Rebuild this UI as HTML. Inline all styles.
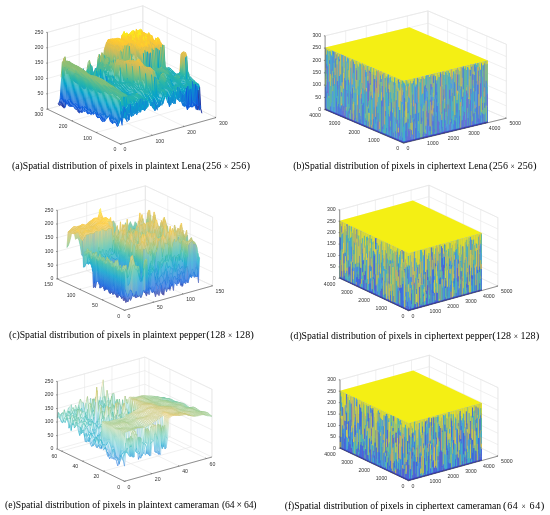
<!DOCTYPE html>
<html><head><meta charset="utf-8"><style>html,body{margin:0;padding:0;background:#fff;}svg{display:block}.ge path{fill:url(#gef);stroke:url(#ges);stroke-width:0.35;vector-effect:non-scaling-stroke;stroke-linejoin:round}.ge .ge0{fill:none;stroke:#4958b1}.ge .ge1{fill:none;stroke:#3374e2}.ge .ge2{fill:none;stroke:#3689de}.ge .ge3{fill:none;stroke:#339ed9}.ge .ge4{fill:none;stroke:#2bb2d2}.ge .ge5{fill:none;stroke:#42bcbc}.ge .ge6{fill:none;stroke:#67c4a5}.ge .ge7{fill:none;stroke:#99c98b}.ge .ge8{fill:none;stroke:#c3c67a}.ge .ge9{fill:none;stroke:#e5c967}.ge .ge10{fill:none;stroke:#fed051}.ge .ge11{fill:none;stroke:#fbed3c}.ga path{fill:url(#gaf);stroke:none;vector-effect:non-scaling-stroke;stroke-linejoin:round}.ga .ga0{fill:none;stroke:#283ba4}.ga .ga1{fill:none;stroke:#0f5cdd}.ga .ga2{fill:none;stroke:#1275d8}.ga .ga3{fill:none;stroke:#0f8dd2}.ga .ga4{fill:none;stroke:#06a4ca}.ga .ga5{fill:none;stroke:#21b1b1}.ga .ga6{fill:none;stroke:#4cba95}.ga .ga7{fill:none;stroke:#87bf77}.ga .ga8{fill:none;stroke:#b8bc63}.ga .ga9{fill:none;stroke:#e0bf4c}.ga .ga10{fill:none;stroke:#fec832}.ga .ga11{fill:none;stroke:#fbea1a}.gc path{fill:url(#gcf);stroke:url(#gcs);stroke-width:0.4;vector-effect:non-scaling-stroke;stroke-linejoin:round}.gc .gc0{fill:none;stroke:#6976bf}.gc .gc1{fill:none;stroke:#578de7}.gc .gc2{fill:none;stroke:#599ee4}.gc .gc3{fill:none;stroke:#57afe0}.gc .gc4{fill:none;stroke:#51bfda}.gc .gc5{fill:none;stroke:#63c8c8}.gc .gc6{fill:none;stroke:#81ceb5}.gc .gc7{fill:none;stroke:#abd2a0}.gc .gc8{fill:none;stroke:#ced092}.gc .gc9{fill:none;stroke:#e9d282}.gc .gc10{fill:none;stroke:#fed870}.gc .gc11{fill:none;stroke:#fcf05f}</style></head>
<body><svg width="550" height="515" viewBox="0 0 550 515"><defs><filter id="sblur" x="-5%" y="-5%" width="110%" height="110%"><feGaussianBlur stdDeviation="0.45"/></filter><linearGradient id="gef" gradientUnits="userSpaceOnUse" x1="0" y1="5" x2="0" y2="250"><stop offset="0%" stop-color="#e7e5f1"/><stop offset="12.5%" stop-color="#e2ebfb"/><stop offset="25%" stop-color="#e3f0fa"/><stop offset="37.5%" stop-color="#e1f4f9"/><stop offset="50%" stop-color="#e6f6f4"/><stop offset="62.5%" stop-color="#f1f7ef"/><stop offset="75%" stop-color="#f9f7eb"/><stop offset="87.5%" stop-color="#fff8e6"/><stop offset="100%" stop-color="#feffe2"/></linearGradient><linearGradient id="ges" gradientUnits="userSpaceOnUse" x1="0" y1="5" x2="0" y2="250"><stop offset="0%" stop-color="#534a99"/><stop offset="12.5%" stop-color="#3374e2"/><stop offset="25%" stop-color="#3794dc"/><stop offset="37.5%" stop-color="#2bb2d2"/><stop offset="50%" stop-color="#4dc2b2"/><stop offset="62.5%" stop-color="#99c98b"/><stop offset="75%" stop-color="#d8c572"/><stop offset="87.5%" stop-color="#fed051"/><stop offset="100%" stop-color="#fafc32"/></linearGradient><linearGradient id="gaf" gradientUnits="userSpaceOnUse" x1="0" y1="25" x2="0" y2="245"><stop offset="0%" stop-color="#352a87"/><stop offset="12.5%" stop-color="#0f5cdd"/><stop offset="25%" stop-color="#1481d6"/><stop offset="37.5%" stop-color="#06a4ca"/><stop offset="50%" stop-color="#2eb7a4"/><stop offset="62.5%" stop-color="#87bf77"/><stop offset="75%" stop-color="#d1bb59"/><stop offset="87.5%" stop-color="#fec832"/><stop offset="100%" stop-color="#f9fb0e"/></linearGradient><linearGradient id="gas" gradientUnits="userSpaceOnUse" x1="0" y1="25" x2="0" y2="245"><stop offset="0%" stop-color="#352a87"/><stop offset="12.5%" stop-color="#0f5cdd"/><stop offset="25%" stop-color="#1481d6"/><stop offset="37.5%" stop-color="#06a4ca"/><stop offset="50%" stop-color="#2eb7a4"/><stop offset="62.5%" stop-color="#87bf77"/><stop offset="75%" stop-color="#d1bb59"/><stop offset="87.5%" stop-color="#fec832"/><stop offset="100%" stop-color="#f9fb0e"/></linearGradient><linearGradient id="gcf" gradientUnits="userSpaceOnUse" x1="0" y1="15" x2="0" y2="245"><stop offset="0%" stop-color="#726aab"/><stop offset="12.5%" stop-color="#578de7"/><stop offset="25%" stop-color="#5aa7e2"/><stop offset="37.5%" stop-color="#51bfda"/><stop offset="50%" stop-color="#6dcdbf"/><stop offset="62.5%" stop-color="#abd2a0"/><stop offset="75%" stop-color="#dfcf8b"/><stop offset="87.5%" stop-color="#fed870"/><stop offset="100%" stop-color="#fbfc56"/></linearGradient><linearGradient id="gcs" gradientUnits="userSpaceOnUse" x1="0" y1="15" x2="0" y2="245"><stop offset="0%" stop-color="#352a87"/><stop offset="12.5%" stop-color="#0f5cdd"/><stop offset="25%" stop-color="#1481d6"/><stop offset="37.5%" stop-color="#06a4ca"/><stop offset="50%" stop-color="#2eb7a4"/><stop offset="62.5%" stop-color="#87bf77"/><stop offset="75%" stop-color="#d1bb59"/><stop offset="87.5%" stop-color="#fec832"/><stop offset="100%" stop-color="#f9fb0e"/></linearGradient></defs>
<rect width="550" height="515" fill="#fff"/>
<path d="M57.3 449.1L57.3 381.4M84.6 441.5L84.6 373.8M112 433.9L112 366.2M139.3 426.3L139.3 358.6M57.3 449.1L144.8 424.8M212 457L144.8 424.8M57.3 435.6L144.8 411.3M212 443.5L144.8 411.3M57.3 422L144.8 397.7M212 429.9L144.8 397.7M57.3 408.5L144.8 384.2M212 416.4L144.8 384.2M57.3 394.9L144.8 370.6M212 402.8L144.8 370.6M57.3 381.4L144.8 357.1M212 389.3L144.8 357.1M212 457L212 389.3M191 446.9L191 379.2M170 436.9L170 369.2M149 426.8L149 359.1M124.5 481.3L57.3 449.1M151.8 473.7L84.6 441.5M179.2 466.1L112 433.9M206.5 458.5L139.3 426.3M124.5 481.3L212 457M103.5 471.2L191 446.9M82.5 461.2L170 436.9M61.5 451.1L149 426.8M144.8 424.8L144.8 357.1M57.3 381.4L144.8 357.1M212 389.3L144.8 357.1M212 457L212 389.3" stroke="#e6e6e6" stroke-width="0.6" fill="none"/>
<g class="ge">
<g transform="matrix(0.3500 -0.0972 0 -0.2708 58.37 449.61)"><path d="M-3 119l4 1 4-3 4 13 4 3 4-11 4-7 4 18 4 11 4 2 4 7 4-51 4 21 4 24 4-15 3 4 4 21 4-45 4-35 4 2 4 48 4-6 4-18 4 16 4 38 4-40 4-14 4 19 4 26 4-42 4 34 4 11 4 37 4 24 4-73 4-43 4-2 4 7 4-64 4-6 4 16 4 26 4 10 4 4 4-6 4-18 3 8 4 17 4 11 4 10 4-27 4-6 4 11 4 3 4 6 4-9 4-17 4-29 4-3 4 11 4 12 4-3 4-1 4 4 3-34-4 16-4 29-4 16-4-32-4-13-4 7-4 19-4 7-4 2-4-13-4 6-4 9-4 10-4 3-4-8-3-5-4-21-4-18-4 8-4 22-4 9-4-11-4-16-4-1-4 0-4 62-4-12-4 18-4 6-4 22-4-1-4-42-4 17-4 1-4 27-4 6-4-16-4 10-4-61-4 15-4-3-4 8-4 12-4 1-4 26-4 1-4 15-3-21-4-42-4 28-4 3-4-13-4 4-4-4-4-1-4 14-4-8-4-7-4 9-4 3-4-21-4 20-4 9Z"/><path class="ge1" d="M176 63l3-22M227 38l3 5M243 57l3-14M247 61l3-34"/><path class="ge2" d="M148 37l3 15M152 31l3 21M156 47l3 6M172 81l3-32M179 71l4-12M207 90l3-25M223 41l3 9M231 49l3 7"/><path class="ge3" d="M160 73l3-4M164 83l3-3M168 87l3-16M183 88l4-8M187 99l3-14M199 76l3 4M203 87l3-16M211 96l3-18M215 87l3-11M219 70l3-1M239 58l3 14"/><path class="ge4" d="M53 132l3-31M84 103l3-2M88 119l3-15M92 157l3-68M120 151l3-46M140 94l3 8M191 109l3-16M195 82l3 8M235 61l3 27"/><path class="ge5" d="M5 117l3-9M13 133l3-7M17 122l3-5M21 115l3 9M29 144l3-26M33 146l3-27M37 153l3-30M41 102l3 17M72 79l3 43M76 127l3-6M80 121l3-12M112 106l3 17M116 140l3-18M132 139l3-13M136 96l3 24M144 101l3 13"/><path class="ge6" d="M-3 119l3 18M1 120l3 8M9 130l3-1M25 133l3-1M45 123l3 9M49 147l3-18M56 136l4 7M100 103l3 37M124 188l3-41M128 212l3-64"/><path class="ge7" d="M60 157l3 7M64 112l3 37M68 77l3 71M96 117l3 33M104 122l3 34M108 148l3 2"/></g>
<g transform="matrix(0.3500 -0.0972 0 -0.2708 59.43 450.12)"><path d="M-3 140l4-9 4-20 4 21 4-3 4-9 4 7 4 8 4-14 4 1 4 4 4-4 4 13 4-3 4-28 3 42 4 21 4-15 4-1 4-26 4-1 4-12 4-8 4 3 4-15 4 61 4-10 4 16 4-6 4-27 4-1 4-18 4 43 4 1 4-22 4-6 4-18 4 12 4-62 4 0 4 1 4 16 4 11 4-9 4-22 4-8 3 18 4 21 4 5 4 8 4-3 4-10 4-9 4-6 4 13 4-2 4-7 4-19 4-7 4 13 4 32 4-16 4-29 4-16 3 1-4 11-4 29-4 26-4-28-4-20-4-1-4 14-4 7-4 7-4-14-4-11-4 21-4 24-4-14-4-17-3-5-4-13-4-16-4 2-4 27-4 18-4-4-4 3-4 5-4-7-4 12-4 15-4 26-4-24-4 14-4-1-4-26-4 19-4 32-4-26-4 5-4 17-4 16-4-42-4 7-4 19-4-2-4 2-4-34-4-17-4 21-4 24-3-12-4-6-4 18-4-7-4 7-4-5-4-8-4-9-4 23-4-25-4 4-4 19-4 0-4-6-4 4-4-12Z"/><path class="ge1" d="M172 52l3-19M176 44l3-13M243 46l3-4M247 30l3 1"/><path class="ge2" d="M168 74l3-14M179 62l4-15M183 83l4-23M187 88l3-23M203 74l3-23M207 68l3-6M219 72l3-10M223 53l3-5M227 46l3 3"/><path class="ge3" d="M68 151l3-64M148 55l3 20M152 55l3 27M156 56l3 21M160 72l3 2M164 83l3-5M191 96l3-14M199 83l3-11M211 81l3-5M215 79l3-10M231 59l3 10M239 75l3-4"/><path class="ge4" d="M72 125l3-21M120 107l3-16M132 129l3-25M140 105l3-3M144 117l3-30M195 93l3 3M235 91l3 6"/><path class="ge5" d="M-3 140l3-23M5 111l3 14M17 120l3-8M21 127l3-19M29 121l3-11M33 122l3-3M37 126l3 1M45 135l3-10M53 104l3 10M56 146l4-26M64 152l3-44M88 107l3 12M92 92l3 20M104 159l3-38M108 153l3-37M116 125l3-15M124 150l3-33M128 151l3-33"/><path class="ge6" d="M1 131l3-2M9 132l3-1M13 129l3 2M25 135l3-2M41 122l3 10M49 132l3 0M60 167l3-35M76 124l3 14M80 112l3 24M84 104l3 34M100 143l3-5M112 126l3 16M136 123l3 5"/><path class="ge7" d="M96 153l3 1"/></g>
<g transform="matrix(0.3500 -0.0972 0 -0.2708 60.50 450.63)"><path d="M-3 120l4 12 4-4 4 6 4 0 4-19 4-4 4 25 4-23 4 9 4 8 4 5 4-7 4 7 4-18 3 6 4 12 4-24 4-21 4 17 4 34 4-2 4 2 4-19 4-7 4 42 4-16 4-17 4-5 4 26 4-32 4-19 4 26 4 1 4-14 4 24 4-26 4-15 4-13 4 8 4-5 4-3 4 4 4-19 4-26 4-2 3 16 4 13 4 5 4 17 4 14 4-24 4-21 4 11 4 14 4-7 4-7 4-14 4 1 4 20 4 28 4-26 4-29 4-11 3 18-4 2-4 4-4 18-4-1-4-14-4-3-4 4-4 3-4 14-4-8-4-31-4 21-4 17-4-9-4-16-3-11-4 8-4 5-4 2-4 2-4 13-4 8-4 10-4-8-4-17-4 29-4-1-4 31-4-21-4 15-4 37-4-33-4 3-4-24-4-38-4 47-4-1-4-11-4 28-4 10-4-34-4-3-4 26-4-1-4-28-4-3-4 3-3-5-4 31-4 19-4-14-4 5-4-14-4 28-4-7-4-15-4-15-4 8-4 8-4 3-4 5-4 4-4-22Z"/><path class="ge1" d="M183 63l4-21M203 54l3-14"/><path class="ge2" d="M108 119l3-56M148 77l3-12M168 62l3-3M172 36l3 21M176 34l3 21M179 50l4 0M187 68l3-15M199 75l3-14M215 72l3-7M219 65l3-3M223 51l3 7M227 52l3 9M239 74l3-16M243 45l3 9M247 34l3 18"/><path class="ge3" d="M152 85l3-3M160 77l3 3M164 81l3-9M191 85l3-16M195 99l3-21M207 65l3 6M211 79l3 0M231 72l3 3M235 100l3-24"/><path class="ge4" d="M56 123l4-32M60 135l3-39M64 111l3-18M68 90l3 6M80 139l3-40M84 141l3-39M96 157l3-59M112 145l3-44M132 107l3-4M140 105l3-12M144 90l3 4M156 80l3 10"/><path class="ge5" d="M-3 120l3-5M13 134l3-9M17 115l3 2M21 111l3-2M25 136l3-12M37 130l3-12M45 128l3-1M53 117l3 5M72 107l3 17M76 141l3-16M92 115l3 11M100 141l3-32M104 124l3-14M116 113l3 12M120 94l3 28M128 121l3-3M136 131l3-7"/><path class="ge6" d="M1 132l3 5M5 128l3 5M9 134l3-6M29 113l3 26M33 122l3 24M41 135l3-3M49 135l3 6M88 122l3 14"/><path class="ge7" d="M124 120l3 35"/></g>
<g transform="matrix(0.3500 -0.0972 0 -0.2708 61.57 451.14)"><path d="M-3 118l4 22 4-4 4-5 4-3 4-8 4-8 4 15 4 15 4 7 4-28 4 14 4-5 4 14 4-19 3-31 4 5 4-3 4 3 4 28 4 1 4-26 4 3 4 34 4-10 4-28 4 11 4 1 4-47 4 38 4 24 4-3 4 33 4-37 4-15 4 21 4-31 4 1 4-29 4 17 4 8 4-10 4-8 4-13 4-2 4-2 3-5 4-8 4 11 4 16 4 9 4-17 4-21 4 31 4 8 4-14 4-3 4-4 4 3 4 14 4 1 4-18 4-4 4-2 3-7-4 17-4-12-4 0-4 25-4-3-4-5-4-12-4-7-4 6-4 0-4-21-4 10-4 3-4 11-4 3-3 3-4 5-4-2-4 7-4-6-4-2-4 8-4 6-4-17-4-10-4 57-4 38-4-22-4-20-4 1-4-1-4 6-4 8-4 24-4-48-4 13-4 27-4-33-4-27-4 34-4 13-4 12-4-23-4 28-4 9-4-36-4-2-3-19-4-2-4 44-4-1-4 1-4-24-4 24-4 0-4-11-4 1-4 13-4-19-4 8-4 22-4-27-4-16Z"/><path class="ge1" d="M199 64l3-18M203 43l3-7"/><path class="ge2" d="M148 68l3-13M152 85l3-20M183 45l4 21M187 56l3 7M191 72l3-12M195 81l3-32M207 74l3-17M211 82l3-25M215 68l3-17M219 65l3-7M235 79l3-26M239 61l3-8M243 57l3 8M247 55l3-7"/><path class="ge3" d="M92 129l3-51M156 93l3-11M160 83l3-7M164 75l3-7M168 62l3 8M172 60l3 16M176 58l3 11M179 53l4 18M223 61l3 9M227 64l3 11M231 78l3 0"/><path class="ge4" d="M-3 118l3-11M53 125l3-33M56 94l4 0M96 101l3 4M108 66l3 32"/><path class="ge5" d="M1 140l3-17M13 128l3-8M21 112l3 14M25 127l3-2M37 121l3-9M60 99l3 14M64 96l3 19M76 128l3-14M84 105l3 20M88 139l3-27M104 113l3-2M116 128l3-6M120 125l3-11M124 158l3-50M128 121l3-12M132 106l3 2M144 97l3 15"/><path class="ge6" d="M9 131l3-3M17 120l3 19M29 142l3-6M33 149l3-13M41 135l3 1M45 130l3 5M49 144l3-8M72 127l3 15M80 102l3 35M100 112l3 26M112 104l3 42M136 127l3 1"/><path class="ge7" d="M5 136l3 14M68 99l3 52M140 96l3 54"/></g>
<g transform="matrix(0.3500 -0.0972 0 -0.2708 62.63 451.66)"><path d="M-3 110l4 16 4 27 4-22 4-8 4 18 4-12 4-1 4 11 4 0 4-24 4 24 4-1 4 1 4-44 3 2 4 19 4 1 4 37 4-9 4-28 4 23 4-12 4-13 4-34 4 27 4 33 4-27 4-13 4 48 4-24 4-8 4-6 4 1 4-1 4 20 4 22 4-38 4-57 4 10 4 17 4-6 4-8 4 2 4 6 4-7 3 2 4-5 4-3 4-3 4-11 4-3 4-10 4 21 4 0 4-6 4 7 4 12 4 5 4 3 4-25 4 0 4 12 4-17 3 12-4 1-4-4-4 15-4 19-4-9-4-4-4-14-4-6-4-2-4 1-4-6-4 6-4 0-4 2-4-6-3 14-4 8-4-10-4 14-4 5-4-10-4-9-4 8-4-2-4-5-4 55-4 17-4-22-4-15-4 48-4 29-4-53-4-26-4 1-4-29-4-8-4 22-4 13-4-9-4 25-4 9-4 0-4-36-4 11-4 77-4-22-4-30-3-31-4-3-4 22-4 3-4 5-4 6-4-2-4-1-4 9-4-8-4-14-4 6-4 4-4-2-4-5-4-8Z"/><path class="ge2" d="M104 114l3-48M187 66l3-10M191 63l3-1M195 52l3 8M199 49l3 11M203 39l3 15M207 60l3 0M211 60l3-1M215 54l3 7M239 56l3 4M243 68l3-4M247 51l3 12"/><path class="ge3" d="M108 101l3-27M148 58l3 11M152 68l3 6M156 85l3-9M160 79l3-11M164 71l3 6M172 79l3 3M176 72l3-4M179 74l4 4M183 69l4 1M219 61l3 6M223 73l3 8M227 78l3 7M235 56l3 19"/><path class="ge4" d="M-3 110l3-3M53 95l3-3M56 97l4-2M72 145l3-44M76 117l3-27M92 81l3 11M96 108l3-7M100 141l3-53M112 149l3-46M116 125l3-23M132 111l3-7M168 73l3 14M231 81l3 13"/><path class="ge5" d="M1 126l3-11M5 153l3-33M9 131l3-9M13 123l3-5M17 141l3-29M21 129l3-3M29 139l3-14M33 139l3-13M41 139l3-17M45 138l3-21M49 139l3-25M60 116l3 10M80 140l3-14M84 128l3-2M88 115l3 2M136 131l3-12M144 115l3 9"/><path class="ge6" d="M25 128l3 6M37 115l3 13M120 117l3 11M140 153l3-12"/><path class="ge7" d="M64 117l3 39M128 112l3 40"/><path class="ge8" d="M68 154l3 24M124 111l3 70"/></g>
<g transform="matrix(0.3500 -0.0972 0 -0.2708 63.70 452.17)"><path d="M-3 110l4 8 4 5 4 2 4-4 4-6 4 14 4 8 4-9 4 1 4 2 4-6 4-5 4-3 4-22 3 3 4 31 4 30 4 22 4-77 4-11 4 36 4 0 4-9 4-25 4 9 4-13 4-22 4 8 4 29 4-1 4 26 4 53 4-29 4-48 4 15 4 22 4-17 4-55 4 5 4 2 4-8 4 9 4 10 4-5 4-14 3 10 4-8 4-14 4 6 4-2 4 0 4-6 4 6 4-1 4 2 4 6 4 14 4 4 4 9 4-19 4-15 4 4 4-1 3 19-4-16-4 11-4 15-4-5-4-10-4-11-4 2-4 1-4 10-4 2-4-10-4 3-4 9-4-17-4-26-3 16-4 20-4 1-4 8-4-9-4-14-4-14-4 9-4 11-4-2-4 62-4 35-4 0-4-47-4 8-4 18-4-23-4-11-4 17-4-34-4-8-4 35-4-30-4 93-4-42-4-26-4 50-4-68-4 8-4 30-4-11-4-3-3-27-4-6-4 15-4 18-4 6-4-5-4-3-4-6-4 13-4-4-4-20-4 9-4 21-4-12-4-13-4 12Z"/><path class="ge1" d="M187 59l3-16"/><path class="ge2" d="M156 79l3-19M160 71l3-20M164 80l3-15M183 73l4-14"/><path class="ge3" d="M104 69l3 17M148 72l3-3M152 77l3-6M168 90l3-11M176 71l3 9M179 81l4-2M191 65l3 4M195 63l3 23M199 63l3 14M203 57l3 17M207 63l3 21M211 62l3 20M215 64l3 8M219 70l3 1M223 84l3-15M227 88l3-8M239 63l3 17M243 67l3 2M247 66l3 19"/><path class="ge4" d="M17 115l3-12M49 117l3-13M53 95l3-6M56 98l4-3M72 104l3 2M76 93l3 5M96 104l3-13M108 77l3 17M172 85l3 3M231 97l3-7M235 78l3 17"/><path class="ge5" d="M-3 110l3 10M1 118l3-10M5 123l3-2M13 121l3-9M21 129l3-6M25 137l3-10M29 128l3-14M33 129l3-9M37 131l3-8M45 120l3 2M60 129l3-7M64 159l3-34M84 129l3-13M100 91l3 30M116 105l3 6M120 131l3-9M128 155l3-28M132 107l3 12"/><path class="ge6" d="M9 125l3 8M41 125l3 3M68 181l3-45M88 120l3 22M112 106l3 22M124 184l3-39M144 127l3 4"/><path class="ge7" d="M80 129l3 37M136 122l3 44M140 144l3 22"/><path class="ge8" d="M92 95l3 89"/></g>
<g transform="matrix(0.3500 -0.0972 0 -0.2708 64.77 452.68)"><path d="M-3 123l4-12 4 13 4 12 4-21 4-9 4 20 4 4 4-13 4 6 4 3 4 5 4-6 4-18 4-15 3 6 4 27 4 3 4 11 4-30 4-8 4 68 4-50 4 26 4 42 4-93 4 30 4-35 4 8 4 34 4-17 4 11 4 23 4-18 4-8 4 47 4 0 4-35 4-62 4 2 4-11 4-9 4 14 4 14 4 9 4-8 3-1 4-20 4-16 4 25 4 18 4-9 4-3 4 10 4-2 4-10 4-1 4-2 4 11 4 10 4 5 4-15 4-11 4 16 3-3-4-13-4 14-4 13-4-22-4-12-4-15-4 2-4 9-4 19-4 11-4 4-4-10-4 0-4-19-4-19-3 18-4 22-4 6-4 0-4-28-4-21-4-10-4 9-4 17-4 12-4 65-4-21-4 4-4-30-4 2-4-13-4 16-4-7-4 25-4-40-4 25-4 21-4 2-4 9-4 19-4-47-4 26-4-10-4 36-4-14-4-42-4 11-3-31-4 6-4 39-4 7-4 6-4-16-4 12-4-14-4-6-4 11-4 4-4 5-4-1-4 5-4-16-4 9Z"/><path class="ge1" d="M156 63l3-20M160 54l3-20M164 68l3-24"/><path class="ge2" d="M152 74l3-14M168 82l3-17M183 62l4 3M187 46l3 1M191 71l3-5M215 75l3-14M219 74l3-22M223 72l3-22M227 83l3-18"/><path class="ge3" d="M53 92l3-8M56 98l4-20M108 97l3-24M124 148l3-69M148 72l3 0M195 89l3-4M199 80l3 5M211 85l3-5M231 93l3-16M239 83l3 3M243 72l3 0M247 88l3-3"/><path class="ge4" d="M64 128l3-30M84 119l3-17M104 89l3 9M116 114l3-26M120 125l3-30M128 130l3-38M132 122l3-32M172 91l3 2M176 83l3 10M179 82l4 5M203 77l3 18M207 87l3 4M235 98l3 1"/><path class="ge5" d="M1 111l3 9M17 106l3 21M21 126l3-3M25 130l3-18M29 117l3 1M37 126l3-6M49 107l3 16M60 125l3-16M76 101l3 17M96 94l3 27M100 124l3-5M112 131l3-18M136 169l3-49M140 169l3-53"/><path class="ge6" d="M-3 123l3 6M5 124l3 12M9 136l3-5M13 115l3 17M33 123l3 9M41 131l3 5M45 125l3 5M68 139l3 1M80 169l3-41M92 187l3-57M144 134l3 3"/><path class="ge7" d="M72 109l3 45M88 145l3 4"/></g>
<g transform="matrix(0.3500 -0.0972 0 -0.2708 65.83 453.19)"><path d="M-3 132l4-9 4 16 4-5 4 1 4-5 4-4 4-11 4 6 4 14 4-12 4 16 4-6 4-7 4-39 3-6 4 31 4-11 4 42 4 14 4-36 4 10 4-26 4 47 4-19 4-9 4-2 4-21 4-25 4 40 4-25 4 7 4-16 4 13 4-2 4 30 4-4 4 21 4-65 4-12 4-17 4-9 4 10 4 21 4 28 4 0 3-6 4-22 4-18 4 19 4 19 4 0 4 10 4-4 4-11 4-19 4-9 4-2 4 15 4 12 4 22 4-13 4-14 4 13 3-36-4 9-4 16-4 13-4-21-4-10-4-5-4 2-4 5-4 15-4 8-4 2-4-17-4-5-4-3-4-7-3 8-4 14-4 3-4 2-4-30-4-25-4-2-4 15-4 19-4 13-4 74-4-14-4-8-4-18-4 58-4-39-4-1-4-7-4 18-4-12-4 2-4-45-4 48-4-25-4-32-4-2-4 37-4 19-4 16-4 9-4-40-4 29-3-33-4-21-4 47-4-3-4-3-4 16-4 7-4-18-4 2-4-9-4-1-4-16-4 24-4 8-4-4-4 3Z"/><path class="ge0" d="M160 37l3-13"/><path class="ge1" d="M156 46l3-7M164 47l3-21"/><path class="ge2" d="M152 63l3-5M168 68l3-17M183 68l4-6M187 50l3 4M191 69l3-8M195 88l3-24M215 64l3-3M219 55l3 1M223 53l3 1M227 68l3-9M243 75l3-14M247 88l3-36"/><path class="ge3" d="M53 87l3-3M84 105l3-37M88 152l3-82M100 122l3-43M148 75l3-4M172 96l3-15M176 96l3-17M179 90l4-14M199 88l3-19M203 98l3-12M207 94l3-10M211 83l3-7M231 80l3-11M239 89l3-12"/><path class="ge4" d="M13 135l3-29M56 81l4 24M80 131l3-26M92 133l3-31M132 93l3 12M235 102l3-12"/><path class="ge5" d="M17 130l3-8M21 126l3-3M41 139l3-14M64 101l3 8M76 121l3 3M96 124l3 3M104 101l3 23M108 76l3 46M116 91l3 25M120 98l3 25M124 82l3 42M136 123l3 0"/><path class="ge6" d="M-3 132l3 5M1 123l3 11M5 139l3-1M9 134l3-4M25 115l3 17M29 121l3 9M33 135l3 13M37 123l3 18M45 133l3-5M49 126l3 5M60 112l3 26M72 157l3-17M112 116l3 18M140 119l3 12M144 140l3 5"/><path class="ge7" d="M68 143l3 6M128 95l3 68"/></g>
<g transform="matrix(0.3500 -0.0972 0 -0.2708 66.90 453.70)"><path d="M-3 140l4-3 4 4 4-8 4-24 4 15 4 2 4 9 4-2 4 18 4-7 4-16 4 3 4 3 4-47 3 21 4 33 4-29 4 40 4-9 4-16 4-19 4-37 4 2 4 32 4 25 4-48 4 45 4-2 4 12 4-18 4 7 4 1 4 39 4-58 4 18 4 8 4 14 4-74 4-13 4-19 4-15 4 2 4 25 4 30 4-2 3-3 4-14 4-8 4 7 4 3 4 5 4 17 4-2 4-8 4-15 4-5 4-2 4 5 4 10 4 21 4-13 4-16 4-9 3-28-4 4-4 14-4 13-4-11-4 3-4 11-4-4-4 3-4 8-4 4-4-10-4-6-4-3-4 3-4 6-3-4-4 2-4 4-4 1-4-16-4-8-4 0-4 5-4 8-4 10-4 57-4 15-4-44-4 14-4 28-4-42-4-3-4 60-4 5-4-40-4 33-4-51-4 1-4 10-4-6-4-43-4 34-4 9-4 13-4 10-4-6-4 29-3-38-4 6-4 16-4 3-4-6-4 19-4-8-4-27-4 21-4-5-4-11-4-9-4 14-4 5-4-12-4 19Z"/><path class="ge1" d="M156 42l3 4M160 27l3 14M164 29l3 12M239 80l3-35M243 64l3-33M247 55l3-28"/><path class="ge2" d="M84 71l3-13M148 74l3-10M152 61l3-7M168 54l3-5M172 84l3-19M176 82l3-18M179 79l4-19M183 65l4-7M187 57l3 5M191 64l3-8M195 67l3-14M199 72l3-16M203 89l3-27M215 64l3-4M219 59l3-2M223 57l3 4M227 62l3-12M231 72l3-25M235 93l3-35"/><path class="ge3" d="M207 87l3-15M211 79l3-11"/><path class="ge4" d="M76 127l3-26M80 108l3-16M88 73l3 28M92 105l3 2M96 130l3-33M100 82l3 14M120 126l3-37M124 127l3-35M132 108l3-2M136 126l3-34"/><path class="ge5" d="M1 137l3-22M5 141l3-14M9 133l3-11M13 109l3-1M17 124l3-7M29 133l3-21M53 87l3 28M56 108l4 1M64 112l3 6M68 152l3-28M72 143l3-29M108 125l3-11M144 148l3-27"/><path class="ge6" d="M-3 140l3-6M21 126l3 2M25 135l3-2M33 151l3-12M37 144l3 3M41 128l3 0M45 131l3 3M49 134l3-3M60 141l3 6M104 127l3 20M128 166l3-32M140 134l3 2"/><path class="ge7" d="M112 137l3 17M116 119l3 30"/></g>
<g transform="matrix(0.3500 -0.0972 0 -0.2708 67.97 454.21)"><path d="M-3 137l4-19 4 12 4-5 4-14 4 9 4 11 4 5 4-21 4 27 4 8 4-19 4 6 4-3 4-16 3-6 4 38 4-29 4 6 4-10 4-13 4-9 4-34 4 43 4 6 4-10 4-1 4 51 4-33 4 40 4-5 4-60 4 2 4 43 4-28 4-14 4 44 4-15 4-57 4-11 4-7 4-5 4 0 4 8 4 16 4-1 3-4 4-2 4 4 4-6 4-3 4 2 4 7 4 10 4-4 4-8 4-3 4 4 4-11 4-3 4 11 4-14 4-13 4-4 3-4-4 5-4 6-4 6-4 6-4 11-4 7-4-3-4 3-4-2-4-8-4-7-4 5-4 11-4 0-4 13-3-19-4-14-4 8-4 15-4 3-4-5-4-12-4-7-4 7-4 11-4 85-4-32-4-26-4 15-4-4-4-8-4-11-4 31-4 27-4-39-4-5-4 9-4 5-4 33-4-20-4-17-4-4-4 57-4-31-4 1-4-12-4 47-3-5-4-75-4 18-4 35-4 3-4-7-4-8-4-29-4 17-4 16-4-23-4 19-4-22-4 17-4 9-4-4Z"/><path class="ge1" d="M235 61l3-18M239 47l3-10M243 34l3-3M247 30l3-4"/><path class="ge2" d="M148 67l3-1M152 56l3-1M156 49l3-1M160 44l3 11M176 67l3-13M179 63l4-17M183 61l4-1M191 59l3 7M195 56l3 10M199 58l3-3M203 65l3-15M207 75l3-18M211 71l3-6M219 60l3 4M227 53l3 7M231 50l3-1"/><path class="ge3" d="M120 92l3-7M164 44l3 23M168 52l3 20M172 68l3 1M187 65l3 14M215 63l3 4M223 64l3 3"/><path class="ge4" d="M9 125l3-19M29 115l3-16M49 134l3-29M53 118l3-31M80 95l3 10M104 150l3-51M108 117l3-13M124 94l3 2M128 137l3-33M136 95l3-2"/><path class="ge5" d="M5 130l3-7M17 120l3-11M25 136l3-20M64 121l3-1M84 61l3 48M88 104l3 22M96 100l3 13M100 99l3 9M116 152l3-36M132 109l3-1M140 139l3-20"/><path class="ge6" d="M-3 137l3-9M1 118l3 14M13 111l3 17M21 131l3 1M33 142l3-14M37 150l3-14M41 131l3 12M45 137l3 3M68 127l3 5M72 117l3 14M92 110l3 36M112 157l3-14"/><path class="ge7" d="M56 112l4 50M60 150l3 17M76 104l3 58M144 124l3 27"/></g>
<g transform="matrix(0.3500 -0.0972 0 -0.2708 69.03 454.72)"><path d="M-3 131l4 4 4-9 4-17 4 22 4-19 4 23 4-16 4-17 4 29 4 8 4 7 4-3 4-35 4-18 3 75 4 5 4-47 4 11 4 0 4 31 4-57 4 4 4 17 4 20 4-33 4-5 4-9 4 5 4 39 4-27 4-31 4 11 4 8 4 4 4-15 4 26 4 32 4-85 4-11 4-8 4 8 4 12 4 5 4-3 4-15 3-8 4 14 4 19 4-13 4 0 4-11 4-5 4 7 4 8 4 2 4-3 4 3 4-7 4-11 4-6 4-6 4-6 4-5 3 30-4 4-4-2-4-5-4 5-4 4-4-1-4 4-4 2-4-4-4-9-4 2-4 3-4 1-4 6-4 12-3-32-4-16-4 21-4 19-4 9-4-10-4-21-4-5-4 13-4 8-4 63-4-9-4-24-4 13-4-4-4-5-4-27-4 36-4 29-4-12-4-41-4 15-4 32-4 11-4-14-4-8-4 11-4 88-4-115-4 1-4-11-4 61-3-26-4-67-4 37-4 11-4 13-4-6-4-1-4-18-4 29-4 14-4-26-4-6-4-6-4 14-4 11-4-32Z"/><path class="ge1" d="M179 49l4-16"/><path class="ge2" d="M53 90l3-26M152 58l3 1M156 50l3-4M160 58l3-7M176 57l3-3M183 63l4-14M195 69l3-6M199 58l3 4M203 53l3 6M207 60l3-3M211 68l3-2M223 70l3-6M227 63l3 2M231 52l3 9M235 46l3 10M239 40l3 21M243 34l3 29M247 29l3 30"/><path class="ge3" d="M104 102l3-16M120 88l3-14M148 69l3-2M164 70l3 2M168 75l3 7M172 72l3 1M187 82l3-1M191 69l3 0M215 70l3 0M219 67l3 1"/><path class="ge4" d="M-3 131l3-33M9 109l3-4M29 102l3-2M49 108l3-7M64 123l3-27M72 134l3-28M100 111l3-10M124 99l3 2M128 107l3-1M136 96l3 1"/><path class="ge5" d="M5 126l3-7M13 131l3-20M17 112l3 5M33 131l3-13M37 139l3-20M41 146l3-21M45 143l3-31M68 134l3-27M84 112l3 10M108 107l3 20M116 119l3-9M132 111l3-1M140 122l3-1"/><path class="ge6" d="M1 135l3-5M21 135l3 8M25 119l3 10M56 165l4-34M80 108l3 25M88 129l3 1M92 149l3-5M96 116l3 17M112 146l3-7M144 154l3-24"/><path class="ge7" d="M60 170l3-13"/><path class="ge10" d="M76 165l3 56"/></g>
<g transform="matrix(0.3500 -0.0972 0 -0.2708 70.10 455.23)"><path d="M-3 101l4 32 4-11 4-14 4 6 4 6 4 26 4-14 4-29 4 18 4 1 4 6 4-13 4-11 4-37 3 67 4 26 4-61 4 11 4-1 4 115 4-88 4-11 4 8 4 14 4-11 4-32 4-15 4 41 4 12 4-29 4-36 4 27 4 5 4 4 4-13 4 24 4 8 4-62 4-8 4-13 4 5 4 21 4 10 4-9 4-19 3-21 4 16 4 32 4-12 4-6 4-1 4-3 4-2 4 9 4 4 4-2 4-4 4 1 4-4 4-5 4 5 4 2 4-4 3 27-4-2-4-13-4-16-4-3-4 5-4 8-4 6-4-11-4-9-4 0-4 3-4-5-4-6-4 14-4 9-3-20-4-12-4 24-4 15-4 14-4-16-4-24-4-7-4 6-4 16-4 51-4-43-4 19-4 59-4-10-4-31-4-1-4 5-4 48-4-24-4-33-4-7-4 22-4-13-4-28-4 11-4 46-4-32-4 3-4 29-4-16-4 22-3-28-4-36-4 22-4-2-4 30-4-17-4 6-4 1-4 23-4 21-4-30-4-13-4-2-4 26-4 1-4-30Z"/><path class="ge1" d="M156 49l3-6M179 36l4 1"/><path class="ge2" d="M148 70l3-5M152 62l3-13M160 54l3-4M176 57l3 4M183 52l4-3M191 72l3-12M195 66l3-20M199 65l3-13M203 62l3-5M207 60l3-6M211 69l3-15M215 73l3-10M227 68l3-8M231 64l3-9M235 59l3-1"/><path class="ge3" d="M53 67l3 11M88 133l3-54M140 124l3-51M164 75l3-1M172 76l3 0M187 84l3-15M219 71l3 3M223 67l3 1M239 64l3 10"/><path class="ge4" d="M45 115l3-17M49 104l3-4M72 109l3-2M76 224l3-120M84 125l3-35M92 147l3-40M100 104l3-6M104 89l3 16M136 100l3-8M168 85l3 5M243 66l3 21M247 62l3 27"/><path class="ge5" d="M-3 101l3 13M9 108l3 9M13 114l3 5M29 103l3 15M33 121l3-4M37 122l3-11M56 134l4-20M64 99l3 21M96 136l3-16M116 113l3 1M120 77l3 32M124 104l3 6M144 132l3-16"/><path class="ge6" d="M1 133l3 11M5 122l3 21M17 120l3 12M25 132l3 9M41 128l3 0M60 160l3-18M68 110l3 26M80 136l3 0M108 130l3 8M128 109l3 32"/><path class="ge7" d="M21 146l3 16M112 142l3 20M132 113l3 38"/></g>
<g transform="matrix(0.3500 -0.0972 0 -0.2708 71.17 455.74)"><path d="M-3 117l4 30 4-1 4-26 4 2 4 13 4 30 4-21 4-23 4-1 4-6 4 17 4-30 4 2 4-22 3 36 4 28 4-22 4 16 4-29 4-3 4 32 4-46 4-11 4 28 4 13 4-22 4 7 4 33 4 24 4-48 4-6 4 2 4 31 4 9 4-58 4-19 4 43 4-51 4-16 4-6 4 7 4 24 4 16 4-14 4-15 3-24 4 12 4 20 4-9 4-14 4 6 4 5 4-3 4 0 4 9 4 11 4-6 4-8 4-5 4 3 4 16 4 13 4 2 3-23-4 4-4-9-4-13-4-5-4 0-4 19-4 17-4-16-4-16-4 3-4-3-4-4-4-13-4 6-4 17-3-2-4-10-4 18-4 5-4 8-4-16-4-20-4 1-4 1-4 13-4 100-4-63-4-24-4 42-4 52-4-46-4 22-4-20-4 4-4-13-4-6-4-28-4 2-4 2-4-13-4 40-4 22-4-29-4 19-4 33-4-18-4-21-3-20-4-29-4 37-4 20-4-12-4-3-4 20-4 3-4 5-4-9-4-1-4-7-4 6-4 17-4-2-4-43Z"/><path class="ge1" d="M152 52l3-11M156 46l3-6M160 53l3-14M179 40l4 4M191 63l3-24M195 49l3-16M199 55l3-9"/><path class="ge2" d="M53 81l3-19M88 82l3-17M148 68l3-14M164 77l3-18M176 64l3-2M183 52l4 2M187 72l3-16M203 60l3-10M207 57l3-4M211 57l3-7M215 66l3 0M223 71l3-6M227 63l3-17M231 58l3-12M235 61l3-10M239 77l3-13"/><path class="ge3" d="M92 110l3-32M96 123l3-47M100 101l3-27M136 95l3-28M168 93l3-18M172 79l3-12M219 77l3 5M243 90l3-17M247 92l3-23"/><path class="ge4" d="M-3 117l3-24M37 114l3-10M49 103l3-4M56 117l4-26M76 107l3-9M84 93l3 12M104 108l3-6M140 76l3 15"/><path class="ge5" d="M9 120l3 1M13 122l3-7M17 135l3-13M21 165l3-42M29 121l3 6M33 120l3 4M41 131l3-24M45 101l3 18M60 145l3-34M72 110l3 7M80 139l3-12M108 141l3-33M112 165l3-44M116 117l3 0M124 113l3 2M132 153l3-44"/><path class="ge6" d="M1 147l3-11M5 146l3-8M25 144l3-12M64 123l3 9M120 111l3 26"/><path class="ge7" d="M68 139l3 11M128 144l3 17M144 119l3 35"/></g>
<g transform="matrix(0.3500 -0.0972 0 -0.2708 72.23 456.26)"><path d="M-3 96l4 43 4 2 4-17 4-6 4 7 4 1 4 9 4-5 4-3 4-20 4 3 4 12 4-20 4-37 3 29 4 20 4 21 4 18 4-33 4-19 4 29 4-22 4-40 4 13 4-2 4-2 4 28 4 6 4 13 4-4 4 20 4-22 4 46 4-52 4-42 4 24 4 63 4-100 4-13 4-1 4-1 4 20 4 16 4-8 4-5 3-18 4 9 4 3 4-17 4-6 4 13 4 4 4 3 4-3 4 16 4 16 4-17 4-19 4 0 4 5 4 13 4 9 4-4 3-26-4 14-4-9-4-3-4 4-4-15-4 10-4 34-4-6-4-20-4 5-4 2-4-5-4-23-4-10-4 20-3 13-4-7-4 8-4 10-4 4-4-8-4-16-4-2-4-6-4 5-4 64-4-19-4-26-4 50-4 4-4-50-4 53-4-26-4-38-4 45-4-12-4 9-4 13-4-28-4-18-4 46-4 10-4-4-4 24-4 75-4-41-4-54-3-26-4-12-4 22-4 13-4-17-4-3-4 4-4 13-4-2-4-8-4 12-4-6-4 2-4 21-4-16-4 5Z"/><path class="ge0" d="M191 42l3-18"/><path class="ge1" d="M148 57l3-12M152 44l3-4M156 43l3 3M187 59l3-15M195 36l3-2M227 49l3-12M247 72l3-26"/><path class="ge2" d="M88 68l3-2M112 124l3-67M136 70l3-6M160 42l3 6M164 62l3 2M176 65l3-7M179 47l4 3M183 56l4 1M199 49l3 8M203 53l3 9M207 56l3 4M211 53l3 2M223 68l3-21M231 49l3 3M235 54l3-6M239 67l3-16M243 76l3-16"/><path class="ge3" d="M53 65l3 19M92 81l3 3M124 118l3-50M168 78l3-6M172 70l3-2M215 69l3 6M219 85l3-4"/><path class="ge4" d="M21 126l3-20M33 127l3-24M37 107l3-8M41 110l3-8M49 102l3 4M56 94l4 2M100 77l3 22M104 105l3-15M108 111l3-9M116 120l3-25M140 94l3-4"/><path class="ge5" d="M-3 96l3 28M1 139l3-20M9 124l3-10M13 118l3-6M17 125l3-7M25 135l3-21M29 130l3-14M45 122l3-3M60 114l3 8M76 101l3 17M80 130l3-8M84 108l3 4M96 79l3 33M120 140l3-19M128 164l3-46M132 112l3 2M144 157l3-48"/><path class="ge6" d="M5 141l3-6M72 120l3 22"/><path class="ge8" d="M64 135l3 41"/><path class="ge10" d="M68 153l3 64"/></g>
<g transform="matrix(0.3500 -0.0972 0 -0.2708 73.30 456.77)"><path d="M-3 127l4-5 4 16 4-21 4-2 4 6 4-12 4 8 4 2 4-13 4-4 4 3 4 17 4-13 4-22 3 12 4 26 4 54 4 41 4-75 4-24 4 4 4-10 4-46 4 18 4 28 4-13 4-9 4 12 4-45 4 37 4 27 4-53 4 50 4-4 4-50 4 26 4 19 4-64 4-5 4 6 4 2 4 16 4 8 4-4 4-10 3-8 4 7 4-13 4-20 4 10 4 23 4 5 4-2 4-5 4 20 4 6 4-34 4-11 4 16 4-4 4 3 4 9 4-14 3 18-4 5-4-15-4-3-4 9-4-24-4-12-4 28-4 2-4-12-4 10-4 13-4-4-4-24-4-17-4 28-3 15-4-13-4 3-4 19-4 4-4-13-4-8-4 4-4-10-4 4-4 66-4-16-4 0-4 21-4-28-4-11-4 44-4-20-4-9-4 53-4-56-4 32-4-19-4-40-4 25-4-7-4 20-4 51-4 1-4-25-4-62-4 3-3 5-4 8-4 27-4-5-4-3-4 6-4-11-4 7-4-13-4 15-4-2-4-2-4 1-4 19-4-1-4 5Z"/><path class="ge0" d="M191 27l3-4"/><path class="ge1" d="M195 37l3 3M211 58l3-13M223 50l3-23M227 39l3 0"/><path class="ge2" d="M148 48l3 8M152 43l3 9M156 49l3 13M160 51l3 7M164 67l3-1M176 61l3-5M179 53l4 0M187 47l3 4M199 60l3 4M207 63l3-8M215 78l3-21M219 84l3-29M231 55l3 8M235 51l3 3M239 54l3 3"/><path class="ge3" d="M56 99l4-15M60 125l3-46M64 179l3-103M92 87l3-14M168 75l3 4M172 71l3 4M183 60l4 6M203 65l3 3M243 63l3 9M247 49l3 18"/><path class="ge4" d="M25 117l3-17M33 106l3 0M53 87l3 5M84 115l3-24M88 69l3 29M104 93l3 7M112 60l3 43M124 71l3 17M128 121l3-22M136 67l3 39M140 93l3 13"/><path class="ge5" d="M9 117l3-5M13 115l3-4M17 121l3-8M21 109l3 6M29 119l3-6M37 102l3 15M41 105l3 6M45 122l3-8M49 109l3 10M80 125l3-14M96 115l3-2M116 97l3 15M132 117l3 10M144 112l3 10"/><path class="ge6" d="M-3 127l3 8M1 122l3 8M5 138l3-7M68 220l3-82M100 102l3 30M120 124l3 8"/><path class="ge7" d="M72 145l3 18M76 121l3 41M108 105l3 51"/></g>
<g transform="matrix(0.3500 -0.0972 0 -0.2708 74.37 457.28)"><path d="M-3 138l4-5 4 1 4-19 4-1 4 2 4 2 4-15 4 13 4-7 4 11 4-6 4 3 4 5 4-27 3-8 4-5 4-3 4 62 4 25 4-1 4-51 4-20 4 7 4-25 4 40 4 19 4-32 4 56 4-53 4 9 4 20 4-44 4 11 4 28 4-21 4 0 4 16 4-66 4-4 4 10 4-4 4 8 4 13 4-4 4-19 3-3 4 13 4-15 4-28 4 17 4 24 4 4 4-13 4-10 4 12 4-2 4-28 4 12 4 24 4-9 4 3 4 15 4-5 3 6-4-4-4-6-4-7-4 3-4-23-4-20-4 13-4 9-4-5-4 13-4 19-4-3-4-14-4-8-4 21-3-3-4-10-4 10-4 11-4-3-4-19-4-1-4 18-4 14-4 0-4 50-4-16-4-2-4 0-4-7-4 12-4 19-4 11-4-27-4 32-4-50-4 0-4 35-4-56-4 29-4 7-4-23-4 30-4-24-4-13-4 19-4 0-3-22-4 15-4 14-4-6-4 7-4-2-4 15-4-6-4-6-4-7-4 21-4-21-4 3-4 21-4-5-4-20Z"/><path class="ge0" d="M223 30l3-11"/><path class="ge1" d="M191 26l3 17M211 48l3-12M215 60l3-19M219 58l3-26M227 42l3-3"/><path class="ge2" d="M160 61l3-12M164 69l3-19M176 59l3 2M179 56l4-5M183 69l4-8M187 54l3 10M195 43l3 8M199 67l3-2M207 58l3-9M231 66l3-4M235 57l3 2M239 60l3 6"/><path class="ge3" d="M56 87l4-2M92 76l3 6M148 59l3 22M152 55l3 26M156 65l3 2M168 82l3-13M172 78l3-6M203 71l3-3M243 75l3-3M247 70l3 6"/><path class="ge4" d="M53 95l3 5M60 82l3 25M64 79l3 28M68 141l3-53M72 166l3-65M80 114l3-19M100 135l3-32M104 103l3 0M128 102l3 4"/><path class="ge5" d="M-3 138l3-30M9 115l3-3M13 114l3-5M21 118l3-9M25 103l3 13M29 116l3 6M37 120l3-7M41 114l3 1M45 117l3-9M49 122l3-8M76 165l3-40M84 94l3 24M88 101l3 10M112 106l3 15M124 91l3 27M132 130l3-17M136 109l3 4M140 109l3 6"/><path class="ge6" d="M1 133l3-5M5 134l3-1M17 116l3 14M33 109l3 19M96 116l3 22M116 115l3 33M120 135l3 2M144 125l3 6"/><path class="ge7" d="M108 159l3-6"/></g>
<g transform="matrix(0.3500 -0.0972 0 -0.2708 75.43 457.79)"><path d="M-3 111l4 19 4 6 4-21 4-3 4 21 4-21 4 7 4 6 4 6 4-15 4 2 4-7 4 6 4-14 3-15 4 22 4 0 4-19 4 13 4 24 4-30 4 23 4-7 4-29 4 56 4-35 4 0 4 50 4-32 4 27 4-11 4-19 4-12 4 7 4 0 4 2 4 16 4-50 4 0 4-14 4-18 4 1 4 19 4 3 4-11 3-10 4 10 4 3 4-21 4 8 4 14 4 3 4-19 4-13 4 5 4-9 4-13 4 20 4 23 4-3 4 7 4 6 4 4 3-7-4-12-4 7-4 2-4-10-4-24-4 0-4 5-4 0-4-4-4 14-4 7-4 4-4 2-4-4-4 13-3 7-4-10-4-6-4 1-4 4-4-27-4-9-4 19-4 30-4 5-4 77-4-18-4-3-4 8-4-28-4 17-4 3-4 4-4 12-4-24-4-34-4 9-4 19-4-7-4-9-4 13-4 0-4-18-4 13-4-21-4 21-4-6-3-41-4-2-4 29-4 4-4 16-4-14-4 11-4-5-4 0-4 1-4 8-4-2-4 2-4 26-4-26-4-6Z"/><path class="ge1" d="M160 52l3-20M164 53l3-12M211 39l3-3M215 44l3-4M219 35l3 5M223 22l3 13M227 42l3-7"/><path class="ge2" d="M156 70l3-19M172 75l3-11M176 64l3-1M191 46l3 13M195 54l3 9M199 68l3-7M203 71l3-14M207 52l3-2M231 65l3-6M243 75l3-15"/><path class="ge3" d="M53 103l3-32M56 88l4-15M148 84l3 2M152 84l3-3M168 72l3-4M179 54l4 15M183 64l4 15M187 67l3 5M235 62l3 7M239 69l3-2M247 79l3-7"/><path class="ge4" d="M37 116l3-10M45 111l3-7M49 117l3-17M68 91l3 8M76 128l3-21M104 106l3-6"/><path class="ge5" d="M-3 111l3 4M1 130l3-9M9 115l3 6M13 112l3 7M17 133l3-12M21 112l3 1M25 119l3-7M29 125l3-13M33 131l3-14M41 118l3 2M60 110l3 4M64 110l3 10M72 104l3 16M80 98l3 27M84 121l3 4M88 114l3-2M92 85l3 36M100 106l3 3M128 109l3 13"/><path class="ge6" d="M5 136l3 11M96 141l3-13M108 156l3-22M116 151l3-5M120 140l3 2M124 121l3 18M136 116l3 26M140 118l3 27"/><path class="ge7" d="M112 124l3 34M132 116l3 34M144 134l3 29"/></g>
<g transform="matrix(0.3500 -0.0972 0 -0.2708 76.50 458.30)"><path d="M-3 118l4 6 4 26 4-26 4-2 4 2 4-8 4-1 4 0 4 5 4-11 4 14 4-16 4-4 4-29 3 2 4 41 4 6 4-21 4 21 4-13 4 18 4 0 4-13 4 9 4 7 4-19 4-9 4 34 4 24 4-12 4-4 4-3 4-17 4 28 4-8 4 3 4 18 4-77 4-5 4-30 4-19 4 9 4 27 4-4 4-1 3 6 4 10 4-7 4-13 4 4 4-2 4-4 4-7 4-14 4 4 4 0 4-5 4 0 4 24 4 10 4-2 4-7 4 12 3 60-4 1-4 1-4 2-4 2-4 2-4 3-4 3-4 2-4 2-4 2-4 1-4 2-4 2-4 2-4 1-3 1-4 0-4 0-4 0-4 0-4 1-4 2-4 1-4 2-4 1-4-22-4 5-4 26-4-39-4-34-4 2-4 16-4 23-4 0-4-13-4-44-4 43-4-25-4-15-4-31-4 42-4 13-4 20-4 10-4-21-4-11-4-23-3-33-4 37-4-6-4 5-4 24-4-12-4-4-4-8-4 14-4 18-4-1-4-1-4 3-4-2-4-2-4 9Z"/><path class="ge2" d="M56 76l4-16M88 115l3-52"/><path class="ge4" d="M29 115l3-19M33 120l3-16M45 107l3-11M49 103l3-12M53 74l3 23M60 117l3-24M84 128l3-23M92 124l3-30M104 103l3-12M128 125l3-18"/><path class="ge5" d="M1 124l3 1M5 150l3-23M13 122l3 4M17 124l3 3M25 115l3-5M37 109l3-1M41 123l3-3M64 123l3-7M68 102l3 25M80 128l3-10M96 131l3-22M120 145l3-20M124 142l3-33"/><path class="ge6" d="M-3 118l3 16M9 124l3 5M21 116l3 12M76 110l3 28M100 112l3 22M108 137l3-2M132 153l3-12M223 38l3 108M227 38l3 105M231 62l3 79M235 72l3 67M239 70l3 67M243 63l3 73M247 75l3 60"/><path class="ge7" d="M72 123l3 25M112 161l3-13M116 149l3-1M140 148l3 6M144 166l3-17M160 35l3 132M164 44l3 121M168 71l3 93M172 67l3 97M176 66l3 98M179 72l4 92M183 82l4 82M187 75l3 88M191 62l3 100M195 66l3 94M199 64l3 94M203 60l3 96M207 53l3 102M211 39l3 114M215 43l3 108M219 43l3 106"/><path class="ge8" d="M136 145l3 35M148 89l3 82M152 84l3 86M156 54l3 114"/></g>
<g transform="matrix(0.3500 -0.0972 0 -0.2708 77.57 458.81)"><path d="M-3 137l4-9 4 2 4 2 4-3 4 1 4 1 4-18 4-14 4 8 4 4 4 12 4-24 4-5 4 6 3-37 4 33 4 23 4 11 4 21 4-10 4-20 4-13 4-42 4 31 4 15 4 25 4-43 4 44 4 13 4 0 4-23 4-16 4-2 4 34 4 39 4-26 4-5 4 22 4-1 4-2 4-1 4-2 4-1 4 0 4 0 3 0 4 0 4-1 4-1 4-2 4-2 4-2 4-1 4-2 4-2 4-2 4-3 4-3 4-2 4-2 4-2 4-1 4-1 3-3-4 1-4 2-4 2-4 2-4 3-4 2-4 3-4 1-4 1-4 1-4 2-4 2-4 2-4 2-4 2-3 1-4 1-4 0-4 0-4 1-4 0-4 1-4 1-4 1-4 1-4-46-4-13-4 20-4-15-4-2-4 22-4 8-4-8-4 32-4-41-4-10-4-5-4 15-4-11-4 2-4 33-4-15-4 11-4-19-4-12-4 49-4-56-3-7-4 4-4-22-4-3-4 25-4 9-4-13-4 5-4 6-4 15-4 3-4-5-4-11-4-4-4 6-4 4Z"/><path class="ge3" d="M45 99l3-18M49 94l3-10"/><path class="ge4" d="M29 99l3 8M33 107l3-5M41 123l3-17M53 100l3 6M56 63l4 39"/><path class="ge5" d="M-3 137l3-16M1 128l3-11M5 130l3-19M9 132l3-17M13 129l3-3M25 113l3 0M37 111l3 4M60 96l3 13M68 130l3-14M88 66l3 52M92 97l3 19M96 112l3 15M100 137l3-25M104 94l3 23M108 138l3-11M128 110l3 4M132 144l3-28M140 157l3-46M144 152l3-28"/><path class="ge6" d="M17 130l3 1M21 131l3-3M72 151l3-23M76 141l3 6M80 121l3 15M116 151l3-15M120 128l3 16M124 112l3 24M136 183l3-52M223 149l3-2M227 146l3-1M231 144l3-2M235 142l3-2M239 140l3-2M243 139l3-3M247 138l3-3"/><path class="ge7" d="M64 119l3 46M84 108l3 43M112 151l3 17M156 171l3-3M160 170l3-3M164 168l3-2M168 167l3-1M172 167l3-2M176 167l3-2M179 167l4-2M183 167l4-3M187 166l3-3M191 165l3-4M195 163l3-4M199 161l3-4M203 159l3-4M207 158l3-5M211 156l3-4M215 154l3-3M219 152l3-2"/><path class="ge8" d="M148 174l3-4M152 173l3-4"/></g>
<g transform="matrix(0.3500 -0.0972 0 -0.2708 78.63 459.32)"><path d="M-3 124l4-4 4-6 4 4 4 11 4 5 4-3 4-15 4-6 4-5 4 13 4-9 4-25 4 3 4 22 3-4 4 7 4 56 4-49 4 12 4 19 4-11 4 15 4-33 4-2 4 11 4-15 4 5 4 10 4 41 4-32 4 8 4-8 4-22 4 2 4 15 4-20 4 13 4 46 4-1 4-1 4-1 4-1 4-1 4 0 4 0 3 0 4-1 4-1 4-2 4-2 4-2 4-2 4-2 4-1 4-1 4-2 4-2 4-3 4-2 4-2 4-2 4-2 4-1 3-3-4 2-4 2-4 2-4 3-4 2-4 3-4 2-4 1-4 0-4 1-4 1-4 2-4 2-4 2-4 2-3 2-4 1-4 1-4 1-4 0-4 0-4 0-4 1-4 1-4 1-4-67-4 19-4-23-4 14-4 13-4-8-4 3-4 18-4 14-4 0-4 0-4-52-4 28-4 9-4 23-4-21-4-13-4 15-4-29-4-17-4 58-4-17-3-11-4-4-4-25-4 1-4 15-4 6-4-6-4 0-4 4-4 10-4-13-4 11-4-18-4-15-4 7-4 3Z"/><path class="ge4" d="M-3 124l3-22M1 120l3-21M5 114l3-22M45 84l3 14M49 87l3 10M68 119l3-23M100 115l3-14M136 134l3-35M144 127l3-24"/><path class="ge5" d="M9 118l3-11M13 129l3-4M17 134l3-20M21 131l3-4M25 116l3 1M29 110l3 3M33 105l3 8M37 118l3 1M41 109l3 4M53 109l3 13M56 105l4 21M72 131l3-18M80 139l3-12M120 147l3-26M124 139l3-21M128 117l3 9M132 119l3-6M140 114l3 8"/><path class="ge6" d="M60 112l3 25M76 150l3-8M84 154l3-14M92 119l3 19M96 130l3-1M116 139l3 0M227 147l3-1M231 145l3-1M235 143l3-2M239 141l3-2M243 139l3-2M247 138l3-3"/><path class="ge7" d="M64 168l3-14M88 121l3 40M104 120l3 33M108 130l3 23M112 171l3-18M156 171l3-3M160 170l3-3M164 169l3-2M168 168l3-1M172 168l3-1M176 168l3-2M179 168l4-3M183 167l4-3M187 166l3-4M191 164l3-4M195 162l3-4M199 160l3-4M203 158l3-4M207 156l3-3M211 155l3-3M215 154l3-2M219 152l3-1M223 150l3-1"/><path class="ge8" d="M148 173l3-3M152 172l3-3"/></g>
<g transform="matrix(0.3500 -0.0972 0 -0.2708 79.70 459.83)"><path d="M-3 105l4-3 4-7 4 15 4 18 4-11 4 13 4-10 4-4 4 0 4 6 4-6 4-15 4-1 4 25 3 4 4 11 4 17 4-58 4 17 4 29 4-15 4 13 4 21 4-23 4-9 4-28 4 52 4 0 4 0 4-14 4-18 4-3 4 8 4-13 4-14 4 23 4-19 4 67 4-1 4-1 4-1 4 0 4 0 4 0 4-1 3-1 4-1 4-2 4-2 4-2 4-2 4-2 4-1 4-1 4 0 4-1 4-2 4-3 4-2 4-3 4-2 4-2 4-2 3-2-4 2-4 2-4 3-4 2-4 3-4 2-4 2-4 0-4 1-4 0-4 1-4 1-4 2-4 2-4 2-3 2-4 2-4 2-4 0-4 1-4 0-4 0-4 1-4 0-4 1-4 1-4-71-4-6-4 39-4 8-4-27-4-3-4 1-4-3-4 27-4 9-4-39-4 11-4 9-4-6-4-34-4 8-4 47-4-28-4-12-4 21-4 29-3 2-4-37-4-8-4-4-4 16-4-5-4-6-4-5-4 3-4 3-4-5-4 14-4 12-4-10-4-15-4-16Z"/><path class="ge3" d="M84 143l3-57"/><path class="ge4" d="M-3 105l3-15M1 102l3 4M17 117l3-12M29 116l3-12M45 101l3 3M68 99l3 2M80 130l3-36M100 104l3 2M136 102l3-8M140 125l3-25"/><path class="ge5" d="M5 95l3 26M13 128l3-9M21 130l3-20M25 120l3-13M33 116l3-7M37 122l3-7M41 116l3 4M49 100l3 8M53 125l3-9M64 157l3-35M72 116l3-3M88 164l3-44M92 141l3-15M96 132l3-15M112 156l3-47M116 142l3-30M120 124l3-13M124 121l3-7"/><path class="ge6" d="M9 110l3 21M76 145l3-4M104 156l3-11M108 156l3-20M128 129l3 12M132 116l3 17M231 147l3-2M235 144l3-1M239 142l3-2M243 140l3-2M247 138l3-2"/><path class="ge7" d="M56 129l4 24M60 140l3 11M164 170l3-2M168 170l3-2M172 170l3-3M176 169l3-2M179 168l4-3M183 167l4-4M187 165l3-4M191 163l3-4M195 161l3-4M199 159l3-4M203 157l3-3M207 156l3-3M211 155l3-2M215 155l3-3M219 154l3-2M223 152l3-2M227 149l3-1"/><path class="ge8" d="M144 106l3 65M148 173l3-3M152 172l3-3M156 171l3-2M160 170l3-2"/></g>
<g transform="matrix(0.3500 -0.0972 0 -0.2708 80.77 460.34)"><path d="M-3 93l4 16 4 15 4 10 4-12 4-14 4 5 4-3 4-3 4 5 4 6 4 5 4-16 4 4 4 8 3 37 4-2 4-29 4-21 4 12 4 28 4-47 4-8 4 34 4 6 4-9 4-11 4 39 4-9 4-27 4 3 4-1 4 3 4 27 4-8 4-39 4 6 4 71 4-1 4-1 4 0 4-1 4 0 4 0 4-1 4 0 3-2 4-2 4-2 4-2 4-2 4-2 4-1 4-1 4 0 4-1 4 0 4-2 4-2 4-3 4-2 4-3 4-2 4-2 3-1-4 2-4 2-4 2-4 2-4 3-4 2-4 1-4 1-4 0-4 1-4 1-4 1-4 1-4 1-4 2-3 2-4 3-4 2-4 1-4 1-4 0-4 0-4 0-4 1-4 1-4 1-4-63-4-2-4 23-4-25-4 13-4-22-4 13-4 17-4 5-4-25-4-2-4 28-4-2-4-24-4 12-4-48-4 21-4 35-4 4-4-1-4 2-3 0-4-47-4-2-4 1-4 4-4 1-4 0-4 27-4 4-4 3-4-4-4 0-4 2-4-17-4 3-4 15Z"/><path class="ge3" d="M45 107l3-24M49 111l3-29M53 119l3-35M80 97l3-27"/><path class="ge4" d="M1 109l3-3M5 124l3-21M33 112l3-24M37 118l3-30M41 123l3-36M76 144l3-53M88 123l3-17M100 109l3-5M104 148l3-42M120 114l3-18M128 144l3-39M136 97l3 10"/><path class="ge5" d="M-3 93l3 28M9 134l3-14M13 122l3-4M17 108l3 10M21 113l3 9M25 110l3 9M29 107l3 8M72 116l3 10M84 89l3 29M112 112l3 14M116 115l3-6M124 117l3 1M140 103l3 6"/><path class="ge6" d="M56 156l4-25M60 154l3-23M64 125l3 4M68 104l3 26M92 129l3 1M96 120l3 12M108 139l3-8M132 136l3-6M231 148l3-2M235 146l3-2M239 143l3-1M243 141l3-1M247 139l3-1"/><path class="ge7" d="M172 170l3-2M176 170l3-3M179 168l4-3M183 166l4-4M187 164l3-4M191 162l3-4M195 160l3-3M199 158l3-2M203 157l3-2M207 156l3-2M211 156l3-3M215 155l3-2M219 155l3-3M223 153l3-2M227 151l3-2"/><path class="ge8" d="M144 174l3-2M148 173l3-2M152 172l3-2M156 172l3-3M160 171l3-2M164 171l3-2M168 171l3-2"/></g>
<g transform="matrix(0.3500 -0.0972 0 -0.2708 81.83 460.86)"><path d="M-3 124l4-15 4-3 4 17 4-2 4 0 4 4 4-3 4-4 4-27 4 0 4-1 4-4 4-2 4 3 3 47 4 0 4-2 4 1 4-4 4-35 4-21 4 48 4-12 4 24 4 2 4-28 4 2 4 25 4-5 4-17 4-13 4 21 4-12 4 25 4-23 4 2 4 63 4-1 4-1 4-1 4 0 4 0 4 0 4-1 4-1 3-2 4-3 4-2 4-2 4-1 4-1 4-1 4-1 4-1 4 0 4-1 4-1 4-2 4-3 4-2 4-2 4-2 4-2 3-1-4 1-4 2-4 2-4 1-4 2-4 2-4 2-4 1-4 1-4 1-4 1-4 0-4 1-4 1-4 1-3 3-4 2-4 2-4 2-4 1-4 0-4 0-4 1-4 1-4 1-4 2-4-45-4-25-4-5-4-20-4 29-4-13-4-5-4 1-4 33-4-47-4 37-4 53-4-58-4 3-4 32-4-29-4 35-4 13-4-52-4 0-4 30-3-32-4-83-4 53-4 19-4 6-4-4-4-1-4 32-4-5-4-19-4-28-4 20-4 11-4-7-4 2-4-2Z"/><path class="ge1" d="M53 87l3-61"/><path class="ge3" d="M17 121l3-42M49 84l3-5M104 109l3-32M128 108l3-29"/><path class="ge4" d="M-3 124l3-21M1 109l3-4M5 106l3-3M13 121l3-22M21 125l3-18M33 91l3 8M37 91l3 9M41 90l3 14M45 86l3 12M112 129l3-38M116 112l3-22M120 99l3-4M132 133l3-34M136 110l3-6"/><path class="ge5" d="M9 123l3-13M25 122l3 4M56 134l4-25M64 132l3-21M68 133l3-22M80 73l3 42M88 109l3 3M92 133l3-24M100 107l3 7M108 134l3-10M124 120l3-12"/><path class="ge6" d="M29 118l3 13M60 134l3 7M84 121l3 23M140 112l3 17M231 149l3-3M235 147l3-2M239 145l3-2M243 143l3-2M247 141l3-1"/><path class="ge7" d="M72 129l3 34M76 94l3 56M96 135l3 32M172 171l3-3M176 170l3-4M179 168l4-4M183 165l4-3M187 163l3-4M191 161l3-3M195 160l3-3M199 159l3-3M203 158l3-2M207 157l3-2M211 156l3-2M215 156l3-3M219 155l3-3M223 154l3-4M227 152l3-4"/><path class="ge8" d="M144 175l3-1M148 174l3-2M152 173l3-2M156 172l3-2M160 172l3-3M164 172l3-3M168 172l3-3"/></g>
<g transform="matrix(0.3500 -0.0972 0 -0.2708 82.90 461.37)"><path d="M-3 106l4 2 4-2 4 7 4-11 4-20 4 28 4 19 4 5 4-32 4 1 4 4 4-6 4-20 4-52 3 83 4 32 4-30 4 0 4 52 4-13 4-35 4 29 4-32 4-3 4 58 4-53 4-37 4 47 4-33 4-1 4 5 4 13 4-29 4 20 4 5 4 25 4 45 4-2 4-1 4-1 4-1 4 0 4 0 4-1 4-2 3-2 4-2 4-3 4-1 4-1 4-1 4 0 4-1 4-1 4-1 4-1 4-2 4-2 4-2 4-1 4-2 4-2 4-1 3-2-4 1-4 2-4 1-4 1-4 1-4 1-4 2-4 2-4 2-4 1-4 1-4 1-4 0-4 1-4 1-3 2-4 3-4 2-4 2-4 1-4 0-4 0-4 1-4 1-4 2-4 2-4 3-4-48-4-38-4-23-4 33-4 21-4 8-4-7-4-8-4 50-4 12-4-63-4 26-4-41-4 12-4-2-4 40-4 23-4-64-4 23-4 26-3-24-4-48-4 6-4 11-4-2-4-4-4-19-4 15-4 17-4-22-4-22-4 38-4 15-4 0-4-9-4 6Z"/><path class="ge3" d="M17 82l3-16M33 102l3-24M53 29l3 57M128 82l3-13"/><path class="ge4" d="M13 102l3 2M21 110l3-22M29 134l3-41M37 103l3-6M41 107l3-6M45 101l3 2M49 81l3 11M88 115l3-15M124 111l3-9M132 102l3-10"/><path class="ge5" d="M-3 106l3 10M1 108l3 2M5 106l3 13M9 113l3 6M25 129l3-19M68 114l3-5M80 118l3-8M84 147l3-35M96 170l3-55M108 127l3-11M112 94l3 30M120 98l3 25"/><path class="ge6" d="M56 112l4 22M64 114l3 18M92 112l3 29M116 93l3 38M136 107l3 23M227 151l3-4M231 149l3-3M235 148l3-3M239 146l3-2M243 144l3-2M247 143l3-2"/><path class="ge7" d="M60 144l3 14M76 153l3-3M104 80l3 86M172 171l3-3M176 169l3-3M179 167l4-3M183 165l4-4M187 162l3-3M191 161l3-3M195 160l3-3M199 159l3-2M203 159l3-3M207 158l3-3M211 157l3-3M215 156l3-4M219 155l3-5M223 153l3-5"/><path class="ge8" d="M72 166l3 7M100 117l3 61M140 132l3 46M144 177l3-2M148 175l3-2M152 174l3-3M156 173l3-3M160 172l3-3M164 172l3-3M168 172l3-3"/></g>
<g transform="matrix(0.3500 -0.0972 0 -0.2708 83.97 461.88)"><path d="M-3 119l4-6 4 9 4 0 4-15 4-38 4 22 4 22 4-17 4-15 4 19 4 4 4 2 4-11 4-6 3 48 4 24 4-26 4-23 4 64 4-23 4-40 4 2 4-12 4 41 4-26 4 63 4-12 4-50 4 8 4 7 4-8 4-21 4-33 4 23 4 38 4 48 4-3 4-2 4-2 4-1 4-1 4 0 4 0 4-1 4-2 3-2 4-3 4-2 4-1 4-1 4 0 4-1 4-1 4-1 4-2 4-2 4-2 4-1 4-1 4-1 4-1 4-2 4-2 3-2-4 1-4 2-4 1-4 0-4 1-4 1-4 2-4 2-4 3-4 2-4 1-4 0-4 0-4 1-4 1-3 2-4 3-4 2-4 2-4 0-4 0-4 0-4 1-4 2-4 3-4 2-4 3-4-10-4-66-4-34-4 28-4 18-4-8-4 4-4 17-4-54-4 8-4 35-4 1-4-19-4 22-4 12-4 7-4 24-4-28-4 45-4-1-3-36-4-33-4 9-4 0-4-9-4-2-4-18-4 1-4 2-4 2-4-3-4 11-4-7-4-10-4-13-4 30Z"/><path class="ge3" d="M1 113l3-39M100 181l3-99M104 169l3-95M128 72l3-3"/><path class="ge4" d="M-3 119l3-15M5 122l3-35M9 122l3-25M13 107l3-3M17 69l3 24M21 91l3 5M25 113l3-19M29 96l3-4M33 81l3 10M88 103l3-4M124 105l3-8M132 95l3 8"/><path class="ge5" d="M37 100l3 9M41 104l3 7M45 106l3 14M49 95l3 25M53 89l3 22M84 115l3 6M92 144l3-26M96 118l3-1M112 127l3-16M116 134l3-27M120 126l3-11"/><path class="ge6" d="M56 137l4 7M68 112l3 24M76 153l3-13M80 113l3 20M108 119l3 9M223 151l3-4M227 150l3-4M231 149l3-4M235 148l3-3M239 147l3-3M243 145l3-3M247 143l3-2"/><path class="ge7" d="M72 176l3-12M164 172l3-4M168 172l3-4M172 171l3-3M176 169l3-3M179 167l4-3M183 164l4-3M187 162l3-3M191 161l3-3M195 160l3-3M199 160l3-3M203 159l3-2M207 158l3-2M211 157l3-3M215 155l3-4M219 153l3-4"/><path class="ge8" d="M60 161l3 19M64 135l3 46M136 133l3 36M140 181l3-2M144 178l3-2M148 176l3-2M152 174l3-3M156 173l3-4M160 172l3-4"/></g>
<g transform="matrix(0.3500 -0.0972 0 -0.2708 85.03 462.39)"><path d="M-3 107l4-30 4 13 4 10 4 7 4-11 4 3 4-2 4-2 4-1 4 18 4 2 4 9 4 0 4-9 3 33 4 36 4 1 4-45 4 28 4-24 4-7 4-12 4-22 4 19 4-1 4-35 4-8 4 54 4-17 4-4 4 8 4-18 4-28 4 34 4 66 4 10 4-3 4-2 4-3 4-2 4-1 4 0 4 0 4 0 4-2 3-2 4-3 4-2 4-1 4-1 4 0 4 0 4-1 4-2 4-3 4-2 4-2 4-1 4-1 4 0 4-1 4-2 4-1 3-3-4 1-4 2-4 0-4 1-4 0-4 2-4 2-4 2-4 3-4 2-4 1-4 0-4 0-4 1-4 1-3 2-4 3-4 2-4 1-4 1-4 0-4 0-4 1-4 2-4 3-4 3-4 3-4-31-4-64-4-31-4 60-4-30-4 2-4 19-4 39-4-41-4-1-4 24-4-27-4-28-4 29-4 23-4 7-4 5-4-28-4 44-4-6-3-21-4-15-4 1-4 3-4 5-4-11-4 13-4-12-4-19-4-1-4 5-4 9-4-24-4 4-4-8-4 20Z"/><path class="ge2" d="M128 72l3-18"/><path class="ge3" d="M1 77l3-3M5 90l3-8M9 100l3-22M88 102l3-31M116 110l3-24M120 118l3-34M132 106l3-21"/><path class="ge4" d="M-3 107l3-13M13 107l3-5M17 96l3-3M21 99l3-11M25 97l3-8M37 112l3-5M84 124l3-24M92 121l3-22M100 85l3 17M104 77l3 26M112 114l3-9"/><path class="ge5" d="M29 95l3 13M33 94l3 26M41 114l3 4M45 123l3-10M49 123l3-13M53 114l3-5M56 147l4-23M68 139l3-32M80 136l3-13M96 120l3 6M124 100l3 14"/><path class="ge6" d="M60 183l3-38M72 167l3-32M76 143l3-13M108 131l3 13M223 150l3-3M227 149l3-4M231 148l3-3M235 148l3-4M239 147l3-3M243 145l3-3M247 144l3-3"/><path class="ge7" d="M64 184l3-33M136 172l3-23M160 171l3-3M164 171l3-3M168 171l3-3M172 171l3-4M176 169l3-3M179 167l4-3M183 164l4-3M187 162l3-3M191 161l3-3M195 160l3-3M199 160l3-3M203 160l3-3M207 159l3-3M211 157l3-3M215 154l3-3M219 152l3-3"/><path class="ge8" d="M140 182l3-2M144 179l3-2M148 177l3-3M152 174l3-3M156 172l3-3"/></g>
<g transform="matrix(0.3500 -0.0972 0 -0.2708 86.10 462.90)"><path d="M-3 97l4-20 4 8 4-4 4 24 4-9 4-5 4 1 4 19 4 12 4-13 4 11 4-5 4-3 4-1 3 15 4 21 4 6 4-44 4 28 4-5 4-7 4-23 4-29 4 28 4 27 4-25 4 2 4 41 4-39 4-20 4-1 4 30 4-60 4 31 4 64 4 31 4-3 4-3 4-3 4-2 4-1 4 0 4 0 4-1 4-1 3-2 4-3 4-2 4-1 4-1 4 0 4 0 4-1 4-2 4-3 4-2 4-2 4-2 4 0 4-1 4 0 4-2 4-1 3-4-4 2-4 1-4 1-4 1-4 1-4 2-4 2-4 2-4 2-4 2-4 1-4 0-4 0-4 0-4 2-3 2-4 2-4 2-4 1-4 1-4 0-4 1-4 1-4 2-4 3-4 3-4 2-4 2-4-104-4 38-4 18-4-21-4-26-4 36-4 32-4-40-4 18-4 3-4-30-4-35-4-2-4 27-4-9-4 8-4 17-4 11-4 4-3-32-4 32-4-31-4-1-4-3-4-9-4 13-4-7-4-11-4 8-4 7-4-2-4-9-4 22-4-6-4 12Z"/><path class="ge3" d="M9 81l3 0M21 91l3-6M25 92l3-15M37 110l3-28M76 133l3-47M84 103l3-35M88 74l3-4M116 88l3-2M132 88l3-11"/><path class="ge4" d="M1 77l3 20M5 85l3 18M13 105l3-15M17 96l3-4M29 111l3-23M33 123l3-28M41 121l3-30M45 116l3-22M49 113l3-18M56 127l4-33M72 138l3-44M80 126l3-31M92 102l3 3"/><path class="ge5" d="M-3 97l3 12M53 112l3 14M60 148l3-22M64 154l3-32M68 110l3 1M104 106l3 8M112 108l3 14M120 87l3 25M128 57l3 58"/><path class="ge6" d="M96 129l3 6M100 104l3 28M124 117l3 16M223 150l3-2M227 148l3-2M231 148l3-3M235 147l3-3M239 147l3-4M243 145l3-3M247 144l3-4"/><path class="ge7" d="M108 147l3 7M160 171l3-3M164 171l3-4M168 171l3-4M172 170l3-4M176 169l3-4M179 167l4-4M183 164l4-3M187 162l3-3M191 161l3-4M195 160l3-3M199 160l3-3M203 160l3-3M207 159l3-3M211 157l3-3M215 154l3-2M219 152l3-2"/><path class="ge8" d="M136 152l3 29M140 183l3-4M144 180l3-3M148 177l3-3M152 174l3-3M156 172l3-3"/></g>
<g transform="matrix(0.3500 -0.0972 0 -0.2708 87.17 463.41)"><path d="M-3 112l4-13 4 7 4-22 4 9 4 2 4-7 4-8 4 11 4 7 4-13 4 9 4 3 4 1 4 31 3-32 4 32 4-4 4-11 4-17 4-8 4 9 4-27 4 2 4 35 4 30 4-3 4-18 4 40 4-32 4-36 4 25 4 22 4-18 4-38 4 104 4-2 4-2 4-3 4-3 4-2 4-1 4-1 4 0 4-1 4-1 3-2 4-2 4-2 4-2 4 0 4 0 4 0 4-1 4-2 4-2 4-2 4-2 4-2 4-1 4-1 4-1 4-1 4-2 3-3-4 2-4 1-4 1-4 2-4 1-4 2-4 2-4 3-4 1-4 2-4 0-4 0-4 0-4 0-4 2-3 1-4 3-4 1-4 2-4 0-4 1-4 1-4 1-4 2-4 3-4 2-4 3-4 1-4-104-4 45-4 5-4-32-4 12-4 43-4-17-4 12-4 32-4-31-4-50-4 15-4 9-4 5-4-6-4-15-4-6-4 27-4-6-3-46-4 26-4 11-4-19-4-7-4-7-4 7-4-1-4 2-4-2-4 25-4-8-4-14-4 14-4-6-4-7Z"/><path class="ge3" d="M-3 112l3-26M9 84l3 1M21 88l3-6M25 80l3 4M29 91l3-9M33 98l3-15M37 85l3-9M41 94l3-11M56 97l4-25M132 80l3-4"/><path class="ge4" d="M1 99l3-6M5 106l3-7M13 93l3 6M17 95l3 12M45 97l3-7M53 129l3-31M68 114l3-17M72 97l3 6M92 108l3-13M116 89l3 17M120 114l3-20"/><path class="ge5" d="M49 98l3 11M60 129l3-11M64 125l3-1M76 89l3 29M80 98l3 26M84 71l3 48M88 73l3 37M124 136l3-10M128 118l3 3"/><path class="ge6" d="M96 138l3 7M104 117l3 27M108 157l3-25M227 149l3-2M231 148l3-2M235 147l3-3M239 146l3-3M243 145l3-3M247 143l3-3"/><path class="ge7" d="M112 125l3 24M160 171l3-3M164 170l3-3M168 170l3-4M172 169l3-3M176 168l3-4M179 166l4-3M183 164l4-4M187 162l3-3M191 160l3-3M195 160l3-3M199 160l3-3M203 160l3-3M207 159l3-2M211 157l3-2M215 155l3-1M219 153l3-2M223 151l3-2"/><path class="ge8" d="M100 135l3 41M136 184l3-4M140 182l3-3M144 180l3-4M148 177l3-3M152 174l3-3M156 172l3-3"/></g>
<g transform="matrix(0.3500 -0.0972 0 -0.2708 88.23 463.92)"><path d="M-3 89l4 7 4 6 4-14 4 14 4 8 4-25 4 2 4-2 4 1 4-7 4 7 4 7 4 19 4-11 3-26 4 46 4 6 4-27 4 6 4 15 4 6 4-5 4-9 4-15 4 50 4 31 4-32 4-12 4 17 4-43 4-13 4 33 4-5 4-45 4 104 4-1 4-3 4-2 4-3 4-2 4-1 4-1 4-1 4 0 4-2 3-1 4-3 4-1 4-2 4 0 4 0 4 0 4 0 4-2 4-2 4-2 4-2 4-2 4-1 4-2 4-1 4-1 4-2 3-3-4 2-4 1-4 2-4 1-4 3-4 2-4 2-4 2-4 1-4 1-4 1-4 0-4 0-4 0-4 1-3 2-4 1-4 2-4 1-4 1-4 1-4 1-4 2-4 2-4 2-4 2-4 2-4 1-4-108-4 17-4 32-4-10-4-3-4 15-4 1-4 29-4 36-4-35-4-50-4 49-4-19-4 12-4 50-4-29-4-42-4 9-4-42-3-24-4 43-4-19-4-19-4 18-4-3-4 3-4 1-4 4-4-9-4 4-4-15-4 12-4 22-4-12-4-15Z"/><path class="ge3" d="M-3 89l3-7M13 102l3-27M21 85l3 1M45 93l3-21M56 75l4-8M132 79l3-8"/><path class="ge4" d="M1 96l3 1M9 88l3-1M17 110l3-20M25 87l3 8M29 85l3 6M33 86l3 4M37 79l3 8M41 86l3 4M49 112l3-21M60 121l3-30M92 98l3 5M116 109l3-2M128 124l3-36"/><path class="ge5" d="M5 102l3 7M53 101l3 9M68 100l3 24M108 135l3-12M112 152l3-30M120 96l3 14M124 129l3-9"/><path class="ge6" d="M64 127l3 6M80 127l3 18M84 122l3 11M231 149l3-3M235 147l3-2M239 146l3-3M243 145l3-3M247 143l3-3"/><path class="ge7" d="M72 106l3 60M88 113l3 39M96 148l3 5M104 147l3 5M164 170l3-3M168 169l3-3M172 169l3-4M176 167l3-3M179 166l4-4M183 163l4-2M187 162l3-3M191 160l3-2M195 160l3-2M199 160l3-2M203 160l3-2M207 160l3-3M211 158l3-2M215 156l3-1M219 154l3-1M223 152l3-1M227 150l3-1"/><path class="ge8" d="M100 179l3 9M136 183l3-4M140 182l3-4M144 179l3-3M148 177l3-3M152 174l3-2M156 172l3-2M160 171l3-3"/><path class="ge9" d="M76 121l3 74"/></g>
<g transform="matrix(0.3500 -0.0972 0 -0.2708 89.30 464.43)"><path d="M-3 85l4 15 4 12 4-22 4-12 4 15 4-4 4 9 4-4 4-1 4-3 4 3 4-18 4 19 4 19 3-43 4 24 4 42 4-10 4 43 4 29 4-50 4-12 4 19 4-49 4 50 4 35 4-36 4-29 4-1 4-15 4 3 4 10 4-32 4-17 4 108 4-1 4-2 4-2 4-2 4-2 4-2 4-1 4-1 4-1 4-1 3-2 4-1 4-2 4-1 4 0 4 0 4 0 4-1 4-1 4-1 4-2 4-2 4-3 4-2 4-1 4-2 4-1 4-2 3-2-4 2-4 1-4 1-4 2-4 2-4 2-4 3-4 1-4 2-4 1-4 1-4 0-4 0-4 0-4 1-3 1-4 2-4 1-4 1-4 2-4 1-4 1-4 2-4 1-4 2-4 1-4 2-4 1-4 0-4-63-4-21-4-1-4 40-4 5-4-2-4 31-4-7-4-13-4-42-4 40-4-19-4 23-4 13-4-11-4-1-4-39-4-7-3-12-4-1-4-13-4-4-4-3-4 1-4 5-4-3-4 6-4 18-4-16-4 5-4 11-4 6-4-13-4 7Z"/><path class="ge3" d="M17 93l3-11M25 98l3-18M29 94l3-20M33 93l3-16M37 90l3-18M41 93l3-22M45 75l3-1M49 94l3-16"/><path class="ge4" d="M-3 85l3 13M1 100l3-9M5 112l3-8M9 90l3 8M13 78l3 9M21 89l3 9M53 113l3-22M56 70l4 22M60 94l3 10M92 106l3-1M120 113l3-20M124 123l3-29"/><path class="ge5" d="M64 136l3-25M84 136l3-10M128 91l3 24"/><path class="ge6" d="M88 155l3-10M96 156l3-9M108 126l3 10M112 125l3 13M116 110l3 23M231 149l3-2M235 148l3-3M239 146l3-2M243 145l3-2M247 143l3-2"/><path class="ge7" d="M68 126l3 24M72 169l3-18M76 198l3-36M80 148l3 1M100 191l3-31M104 155l3 12M164 170l3-2M168 169l3-2M172 168l3-3M176 167l3-3M179 165l4-2M183 164l4-3M187 162l3-2M191 161l3-2M195 161l3-2M199 161l3-2M203 161l3-2M207 160l3-2M211 159l3-2M215 158l3-3M219 156l3-2M223 154l3-3M227 151l3-2"/><path class="ge8" d="M132 74l3 104M136 182l3-4M140 181l3-4M144 179l3-4M148 177l3-3M152 175l3-3M156 173l3-2M160 171l3-2"/></g>
<g transform="matrix(0.3500 -0.0972 0 -0.2708 90.37 464.94)"><path d="M-3 101l4-7 4 13 4-6 4-11 4-5 4 16 4-18 4-6 4 3 4-5 4-1 4 3 4 4 4 13 3 1 4 12 4 7 4 39 4 1 4 11 4-13 4-23 4 19 4-40 4 42 4 13 4 7 4-31 4 2 4-5 4-40 4 1 4 21 4 63 4 0 4-1 4-2 4-1 4-2 4-1 4-2 4-1 4-1 4-2 4-1 3-1 4-2 4-1 4-1 4 0 4 0 4 0 4-1 4-1 4-2 4-1 4-3 4-2 4-2 4-2 4-1 4-2 4-1 3-2-4 2-4 1-4 1-4 1-4 2-4 2-4 3-4 2-4 2-4 1-4 1-4 0-4 0-4 0-4 0-3 2-4 1-4 2-4 1-4 1-4 1-4 2-4 1-4 2-4 1-4 1-4 2-4 1-4 0-4-93-4 3-4 26-4-9-4-9-4 18-4 17-4 12-4-11-4-48-4 20-4 29-4 22-4-8-4-39-4 38-4-24-4-2-3-26-4 1-4-11-4-1-4 0-4 2-4-7-4-15-4 29-4 7-4-28-4 8-4 13-4-3-4-10-4 0Z"/><path class="ge2" d="M29 77l3-14"/><path class="ge3" d="M-3 101l3-22M1 94l3-15M13 90l3-11M17 85l3-14M33 80l3-2M37 75l3 10M41 74l3 9M45 77l3 6M49 81l3 3M92 108l3-24M128 118l3-33"/><path class="ge4" d="M5 107l3-18M9 101l3-9M21 101l3-2M25 83l3 9M53 94l3 1M56 95l4-1M88 148l3-44M112 141l3-45M116 136l3-31M124 97l3-9"/><path class="ge5" d="M60 107l3 13M64 114l3 8M72 154l3-46M108 139l3-25M120 96l3 18"/><path class="ge6" d="M68 153l3-7M76 165l3-18M84 129l3 4M96 150l3-18M100 163l3-20M104 170l3-39M231 150l3-3M235 148l3-2M239 147l3-2M243 145l3-1M247 144l3-2"/><path class="ge7" d="M80 152l3 3M168 170l3-3M172 168l3-2M176 167l3-2M179 166l4-3M183 164l4-2M187 163l3-3M191 162l3-2M195 162l3-2M199 162l3-2M203 162l3-2M207 161l3-2M211 160l3-2M215 158l3-2M219 157l3-3M223 154l3-3M227 152l3-3"/><path class="ge8" d="M132 181l3-3M136 181l3-3M140 180l3-3M144 178l3-3M148 177l3-3M152 175l3-2M156 174l3-3M160 172l3-2M164 171l3-3"/></g>
<g transform="matrix(0.3500 -0.0972 0 -0.2708 91.43 465.46)"><path d="M-3 82l4 0 4 10 4 3 4-13 4-8 4 28 4-7 4-29 4 15 4 7 4-2 4 0 4 1 4 11 3-1 4 26 4 2 4 24 4-38 4 39 4 8 4-22 4-29 4-20 4 48 4 11 4-12 4-17 4-18 4 9 4 9 4-26 4-3 4 93 4 0 4-1 4-2 4-1 4-1 4-2 4-1 4-2 4-1 4-1 4-1 3-2 4-1 4-2 4 0 4 0 4 0 4 0 4-1 4-1 4-2 4-2 4-3 4-2 4-2 4-1 4-1 4-1 4-2 3-2-4 2-4 1-4 1-4 1-4 2-4 2-4 2-4 2-4 2-4 2-4 1-4 0-4 0-4-1-4 1-3 1-4 2-4 1-4 2-4 1-4 1-4 1-4 2-4 1-4 1-4 2-4 1-4 1-4 0-4-72-4-2-4 50-4-13-4-57-4 14-4 25-4-6-4-9-4-35-4 5-4 50-4-2-4 14-4-21-4 43-4-46-4-23-3-8-4 7-4-17-4 23-4-6-4-3-4 0-4-3-4 13-4 5-4-40-4-5-4 10-4 14-4-10-4-2Z"/><path class="ge2" d="M13 82l3-23M17 74l3-10"/><path class="ge3" d="M-3 82l3-11M1 82l3-9M5 92l3-9M9 95l3-26M29 66l3 20M49 87l3-12M56 97l4-12M88 107l3-29M92 87l3-14M112 99l3-15"/><path class="ge4" d="M21 102l3 2M25 95l3 4M33 81l3 8M37 88l3 1M41 86l3 6M45 86l3 12M53 98l3-6M60 123l3-30M108 117l3-19M124 91l3 13M128 88l3 18"/><path class="ge5" d="M64 125l3-9M72 111l3 8M80 158l3-32M96 135l3-27M100 146l3-29M104 134l3-11"/><path class="ge6" d="M76 150l3-10M84 136l3-8M116 108l3 33M231 150l3-2M235 149l3-2M239 148l3-2M243 147l3-2M247 145l3-2"/><path class="ge7" d="M68 149l3 13M120 117l3 37M168 170l3-2M172 169l3-2M176 168l3-3M179 166l4-2M183 165l4-3M187 163l3-2M191 163l3-3M195 163l3-2M199 163l3-2M203 163l3-2M207 162l3-2M211 161l3-3M215 159l3-3M219 157l3-3M223 154l3-2M227 152l3-2"/><path class="ge8" d="M132 181l3-3M136 181l3-3M140 180l3-3M144 178l3-2M148 177l3-3M152 176l3-3M156 174l3-2M160 173l3-3M164 171l3-2"/></g>
<g transform="matrix(0.3500 -0.0972 0 -0.2708 92.50 465.97)"><path d="M-3 74l4 2 4 10 4-14 4-10 4 5 4 40 4-5 4-13 4 3 4 0 4 3 4 6 4-23 4 17 3-7 4 8 4 23 4 46 4-43 4 21 4-14 4 2 4-50 4-5 4 35 4 9 4 6 4-25 4-14 4 57 4 13 4-50 4 2 4 72 4 0 4-1 4-1 4-2 4-1 4-1 4-2 4-1 4-1 4-1 4-2 3-1 4-2 4-1 4-1 4 1 4 0 4 0 4-1 4-2 4-2 4-2 4-2 4-3 4-1 4-1 4-1 4-1 4-2 3-2-4 2-4 1-4 1-4 1-4 1-4 2-4 2-4 3-4 2-4 1-4 1-4 1-4-1-4 0-4 0-3 1-4 2-4 1-4 2-4 1-4 2-4 1-4 2-4 1-4 1-4 1-4 1-4 1-4 0-4 0-4-64-4 43-4 7-4-15-4-23-4 6-4-15-4 26-4-27-4-16-4 10-4 25-4 4-4-56-4 2-4-2-4 31-3-10-4-12-4-8-4 16-4-12-4-8-4 6-4-5-4 34-4 2-4-41-4 2-4 12-4 11-4-6-4-21Z"/><path class="ge3" d="M-3 74l3 0M13 62l3 16M17 67l3 9M29 89l3-8M33 92l3-6M37 92l3-12M49 78l3 6M64 119l3-36M68 165l3-80M72 122l3-39"/><path class="ge4" d="M1 76l3 19M5 86l3 15M9 72l3 18M41 95l3-7M45 101l3-1M53 95l3-3M56 88l4 16M88 81l3 19"/><path class="ge5" d="M21 107l3 10M25 102l3 13M60 96l3 18M84 131l3-21M92 76l3 40M100 120l3-3M108 101l3 25M124 107l3 7"/><path class="ge6" d="M76 143l3-4M80 129l3 6M96 111l3 32M104 126l3 6M235 150l3-2M239 149l3-2M243 148l3-2M247 146l3-2"/><path class="ge7" d="M112 87l3 62M116 144l3 20M120 157l3 0M168 171l3-3M172 170l3-3M176 168l3-3M179 167l4-3M183 165l4-3M187 164l3-3M191 163l3-2M195 164l3-3M199 164l3-2M203 164l3-3M207 163l3-3M211 161l3-2M215 159l3-2M219 157l3-3M223 155l3-3M227 152l3-2M231 151l3-2"/><path class="ge8" d="M128 109l3 69M132 181l3-3M136 181l3-3M140 180l3-3M144 179l3-3M148 177l3-2M152 176l3-2M156 175l3-2M160 173l3-2M164 172l3-2"/></g>
<g transform="matrix(0.3500 -0.0972 0 -0.2708 93.57 466.48)"><path d="M-3 77l4 21 4 6 4-11 4-12 4-2 4 41 4-2 4-34 4 5 4-6 4 8 4 12 4-16 4 8 3 12 4 10 4-31 4 2 4-2 4 56 4-4 4-25 4-10 4 16 4 27 4-26 4 15 4-6 4 23 4 15 4-7 4-43 4 64 4 0 4 0 4-1 4-1 4-1 4-1 4-2 4-1 4-1 4-2 4-1 4-2 3-1 4-2 4-1 4 0 4 0 4 1 4-1 4-1 4-1 4-2 4-3 4-2 4-2 4-1 4-1 4-1 4-1 4-2 3-2-4 2-4 1-4 1-4 0-4 2-4 2-4 2-4 2-4 2-4 2-4 1-4 0-4 0-4-1-4 1-3 0-4 2-4 1-4 2-4 1-4 2-4 2-4 2-4 1-4 1-4 1-4 1-4 1-4 0-4 0-4-30-4 7-4-6-4 17-4-47-4-11-4-16-4-3-4-7-4 1-4 11-4 46-4 10-4-67-4 17-4-13-4 50-3-19-4 5-4-11-4 4-4-31-4 13-4 3-4-12-4 25-4-21-4-16-4 2-4 6-4 8-4-6-4-10Z"/><path class="ge3" d="M-3 77l3 1M9 93l3-7M13 81l3-1M17 79l3-1M41 91l3-5M72 86l3-2M88 103l3-19M92 119l3-36"/><path class="ge4" d="M1 98l3-10M5 104l3-10M21 120l3-26M29 84l3 6M33 89l3 13M37 83l3 16M64 86l3 2M68 88l3 13M84 113l3-18M96 146l3-56M100 120l3-27"/><path class="ge5" d="M25 118l3-3M45 103l3 14M49 87l3 26M53 95l3 29M56 107l4 12M104 135l3-26M108 129l3-9"/><path class="ge6" d="M60 117l3 21M80 138l3 3M239 150l3-2M243 149l3-2M247 147l3-2"/><path class="ge7" d="M76 142l3 9M112 152l3 15M116 167l3-17M120 160l3-4M124 117l3 32M172 170l3-3M176 168l3-3M179 167l4-3M183 165l4-3M187 164l3-2M191 164l3-3M195 164l3-2M199 165l3-3M203 164l3-2M207 163l3-2M211 162l3-3M215 160l3-3M219 157l3-2M223 155l3-2M227 153l3-2M231 152l3-3M235 151l3-2"/><path class="ge8" d="M128 181l3-2M132 181l3-2M136 181l3-2M140 180l3-2M144 179l3-2M148 178l3-2M152 177l3-2M156 175l3-1M160 174l3-2M164 173l3-3M168 171l3-3"/></g>
<g transform="matrix(0.3500 -0.0972 0 -0.2708 94.63 466.99)"><path d="M-3 81l4 10 4 6 4-8 4-6 4-2 4 16 4 21 4-25 4 12 4-3 4-13 4 31 4-4 4 11 3-5 4 19 4-50 4 13 4-17 4 67 4-10 4-47 4-10 4-1 4 7 4 3 4 16 4 11 4 47 4-17 4 6 4-7 4 30 4 0 4 0 4-1 4-1 4-1 4-1 4-1 4-2 4-2 4-2 4-1 4-2 3-1 4-2 4 0 4-1 4 1 4 0 4 0 4-1 4-2 4-2 4-2 4-3 4-1 4-2 4 0 4-1 4-1 4-2 3-2-4 1-4 2-4 0-4 1-4 1-4 2-4 2-4 2-4 2-4 2-4 1-4 0-4 0-4 0-4 0-3 1-4 0-4 2-4 2-4 2-4 2-4 2-4 2-4 2-4 1-4 1-4 0-4 1-4 1-4-1-4-33-4 8-4-49-4 8-4-17-4-10-4-15-4-5-4 33-4 6-4 18-4-17-4-13-4 12-4 28-4-51-4 7-3 25-4 18-4-32-4-22-4 5-4 22-4 0-4-9-4 7-4-9-4-1-4-21-4 4-4 14-4-3-4 15Z"/><path class="ge3" d="M9 89l3-12M13 83l3-10M41 89l3-5M45 120l3-41M64 91l3-8M96 93l3-26M100 96l3-24"/><path class="ge4" d="M-3 81l3 22M1 91l3-3M5 97l3-6M17 81l3 13M21 97l3-2M25 118l3-14M29 93l3 4M33 105l3 1M37 102l3 4M49 116l3-15M60 141l3-51M72 87l3 19M76 154l3-60M80 144l3-37M88 87l3 19M92 86l3 14M104 112l3-25M108 123l3-26M116 153l3-47"/><path class="ge5" d="M56 122l4-7M84 97l3 27M112 170l3-56"/><path class="ge6" d="M53 127l3 6M68 104l3 30M124 152l3-5M243 150l3-3M247 148l3-2"/><path class="ge7" d="M120 159l3-4M172 170l3-3M176 168l3-3M179 167l4-4M183 165l4-2M187 165l3-3M191 164l3-2M195 165l3-3M199 165l3-3M203 165l3-3M207 164l3-3M211 162l3-3M215 160l3-3M219 158l3-3M223 155l3-2M227 154l3-3M231 152l3-2M235 152l3-3M239 151l3-2"/><path class="ge8" d="M128 182l3-2M132 182l3-1M136 182l3-2M140 181l3-2M144 180l3-1M148 179l3-1M152 178l3-1M156 177l3-2M160 175l3-2M164 173l3-2M168 171l3-2"/></g>
<g transform="matrix(0.3500 -0.0972 0 -0.2708 95.70 467.50)"><path d="M-3 106l4-15 4 3 4-14 4-4 4 21 4 1 4 9 4-7 4 9 4 0 4-22 4-5 4 22 4 32 3-18 4-25 4-7 4 51 4-28 4-12 4 13 4 17 4-18 4-6 4-33 4 5 4 15 4 10 4 17 4-8 4 49 4-8 4 33 4 1 4-1 4-1 4 0 4-1 4-1 4-2 4-2 4-2 4-3 4-2 4-1 3-2 4 0 4-1 4 0 4 0 4 0 4 0 4-1 4-2 4-2 4-2 4-2 4-2 4-1 4-1 4 0 4-2 4-1 3-2-4 1-4 1-4 1-4 0-4 1-4 2-4 2-4 1-4 2-4 2-4 1-4 1-4 0-4 0-4 0-3 1-4 1-4 1-4 2-4 2-4 2-4 3-4 2-4 2-4 1-4 1-4 1-4 1-4 0-4-1-4-1-4-35-4-18-4-13-4-5-4-1-4-18-4 11-4 21-4 27-4 18-4-50-4-23-4 18-4 41-4-24-4-15-3 14-4 2-4-49-4-26-4 17-4 20-4-1-4 0-4 9-4 5-4-9-4-21-4-8-4 14-4-6-4 18Z"/><path class="ge2" d="M45 82l3-27"/><path class="ge3" d="M1 91l3-16M5 94l3-13M9 80l3-13M13 76l3-1M41 87l3-15M49 104l3-23"/><path class="ge4" d="M-3 106l3-13M17 97l3-1M21 98l3 7M25 107l3-7M29 100l3-9M33 109l3-18M37 109l3-17M76 97l3-3M96 70l3 31M100 75l3 15"/><path class="ge5" d="M60 93l3 21M72 109l3 3M80 110l3 7M92 103l3 19M104 90l3 18M108 100l3 9M112 117l3-3M116 109l3 18"/><path class="ge6" d="M53 136l3-6M56 118l4 10M64 86l3 43M120 158l3-13M247 149l3-2"/><path class="ge7" d="M68 137l3 16M84 127l3 40M88 109l3 40M172 169l3-2M176 168l3-3M179 166l4-2M183 166l4-3M187 165l3-3M191 165l3-3M195 165l3-3M199 165l3-3M203 165l3-4M207 164l3-4M211 162l3-4M215 160l3-4M219 158l3-3M223 156l3-3M227 154l3-3M231 153l3-3M235 152l3-2M239 152l3-3M243 150l3-2"/><path class="ge8" d="M124 150l3 30M128 183l3-2M132 184l3-2M136 183l3-1M140 182l3-1M144 182l3-2M148 181l3-2M152 180l3-2M156 178l3-2M160 176l3-2M164 174l3-3M168 171l3-2"/></g>
<g transform="matrix(0.3500 -0.0972 0 -0.2708 96.77 468.01)"><path d="M-3 96l4-18 4 6 4-14 4 8 4 21 4 8 4-4 4-9 4 0 4 1 4-20 4-17 4 26 4 49 3-2 4-14 4 15 4 24 4-41 4-18 4 23 4 50 4-18 4-27 4-21 4-11 4 18 4 1 4 5 4 13 4 18 4 35 4 1 4 1 4 0 4-1 4-1 4-1 4-1 4-2 4-2 4-3 4-2 4-2 4-2 3-2 4 0 4-1 4 0 4 0 4 0 4-1 4-1 4-2 4-2 4-1 4-2 4-2 4-1 4 0 4-1 4-1 4-1 3-3-4 2-4 1-4 0-4 1-4 1-4 2-4 1-4 1-4 2-4 1-4 1-4 1-4 1-4 0-4 1-3 0-4 1-4 1-4 2-4 2-4 3-4 2-4 3-4 2-4 1-4 1-4 1-4 0-4 0-4-1-4-1-4-2-4-2-4-2-4-1-4-2-4-1-4-2-4-1-4-2-4-2-4-2-4-2-4-1-4 0-4 0-4 0-3 0-4 1-4 0-4 0-4 0-4 0-4 0-4 0-4 1-4 2-4 2-4 1-4-97-4 10-4 17-4 18Z"/><path class="ge3" d="M5 84l3-6M9 70l3-2"/><path class="ge4" d="M1 78l3 17"/><path class="ge5" d="M-3 96l3 17"/><path class="ge6" d="M247 150l3-3"/><path class="ge7" d="M13 78l3 87M17 99l3 65M21 107l3 55M25 103l3 57M29 94l3 65M33 94l3 65M37 95l3 64M41 75l3 84M45 58l3 101M49 84l3 75M53 133l3 26M56 131l4 27M60 117l3 41M64 132l3 26M68 156l3 2M72 115l3 43M76 97l3 62M80 120l3 41M84 170l3-7M88 152l3 13M92 125l3 42M172 170l3-3M176 168l3-3M179 166l4-2M183 166l4-3M187 165l3-2M191 165l3-3M195 165l3-3M199 165l3-4M203 164l3-4M207 163l3-4M211 161l3-3M215 159l3-3M219 158l3-3M223 156l3-2M227 154l3-2M231 153l3-2M235 153l3-3M239 152l3-2M243 151l3-2"/><path class="ge8" d="M96 104l3 64M100 93l3 77M104 111l3 60M108 112l3 61M112 117l3 57M116 130l3 46M120 148l3 30M124 183l3-3M128 184l3-3M132 185l3-3M136 185l3-3M140 184l3-2M144 183l3-2M148 182l3-2M152 181l3-2M156 179l3-2M160 177l3-3M164 174l3-2M168 172l3-3"/></g>
<g transform="matrix(0.3500 -0.0972 0 -0.2708 97.83 468.52)"><path d="M-3 116l4-18 4-17 4-10 4 97 4-1 4-2 4-2 4-1 4 0 4 0 4 0 4 0 4 0 4 0 3-1 4 0 4 0 4 0 4 0 4 1 4 2 4 2 4 2 4 2 4 1 4 2 4 1 4 2 4 1 4 2 4 2 4 2 4 1 4 1 4 0 4 0 4-1 4-1 4-1 4-2 4-3 4-3 4-2 4-2 4-2 3-1 4-1 4 0 4-1 4 0 4-1 4-1 4-1 4-1 4-2 4-1 4-1 4-2 4-1 4-1 4 0 4-1 4-2 3-3-4 1-4 2-4 1-4 1-4 2-4 1-4 1-4 1-4 1-4 1-4 1-4 1-4 1-4 0-4 1-3 1-4 0-4 2-4 1-4 2-4 3-4 2-4 3-4 2-4 2-4 1-4 0-4 1-4-1-4-1-4-1-4-2-4-2-4-2-4-2-4-1-4-1-4-1-4-1-4-2-4-2-4-2-4-3-4-2-4 0-4 0-4 0-3 0-4 1-4 0-4 1-4 0-4 0-4 0-4 1-4 1-4 1-4 2-4 0-4-72-4-9-4 11-4 15Z"/><path class="ge3" d="M5 81l3 2"/><path class="ge4" d="M1 98l3-4M9 71l3 21"/><path class="ge5" d="M-3 116l3-7"/><path class="ge6" d="M247 150l3-3"/><path class="ge7" d="M13 168l3-4M17 167l3-3M21 165l3-3M25 163l3-2M29 162l3-2M33 162l3-3M37 162l3-3M41 162l3-3M45 162l3-3M49 162l3-4M53 162l3-4M56 161l4-4M60 161l3-4M64 161l3-4M68 161l3-4M72 161l3-4M76 162l3-3M80 164l3-2M84 166l3-2M88 168l3-2M92 170l3-2M172 170l3-3M176 168l3-2M179 167l4-3M183 166l4-2M187 166l3-3M191 165l3-3M195 165l3-3M199 164l3-3M203 163l3-3M207 162l3-3M211 161l3-3M215 159l3-2M219 158l3-2M223 157l3-2M227 155l3-1M231 154l3-2M235 153l3-2M239 153l3-3M243 152l3-4"/><path class="ge8" d="M96 171l3-2M100 173l3-3M104 174l3-3M108 176l3-4M112 177l3-3M116 179l3-3M120 181l3-3M124 183l3-3M128 184l3-3M132 185l3-3M136 185l3-2M140 185l3-3M144 184l3-2M148 183l3-2M152 182l3-3M156 180l3-3M160 177l3-3M164 174l3-2M168 172l3-3"/></g>
<g transform="matrix(0.3500 -0.0972 0 -0.2708 98.90 469.03)"><path d="M-3 112l4-15 4-11 4 9 4 72 4 0 4-2 4-1 4-1 4-1 4 0 4 0 4 0 4-1 4 0 3-1 4 0 4 0 4 0 4 0 4 2 4 3 4 2 4 2 4 2 4 1 4 1 4 1 4 1 4 2 4 2 4 2 4 2 4 1 4 1 4 1 4-1 4 0 4-1 4-2 4-2 4-3 4-2 4-3 4-2 4-1 3-2 4 0 4-1 4-1 4 0 4-1 4-1 4-1 4-1 4-1 4-1 4-1 4-1 4-2 4-1 4-1 4-2 4-1 3-4-4 1-4 2-4 2-4 2-4 2-4 2-4 0-4 1-4 0-4 1-4 1-4 1-4 1-4 1-4 1-3 0-4 1-4 1-4 2-4 2-4 2-4 3-4 2-4 2-4 1-4 1-4 1-4 0-4 0-4-1-4-1-4-2-4-3-4-2-4-1-4-1-4 0-4-1-4-1-4-2-4-2-4-2-4-3-4-2-4 0-4-1-4 0-3 1-4 0-4 0-4 1-4 0-4 0-4 0-4 1-4 1-4 1-4 1-4 1-4-78-4-4-4 7-4 5Z"/><path class="ge3" d="M5 86l3-4M9 95l3-9"/><path class="ge4" d="M-3 112l3-18M1 97l3-8"/><path class="ge6" d="M243 151l3-4M247 150l3-4"/><path class="ge7" d="M13 167l3-3M17 167l3-4M21 165l3-3M25 164l3-3M29 163l3-3M33 162l3-3M37 162l3-3M41 162l3-3M45 162l3-3M49 161l3-3M53 161l3-3M56 160l4-2M60 160l3-3M64 160l3-3M68 160l3-2M72 160l3-2M76 162l3-2M80 165l3-2M84 167l3-2M88 169l3-2M172 170l3-2M176 169l3-3M179 167l4-2M183 167l4-3M187 166l3-2M191 165l3-2M195 165l3-3M199 164l3-3M203 163l3-3M207 162l3-3M211 161l3-3M215 160l3-2M219 159l3-2M223 158l3-1M227 157l3-2M231 155l3-2M235 154l3-3M239 153l3-4"/><path class="ge8" d="M92 171l3-2M96 172l3-2M100 173l3-2M104 174l3-3M108 175l3-3M112 177l3-4M116 179l3-4M120 181l3-3M124 183l3-3M128 184l3-3M132 185l3-3M136 186l3-4M140 185l3-3M144 185l3-4M148 184l3-4M152 182l3-3M156 180l3-3M160 177l3-2M164 175l3-3M168 172l3-2"/></g>
<g transform="matrix(0.3500 -0.0972 0 -0.2708 99.97 469.54)"><path d="M-3 97l4-5 4-7 4 4 4 78 4-1 4-1 4-1 4-1 4-1 4 0 4 0 4 0 4-1 4 0 3 0 4-1 4 0 4 1 4 0 4 2 4 3 4 2 4 2 4 2 4 1 4 1 4 0 4 1 4 1 4 2 4 3 4 2 4 1 4 1 4 0 4 0 4-1 4-1 4-1 4-2 4-2 4-3 4-2 4-2 4-2 3-1 4-1 4 0 4-1 4-1 4-1 4-1 4-1 4-1 4 0 4-1 4 0 4-2 4-2 4-2 4-2 4-2 4-1 3-5-4 2-4 2-4 3-4 2-4 3-4 2-4 1-4 0-4 0-4 0-4 1-4 1-4 2-4 1-4 1-3 0-4 1-4 1-4 2-4 2-4 2-4 2-4 2-4 1-4 2-4 0-4 1-4 1-4-1-4 0-4-1-4-2-4-2-4-2-4-2-4 0-4-1-4-1-4-1-4-1-4-2-4-2-4-2-4-2-4-1-4 0-4 0-3 0-4 0-4 0-4 0-4 0-4 0-4 1-4 0-4 1-4 1-4 1-4 1-4-86-4 12-4 15-4 6Z"/><path class="ge3" d="M9 89l3-11"/><path class="ge4" d="M1 92l3 13M5 85l3 5"/><path class="ge5" d="M-3 97l3 14"/><path class="ge6" d="M243 150l3-4M247 149l3-5"/><path class="ge7" d="M13 167l3-3M17 166l3-3M21 165l3-3M25 164l3-3M29 163l3-3M33 162l3-2M37 162l3-3M41 162l3-3M45 162l3-3M49 161l3-2M53 161l3-2M56 161l4-2M60 160l3-1M64 160l3-1M68 161l3-2M72 161l3-1M76 163l3-1M80 166l3-2M84 168l3-2M88 170l3-2M176 169l3-2M179 168l4-2M183 167l4-2M187 167l3-2M191 166l3-2M195 165l3-2M199 164l3-3M203 163l3-3M207 162l3-3M211 161l3-2M215 161l3-2M219 160l3-1M223 160l3-2M227 158l3-2M231 156l3-3M235 154l3-3M239 152l3-4"/><path class="ge8" d="M92 172l3-3M96 173l3-3M100 174l3-3M104 174l3-2M108 175l3-3M112 176l3-2M116 178l3-2M120 181l3-3M124 183l3-3M128 184l3-3M132 185l3-4M136 185l3-3M140 185l3-4M144 184l3-4M148 183l3-3M152 182l3-4M156 180l3-3M160 178l3-3M164 175l3-2M168 173l3-2M172 171l3-2"/></g>
<g transform="matrix(0.3500 -0.0972 0 -0.2708 101.03 470.06)"><path d="M-3 114l4-6 4-15 4-12 4 86 4-1 4-1 4-1 4-1 4 0 4-1 4 0 4 0 4 0 4 0 3 0 4 0 4 0 4 0 4 1 4 2 4 2 4 2 4 2 4 1 4 1 4 1 4 1 4 0 4 2 4 2 4 2 4 2 4 1 4 0 4 1 4-1 4-1 4 0 4-2 4-1 4-2 4-2 4-2 4-2 4-2 3-1 4-1 4 0 4-1 4-1 4-2 4-1 4-1 4 0 4 0 4 0 4-1 4-2 4-3 4-2 4-3 4-2 4-2 3-4-4 2-4 2-4 3-4 3-4 3-4 2-4 2-4 0-4 0-4 0-4 1-4 1-4 2-4 1-4 1-3 1-4 1-4 1-4 2-4 2-4 1-4 2-4 1-4 1-4 1-4 1-4 1-4 1-4 0-4-1-4-1-4-1-4-2-4-2-4-1-4-1-4-1-4-1-4-2-4-1-4-2-4-2-4-1-4-2-4 0-4 0-4-1-3 0-4 0-4 0-4 0-4 0-4 0-4 0-4 1-4 1-4 1-4 0-4 1-4-89-4 7-4 13-4 16Z"/><path class="ge3" d="M5 93l3-11M9 81l3-6"/><path class="ge4" d="M1 108l3-13"/><path class="ge5" d="M-3 114l3-3"/><path class="ge6" d="M239 151l3-4M243 149l3-4M247 147l3-4"/><path class="ge7" d="M13 167l3-3M17 166l3-3M21 165l3-2M25 164l3-2M29 163l3-2M33 163l3-3M37 162l3-2M41 162l3-2M45 162l3-2M49 162l3-2M53 162l3-2M56 162l4-2M60 162l3-2M64 162l3-1M68 162l3-1M72 163l3-2M76 165l3-2M80 167l3-3M84 169l3-3M88 171l3-3M179 169l4-1M183 168l4-1M187 168l3-2M191 167l3-2M195 166l3-2M199 164l3-2M203 163l3-2M207 162l3-2M211 162l3-2M215 162l3-2M219 162l3-2M223 161l3-3M227 159l3-3M231 156l3-3M235 154l3-4"/><path class="ge8" d="M92 172l3-3M96 173l3-2M100 174l3-2M104 175l3-2M108 175l3-1M112 177l3-2M116 179l3-2M120 181l3-2M124 183l3-3M128 184l3-3M132 184l3-2M136 185l3-3M140 184l3-3M144 183l3-3M148 183l3-4M152 181l3-3M156 180l3-3M160 178l3-2M164 176l3-2M168 174l3-1M172 172l3-1M176 170l3-1"/></g>
<g transform="matrix(0.3500 -0.0972 0 -0.2708 102.10 470.57)"><path d="M-3 114l4-16 4-13 4-8 4 90 4-1 4-1 4 0 4-1 4-1 4 0 4 0 4 0 4 0 4 0 3 0 4 0 4 1 4 0 4 0 4 2 4 1 4 2 4 2 4 1 4 2 4 1 4 1 4 1 4 1 4 2 4 2 4 1 4 1 4 1 4 0 4-1 4-1 4-1 4-1 4-1 4-1 4-2 4-1 4-2 4-2 3-1 4-1 4-1 4-1 4-1 4-2 4-1 4-1 4 0 4 0 4-1 4-1 4-2 4-3 4-3 4-3 4-2 4-2 3-3-4 2-4 2-4 2-4 3-4 3-4 3-4 2-4 1-4 0-4 0-4 1-4 2-4 1-4 1-4 1-3 1-4 1-4 2-4 2-4 1-4 2-4 1-4 1-4 1-4 1-4 1-4 0-4 1-4 1-4-1-4 0-4-1-4-2-4-2-4-1-4-2-4-1-4-2-4-2-4-2-4-1-4-1-4-2-4-1-4 0-4-1-4 0-3 0-4 1-4 0-4-1-4 0-4 0-4 0-4 1-4 1-4 0-4 0-4 1-4-80-4-6-4-2-4 17Z"/><path class="ge3" d="M1 98l3-22M5 85l3-7M9 77l3 7"/><path class="ge4" d="M-3 114l3-21"/><path class="ge6" d="M239 150l3-3M243 148l3-3M247 146l3-3"/><path class="ge7" d="M13 167l3-3M17 166l3-3M21 165l3-2M25 165l3-2M29 164l3-2M33 163l3-2M37 163l3-2M41 163l3-2M45 163l3-2M49 163l3-1M53 163l3-1M56 163l4-2M60 163l3-2M64 164l3-3M68 164l3-2M72 164l3-2M76 166l3-3M80 167l3-2M84 169l3-3M88 171l3-4M183 170l4-2M187 169l3-2M191 168l3-2M195 167l3-2M199 165l3-1M203 164l3-2M207 163l3-2M211 163l3-2M215 163l3-2M219 162l3-2M223 161l3-3M227 159l3-4M231 156l3-4M235 153l3-4"/><path class="ge8" d="M92 172l3-3M96 174l3-3M100 175l3-2M104 176l3-2M108 177l3-1M112 178l3-1M116 180l3-1M120 182l3-1M124 183l3-1M128 184l3-2M132 185l3-2M136 185l3-3M140 184l3-3M144 183l3-2M148 182l3-2M152 181l3-2M156 180l3-2M160 179l3-2M164 177l3-1M168 176l3-2M172 174l3-1M176 172l3-1M179 171l4-2"/></g>
<g transform="matrix(0.3500 -0.0972 0 -0.2708 103.17 471.08)"><path d="M-3 96l4-17 4 2 4 6 4 80 4-1 4 0 4 0 4-1 4-1 4 0 4 0 4 0 4 1 4 0 3-1 4 0 4 0 4 1 4 0 4 1 4 2 4 1 4 1 4 2 4 2 4 2 4 1 4 2 4 1 4 2 4 2 4 1 4 0 4 1 4-1 4-1 4 0 4-1 4-1 4-1 4-1 4-1 4-2 4-1 4-2 3-2 4-1 4-1 4-1 4-1 4-1 4-2 4-1 4 0 4 0 4-1 4-2 4-3 4-3 4-3 4-2 4-2 4-2 3-1-4 1-4 1-4 2-4 3-4 3-4 3-4 2-4 1-4 1-4 0-4 1-4 2-4 1-4 1-4 1-3 2-4 1-4 1-4 2-4 2-4 1-4 1-4 1-4 1-4 0-4 1-4 2-4 1-4 0-4 0-4 0-4-1-4-2-4-2-4-1-4-2-4-2-4-3-4-2-4-2-4-1-4-2-4-1-4-1-4 0-4-1-4 0-3 1-4 0-4 1-4 0-4-1-4 0-4 1-4 0-4 0-4 0-4 1-4 0-4-66-4-8-4-9-4 15Z"/><path class="ge3" d="M1 79l3 2"/><path class="ge4" d="M-3 96l3 0M5 81l3 9M9 87l3 11"/><path class="ge6" d="M239 150l3-3M243 148l3-2M247 146l3-1"/><path class="ge7" d="M13 167l3-3M17 166l3-2M21 166l3-3M25 166l3-3M29 165l3-2M33 164l3-1M37 164l3-2M41 164l3-2M45 164l3-1M49 165l3-2M53 165l3-3M56 164l4-2M60 164l3-3M64 164l3-3M68 165l3-3M72 165l3-3M76 166l3-3M80 168l3-4M84 169l3-3M88 170l3-3M191 169l3-2M195 168l3-2M199 167l3-2M203 165l3-2M207 164l3-2M211 164l3-2M215 164l3-3M219 163l3-3M223 161l3-3M227 158l3-3M231 155l3-3M235 152l3-3"/><path class="ge8" d="M92 172l3-3M96 174l3-3M100 176l3-2M104 177l3-1M108 179l3-1M112 180l3-1M116 182l3-1M120 184l3-1M124 185l3-1M128 185l3-1M132 186l3-2M136 185l3-1M140 184l3-1M144 184l3-3M148 183l3-3M152 182l3-2M156 181l3-2M160 180l3-2M164 179l3-2M168 177l3-1M172 176l3-2M176 174l3-2M179 172l4-1M183 171l4-1M187 170l3-2"/></g>
<g transform="matrix(0.3500 -0.0972 0 -0.2708 104.23 471.59)"><path d="M-3 99l4-15 4 8 4 9 4 66 4 0 4-1 4 0 4 0 4 0 4-1 4 0 4 1 4 0 4-1 3 0 4-1 4 0 4 1 4 0 4 1 4 1 4 2 4 1 4 2 4 2 4 3 4 2 4 2 4 1 4 2 4 2 4 1 4 0 4 0 4 0 4-1 4-2 4-1 4 0 4-1 4-1 4-1 4-1 4-2 4-2 3-1 4-1 4-2 4-1 4-1 4-1 4-2 4-1 4 0 4-1 4-1 4-2 4-3 4-3 4-3 4-2 4-1 4-1 3-1-4 1-4 1-4 1-4 2-4 2-4 3-4 2-4 1-4 1-4 1-4 2-4 1-4 2-4 1-4 2-3 1-4 1-4 2-4 1-4 2-4 1-4 1-4 1-4 1-4 0-4 1-4 2-4 1-4 0-4 0-4 0-4-1-4-2-4-1-4-2-4-2-4-3-4-3-4-2-4-2-4-1-4-2-4-1-4-1-4-1-4 0-4 0-3 1-4 1-4 1-4 0-4 0-4 0-4 0-4 0-4 0-4 0-4 0-4 1-4-59-4-9-4-2-4 5Z"/><path class="ge4" d="M-3 99l3 1M1 84l3 11M5 92l3 5M9 101l3 5"/><path class="ge6" d="M243 149l3-1M247 148l3-1"/><path class="ge7" d="M13 167l3-2M17 167l3-3M21 166l3-2M25 166l3-2M29 166l3-2M33 166l3-2M37 165l3-1M41 165l3-1M45 166l3-2M49 166l3-2M53 165l3-2M56 165l4-3M60 164l3-3M64 164l3-3M68 165l3-4M72 165l3-3M76 166l3-3M80 167l3-3M84 169l3-3M88 170l3-3M195 169l3-2M199 168l3-3M203 166l3-2M207 165l3-3M211 165l3-4M215 164l3-4M219 163l3-4M223 161l3-4M227 158l3-4M231 155l3-3M235 152l3-2M239 150l3-1"/><path class="ge8" d="M92 172l3-3M96 174l3-3M100 177l3-3M104 179l3-2M108 181l3-2M112 182l3-1M116 184l3-2M120 186l3-2M124 187l3-2M128 187l3-2M132 187l3-2M136 187l3-2M140 186l3-2M144 184l3-2M148 183l3-2M152 183l3-2M156 182l3-2M160 181l3-2M164 180l3-2M168 179l3-2M172 177l3-2M176 175l3-1M179 174l4-2M183 173l4-2M187 171l3-1M191 170l3-2"/></g>
<g transform="matrix(0.3500 -0.0972 0 -0.2708 105.30 472.10)"><path d="M-3 103l4-5 4 2 4 9 4 59 4-1 4 0 4 0 4 0 4 0 4 0 4 0 4 0 4 0 4-1 3-1 4-1 4 0 4 0 4 1 4 1 4 1 4 2 4 1 4 2 4 2 4 3 4 3 4 2 4 2 4 1 4 2 4 1 4 0 4 0 4 0 4-1 4-2 4-1 4 0 4-1 4-1 4-1 4-1 4-2 4-1 3-2 4-1 4-1 4-2 4-1 4-2 4-1 4-2 4-1 4-1 4-1 4-2 4-3 4-2 4-2 4-1 4-1 4-1 3 0-4 0-4 1-4 0-4 2-4 2-4 2-4 1-4 2-4 1-4 1-4 1-4 2-4 2-4 2-4 1-3 2-4 1-4 1-4 2-4 1-4 2-4 1-4 1-4 1-4 0-4 1-4 1-4 1-4 1-4-1-4-1-4-1-4-1-4-1-4-2-4-3-4-2-4-3-4-2-4-1-4-2-4-1-4-1-4-2-4 0-4-1-4 0-3 1-4 2-4 1-4 1-4 0-4-1-4 0-4 0-4 0-4 0-4-1-4 1-4-59-4-23-4-6-4 15Z"/><path class="ge3" d="M1 98l3-21M5 100l3-17"/><path class="ge4" d="M-3 103l3-11M9 109l3-3"/><path class="ge7" d="M13 168l3-3M17 167l3-3M21 167l3-2M25 167l3-2M29 167l3-2M33 167l3-2M37 167l3-2M41 167l3-1M45 167l3-1M49 167l3-2M53 166l3-2M56 165l4-3M60 164l3-3M64 164l3-3M68 164l3-2M72 165l3-3M76 166l3-2M80 167l3-2M84 169l3-3M88 170l3-2M195 170l3-3M199 168l3-3M203 167l3-4M207 165l3-3M211 164l3-3M215 163l3-3M219 162l3-4M223 160l3-3M227 157l3-2M231 155l3-2M235 153l3-2M239 152l3-1M243 151l3-1M247 150l3 0"/><path class="ge8" d="M92 172l3-3M96 174l3-3M100 177l3-3M104 180l3-4M108 182l3-3M112 184l3-3M116 185l3-3M120 187l3-4M124 188l3-4M128 188l3-3M132 188l3-2M136 188l3-3M140 187l3-3M144 185l3-2M148 184l3-2M152 184l3-2M156 183l3-2M160 182l3-2M164 181l3-2M168 180l3-3M172 178l3-2M176 177l3-3M179 175l4-2M183 174l4-2M187 173l3-3M191 171l3-2"/></g>
<g transform="matrix(0.3500 -0.0972 0 -0.2708 106.37 472.61)"><path d="M-3 95l4-15 4 6 4 23 4 59 4-1 4 1 4 0 4 0 4 0 4 0 4 1 4 0 4-1 4-1 3-2 4-1 4 0 4 1 4 0 4 2 4 1 4 1 4 1 4 2 4 2 4 3 4 2 4 3 4 2 4 1 4 1 4 1 4 1 4 1 4-1 4-1 4-1 4-1 4 0 4-1 4-1 4-1 4-2 4-1 4-2 3-1 4-1 4-2 4-1 4-2 4-2 4-2 4-1 4-1 4-1 4-2 4-1 4-2 4-2 4-2 4-1 4 0 4 0 3-1-4 0-4 0-4 0-4 2-4 1-4 2-4 1-4 1-4 1-4 1-4 1-4 3-4 2-4 2-4 2-3 1-4 2-4 1-4 1-4 2-4 1-4 1-4 1-4 1-4 1-4 1-4 1-4 1-4-1-4-1-4-1-4-1-4-1-4-1-4-2-4-2-4-3-4-2-4-2-4-1-4 0-4-1-4-2-4-1-4-1-4-1-4 0-3 1-4 1-4 2-4 1-4 0-4-1-4 0-4 0-4-1-4-1-4 0-4 1-4-68-4-33-4-5-4 20Z"/><path class="ge2" d="M1 80l3-21M5 86l3-22"/><path class="ge3" d="M-3 95l3-16"/><path class="ge4" d="M9 109l3-12"/><path class="ge7" d="M13 168l3-3M17 167l3-3M21 168l3-4M25 168l3-3M29 168l3-2M33 168l3-2M37 168l3-2M41 169l3-2M45 169l3-2M49 168l3-2M53 167l3-3M56 165l4-2M60 164l3-2M64 164l3-2M68 165l3-2M72 165l3-1M76 167l3-2M80 168l3-1M84 169l3-1M195 170l3-3M199 168l3-3M203 166l3-4M207 165l3-4M211 164l3-4M215 163l3-4M219 161l3-3M223 160l3-3M227 158l3-3M231 156l3-2M235 154l3-2M239 153l3-1M243 153l3-1M247 153l3-1"/><path class="ge8" d="M88 170l3-2M92 172l3-3M96 174l3-3M100 177l3-4M104 179l3-3M108 182l3-4M112 184l3-4M116 185l3-4M120 186l3-4M124 187l3-4M128 188l3-4M132 189l3-4M136 188l3-2M140 187l3-2M144 186l3-2M148 185l3-2M152 185l3-3M156 184l3-3M160 183l3-3M164 182l3-3M168 180l3-2M172 179l3-3M176 177l3-2M179 176l4-2M183 175l4-3M187 173l3-2M191 172l3-3"/></g>
<g transform="matrix(0.3500 -0.0972 0 -0.2708 107.43 473.12)"><path d="M-3 82l4-20 4 5 4 33 4 68 4-1 4 0 4 1 4 1 4 0 4 0 4 1 4 0 4-1 4-2 3-1 4-1 4 0 4 1 4 1 4 1 4 2 4 1 4 0 4 1 4 2 4 2 4 3 4 2 4 2 4 1 4 1 4 1 4 1 4 1 4 1 4-1 4-1 4-1 4-1 4-1 4-1 4-1 4-1 4-2 4-1 3-1 4-2 4-1 4-2 4-2 4-2 4-3 4-1 4-1 4-1 4-1 4-1 4-2 4-1 4-2 4 0 4 0 4 0 3-3-4 1-4 0-4 1-4 1-4 1-4 2-4 1-4 0-4 1-4 0-4 2-4 2-4 3-4 2-4 2-3 1-4 2-4 1-4 2-4 1-4 2-4 1-4 1-4 1-4 1-4 1-4 1-4 0-4-1-4-1-4-1-4-1-4-1-4-2-4-1-4-3-4-2-4-2-4-1-4 0-4-1-4 0-4-2-4-2-4-1-4-1-4 0-3 0-4 2-4 1-4 1-4 0-4 0-4-1-4 0-4-1-4-1-4-1-4 1-4-75-4-25-4-2-4 16Z"/><path class="ge2" d="M1 62l3 0M5 67l3-3"/><path class="ge3" d="M-3 82l3-4"/><path class="ge4" d="M9 100l3-11"/><path class="ge7" d="M13 168l3-4M17 167l3-4M21 167l3-3M25 168l3-3M29 169l3-3M33 169l3-3M37 169l3-2M41 170l3-3M45 170l3-3M49 169l3-3M53 167l3-2M56 166l4-3M60 165l3-2M64 165l3-2M68 166l3-2M72 167l3-2M76 168l3-1M195 170l3-3M199 168l3-4M203 165l3-3M207 164l3-4M211 163l3-3M215 162l3-3M219 161l3-2M223 160l3-2M227 158l3-2M231 157l3-2M235 155l3-1M239 155l3-2M243 155l3-2M247 155l3-3"/><path class="ge8" d="M80 170l3-1M84 171l3-2M88 171l3-1M92 172l3-2M96 174l3-3M100 176l3-3M104 179l3-4M108 181l3-3M112 183l3-4M116 184l3-3M120 185l3-3M124 186l3-3M128 187l3-3M132 188l3-3M136 189l3-3M140 188l3-2M144 187l3-2M148 186l3-2M152 185l3-2M156 184l3-2M160 183l3-2M164 182l3-2M168 181l3-3M172 179l3-2M176 178l3-3M179 177l4-3M183 175l4-3M187 174l3-3M191 172l3-3"/></g>
<g transform="matrix(0.3500 -0.0972 0 -0.2708 108.50 473.63)"><path d="M-3 81l4-16 4 2 4 25 4 75 4-1 4 1 4 1 4 1 4 0 4 1 4 0 4 0 4-1 4-1 3-2 4 0 4 0 4 1 4 1 4 2 4 2 4 0 4 1 4 0 4 1 4 2 4 2 4 3 4 1 4 2 4 1 4 1 4 1 4 1 4 1 4 0 4-1 4-1 4-1 4-1 4-1 4-1 4-2 4-1 4-2 3-1 4-2 4-1 4-2 4-2 4-3 4-2 4-2 4 0 4-1 4 0 4-1 4-2 4-1 4-1 4-1 4 0 4-1 3-3-4 1-4 0-4 1-4 2-4 2-4 1-4 1-4 0-4 0-4 1-4 1-4 2-4 3-4 2-4 2-3 1-4 2-4 2-4 2-4 1-4 1-4 1-4 2-4 1-4 1-4 1-4 1-4 0-4-1-4-2-4-1-4-1-4-2-4-1-4-2-4-2-4-2-4-1-4 0-4 0-4-1-4-1-4-2-4-2-4-1-4-1-4-1-3 0-4 2-4 1-4 1-4 0-4-1-4 0-4-1-4-1-4-2-4 0-4 1-4-65-4-24-4-8-4 0Z"/><path class="ge2" d="M-3 81l3-15M1 65l3 1"/><path class="ge3" d="M5 67l3 7"/><path class="ge4" d="M9 92l3 6"/><path class="ge7" d="M13 167l3-4M17 166l3-4M21 167l3-5M25 168l3-4M29 169l3-4M33 169l3-3M37 170l3-4M41 170l3-3M45 170l3-3M49 169l3-3M53 168l3-3M56 166l4-3M60 166l3-3M64 166l3-2M68 167l3-2M72 168l3-2M76 170l3-2M195 170l3-3M199 167l3-3M203 165l3-3M207 163l3-2M211 163l3-3M215 162l3-2M219 162l3-2M223 161l3-2M227 159l3-1M231 158l3-2M235 157l3-3M239 156l3-3M243 156l3-3M247 155l3-3"/><path class="ge8" d="M80 172l3-2M84 172l3-1M88 173l3-1M92 173l3-1M96 174l3-2M100 176l3-3M104 178l3-3M108 181l3-4M112 182l3-3M116 184l3-4M120 185l3-3M124 186l3-3M128 187l3-3M132 188l3-2M136 189l3-2M140 189l3-2M144 188l3-2M148 187l3-2M152 186l3-2M156 185l3-2M160 184l3-3M164 183l3-3M168 181l3-2M172 180l3-2M176 178l3-2M179 177l4-3M183 175l4-3M187 174l3-3M191 172l3-3"/></g>
<g transform="matrix(0.3500 -0.0972 0 -0.2708 109.57 474.14)"><path d="M-3 69l4 0 4 8 4 24 4 65 4-1 4 0 4 2 4 1 4 1 4 0 4 1 4 0 4-1 4-1 3-2 4 0 4 1 4 1 4 1 4 2 4 2 4 1 4 1 4 0 4 0 4 1 4 2 4 2 4 2 4 1 4 1 4 2 4 1 4 2 4 1 4 0 4-1 4-1 4-1 4-1 4-2 4-1 4-1 4-1 4-2 3-2 4-2 4-1 4-2 4-2 4-3 4-2 4-1 4-1 4 0 4 0 4-1 4-1 4-2 4-2 4-1 4 0 4-1 3-4-4 1-4 1-4 2-4 2-4 2-4 2-4 0-4 0-4 0-4 0-4 2-4 2-4 2-4 2-4 1-3 2-4 2-4 3-4 2-4 1-4 1-4 1-4 1-4 1-4 2-4 1-4 0-4 1-4-1-4-2-4-2-4-1-4-1-4-1-4-2-4-2-4-1-4-1-4 0-4-1-4-1-4-2-4-2-4-2-4-1-4-1-4-1-3 0-4 1-4 2-4 0-4 0-4 0-4-1-4-1-4-1-4-1-4 0-4 1-4-65-4-27-4-3-4-11Z"/><path class="ge2" d="M-3 69l3-12"/><path class="ge3" d="M1 69l3-1M5 77l3-6"/><path class="ge4" d="M9 101l3-3"/><path class="ge7" d="M13 166l3-3M17 165l3-3M21 165l3-3M25 167l3-4M29 168l3-4M33 169l3-4M37 169l3-3M41 170l3-4M45 170l3-4M49 169l3-3M53 168l3-4M56 166l4-3M60 166l3-3M64 167l3-3M68 168l3-3M72 169l3-3M76 171l3-3M195 170l3-3M199 167l3-2M203 165l3-2M207 164l3-3M211 163l3-2M215 163l3-2M219 163l3-2M223 162l3-1M227 161l3-2M231 159l3-2M235 157l3-2M239 156l3-3M243 156l3-4M247 155l3-4"/><path class="ge8" d="M80 173l3-3M84 174l3-2M88 175l3-2M92 175l3-1M96 175l3-1M100 176l3-1M104 178l3-2M108 180l3-2M112 182l3-2M116 183l3-2M120 184l3-2M124 186l3-3M128 187l3-2M132 189l3-2M136 190l3-2M140 190l3-3M144 189l3-2M148 188l3-2M152 187l3-3M156 186l3-3M160 184l3-2M164 183l3-2M168 182l3-2M172 181l3-2M176 179l3-2M179 177l4-3M183 175l4-3M187 174l3-4M191 172l3-3"/></g>
<g transform="matrix(0.3500 -0.0972 0 -0.2708 110.63 474.66)"><path d="M-3 60l4 11 4 3 4 27 4 65 4-1 4 0 4 1 4 1 4 1 4 1 4 0 4 0 4 0 4-2 3-1 4 0 4 1 4 1 4 1 4 2 4 2 4 2 4 1 4 1 4 0 4 1 4 1 4 2 4 2 4 1 4 1 4 1 4 2 4 2 4 1 4-1 4 0 4-1 4-2 4-1 4-1 4-1 4-1 4-1 4-2 3-3 4-2 4-2 4-1 4-2 4-2 4-2 4-2 4 0 4 0 4 0 4 0 4-2 4-2 4-2 4-2 4-1 4-1 3-4-4 1-4 2-4 3-4 2-4 2-4 2-4 0-4 0-4 0-4 0-4 1-4 2-4 2-4 1-4 2-3 1-4 3-4 3-4 2-4 2-4 1-4 0-4 1-4 1-4 2-4 1-4 1-4 0-4-1-4-1-4-2-4-1-4-1-4-1-4-2-4-1-4-1-4-1-4-1-4-1-4-2-4-2-4-3-4-2-4-1-4-1-4-1-3 1-4 1-4 1-4 0-4 0-4 0-4-1-4-1-4-1-4 0-4 0-4 1-4-77-4-31-4 4-4 4Z"/><path class="ge2" d="M-3 60l3 3M1 71l3-12M5 74l3-19"/><path class="ge3" d="M9 101l3-15"/><path class="ge7" d="M13 166l3-3M17 165l3-3M21 165l3-3M25 166l3-4M29 167l3-4M33 168l3-4M37 169l3-4M41 169l3-4M45 169l3-4M49 169l3-4M53 167l3-3M56 166l4-3M60 166l3-4M64 167l3-4M68 168l3-4M72 169l3-4M76 171l3-4M195 170l3-3M199 168l3-3M203 166l3-3M207 164l3-2M211 164l3-2M215 164l3-2M219 164l3-2M223 164l3-2M227 162l3-2M231 160l3-2M235 158l3-2M239 156l3-3M243 155l3-4M247 154l3-4"/><path class="ge8" d="M80 173l3-3M84 175l3-3M88 176l3-2M92 177l3-2M96 177l3-1M100 178l3-1M104 179l3-1M108 181l3-2M112 183l3-2M116 184l3-2M120 185l3-2M124 186l3-2M128 188l3-2M132 190l3-3M136 191l3-3M140 190l3-2M144 190l3-3M148 189l3-3M152 187l3-3M156 186l3-3M160 185l3-3M164 184l3-2M168 183l3-2M172 182l3-3M176 180l3-3M179 177l4-3M183 175l4-4M187 173l3-3M191 172l3-4"/></g>
<g transform="matrix(0.3500 -0.0972 0 -0.2708 111.70 475.17)"><path d="M-3 66l4-4 4-4 4 31 4 77 4-1 4 0 4 0 4 1 4 1 4 1 4 0 4 0 4 0 4-1 3-1 4-1 4 1 4 1 4 1 4 2 4 3 4 2 4 2 4 1 4 1 4 0 4 2 4 1 4 2 4 1 4 1 4 1 4 2 4 1 4 1 4 0 4-1 4-1 4-2 4-1 4-1 4 0 4-1 4-2 4-2 3-3 4-3 4-1 4-2 4-1 4-2 4-2 4-1 4 0 4 0 4 0 4 0 4-2 4-2 4-3 4-2 4-2 4-1 3-4-4 1-4 3-4 2-4 3-4 3-4 1-4 0-4 0-4 0-4 1-4 1-4 2-4 1-4 1-4 1-3 2-4 2-4 4-4 2-4 2-4 1-4 0-4 1-4 1-4 1-4 1-4 1-4 1-4 0-4-2-4-1-4-1-4-2-4-1-4-1-4-1-4-1-4-1-4-1-4-2-4-2-4-3-4-3-4-2-4-1-4-1-4 0-3 0-4 1-4 0-4 1-4 0-4 0-4 0-4 0-4-1-4 0-4 1-4 1-4-95-4-14-4 10-4 1Z"/><path class="ge2" d="M1 62l3 4M5 58l3-2"/><path class="ge3" d="M-3 66l3 1M9 89l3-19"/><path class="ge7" d="M13 166l3-1M17 165l3-1M21 165l3-2M25 165l3-2M29 166l3-2M33 167l3-3M37 168l3-4M41 168l3-4M45 168l3-4M49 168l3-5M53 167l3-4M56 166l4-4M60 165l3-3M64 166l3-4M68 167l3-4M72 168l3-4M76 170l3-4M191 171l3-3M195 170l3-3M199 168l3-2M203 166l3-2M207 165l3-2M211 165l3-3M215 165l3-3M219 165l3-3M223 165l3-3M227 163l3-2M231 161l3-3M235 158l3-3M239 156l3-3M243 154l3-4M247 153l3-4"/><path class="ge8" d="M80 173l3-4M84 175l3-3M88 177l3-3M92 178l3-2M96 179l3-2M100 179l3-1M104 181l3-2M108 182l3-2M112 184l3-3M116 185l3-3M120 186l3-2M124 187l3-2M128 189l3-3M132 190l3-2M136 191l3-3M140 191l3-4M144 190l3-4M148 189l3-4M152 187l3-3M156 186l3-3M160 185l3-3M164 185l3-3M168 184l3-3M172 182l3-3M176 180l3-3M179 177l4-4M183 174l4-3M187 173l3-4"/></g>
<g transform="matrix(0.3500 -0.0972 0 -0.2708 112.77 475.68)"><path d="M-3 70l4-1 4-10 4 14 4 95 4-1 4-1 4 0 4 1 4 0 4 0 4 0 4 0 4-1 4 0 3-1 4 0 4 0 4 1 4 1 4 2 4 3 4 3 4 2 4 2 4 1 4 1 4 1 4 1 4 1 4 1 4 2 4 1 4 1 4 1 4 1 4-1 4-1 4-1 4-1 4-1 4-1 4 0 4-1 4-2 4-2 3-4 4-2 4-2 4-1 4-1 4-1 4-2 4-1 4-1 4 0 4 0 4 0 4-1 4-3 4-3 4-2 4-3 4-1 3-4-4 2-4 2-4 3-4 3-4 3-4 1-4 0-4 0-4 0-4 1-4 2-4 1-4 1-4 1-4 1-3 1-4 3-4 3-4 2-4 2-4 1-4 0-4 1-4 1-4 1-4 1-4 2-4 1-4 0-4-1-4-2-4-1-4-2-4-1-4-1-4-1-4-1-4-1-4-1-4-1-4-3-4-3-4-3-4-3-4-1-4-1-4-1-3 1-4 0-4 1-4 0-4 1-4 0-4 1-4 0-4 0-4 1-4 0-4 1-4-110-4 3-4 24-4 13Z"/><path class="ge2" d="M5 59l3 0M9 73l3-17"/><path class="ge3" d="M1 69l3 14"/><path class="ge4" d="M-3 70l3 26"/><path class="ge7" d="M13 168l3-2M17 167l3-2M21 166l3-1M25 166l3-2M29 167l3-3M33 167l3-3M37 167l3-4M41 167l3-4M45 167l3-5M49 166l3-4M53 166l3-5M56 165l4-4M60 165l3-5M64 165l3-4M68 166l3-4M72 167l3-4M76 169l3-3M191 171l3-3M195 170l3-3M199 169l3-3M203 167l3-2M207 166l3-3M211 165l3-3M215 165l3-3M219 165l3-3M223 165l3-3M227 164l3-3M231 161l3-3M235 158l3-3M239 156l3-4M243 153l3-3M247 152l3-4"/><path class="ge8" d="M80 172l3-3M84 175l3-3M88 177l3-2M92 179l3-3M96 180l3-3M100 181l3-3M104 182l3-3M108 183l3-3M112 184l3-3M116 185l3-3M120 187l3-3M124 188l3-3M128 189l3-2M132 190l3-2M136 191l3-3M140 190l3-3M144 189l3-4M148 188l3-4M152 187l3-4M156 186l3-4M160 185l3-4M164 185l3-4M168 184l3-4M172 182l3-4M176 180l3-4M179 176l4-3M183 174l4-4M187 172l3-3"/></g>
<g transform="matrix(0.3500 -0.0972 0 -0.2708 113.83 476.19)"><path d="M-3 99l4-13 4-24 4-3 4 110 4-1 4 0 4-1 4 0 4 0 4-1 4 0 4-1 4 0 4-1 3 0 4-1 4 1 4 1 4 1 4 3 4 3 4 3 4 3 4 1 4 1 4 1 4 1 4 1 4 1 4 1 4 2 4 1 4 1 4 2 4 0 4-2 4-1 4-1 4-1 4-1 4-1 4 0 4-1 4-2 4-2 3-3 4-3 4-1 4-1 4-1 4-1 4-1 4-2 4-1 4 0 4 0 4 0 4-1 4-3 4-3 4-3 4-2 4-2 3-3-4 2-4 2-4 3-4 3-4 3-4 1-4 0-4 0-4 0-4 2-4 1-4 2-4 1-4 0-4 1-3 1-4 2-4 2-4 3-4 2-4 1-4 1-4 1-4 0-4 1-4 2-4 1-4 2-4 0-4-1-4-2-4-2-4-1-4-2-4 0-4-1-4-1-4-1-4-1-4-1-4-3-4-3-4-3-4-4-4-1-4-1-4 0-3 0-4 0-4 1-4 0-4 1-4 1-4 1-4 1-4 0-4 1-4 0-4 1-4-117-4 5-4 25-4 19Z"/><path class="ge2" d="M5 62l3-7M9 59l3-9"/><path class="ge3" d="M1 86l3-6"/><path class="ge4" d="M-3 99l3 0"/><path class="ge6" d="M247 151l3-3"/><path class="ge7" d="M13 169l3-2M17 168l3-2M21 168l3-2M25 167l3-2M29 167l3-2M33 167l3-3M37 166l3-3M41 166l3-4M45 165l3-4M49 165l3-4M53 164l3-4M56 164l4-4M60 163l3-3M64 164l3-4M68 165l3-4M72 166l3-4M76 169l3-3M191 171l3-3M195 170l3-2M199 169l3-2M203 168l3-3M207 166l3-2M211 165l3-3M215 165l3-3M219 165l3-3M223 165l3-3M227 164l3-3M231 161l3-3M235 158l3-3M239 155l3-3M243 153l3-3"/><path class="ge8" d="M80 172l3-3M84 175l3-3M88 178l3-3M92 179l3-3M96 180l3-3M100 181l3-3M104 182l3-3M108 183l3-3M112 184l3-4M116 185l3-3M120 187l3-4M124 188l3-3M128 189l3-2M132 191l3-3M136 191l3-3M140 189l3-3M144 188l3-3M148 187l3-4M152 186l3-4M156 185l3-3M160 184l3-3M164 184l3-4M168 183l3-4M172 181l3-4M176 179l3-5M179 176l4-4M183 173l4-3M187 172l3-3"/></g>
<g transform="matrix(0.3500 -0.0972 0 -0.2708 114.90 476.70)"><path d="M-3 102l4-19 4-25 4-5 4 117 4-1 4 0 4-1 4 0 4-1 4-1 4-1 4-1 4 0 4-1 3 0 4 0 4 0 4 1 4 1 4 4 4 3 4 3 4 3 4 1 4 1 4 1 4 1 4 0 4 1 4 2 4 1 4 2 4 2 4 1 4 0 4-2 4-1 4-2 4-1 4-1 4 0 4-1 4-1 4-2 4-3 3-2 4-2 4-1 4-1 4 0 4-1 4-2 4-1 4-2 4 0 4 0 4 0 4-1 4-3 4-3 4-3 4-2 4-2 3-3-4 2-4 3-4 2-4 3-4 2-4 2-4 0-4 1-4 0-4 2-4 2-4 1-4 1-4 0-4 0-3 1-4 1-4 2-4 2-4 2-4 2-4 1-4 1-4 1-4 1-4 2-4 2-4 1-4 0-4-1-4-1-4-2-4-3-4-1-4-1-4-1-4 0-4-1-4-1-4-2-4-2-4-3-4-3-4-4-4-1-4-1-4 0-3 0-4 0-4 0-4 1-4 0-4 1-4 2-4 1-4 0-4 1-4 0-4 1-4-125-4-4-4 20-4 12Z"/><path class="ge1" d="M5 58l3-20M9 53l3-11"/><path class="ge2" d="M1 83l3-25"/><path class="ge3" d="M-3 102l3-32"/><path class="ge7" d="M13 170l3-3M17 169l3-3M21 169l3-3M25 168l3-3M29 168l3-3M33 167l3-3M37 166l3-4M41 165l3-4M45 164l3-3M49 164l3-4M53 163l3-3M56 163l4-3M60 163l3-3M64 163l3-3M68 164l3-3M72 165l3-3M76 169l3-3M199 170l3-2M203 168l3-1M207 167l3-2M211 165l3-2M215 165l3-2M219 165l3-3M223 165l3-3M227 164l3-4M231 161l3-3M235 158l3-3M239 155l3-2M243 153l3-3M247 151l3-3"/><path class="ge8" d="M80 172l3-3M84 175l3-3M88 178l3-4M92 179l3-3M96 180l3-3M100 181l3-3M104 182l3-4M108 182l3-3M112 183l3-3M116 185l3-4M120 186l3-2M124 188l3-2M128 190l3-3M132 191l3-3M136 191l3-3M140 189l3-2M144 188l3-3M148 186l3-3M152 185l3-3M156 184l3-3M160 184l3-4M164 183l3-4M168 182l3-5M172 180l3-5M176 177l3-4M179 175l4-4M183 173l4-3M187 172l3-3M191 171l3-2M195 171l3-2"/></g>
<g transform="matrix(0.3500 -0.0972 0 -0.2708 115.97 477.21)"><path d="M-3 73l4-12 4-20 4 4 4 125 4-1 4 0 4-1 4 0 4-1 4-2 4-1 4 0 4-1 4 0 3 0 4 0 4 0 4 1 4 1 4 4 4 3 4 3 4 2 4 2 4 1 4 1 4 0 4 1 4 1 4 1 4 3 4 2 4 1 4 1 4 0 4-1 4-2 4-2 4-1 4-1 4-1 4-1 4-2 4-2 4-2 3-2 4-1 4-1 4 0 4 0 4-1 4-1 4-2 4-2 4 0 4-1 4 0 4-2 4-2 4-3 4-2 4-3 4-2 3-1-4 2-4 2-4 2-4 3-4 1-4 1-4 1-4 1-4 1-4 2-4 2-4 1-4 0-4 1-4 0-3 0-4 2-4 1-4 2-4 2-4 1-4 2-4 1-4 1-4 1-4 2-4 2-4 2-4 0-4-1-4-1-4-3-4-2-4-2-4-1-4-1-4-1-4-1-4-1-4-2-4-2-4-3-4-3-4-3-4-1-4 0-4 0-3 0-4 1-4 0-4 0-4 0-4 1-4 1-4 1-4 0-4 1-4 0-4 1-4-97-4-11-4 4-4 11Z"/><path class="ge2" d="M1 61l3 2M5 41l3 18"/><path class="ge3" d="M-3 73l3 1M9 45l3 25"/><path class="ge7" d="M13 170l3-3M17 169l3-3M21 169l3-3M25 168l3-3M29 168l3-3M33 167l3-3M37 165l3-2M41 164l3-2M45 164l3-2M49 163l3-1M53 163l3-1M56 163l4-2M60 163l3-2M64 163l3-2M68 164l3-3M72 165l3-3M76 169l3-4M203 170l3-2M207 168l3-2M211 166l3-2M215 166l3-3M219 165l3-3M223 165l3-4M227 163l3-3M231 161l3-2M235 158l3-2M239 156l3-2M243 153l3-1M247 151l3-1"/><path class="ge8" d="M80 172l3-4M84 175l3-4M88 177l3-4M92 179l3-4M96 180l3-4M100 181l3-4M104 181l3-3M108 182l3-3M112 183l3-3M116 184l3-2M120 187l3-3M124 189l3-2M128 190l3-2M140 190l3-3M144 188l3-3M148 186l3-3M152 185l3-3M156 184l3-3M160 183l3-3M164 182l3-4M168 180l3-3M172 178l3-3M176 176l3-3M179 174l4-2M183 173l4-3M187 172l3-2M191 172l3-2M195 172l3-3M199 171l3-2"/><path class="ge9" d="M132 191l3-2M136 191l3-2"/></g>
<g transform="matrix(0.3500 -0.0972 0 -0.2708 117.03 477.72)"><path d="M-3 77l4-11 4-4 4 11 4 97 4-1 4 0 4-1 4 0 4-1 4-1 4-1 4 0 4 0 4 0 3-1 4 0 4 0 4 0 4 1 4 3 4 3 4 3 4 2 4 1 4 2 4 1 4 1 4 1 4 1 4 2 4 2 4 3 4 1 4 1 4 0 4-2 4-2 4-2 4-1 4-1 4-1 4-2 4-1 4-2 4-2 3-1 4-2 4 0 4 0 4-1 4 0 4-1 4-2 4-2 4-1 4-1 4-1 4-1 4-1 4-3 4-2 4-2 4-2 3-1-4 2-4 2-4 2-4 1-4 1-4 1-4 1-4 2-4 1-4 2-4 2-4 0-4 1-4 0-4 0-3 1-4 1-4 2-4 2-4 1-4 1-4 2-4 1-4 1-4 2-4 2-4 2-4 2-4 0-4-1-4-1-4-3-4-2-4-2-4-2-4-1-4-2-4-1-4-2-4-2-4-1-4-2-4-3-4-2-4-1-4 0-4 1-3 0-4 1-4 0-4 0-4 0-4 0-4 0-4 1-4 0-4 0-4 0-4 1-4-72-4-18-4-10-4 10Z"/><path class="ge3" d="M-3 77l3-1M1 66l3 0M5 62l3 14"/><path class="ge4" d="M9 73l3 21"/><path class="ge7" d="M13 170l3-4M17 169l3-4M21 169l3-4M25 168l3-3M29 168l3-3M33 167l3-3M37 166l3-2M41 165l3-1M45 165l3-1M49 165l3-1M53 165l3-1M56 164l4-1M60 164l3-1M64 164l3-2M68 164l3-2M72 165l3-2M76 168l3-3M80 171l3-3M207 169l3-2M211 167l3-2M215 166l3-2M219 165l3-3M223 164l3-3M227 163l3-3M231 162l3-3M235 159l3-1M239 157l3-1M243 155l3-1M247 153l3-1"/><path class="ge8" d="M84 174l3-4M88 176l3-5M92 177l3-4M96 179l3-4M100 180l3-4M104 181l3-3M108 182l3-3M112 183l3-2M116 185l3-2M120 187l3-2M124 190l3-2M140 190l3-2M144 188l3-2M148 186l3-2M152 185l3-3M156 184l3-3M160 183l3-3M164 181l3-3M168 180l3-3M172 178l3-2M176 176l3-2M179 175l4-3M183 173l4-2M187 173l3-3M191 173l3-3M195 172l3-2M199 172l3-3M203 171l3-2"/><path class="ge9" d="M128 191l3-2M132 192l3-2M136 192l3-2"/></g>
<g transform="matrix(0.3500 -0.0972 0 -0.2708 118.10 478.23)"><path d="M-3 79l4-10 4 10 4 18 4 72 4-1 4 0 4 0 4 0 4-1 4 0 4 0 4 0 4 0 4 0 3-1 4 0 4-1 4 0 4 1 4 2 4 3 4 2 4 1 4 2 4 1 4 2 4 2 4 1 4 2 4 2 4 2 4 3 4 1 4 1 4 0 4-2 4-2 4-2 4-2 4-1 4-1 4-2 4-1 4-1 4-2 3-2 4-1 4-1 4 0 4 0 4-1 4 0 4-2 4-2 4-1 4-2 4-1 4-1 4-1 4-1 4-2 4-2 4-2 3-1-4 2-4 1-4 2-4 1-4 1-4 1-4 1-4 1-4 2-4 1-4 1-4 1-4 1-4 0-4 1-3 1-4 2-4 2-4 1-4 1-4 1-4 1-4 1-4 2-4 1-4 2-4 2-4 2-4 0-4-1-4-1-4-2-4-3-4-2-4-2-4-2-4-2-4-2-4-2-4-1-4-2-4-1-4-2-4-2-4 0-4 0-4 1-3 1-4 1-4 0-4 0-4-1-4 0-4 0-4 0-4 0-4 0-4 0-4 0-4-66-4-18-4-14-4-1Z"/><path class="ge3" d="M-3 79l3-13M1 69l3-2M5 79l3 2"/><path class="ge4" d="M9 97l3 2"/><path class="ge7" d="M13 169l3-4M17 168l3-3M21 168l3-3M25 168l3-3M29 168l3-3M33 167l3-2M37 167l3-2M41 167l3-2M45 167l3-1M49 167l3-1M53 167l3-1M56 166l4-1M60 166l3-2M64 165l3-2M68 165l3-2M72 166l3-3M76 168l3-3M80 171l3-4M207 170l3-3M211 168l3-2M215 167l3-3M219 165l3-2M223 164l3-2M227 163l3-2M231 162l3-2M235 161l3-2M239 159l3-2M243 157l3-1M247 155l3-1"/><path class="ge8" d="M84 173l3-5M88 174l3-4M92 176l3-5M96 177l3-4M100 179l3-4M104 181l3-4M108 182l3-3M112 184l3-3M116 186l3-3M120 188l3-2M124 191l3-3M140 191l3-3M144 189l3-3M148 187l3-3M152 185l3-2M156 184l3-3M160 183l3-3M164 181l3-2M168 180l3-2M172 179l3-2M176 177l3-1M179 175l4-1M183 174l4-2M187 173l3-2M191 173l3-3M195 173l3-3M199 172l3-3M203 172l3-4"/><path class="ge9" d="M128 192l3-3M132 193l3-3M136 193l3-3"/></g>
<g transform="matrix(0.3500 -0.0972 0 -0.2708 119.17 478.74)"><path d="M-3 69l4 1 4 14 4 18 4 66 4 0 4 0 4 0 4 0 4 0 4 0 4 0 4 1 4 0 4 0 3-1 4-1 4-1 4 0 4 0 4 2 4 2 4 1 4 2 4 1 4 2 4 2 4 2 4 2 4 2 4 2 4 3 4 2 4 1 4 1 4 0 4-2 4-2 4-2 4-1 4-2 4-1 4-1 4-1 4-1 4-1 3-2 4-2 4-1 4-1 4 0 4-1 4-1 4-1 4-1 4-2 4-1 4-1 4-1 4-1 4-1 4-2 4-1 4-2 3-2-4 2-4 2-4 1-4 1-4 1-4 0-4 1-4 1-4 1-4 2-4 1-4 1-4 0-4 1-4 1-3 2-4 2-4 2-4 2-4 1-4 0-4 1-4 1-4 1-4 2-4 1-4 2-4 1-4 1-4-1-4-1-4-2-4-2-4-3-4-2-4-2-4-2-4-3-4-2-4-1-4-1-4-2-4-1-4-2-4 0-4 1-4 1-3 1-4 1-4 1-4-1-4 0-4-1-4 0-4 0-4 0-4 0-4-1-4 0-4-72-4-6-4-18-4-13Z"/><path class="ge2" d="M-3 69l3-13"/><path class="ge3" d="M1 70l3-1"/><path class="ge4" d="M5 84l3 3M9 102l3-9"/><path class="ge7" d="M13 168l3-3M17 168l3-3M21 168l3-2M25 168l3-2M29 168l3-2M33 168l3-2M37 168l3-2M41 168l3-1M45 169l3-2M49 169l3-1M53 169l3-2M56 168l4-2M60 167l3-2M64 166l3-2M68 166l3-3M72 166l3-3M76 168l3-3M80 170l3-4M84 171l3-3M203 171l3-3M207 170l3-3M211 169l3-4M215 167l3-3M219 166l3-3M223 165l3-3M227 164l3-2M231 163l3-2M235 162l3-2M239 160l3-1M243 159l3-2M247 157l3-2"/><path class="ge8" d="M88 173l3-4M92 174l3-4M96 176l3-4M100 178l3-3M104 180l3-3M108 182l3-3M112 184l3-3M116 186l3-2M120 189l3-3M124 191l3-3M140 191l3-3M144 189l3-3M148 187l3-2M152 186l3-3M156 184l3-2M160 183l3-2M164 182l3-2M168 181l3-1M172 180l3-1M176 179l3-2M179 177l4-2M183 175l4-2M187 174l3-3M191 173l3-3M195 173l3-4M199 172l3-3"/><path class="ge9" d="M128 192l3-3M132 193l3-3M136 193l3-4"/></g>
<g transform="matrix(0.3500 -0.0972 0 -0.2708 120.23 479.26)"><path d="M-3 59l4 13 4 18 4 6 4 72 4 0 4 1 4 0 4 0 4 0 4 0 4 1 4 0 4 1 4-1 3-1 4-1 4-1 4-1 4 0 4 2 4 1 4 2 4 1 4 1 4 2 4 3 4 2 4 2 4 2 4 3 4 2 4 2 4 1 4 1 4-1 4-1 4-2 4-1 4-2 4-1 4-1 4-1 4-1 4 0 4-2 3-2 4-2 4-2 4-1 4-1 4-1 4 0 4-1 4-2 4-1 4-1 4-1 4 0 4-1 4-1 4-1 4-2 4-2 3-2-4 1-4 2-4 1-4 1-4 1-4 1-4 0-4 1-4 1-4 1-4 1-4 1-4 1-4 1-4 1-3 3-4 2-4 3-4 1-4 1-4 0-4 1-4 1-4 1-4 1-4 1-4 2-4 1-4 0-4 0-4-1-4-74-4-35-4 81-4-81-4 85-4-102-4 4-4 60-4 39-4-7-4-45-4-4-4-41-4 93-4-53-4 5-3-26-4-12-4-20-4 79-4-44-4 7-4 62-4-2-4-84-4 71-4-46-4 30-4-31-4-1-4-7-4-8Z"/><path class="ge2" d="M49 171l3-116M96 175l3-109M100 178l3-116"/><path class="ge3" d="M-3 59l3 22M25 169l3-96M53 170l3-95M56 169l4-82M72 166l3-98M108 182l3-103M116 187l3-108"/><path class="ge4" d="M1 72l3 17M5 90l3 6M9 96l3 1M17 168l3-70M37 169l3-72M41 170l3-80"/><path class="ge5" d="M60 168l3-55M64 167l3-59M76 168l3-59M80 169l3-56M92 173l3-47M120 189l3-75"/><path class="ge6" d="M13 168l3-40M21 169l3-25M45 170l3-36"/><path class="ge7" d="M29 169l3-12M33 169l3-10M68 166l3-5M84 171l3-13M88 172l3-7M104 180l3-16M112 184l3-24M199 171l3-3M203 171l3-4M207 170l3-4M211 168l3-3M215 167l3-3M219 166l3-3M223 165l3-2M227 165l3-3M231 164l3-3M235 163l3-3M239 162l3-3M243 160l3-3M247 158l3-2"/><path class="ge8" d="M124 191l3-3M140 191l3-3M144 189l3-3M148 188l3-3M152 186l3-2M156 185l3-2M160 184l3-2M164 183l3-2M168 182l3-1M172 182l3-2M176 180l3-1M179 178l4-2M183 176l4-2M187 174l3-3M191 173l3-3M195 172l3-3"/><path class="ge9" d="M128 192l3-3M132 193l3-4M136 192l3-3"/></g>
<g transform="matrix(0.3500 -0.0972 0 -0.2708 121.30 479.77)"><path d="M-3 84l4 8 4 7 4 1 4 31 4-30 4 46 4-71 4 84 4 2 4-62 4-7 4 44 4-79 4 20 3 11 4 27 4-5 4 53 4-93 4 41 4 4 4 45 4 7 4-39 4-60 4-4 4 102 4-85 4 81 4-81 4 35 4 74 4 1 4 0 4 0 4-1 4-2 4-1 4-1 4-1 4-1 4-1 4 0 4-1 4-1 3-3 4-2 4-3 4-1 4-1 4-1 4-1 4-1 4-1 4-1 4-1 4 0 4-1 4-1 4-1 4-1 4-2 4-1 3-4-4 1-4 2-4 1-4 2-4 1-4 1-4 1-4 0-4 1-4 0-4 1-4 1-4 1-4 2-4 2-3 2-4 3-4 2-4 2-4 0-4 1-4 1-4 0-4 2-4 1-4 1-4 1-4 2-4 0-4-1-4-1-4-69-4-38-4 70-4-76-4 92-4-103-4 3-4 65-4 41-4-6-4-46-4-18-4-34-4 92-4-56-4 4-3-20-4-18-4-6-4 74-4-54-4 6-4 78-4-1-4-90-4 68-4-38-4 39-4-45-4-6-4-1-4-2Z"/><path class="ge2" d="M49 58l3 7M100 65l3-1"/><path class="ge3" d="M25 76l3 2M41 93l3-8M53 78l3-7M72 71l3-2M96 69l3-2M108 82l3-7M116 82l3-1"/><path class="ge4" d="M-3 84l3 9M1 92l3 3M5 99l3-3M9 100l3 2M37 100l3-9M56 89l4 0M64 111l3-6M76 112l3-9"/><path class="ge5" d="M17 101l3 7M60 116l3-7M80 116l3 5M120 117l3 2"/><path class="ge6" d="M13 131l3 16M21 147l3-1M45 137l3 2M92 129l3 3"/><path class="ge7" d="M29 160l3 8M68 164l3-3M84 161l3 6M104 167l3 0M112 163l3-12M195 172l3-4M199 171l3-4M203 170l3-4M207 169l3-4M211 168l3-3M215 167l3-3M219 166l3-2M223 166l3-3M227 165l3-3M231 164l3-3M235 163l3-4M239 162l3-4M243 160l3-4M247 159l3-4"/><path class="ge8" d="M33 162l3 7M88 168l3 5M124 191l3-3M128 192l3-3M140 191l3-3M144 189l3-2M148 188l3-2M152 187l3-2M156 186l3-3M160 185l3-2M164 184l3-2M168 184l3-3M172 183l3-2M176 182l3-3M179 179l4-2M183 177l4-3M187 174l3-2M191 173l3-3"/><path class="ge9" d="M132 192l3-2M136 192l3-2"/></g>
<g transform="matrix(0.3500 -0.0972 0 -0.2708 122.37 480.28)"><path d="M-3 96l4 2 4 1 4 6 4 45 4-39 4 38 4-68 4 90 4 1 4-78 4-6 4 54 4-74 4 6 3 18 4 20 4-4 4 56 4-92 4 34 4 18 4 46 4 6 4-41 4-65 4-3 4 103 4-92 4 76 4-70 4 38 4 69 4 1 4 0 4 1 4-2 4-1 4-1 4-1 4-2 4 0 4-1 4-1 4 0 4-2 3-2 4-3 4-2 4-2 4-2 4-1 4-1 4-1 4 0 4-1 4 0 4-1 4-1 4-1 4-2 4-1 4-2 4-1 3-5-4 2-4 1-4 2-4 2-4 2-4 2-4 0-4 1-4 0-4 0-4 1-4 1-4 1-4 2-4 2-3 3-4 3-4 2-4 2-4 0-4 1-4 0-4 1-4 2-4 1-4 1-4 1-4 2-4-1-4-1-4-1-4-70-4-37-4 79-4-74-4 79-4-106-4 14-4 66-4 32-4-5-4-43-4-17-4-38-4 99-4-50-4-6-3-15-4-24-4-9-4 79-4-48-4 10-4 65-4-4-4-88-4 77-4-41-4 33-4-47-4-1-4-9-4-11Z"/><path class="ge2" d="M49 68l3-5M100 67l3-8"/><path class="ge3" d="M-3 96l3-18M25 81l3-4M53 74l3-2M72 72l3-4M96 70l3 3M108 78l3 8M116 84l3-3"/><path class="ge4" d="M1 98l3-9M5 99l3-1M9 105l3-6M37 94l3 10M41 88l3 6M56 92l4 4M76 106l3 0"/><path class="ge5" d="M17 111l3 2M60 112l3-1M64 108l3 9M80 124l3-1M120 122l3-4"/><path class="ge6" d="M13 150l3-4M45 142l3 0M92 135l3 4"/><path class="ge7" d="M21 149l3 5M29 171l3-6M68 164l3 3M84 170l3-4M104 170l3-5M112 154l3 6M195 171l3-3M199 170l3-3M203 169l3-3M207 168l3-3M211 168l3-3M215 167l3-2M219 167l3-3M223 166l3-2M227 165l3-3M231 164l3-4M235 162l3-4M239 161l3-5M243 159l3-4M247 158l3-5"/><path class="ge8" d="M33 172l3-3M88 176l3-5M124 191l3-3M144 190l3-2M148 189l3-2M152 188l3-2M156 186l3-2M160 186l3-3M164 185l3-2M168 184l3-2M172 184l3-2M176 182l3-2M179 180l4-2M183 177l4-2M187 175l3-3M191 173l3-3"/><path class="ge9" d="M128 192l3-3M132 192l3-2M136 193l3-2M140 191l3-2"/></g>
<g transform="matrix(0.3500 -0.0972 0 -0.2708 123.43 480.79)"><path d="M-3 81l4 11 4 9 4 1 4 47 4-33 4 41 4-77 4 88 4 4 4-65 4-10 4 48 4-79 4 9 3 24 4 15 4 6 4 50 4-99 4 38 4 17 4 43 4 5 4-32 4-66 4-14 4 106 4-79 4 74 4-79 4 37 4 70 4 1 4 1 4 1 4-2 4-1 4-1 4-1 4-2 4-1 4 0 4-1 4 0 4-2 3-2 4-3 4-3 4-2 4-2 4-1 4-1 4-1 4 0 4 0 4-1 4 0 4-2 4-2 4-2 4-2 4-1 4-2 3-5-4 2-4 2-4 2-4 2-4 3-4 2-4 1-4 1-4-1-4 1-4 0-4 1-4 2-4 2-4 2-3 3-4 3-4 2-4 2-4 0-4 1-4 0-4 1-4 2-4 1-4 2-4 1-4 1-4-1-4-2-4-1-4-72-4-41-4 81-4-77-4 76-4-94-4 14-4 56-4 42-4-3-4-50-4-9-4-46-4 99-4-49-4-4-3-18-4-12-4-8-4 69-4-59-4 6-4 67-4 3-4-82-4 72-4-31-4 32-4-53-4 12-4-9-4-27Z"/><path class="ge2" d="M72 71l3-6M100 62l3-1"/><path class="ge3" d="M-3 81l3-8M25 80l3-3M41 97l3-14M49 66l3 7M53 75l3 6M96 76l3-1M108 89l3-10M116 84l3-9"/><path class="ge4" d="M1 92l3 8M9 102l3-5M37 107l3-18M56 99l4-6"/><path class="ge5" d="M5 101l3 8M17 116l3 2M60 114l3-3M64 120l3-5M76 109l3 2M80 126l3-6M120 121l3-5"/><path class="ge6" d="M45 145l3-3M92 142l3-11"/><path class="ge7" d="M13 149l3 1M21 157l3-8M29 168l3-9M33 172l3-16M68 170l3-6M104 168l3-13M112 163l3-7M199 170l3-3M203 169l3-3M207 168l3-2M211 168l3-3M215 168l3-2M219 167l3-2M223 167l3-3M227 165l3-3M231 163l3-4M235 161l3-4M239 159l3-4M243 158l3-5M247 156l3-5"/><path class="ge8" d="M84 169l3 1M88 174l3-1M124 191l3-3M148 190l3-2M152 189l3-2M156 187l3-2M160 186l3-2M164 186l3-2M168 185l3-2M172 185l3-2M176 183l3-2M179 181l4-2M183 178l4-2M187 175l3-2M191 173l3-2M195 171l3-2"/><path class="ge9" d="M128 192l3-3M132 193l3-2M136 194l3-2M140 192l3-1M144 191l3-1"/></g>
<g transform="matrix(0.3500 -0.0972 0 -0.2708 124.50 481.30)"><path d="M-3 76l4 27 4 9 4-12 4 53 4-32 4 31 4-72 4 82 4-3 4-67 4-6 4 59 4-69 4 8 3 12 4 18 4 4 4 49 4-99 4 46 4 9 4 50 4 3 4-42 4-56 4-14 4 94 4-76 4 77 4-81 4 41 4 72 4 1 4 2 4 1 4-1 4-1 4-2 4-1 4-2 4-1 4 0 4-1 4 0 4-2 3-2 4-3 4-3 4-2 4-2 4-2 4-1 4 0 4-1 4 1 4-1 4-1 4-2 4-3 4-2 4-2 4-2 4-2 3-4-4 2-4 2-4 2-4 3-4 4-4 2-4 1-4 0-4 0-4 0-4 1-4 1-4 1-4 2-4 3-3 3-4 3-4 2-4 1-4 1-4 0-4 1-4 1-4 2-4 1-4 2-4 1-4 1-4-1-4-2-4-2-4-74-4-34-4 86-4-77-4 59-4-86-4 11-4 47-4 53-4 1-4-53-4-4-4-49-4 92-4-43-4-15-3-27-4 11-4-2-4 57-4-50-4 3-4 67-4-11-4-70-4 70-4-29-4 27-4-57-4 29-4-13-4-51Z"/><path class="ge2" d="M-3 76l3-20M100 64l3-2"/><path class="ge3" d="M25 80l3 0M49 76l3 8M53 84l3 2M56 96l4-21M72 68l3 0M96 78l3-5M116 78l3 2"/><path class="ge4" d="M1 103l3 4M9 100l3-9M37 92l3 2M41 86l3 5M60 114l3-12M108 82l3 7"/><path class="ge5" d="M5 112l3 8M17 121l3 0M64 118l3-1M76 114l3 3M80 123l3-2M92 134l3-14M120 119l3-5"/><path class="ge6" d="M13 153l3-5M45 145l3-4"/><path class="ge7" d="M21 152l3-2M29 162l3-12M33 159l3 2M68 167l3-7M104 158l3-10M112 159l3 7M199 170l3-2M203 169l3-2M207 169l3-3M211 168l3-2M215 169l3-3M219 168l3-2M223 167l3-2M227 165l3-2M231 162l3-3M235 160l3-4M239 158l3-4M243 156l3-4M247 154l3-4"/><path class="ge8" d="M84 173l3 1M88 176l3-3M124 191l3-3M152 190l3-2M156 188l3-2M160 187l3-2M164 187l3-3M168 186l3-2M172 186l3-3M176 184l3-2M179 182l4-2M183 179l4-2M187 176l3-2M191 174l3-3M195 172l3-3"/><path class="ge9" d="M128 192l3-2M132 194l3-2M136 195l3-2M140 194l3-2M144 193l3-2M148 191l3-2"/></g>
</g>
<path d="M57.3 449.1L57.3 381.4M57.3 449.1L124.5 481.3L212 457M57.3 449.1h-1.2M57.3 435.6h-1.2M57.3 422h-1.2M57.3 408.5h-1.2M57.3 394.9h-1.2M57.3 381.4h-1.2M124.5 481.3l-1.1 -0.5M151.8 473.7l-1.1 -0.5M179.2 466.1l-1.1 -0.5M206.5 458.5l-1.1 -0.5M124.5 481.3l1.2 -0.3M103.5 471.2l1.2 -0.3M82.5 461.2l1.2 -0.3M61.5 451.1l1.2 -0.3" stroke="#4d4d4d" stroke-width="0.6" fill="none"/>
<g font-family="Liberation Sans, Arial, sans-serif" font-size="5.2" fill="#333333"><text x="53.3" y="450.4" text-anchor="end">0</text><text x="53.3" y="436.9" text-anchor="end">50</text><text x="53.3" y="423.3" text-anchor="end">100</text><text x="53.3" y="409.8" text-anchor="end">150</text><text x="53.3" y="396.2" text-anchor="end">200</text><text x="53.3" y="382.7" text-anchor="end">250</text><text x="127.5" y="488.5">0</text><text x="154.8" y="480.9">20</text><text x="182.2" y="473.3">40</text><text x="209.5" y="465.7">60</text><text x="120.2" y="488.5" text-anchor="end">0</text><text x="99.2" y="478.4" text-anchor="end">20</text><text x="78.2" y="468.4" text-anchor="end">40</text><text x="57.2" y="458.3" text-anchor="end">60</text></g>
<path d="M47.4 109.2L47.4 32.4M79.2 100.3L79.2 23.5M111 91.5L111 14.7M142.8 82.6L142.8 5.8M47.4 109.2L142.8 82.6M216 117.6L142.8 82.6M47.4 93.8L142.8 67.2M216 102.2L142.8 67.2M47.4 78.5L142.8 51.9M216 86.9L142.8 51.9M47.4 63.1L142.8 36.5M216 71.5L142.8 36.5M47.4 47.8L142.8 21.2M216 56.2L142.8 21.2M47.4 32.4L142.8 5.8M216 40.8L142.8 5.8M216 117.6L216 40.8M191.6 105.9L191.6 29.1M167.2 94.3L167.2 17.5M142.8 82.6L142.8 5.8M120.6 144.2L47.4 109.2M152.4 135.3L79.2 100.3M184.2 126.5L111 91.5M216 117.6L142.8 82.6M120.6 144.2L216 117.6M96.2 132.5L191.6 105.9M71.8 120.9L167.2 94.3M47.4 109.2L142.8 82.6M142.8 82.6L142.8 5.8M47.4 32.4L142.8 5.8M216 40.8L142.8 5.8M216 117.6L216 40.8" stroke="#e6e6e6" stroke-width="0.6" fill="none"/>
<g class="ga">
<g transform="matrix(0.3816 -0.1064 0 -0.3072 59.27 114.88)"><path d="M-3 38l4 11 4 72 4-6 4 6 3 20 4-15 4 0 4 0 4-8 4-2 4 6 4 15 3 4 4-7 4-10 4 1 4 4 4-12 4-4 4 9 3-36 4-14 4 28 4 9 4 10 4-1 4-20 4-6 4 12 3 6 4 1 4 11 4-4 4-9 4 2 4-2 4 16 3 15 4-26 4-19 4 10 4 27 4-9 4-7 4-20 3 3 4 16 4 7 4-6 4 6 4 6 4 5 4 9 3-22 4-22 3-2-4 20-3 19-4-7-4-1-4 21-4-3-4 6-4-7-4-17-3-3-4 19-4 7-4 13-4-26-4-12-4 20-4 28-3-19-4-16-4-3-4-26-4 4-4 6-4-9-4-1-4-6-3-12-4 7-4 17-4-1-4-7-4-17-4-15-4 6-3 24-4-8-4 12-4-5-4-2-4 0-4 5-4 7-3 22-4-33-4-7-4 4-4 21-4 38-4 4-4 5-3-3-4 15-4-11-4-118-4-20Z"/><path class="ga0" d="M-3 38l3-7"/><path class="ga1" d="M1 49l3 2"/><path class="ga2" d="M82 72l3 3"/><path class="ga3" d="M36 116l3-20M71 113l3-16M78 86l3-5M86 100l3-10M106 92l3-1M210 98l3-2"/><path class="ga4" d="M32 118l3-18M40 122l3-19M47 141l3-27M51 134l3-27M55 124l3-22M59 125l3-23M63 129l3-25M67 117l3-8M75 122l3-17M90 109l3-2M94 119l3-5M98 118l3-3M102 98l3 0M110 104l2-1M113 110l3-1M117 111l3-1M125 118l3-5M129 109l3 0M206 120l3-4"/><path class="ga5" d="M28 126l3-5M121 122l3-3M152 95l3 30M172 96l3 28M175 99l3 28M195 128l3-1M199 133l3-5"/><path class="ga6" d="M44 137l3-1M133 111l3 24M137 109l3 29M148 114l3 31M156 105l3 32M164 123l3 27M168 116l3 27M179 115l3 29M183 122l3 29M187 116l3 29M191 122l3 26M203 142l3-7"/><path class="ga7" d="M5 121l3 48M13 121l3 44M16 141l3 27M20 126l3 37M24 126l3 33M141 125l3 29M160 132l3 31"/><path class="ga8" d="M9 115l3 65M144 140l3 33"/></g>
<g transform="matrix(0.3816 -0.1064 0 -0.3072 60.41 115.42)"><path d="M-3 34l4 20 4 117 4 12 4-16 3 3 4-4 4-4 4-38 4-21 4-4 4 7 4 32 3-21 4-7 4-5 4 0 4 2 4 4 4-11 4 8 3-24 4-6 4 15 4 17 4 7 4 1 4-17 4-7 4 12 3 6 4 1 4 9 4-6 4-4 4 26 4 3 4 16 3 18 4-27 4-20 4 11 4 26 4-12 4-8 4-18 3 3 4 16 4 8 4-6 4 3 4-21 4 1 4 7 3-19 4-20 3-2-4 18-3 18-4-6-4 0-4 25-4-3-4 5-4-6-4-12-3-2-4 9-4 7-4 16-4-18-4-11-4 17-4 23-3-19-4-14-4-5-4-29-4 1-4 8-4-5-4 0-4-7-3-13-4 9-4 11-4-3-4-1-4-17-4-2-4-7-3 14-4-5-4 3-4 4-4-1-4 0-4 6-4 2-3 10-4-20-4-3-4 7-4 8-4 53-4 6-4 2-3 0-4 17-4-14-4-119-4-20Z"/><path class="ga0" d="M-3 34l3 0"/><path class="ga1" d="M1 54l3 0"/><path class="ga3" d="M36 99l3-5M40 106l3-9M67 111l3-15M71 100l3-7M78 84l3 0M82 78l3 13M86 93l3 0M106 94l3 0M210 99l3-2"/><path class="ga4" d="M28 124l3-15M32 103l3-2M44 138l3-21M47 117l3-10M51 110l3-5M55 105l3-6M59 105l3-6M63 107l3-7M75 108l3-10M90 110l3 0M94 117l3-6M98 118l3-4M102 101l3 2M110 106l2 1M113 112l3 2M117 113l3 1M125 116l3-5M129 112l3-2M206 119l3-4"/><path class="ga5" d="M121 122l3-3M172 127l3 7M195 130l3-3M199 131l3-4M203 138l3-5"/><path class="ga6" d="M133 138l3 1M137 141l3 3M152 128l3 9M156 139l3 9M164 153l3-3M168 145l3-2M175 130l3 6M179 146l3 2M187 148l3 1M191 151l3 1"/><path class="ga7" d="M13 167l3 3M16 170l3 0M20 166l3 2M24 162l3 0M141 157l3 1M148 148l3 6M160 165l3 1M183 154l3 0"/><path class="ga8" d="M5 171l3 2M9 183l3 4M144 175l3 2"/></g>
<g transform="matrix(0.3816 -0.1064 0 -0.3072 61.54 115.96)"><path d="M-3 37l4 20 4 119 4 14 4-17 3 0 4-2 4-7 4-53 4-7 4-7 4 3 4 19 3-10 4-2 4-5 4 0 4 1 4-5 4-2 4 5 3-15 4 8 4 2 4 17 4 1 4 2 4-10 4-9 4 13 3 7 4 0 4 4 4-8 4 0 4 29 4 5 4 14 3 19 4-24 4-16 4 11 4 18 4-16 4-7 4-9 3 2 4 11 4 7 4-5 4 3 4-25 4 0 4 6 3-19 4-17 3-2-4 15-3 17-4-5-4 1-4 26-4-2-4 4-4-6-4-4-3-2-4-2-4 5-4 20-4-9-4-9-4 10-4 19-3-19-4-10-4-6-4-22-4-1-4 9-4 1-4 0-4-8-3-13-4 6-4 4-4-5-4 7-4-17-4 8-4-21-3 10-4-7-4-1-4 19-4-8-4-2-4 10-4-6-3-5-4-6-4 1-4 13-4-1-4 55-4 6-4 2-3-1-4 1-4-13-4-105-4-15Z"/><path class="ga0" d="M-3 37l3-1"/><path class="ga1" d="M1 57l3-6"/><path class="ga3" d="M36 97l3-3M40 100l3-7M67 98l3-7M71 96l3-4M78 86l3 3M210 100l3-2"/><path class="ga4" d="M28 111l3-5M32 104l3 3M44 119l3-20M47 109l3-5M51 107l3 3M55 102l3-2M59 102l3 0M63 103l3 7M75 101l3-2M82 94l3 16M86 96l3 6M94 114l3-2M98 116l3 1M102 106l3 7M106 97l3 10M206 117l3-4"/><path class="ga5" d="M90 113l3 6M110 110l2 10M113 117l3 11M117 117l3 11M121 121l3 6M125 113l3 5M129 113l3 6M195 130l3-4M199 130l3-5M203 136l3-6"/><path class="ga6" d="M133 142l3-1M137 147l3 0M152 140l3 7M164 153l3-8M168 146l3-6M172 137l3 5M175 139l3 5M179 150l3-2M187 152l3-2M191 155l3-3"/><path class="ga7" d="M5 176l3-20M9 190l3-21M13 173l3-5M16 173l3-4M20 171l3-4M24 164l3-3M141 161l3-4M148 156l3 1M156 151l3 5M160 169l3-4M183 157l3-3"/><path class="ga8" d="M144 180l3-4"/></g>
<g transform="matrix(0.3816 -0.1064 0 -0.3072 62.68 116.51)"><path d="M-3 38l4 16 4 104 4 14 4-2 3 2 4-2 4-6 4-55 4 1 4-13 4-2 4 7 3 4 4 7 4-10 4 2 4 7 4-18 4 1 4 7 3-11 4 21 4-7 4 16 4-6 4 4 4-3 4-6 4 13 3 8 4-1 4 0 4-9 4 1 4 22 4 6 4 10 3 19 4-20 4-10 4 10 4 9 4-20 4-5 4 2 3 2 4 4 4 6 4-4 4 2 4-26 4-1 4 5 3-17 4-15 3-1-4 12-3 15-4-4-4 2-4 27-4-1-4 4-4-6-4 5-3-2-4-15-4 4-4 23-4-1-4-9-4 2-4 18-3-17-4-8-4 1-4 34-4 4-4 8-4 3-4 1-4-7-3-14-4-29-4 0-4-6-4 17-4-35-4-20-4-15-3 17-4-14-4-2-4 41-4-18-4-11-4 12-4-13-3-9-4-4-4 3-4 12-4 0-4 56-4 5-4 2-3-1-4 0-4-14-4-102-4-20Z"/><path class="ga0" d="M-3 38l3-7"/><path class="ga1" d="M1 54l3-3"/><path class="ga3" d="M36 97l3-4M40 95l3-5M44 102l3-8M67 94l3-2M71 95l3-1M78 91l3 0"/><path class="ga4" d="M28 109l3-4M32 110l3-5M47 106l3-3M51 113l3 3M55 103l3 1M59 105l3 10M75 102l3 6M82 112l3-6M206 116l3-4M210 101l3-1"/><path class="ga5" d="M63 112l3 21M86 105l3 21M195 129l3-4M199 128l3-5M203 133l3-6"/><path class="ga6" d="M5 158l3-5M94 115l3 29M98 119l3 31M102 116l3 34M133 144l3 6M137 150l3-1M164 148l3-7M168 143l3-6M172 145l3 7M179 151l3-2M187 153l3-2M191 155l3-3"/><path class="ga7" d="M9 172l3-5M13 170l3-3M16 172l3-4M20 170l3-4M24 164l3-3M90 121l3 40M141 160l3-3M148 159l3-3M152 149l3 5M156 159l3 4M160 168l3-4M175 147l3 7M183 157l3-2"/><path class="ga8" d="M106 110l3 69M125 121l3 67M129 122l3 62M144 179l3-5"/><path class="ga9" d="M110 123l2 70M113 131l3 69M117 130l3 69M121 130l3 66"/></g>
<g transform="matrix(0.3816 -0.1064 0 -0.3072 63.81 117.05)"><path d="M-3 34l4 20 4 102 4 13 4 1 3 0 4-1 4-5 4-56 4 0 4-12 4-3 4 3 3 10 4 13 4-12 4 11 4 17 4-41 4 2 4 14 3-16 4 15 4 20 4 34 4-16 4 6 4-1 4 30 4 14 3 7 4-1 4-3 4-8 4-4 4-34 4-1 4 7 3 18 4-18 4-3 4 10 4 0 4-22 4-4 4 15 3 2 4-5 4 6 4-4 4 1 4-27 4-2 4 3 3-15 4-12 3-1-4 10-3 13-4-3-4 2-4 29-4 1-4 3-4-6-4 14-3-2-4-25-4 3-4 23-4 3-4-8-4-6-4 18-3-15-4-5-4 2-4 43-4 4-4 7-4 5-4 1-4-7-3-13-4-37-4-8-4 17-4 9-4-44-4-29-4-5-3 22-4-20-4-7-4 45-4-8-4-13-4-2-4-10-3-9-4-5-4 7-4 19-4-9-4 56-4 4-4 2-3 0-4 0-4-13-4-99-4-25Z"/><path class="ga0" d="M-3 34l3-4"/><path class="ga1" d="M1 54l3 1"/><path class="ga3" d="M36 96l3-1M40 93l3-5M44 96l3-3M67 94l3-4M71 96l3 1M78 94l3 1"/><path class="ga4" d="M28 108l3-3M32 108l3 6M47 106l3-4M51 119l3-7M55 107l3 7M82 109l3-9M206 114l3-3M210 102l3-1"/><path class="ga5" d="M59 118l3 9M63 135l3 0M75 110l3 7M86 129l3 0M195 128l3-5M199 126l3-5M203 129l3-5"/><path class="ga6" d="M98 153l3-6M133 153l3-1M137 152l3-2M148 159l3-7M164 144l3-4M168 140l3-3M179 152l3-2M187 154l3-1M191 155l3-3"/><path class="ga7" d="M5 156l3-2M9 169l3-2M13 170l3-3M16 170l3-3M20 169l3-4M24 164l3-3M94 147l3 17M102 152l3 3M141 159l3-4M144 177l3-7M152 156l3 2M156 166l3 0M160 166l3-3M172 155l3 7M175 157l3 7M183 158l3-2"/><path class="ga8" d="M90 163l3 10"/><path class="ga9" d="M106 182l3 10M110 196l2 9M121 199l3 7M125 191l3 8M129 187l3 8"/><path class="ga10" d="M113 203l3 9M117 202l3 9"/></g>
<g transform="matrix(0.3816 -0.1064 0 -0.3072 64.95 117.59)"><path d="M-3 33l4 25 4 99 4 13 4-1 3 0 4-1 4-5 4-55 4 9 4-19 4-7 4 5 3 9 4 9 4 3 4 13 4 8 4-45 4 7 4 20 3-23 4 6 4 29 4 43 4-8 4-17 4 8 4 36 4 14 3 7 4-1 4-5 4-8 4-3 4-43 4-3 4 6 3 15 4-18 4 5 4 9 4-3 4-23 4-3 4 25 3 2 4-14 4 6 4-4 4 0 4-29 4-2 4 3 3-13 4-10 3-1-4 9-3 11-4-3-4 3-4 30-4 1-4 4-4-6-4 21-3-3-4-31-4 3-4 22-4 4-4-9-4-12-4 18-3-13-4-3-4 5-4 44-4 3-4 7-4 6-4 0-4-7-3-12-4-34-4-5-4 22-4-29-4-33-4-14-4-3-3 13-4-2-4-22-4 20-4 10-4 19-4-27-4-5-3-1-4-12-4 13-4 23-4-21-4 54-4 4-4 1-3 1-4 0-4-14-4-108-4-13Z"/><path class="ga0" d="M-3 33l3-1"/><path class="ga1" d="M1 58l3-13"/><path class="ga3" d="M40 91l3 1M67 93l3-5"/><path class="ga4" d="M28 108l3-1M36 98l3 7M44 96l3 8M47 105l3 0M51 114l3-4M63 138l3-30M71 100l3 10M75 120l3-8M78 97l3 2M82 103l3-1M86 132l3-16M206 114l3-2M210 104l3-1"/><path class="ga5" d="M32 117l3 11M59 130l3-12M195 126l3-3M199 124l3-4M203 127l3-4"/><path class="ga6" d="M5 157l3-4M55 117l3 20M90 175l3-26M137 152l3-3M141 158l3-6M148 155l3-8M164 143l3-1M168 140l3-1M179 153l3-1M191 155l3-2"/><path class="ga7" d="M9 170l3-3M13 169l3-2M16 169l3-3M20 168l3-3M24 163l3-2M98 150l3 6M102 158l3 3M133 155l3-1M144 173l3-8M152 160l3-1M156 169l3-1M160 166l3-2M172 165l3 5M183 159l3-1M187 155l3-1"/><path class="ga8" d="M94 167l3 11M175 167l3 6"/><path class="ga9" d="M106 194l3 1M110 208l2-1M125 201l3 0M129 198l3 0"/><path class="ga10" d="M113 215l3-1M117 214l3 0M121 209l3-1"/></g>
<g transform="matrix(0.3816 -0.1064 0 -0.3072 66.09 118.13)"><path d="M-3 35l4 13 4 108 4 14 4-1 3 0 4-2 4-4 4-53 4 21 4-23 4-13 4 12 3 1 4 5 4 27 4-19 4-11 4-19 4 22 4 2 3-13 4 3 4 14 4 33 4 29 4-22 4 5 4 34 4 12 3 7 4 0 4-6 4-7 4-3 4-44 4-5 4 3 3 12 4-17 4 11 4 10 4-5 4-22 4-3 4 32 3 3 4-21 4 5 4-3 4-1 4-31 4-2 4 3 3-12 4-9 3 0-4 8-3 12-4-4-4 2-4 31-4 2-4 3-4-5-4 24-3-2-4-34-4 2-4 20-4 4-4-10-4-14-4 14-3-9-4 0-4 8-4 44-4 3-4 8-4 4-4-1-4-6-3-9-4-31-4 0-4 2-4 6-4-45-4-24-4 7-3-4-4 13-4-34-4 3-4 30-4 38-4-47-4 6-3-1-4-12-4 8-4 0-4-11-4 57-4 4-4 0-3 2-4 1-4-13-4-97-4-13Z"/><path class="ga1" d="M-3 35l3 10M1 48l3 10"/><path class="ga3" d="M63 110l3-17M67 91l3-1"/><path class="ga4" d="M28 110l3-6M32 131l3-16M36 108l3 7M40 95l3 12M51 113l3 1M75 115l3-4M78 102l3 13M82 105l3 3M206 114l3-1M210 105l3 0"/><path class="ga5" d="M44 107l3 12M47 108l3 12M59 121l3 2M71 113l3 11M86 119l3 13M195 125l3-2M199 123l3-2M203 126l3-1"/><path class="ga6" d="M137 152l3-3M141 155l3-6M148 150l3-6M164 144l3 0M168 141l3 1"/><path class="ga7" d="M5 156l3-1M9 170l3-2M13 169l3-2M16 169l3-4M20 167l3-2M24 163l3-2M55 140l3 21M94 181l3-10M98 159l3 10M102 164l3 5M133 157l3 0M144 167l3-9M152 161l3-3M156 171l3-3M160 166l3-2M179 155l3-1M183 160l3-1M187 157l3-1M191 156l3-2"/><path class="ga8" d="M90 152l3 25M172 173l3 3M175 176l3 2"/><path class="ga9" d="M106 198l3 2M125 204l3 0M129 201l3 0"/><path class="ga10" d="M110 210l2-1M113 217l3-2M117 217l3-1M121 211l3 1"/></g>
<g transform="matrix(0.3816 -0.1064 0 -0.3072 67.22 118.68)"><path d="M-3 47l4 13 4 98 4 13 4-2 3-1 4-1 4-4 4-56 4 10 4 1 4-8 4 12 3 1 4-6 4 46 4-37 4-30 4-3 4 34 4-13 3 4 4-7 4 24 4 45 4-7 4-1 4 0 4 30 4 9 3 7 4 1 4-5 4-7 4-3 4-44 4-8 4 0 3 9 4-14 4 14 4 9 4-3 4-20 4-2 4 34 3 2 4-24 4 4 4-2 4-2 4-32 4-2 4 4 3-11 4-9 3 1-4 9-3 10-4-5-4 2-4 35-4 6-4 2-4-3-4 23-3-3-4-31-4 1-4 16-4 2-4-9-4-10-4 8-3-5-4 3-4 7-4 39-4 3-4 7-4 4-4-3-4-6-3-7-4-39-4-33-4 13-4 34-4-31-4-28-4 23-3-19-4-9-4-13-4-4-4 52-4 21-4-50-4 13-3-19-4 4-4-5-4-14-4 3-4 58-4 5-4 0-3 2-4 1-4-12-4-94-4-10Z"/><path class="ga1" d="M-3 47l3 5"/><path class="ga2" d="M1 60l3 2"/><path class="ga3" d="M63 96l3 1"/><path class="ga4" d="M28 107l3-5M32 117l3-18M36 118l3-5M44 122l3-8M67 93l3 8M71 127l3-13M206 116l3 1M210 107l3 1"/><path class="ga5" d="M40 110l3 8M47 123l3 10M51 117l3 3M75 114l3 9M82 111l3 8M98 172l3-41M195 125l3-1M199 123l3-1M203 127l3 0"/><path class="ga6" d="M59 126l3 23M78 118l3 24M86 135l3 12M94 173l3-29M168 145l3 8"/><path class="ga7" d="M5 158l3-2M9 171l3-3M13 169l3-2M16 168l3-3M20 167l3-2M24 163l3-3M55 163l3 7M102 172l3-8M133 160l3 6M137 152l3 7M141 152l3 4M144 161l3 0M148 147l3 6M152 161l3 2M160 167l3 3M164 147l3 7M179 157l3 7M183 161l3 6M187 159l3 6M191 157l3 2"/><path class="ga8" d="M90 180l3-2M156 170l3 2M172 179l3 5M175 181l3 6"/><path class="ga9" d="M106 202l3 1M129 204l3 1"/><path class="ga10" d="M110 211l2-1M113 218l3-2M117 219l3 0M121 214l3 1M125 207l3 1"/></g>
<g transform="matrix(0.3816 -0.1064 0 -0.3072 68.36 119.22)"><path d="M-3 55l4 10 4 94 4 12 4-1 3-2 4 0 4-5 4-59 4-2 4 13 4 6 4-5 3 20 4-14 4 51 4-22 4-51 4 4 4 12 4 10 3 19 4-23 4 28 4 31 4-34 4-14 4 33 4 40 4 7 3 5 4 3 4-3 4-7 4-3 4-39 4-8 4-2 3 5 4-8 4 10 4 9 4-3 4-15 4-2 4 32 3 3 4-23 4 3 4-2 4-6 4-35 4-2 4 5 3-11 4-8 3 2-4 7-3 9-4-5-4 5-4 65-4 26-4 7-4-3-4 8-3-12-4-18-4 13-4-4-4 7-4-7-4 10-4-2-3 10-4-4-4-19-4 6-4 1-4 6-4 1-4-5-4-4-3-9-4-63-4-3-4 3-4 28-4-14-4-3-4-2-3-7-4-34-4 8-4-10-4 46-4 8-4-30-4-6-3-12-4-5-4 9-4-21-4 7-4 59-4 5-4-1-3 3-4 1-4-11-4-94-4-19Z"/><path class="ga1" d="M-3 55l3-11"/><path class="ga2" d="M1 65l3-2"/><path class="ga3" d="M32 102l3-8"/><path class="ga4" d="M28 104l3-3M36 115l3 0M40 121l3-15M44 116l3-5M63 100l3 5M67 104l3 11M71 116l3-9M210 111l3 2"/><path class="ga5" d="M47 136l3-13M51 122l3 7M195 127l3 2M199 125l3-1M203 130l3-1M206 119l3 1"/><path class="ga6" d="M59 151l3 0M75 126l3 15M78 145l3 3M82 122l3 28M86 150l3 3M94 147l3-8M98 133l3 3M102 166l3-27"/><path class="ga7" d="M5 159l3-2M9 171l3-3M13 170l3-3M16 168l3-4M20 168l3-3M24 163l3-3M55 173l3-14M90 181l3-14"/><path class="ga9" d="M106 206l3-4M133 169l3 37M168 155l3 47M191 162l3 32"/><path class="ga10" d="M110 213l2-2M113 218l3-3M117 221l3-1M121 218l3 1M125 211l3 2M129 208l3 4M137 161l3 64M144 164l3 55M148 156l3 65M152 166l3 45M156 175l3 43M160 172l3 39M164 157l3 58M172 187l3 33M179 167l3 57M187 168l3 52"/><path class="ga11" d="M141 159l3 70M175 190l3 42M183 170l3 57"/></g>
<g transform="matrix(0.3816 -0.1064 0 -0.3072 69.49 119.76)"><path d="M-3 47l4 19 4 93 4 12 4-1 3-3 4 1 4-5 4-60 4-6 4 21 4-9 4 4 3 12 4 7 4 30 4-8 4-46 4 10 4-8 4 34 3 7 4 2 4 3 4 14 4-28 4-3 4 3 4 63 4 9 3 4 4 5 4-1 4-6 4-1 4-6 4 19 4 4 3-10 4 2 4-10 4 6 4-6 4 4 4-13 4 18 3 12 4-8 4 3 4-7 4-26 4-65 4-5 4 5 3-9 4-7 3 3-4 5-3 7-4-7-4 9-4 80-4 1-4 16-4-4-4-1-3-10-4-2-4 14-4 5-4-5-4-3-4 5-4-3-3 9-4-6-4-16-4 3-4 1-4 5-4-1-4-6-4-4-3-7-4-64-4 19-4 5-4-1-4-20-4 6-4 0-3-6-4-28-4-10-4 0-4 20-4 3-4 12-4-26-3 3-4-21-4 17-4-21-4 8-4 60-4 5-4-1-3 3-4 1-4-12-4-99-4-13Z"/><path class="ga1" d="M-3 47l3-3M1 66l3-9"/><path class="ga3" d="M32 97l3-5M40 109l3-13"/><path class="ga4" d="M28 103l3-3M36 118l3-5M47 125l3-11M63 108l3-3M67 118l3-13M71 110l3 5"/><path class="ga5" d="M44 113l3 4M55 162l3-34M59 154l3-29M195 132l3 1M199 127l3-3M203 132l3-1M206 123l3 1M210 116l3 3"/><path class="ga6" d="M51 132l3 8M75 144l3-1M78 151l3-2M82 153l3-4M86 156l3-13M102 142l3-2"/><path class="ga7" d="M5 159l3-3M9 171l3-3M13 170l3-3M16 167l3-3M20 168l3-3M24 163l3-3M90 170l3-7M94 142l3 22M98 139l3 20"/><path class="ga9" d="M106 205l3-1"/><path class="ga10" d="M110 214l2-3M113 218l3-3M117 223l3-2M121 222l3 0M125 216l3 1M129 215l3 1M133 209l3 4M144 222l3 4M152 214l3 10M168 205l3 8M172 223l3-8M175 235l3-10M179 227l3-1M187 223l3-9M191 197l3 16"/><path class="ga11" d="M137 228l3 1M141 232l3 3M148 224l3 5M156 220l3 7M160 214l3 18M164 218l3 9M183 230l3 0"/></g>
<g transform="matrix(0.3816 -0.1064 0 -0.3072 70.63 120.31)"><path d="M-3 47l4 13 4 98 4 13 4-1 3-3 4 1 4-6 4-59 4-8 4 21 4-17 4 20 3-3 4 27 4-12 4-3 4-20 4-1 4 11 4 27 3 7 4 0 4-6 4 20 4 1 4-5 4-19 4 64 4 7 3 3 4 7 4 1 4-5 4-2 4-2 4 16 4 5 3-8 4 3 4-5 4 3 4 5 4-5 4-15 4 3 3 10 4 1 4 4 4-17 4 0 4-81 4-8 4 7 3-7 4-5 3 3-4 1-3 5-4-7-4 9-4 82-4 5-4 11-4-6-4 7-3-6-4-3-4 9-4 3-4-3-4-7-4 2-4-13-3 17-4 10-4-24-4 1-4 2-4 4-4-3-4-8-4-3-3-4-4-58-4 3-4 16-4 1-4-15-4-8-4 4-3-10-4-5-4-39-4 5-4 22-4-12-4 16-4-18-3-1-4-14-4 18-4-21-4 11-4 58-4 6-4-1-3 3-4 1-4-13-4-99-4-11Z"/><path class="ga1" d="M-3 47l3-2M1 60l3-4"/><path class="ga3" d="M32 95l3-5M40 99l3-6M67 107l3-12"/><path class="ga4" d="M28 103l3-2M36 116l3-5M44 119l3-12M47 116l3-8M55 131l3-21M63 108l3-8"/><path class="ga5" d="M51 143l3-17M59 128l3-6M71 118l3 16M195 135l3-2M199 127l3-3M203 134l3-3M206 127l3-1M210 122l3 3"/><path class="ga6" d="M75 145l3-6M78 152l3-3M82 152l3-7M86 146l3 7M98 162l3-11M102 143l3 5"/><path class="ga7" d="M5 158l3-3M9 171l3-3M13 170l3-3M16 167l3-3M20 168l3-3M24 162l3-3M90 166l3 2M94 167l3 0"/><path class="ga9" d="M106 207l3-1"/><path class="ga10" d="M110 214l2-4M113 217l3-4M117 224l3-3M121 225l3-1M125 220l3 0M129 218l3 0M133 216l3 1M144 229l3-15M152 227l3-2M168 215l3 8M172 218l3 8M179 229l3-4M187 216l3 4M191 216l3-1"/><path class="ga11" d="M137 232l3 9M141 237l3-6M148 232l3-5M156 230l3 2M160 235l3 0M164 230l3 2M175 228l3 4M183 233l3-2"/></g>
<g transform="matrix(0.3816 -0.1064 0 -0.3072 71.76 120.85)"><path d="M-3 48l4 11 4 99 4 13 4-1 3-3 4 0 4-5 4-58 4-11 4 21 4-18 4 14 3 1 4 18 4-16 4 12 4-22 4-5 4 39 4 5 3 10 4-4 4 8 4 15 4-1 4-16 4-3 4 57 4 5 3 3 4 7 4 4 4-4 4-2 4-1 4 24 4-10 3-17 4 13 4-3 4 7 4 4 4-4 4-8 4 2 3 6 4-6 4 5 4-10 4-5 4-83 4-8 4 7 3-5 4-1 3 1-4-2-3 4-4-8-4 8-4 83-4 7-4-1-4-1-4 12-3 3-4-14-4 7-4 10-4-5-4-7-4 0-4-4-3 16-4-4-4-16-4 2-4 3-4 3-4-6-4-8-4-2-3-3-4-50-4-5-4 22-4-9-4 1-4-23-4 1-3-34-4 22-4-37-4 6-4 46-4-38-4 0-4-2-3 4-4-16-4 15-4-16-4 9-4 57-4 5-4 0-3 3-4 0-4-13-4-100-4-7Z"/><path class="ga1" d="M-3 48l3-1M1 59l3-5"/><path class="ga3" d="M32 93l3 0M40 96l3-2M67 98l3-4"/><path class="ga4" d="M28 104l3-2M36 114l3-5M44 110l3 0M47 111l3-5M51 129l3-21M55 113l3-5M63 103l3-3M75 142l3-33"/><path class="ga5" d="M71 137l3-6M195 135l3-4M199 127l3-4M203 134l3-3M206 129l3-2M210 128l3 1"/><path class="ga6" d="M59 125l3 21M78 152l3-9M82 148l3-6M98 154l3-3"/><path class="ga7" d="M5 158l3-4M9 171l3-4M13 170l3-3M16 167l3-3M20 167l3-3M24 162l3-3M86 156l3 9M90 171l3-7M102 151l3 5"/><path class="ga8" d="M94 170l3 3"/><path class="ga9" d="M106 208l3-2"/><path class="ga10" d="M110 213l2-4M113 216l3-5M117 223l3-4M121 227l3-2M125 223l3-1M129 221l3-2M133 220l3-3M144 217l3 4M148 230l3-5M152 227l3-2M168 226l3-6M179 228l3-9M183 233l3-13M187 223l3-2M191 218l3-4"/><path class="ga11" d="M137 244l3-11M141 234l3 3M156 234l3-2M160 238l3-1M164 234l3-7M172 228l3 6M175 234l3-3"/></g>
<g transform="matrix(0.3816 -0.1064 0 -0.3072 72.90 121.39)"><path d="M-3 50l4 6 4 100 4 14 4-1 3-2 4 0 4-5 4-57 4-10 4 17 4-15 4 16 3-5 4 3 4 0 4 37 4-45 4-6 4 37 4-22 3 34 4-2 4 24 4-1 4 9 4-22 4 5 4 50 4 3 3 2 4 8 4 6 4-3 4-3 4-2 4 16 4 4 3-16 4 4 4-1 4 7 4 6 4-10 4-7 4 14 3-4 4-12 4 2 4 1 4-8 4-82 4-8 4 7 3-3 4 2 3-2-4-4-3 4-4-8-4 6-4 81-4 10-4 4-4 6-4 0-3-1-4 0-4-1-4-4-4 4-4-3-4 6-4-1-3 1-4 3-4-16-4 2-4 4-4 1-4-7-4-8-4-1-3-5-4-54-4-4-4 2-4 14-4-5-4-21-4 3-3-38-4 8-4-16-4 8-4 43-4-38-4-5-4 6-3 19-4-29-4 5-4 5-4 0-4 53-4 4-4 1-3 2-4 1-4-14-4-99-4-5Z"/><path class="ga1" d="M-3 50l3-1M1 56l3-2"/><path class="ga3" d="M40 97l3-1M67 97l3-5"/><path class="ga4" d="M28 105l3 1M32 95l3 11M36 112l3-11M47 108l3-2M51 111l3-11M55 111l3-6M63 103l3-3M71 134l3-26M75 112l3-12"/><path class="ga5" d="M44 113l3 12M195 134l3-6M199 126l3-4M203 133l3-3M206 130l3-4M210 132l3-2"/><path class="ga6" d="M5 156l3-3M59 148l3-5M78 146l3-8M82 144l3-9M94 176l3-29M98 154l3-9M102 159l3-10"/><path class="ga7" d="M9 170l3-3M13 169l3-3M16 167l3-3M20 167l3-4M24 162l3-3M86 168l3-12M90 167l3-6"/><path class="ga9" d="M106 209l3-6M110 212l2-4"/><path class="ga10" d="M113 214l3-5M117 222l3-5M121 228l3-4M125 225l3-2M129 222l3-3M133 220l3-3M152 227l3-3M160 240l3-17M183 223l3 0M187 224l3-5M191 216l3-7"/><path class="ga11" d="M137 236l3-3M141 240l3-10M144 224l3 5M148 228l3 2M156 234l3-7M164 230l3-3M168 223l3 5M172 237l3-9M175 233l3-4M179 221l3 8"/></g>
<g transform="matrix(0.3816 -0.1064 0 -0.3072 74.04 121.94)"><path d="M-3 52l4 5 4 98 4 14 4 0 3-3 4 0 4-5 4-53 4 0 4-4 4-6 4 30 3-19 4-6 4 5 4 38 4-44 4-7 4 15 4-7 3 38 4-3 4 21 4 4 4-13 4-2 4 3 4 55 4 4 3 2 4 7 4 8 4-2 4-3 4-2 4 16 4-3 3-1 4 0 4-6 4 4 4-4 4 4 4 0 4 1 3 1 4 0 4-6 4-5 4-9 4-82 4-6 4 9 3-4 4 4 3-5-4-3-3 5-4-9-4 5-4 90-4 0-4 10-4-4-4 2-3-8-4 7-4 4-4-8-4-2-4 13-4-7-4 6-3-3-4 6-4-16-4 2-4 4-4 1-4-9-4-8-4 1-3-3-4-41-4-7-4-14-4 0-4-6-4-8-4 4-3-37-4-2-4-1-4 4-4 18-4-15-4-1-4 7-3 9-4-20-4 5-4 24-4-14-4 49-4 4-4 1-3 2-4 1-4-14-4-94-4-11Z"/><path class="ga1" d="M-3 52l3-5M1 57l3 1"/><path class="ga3" d="M40 98l3-4M51 103l3-5M63 102l3-6M67 95l3-3M71 110l3-17M75 103l3-8"/><path class="ga4" d="M28 108l3 1M36 104l3-5M44 128l3-14M47 109l3-4M55 108l3-9M59 146l3-32"/><path class="ga5" d="M32 108l3 15M78 141l3-9M82 138l3-10M195 130l3-4M199 124l3-3M203 133l3-3M206 129l3-4M210 133l3-5"/><path class="ga6" d="M5 155l3-3M86 159l3-23M90 163l3-21M94 150l3-8"/><path class="ga7" d="M9 169l3-3M13 169l3-4M16 166l3-3M20 166l3-4M24 161l3-3M98 148l3 8M102 151l3 12"/><path class="ga9" d="M106 206l3-2M110 210l2-3M113 212l3-6"/><path class="ga10" d="M117 219l3-5M121 227l3-4M125 225l3-3M129 222l3-4M133 220l3-4M141 233l3-7M148 232l3-9M156 230l3-13M160 226l3-7M164 230l3-3M168 230l3-7M172 231l3-15M175 232l3-8M179 232l3-10M183 226l3 0M187 221l3-5M191 212l3 4"/><path class="ga11" d="M137 236l3-4M144 232l3-3M152 226l3 4"/></g>
<g transform="matrix(0.3816 -0.1064 0 -0.3072 75.17 122.48)"><path d="M-3 49l4 12 4 94 4 14 4-1 3-2 4-1 4-4 4-50 4 15 4-24 4-5 4 20 3-9 4-7 4 1 4 15 4-18 4-4 4 1 4 2 3 37 4-5 4 8 4 7 4-1 4 15 4 7 4 41 4 3 3-1 4 8 4 9 4-1 4-4 4-3 4 17 4-6 3 3 4-7 4 8 4-13 4 2 4 7 4-3 4-7 3 8 4-2 4 3 4-9 4 0 4-90 4-6 4 10 3-6 4 3 3-7-4-1-3 7-4-9-4 4-4 93-4 3-4 2-4 0-4-8-3-4-4 18-4 6-4-7-4-8-4 5-4-4-4 1-3 4-4-3-4-9-4 5-4 3-4 1-4-10-4-8-4 2-3-2-4-37-4 3-4-12-4 6-4-11-4-28-4-2-3-31-4-2-4 2-4 3-4 1-4-1-4 2-4 7-3 3-4-13-4 7-4 24-4-16-4 48-4 4-4 1-3 2-4 1-4-14-4-94-4-12Z"/><path class="ga1" d="M-3 49l3-4M1 61l3-4"/><path class="ga3" d="M40 97l3-3M51 101l3-4M55 102l3-7M59 117l3-21M63 99l3-4M67 95l3-3M71 96l3-6M75 98l3-6"/><path class="ga4" d="M28 111l3-2M36 102l3-1M44 117l3-10M47 108l3-4"/><path class="ga5" d="M32 126l3-1M78 135l3-12M82 130l3-5M195 129l3-5M199 123l3-3M203 133l3-4M206 127l3-5M210 130l3-7"/><path class="ga6" d="M5 155l3-4M86 138l3 15"/><path class="ga7" d="M9 169l3-4M13 168l3-4M16 166l3-4M20 165l3-4M24 161l3-4M90 145l3 19M94 144l3 14M98 159l3 11M102 166l3 1"/><path class="ga9" d="M106 207l3-3M110 210l2-4M113 209l3-5"/><path class="ga10" d="M117 217l3-5M121 226l3-4M125 225l3-4M129 221l3-3M133 218l3-5M137 235l3-13M141 229l3-4M144 232l3-11M148 225l3-5M152 233l3-9M156 220l3-1M172 219l3-9M175 227l3-13M179 225l3-3M183 228l3-6M187 219l3 1M191 219l3-2"/><path class="ga11" d="M160 222l3 5M164 229l3 5M168 226l3 2"/></g>
<g transform="matrix(0.3816 -0.1064 0 -0.3072 76.31 123.02)"><path d="M-3 47l4 13 4 94 4 14 4-1 3-2 4-1 4-4 4-49 4 17 4-24 4-7 4 12 3-2 4-7 4-2 4 1 4-2 4-2 4-2 4 2 3 31 4 2 4 28 4 11 4-7 4 13 4-3 4 37 4 2 3-2 4 8 4 9 4 0 4-3 4-5 4 9 4 3 3-4 4-1 4 4 4-5 4 8 4 7 4-6 4-18 3 4 4 8 4 0 4-2 4-3 4-93 4-4 4 9 3-7 4 1 3-9-4 1-3 10-4-9-4 5-4 96-4 9-4-7-4-4-4-7-3-1-4 15-4 13-4-5-4-15-4-1-4 14-4-11-3 0-4 2-4-9-4 5-4 2-4 0-4-10-4-8-4 4-3-6-4-66-4 8-4 28-4-16-4-10-4-25-4-22-3-9-4 1-4 2-4 3-4-2-4 2-4 4-4 9-3 13-4-23-4 3-4 35-4-27-4 48-4 4-4 2-3 1-4 1-4-13-4-94-4-13Z"/><path class="ga1" d="M-3 47l3-3M1 60l3-3"/><path class="ga3" d="M40 97l3 0M51 100l3-2M55 98l3-4M59 99l3-7M63 97l3-3M67 95l3-4M71 93l3-4M75 95l3-7M78 126l3-29"/><path class="ga4" d="M28 111l3-3M36 104l3-4M47 107l3 0"/><path class="ga5" d="M44 109l3 11M82 128l3-9M102 170l3-36M195 127l3-3M199 123l3-4M203 132l3-4M206 125l3-7M210 126l3-9"/><path class="ga6" d="M5 154l3-3M32 128l3 7M86 156l3-12M98 173l3-31"/><path class="ga7" d="M9 168l3-4M13 167l3-4M16 165l3-3M20 164l3-4M24 160l3-4M90 167l3-13M94 160l3 10"/><path class="ga9" d="M106 207l3-7M110 209l2-3M113 207l3-5"/><path class="ga10" d="M117 215l3-5M121 224l3-4M125 224l3-4M129 221l3-3M133 216l3-3M137 225l3-3M141 228l3-8M144 224l3-4M152 227l3-10M156 222l3-4M168 231l3-6M172 213l3-3M175 217l3-6M179 225l3-7M183 225l3-3M191 220l3 0"/><path class="ga11" d="M148 223l3 8M160 230l3 3M164 237l3 1M187 223l3 6"/></g>
<g transform="matrix(0.3816 -0.1064 0 -0.3072 77.44 123.56)"><path d="M-3 47l4 13 4 94 4 13 4-2 3-1 4-1 4-5 4-47 4 27 4-35 4-3 4 23 3-13 4-9 4-4 4-2 4 2 4-3 4-2 4-1 3 9 4 22 4 24 4 11 4 16 4-28 4-8 4 65 4 6 3-3 4 8 4 9 4 1 4-3 4-4 4 9 4-2 3 0 4 11 4-14 4 1 4 15 4 5 4-14 4-14 3 1 4 7 4 4 4 6 4-8 4-96 4-5 4 9 3-10 4-1 3-9-4 3-3 12-4-8-4 6-4 89-4-1-4 7-4 11-4-6-3-5-4 3-4 9-4-1-4-3-4 1-4 11-4-10-3-12-4-4-4-8-4 6-4 0-4 0-4-9-4-8-4 5-3-1-4-49-4-11-4-11-4 16-4 5-4-28-4-26-3-5-4 0-4 4-4 1-4-1-4 2-4 6-4 9-3 28-4-28-4-10-4 29-4-24-4 49-4 5-4 2-3 1-4 2-4-14-4-101-4-6Z"/><path class="ga0" d="M-3 47l3-4"/><path class="ga1" d="M1 60l3-11"/><path class="ga3" d="M55 97l3-2M59 95l3-2M63 97l3-3M67 94l3-1M71 92l3-3M75 91l3-2M78 100l3-6"/><path class="ga4" d="M28 111l3-6M36 103l3-3M40 100l3 10M47 110l3 0M51 101l3 0M206 121l3-7M210 120l3-9"/><path class="ga5" d="M32 138l3-9M82 122l3-2M94 173l3-46M195 127l3-3M199 122l3-4M203 131l3-5"/><path class="ga6" d="M5 154l3-4M44 123l3 15M86 146l3 2M90 157l3-14M98 145l3-7M102 137l3 12"/><path class="ga7" d="M9 167l3-3M13 165l3-3M16 164l3-3M20 163l3-4M24 158l3-4"/><path class="ga9" d="M106 202l3-4M110 208l2-9M113 205l3-11M117 213l3-11M133 216l3-11"/><path class="ga10" d="M121 222l3-11M125 223l3-12M129 220l3-9M137 225l3-12M141 223l3-6M168 227l3-5M172 213l3 6M175 214l3 10M183 225l3-6M187 231l3-19M191 223l3-10"/><path class="ga11" d="M144 223l3 6M148 234l3 5M152 220l3 8M156 221l3 6M160 236l3-6M164 241l3-10M179 221l3 9"/></g>
<g transform="matrix(0.3816 -0.1064 0 -0.3072 78.58 124.11)"><path d="M-3 45l4 7 4 100 4 14 4-2 3-1 4-1 4-5 4-49 4 24 4-29 4 10 4 28 3-28 4-9 4-7 4-1 4 1 4-1 4-5 4 1 3 5 4 26 4 28 4-6 4-15 4 11 4 11 4 49 4 1 3-5 4 8 4 9 4-1 4 1 4-6 4 8 4 4 3 12 4 10 4-11 4-1 4 3 4 0 4-8 4-3 3 5 4 6 4-11 4-8 4 1 4-88 4-6 4 8 3-12 4-3 3-8-4 4-3 12-4-6-4 8-4 78-4 1-4 6-4 10-4 2-3-1-4-1-4 4-4 2-4 5-4-11-4 4-4 3-3-6-4-16-4-55-4 15-4-8-4 10-4-10-4-4-4 10-3 10-4 1-4-26-4-24-4 23-4 8-4-30-4-24-3 0-4-9-4 14-4-8-4 9-4-7-4 16-4-3-3 24-4-12-4-11-4-1-4-12-4 52-4 6-4 2-3 1-4 2-4-13-4-99-4-13Z"/><path class="ga0" d="M-3 45l3-7"/><path class="ga1" d="M1 52l3-1"/><path class="ga3" d="M63 97l3 0M71 91l3 0"/><path class="ga4" d="M28 108l3-8M32 132l3-20M36 103l3 10M47 113l3-1M51 104l3 11M55 97l3 2M59 96l3 10M67 96l3 9M75 92l3 8M78 97l3 3M199 121l3-5M206 117l3-7M210 114l3-8"/><path class="ga5" d="M40 113l3 11M82 123l3 1M94 130l3-7M195 127l3-3M203 129l3-7"/><path class="ga6" d="M5 152l3-2M24 157l3-5M44 141l3-5M90 145l3 1M98 141l3 6M113 197l3-45M133 208l3-59"/><path class="ga7" d="M9 166l3-3M13 164l3-3M16 163l3-3M20 162l3-4M86 151l3 3M110 202l2-40M117 205l3-49M121 214l3-48M125 213l3-57M129 214l3-50"/><path class="ga8" d="M102 152l3 21M106 201l3-29"/><path class="ga9" d="M137 216l3-12M187 214l3-11M191 215l3-13"/><path class="ga10" d="M141 220l3 0M144 232l3-6M148 242l3-19M152 231l3-12M160 233l3-8M164 233l3-10M168 225l3-6M172 222l3-2M175 227l3-6M179 233l3-14M183 222l3-13"/><path class="ga11" d="M156 230l3 0"/></g>
<g transform="matrix(0.3816 -0.1064 0 -0.3072 79.71 124.65)"><path d="M-3 41l4 13 4 99 4 13 4-2 3-1 4-2 4-6 4-52 4 12 4 1 4 10 4 13 3-25 4 4 4-16 4 7 4-10 4 8 4-13 4 9 3 0 4 24 4 30 4-9 4-22 4 24 4 25 4 0 4-10 3-11 4 5 4 10 4-10 4 8 4-15 4 55 4 15 3 7 4-3 4-4 4 11 4-6 4-1 4-4 4 1 3 0 4-2 4-9 4-6 4-2 4-77 4-8 4 6 3-12 4-4 3-7-4 5-3 11-4-4-4 11-4 77-4 6-4 12-4-5-4 8-3 3-4 0-4 1-4-4-4-1-4-9-4 5-4 5-3-4-4-9-4-68-4 13-4-18-4 20-4-15-4 14-4-1-3-5-4-6-4-12-4-4-4 23-4 16-4-37-4-21-3 14-4-25-4 20-4-19-4 22-4-18-4 26-4-17-3 19-4-18-4 14-4-11-4-17-4 52-4 6-4 2-3 1-4 3-4-13-4-95-4-17Z"/><path class="ga0" d="M-3 41l3-3"/><path class="ga1" d="M1 54l3 1"/><path class="ga3" d="M71 94l3 4"/><path class="ga4" d="M28 103l3-4M32 115l3 1M40 126l3-13M47 114l3-2M55 102l3 1M63 99l3 0M78 103l3 6M199 119l3-5M206 113l3-6M210 109l3-7"/><path class="ga5" d="M36 116l3 11M44 139l3-8M51 118l3 11M59 109l3 12M67 107l3 11M75 103l3 20M82 127l3 3M94 126l3 2M98 150l3-18M195 127l3-2M203 125l3-7"/><path class="ga6" d="M5 153l3-3M24 155l3-4M90 148l3 3M102 175l3-31M106 175l3-25M117 159l3-17M125 159l3-22M133 152l3-10"/><path class="ga7" d="M9 166l3-3M13 164l3-4M16 163l3-4M20 161l3-4M86 157l3 10M110 165l2-10M113 154l3 2M121 169l3-12M129 167l3-12"/><path class="ga9" d="M187 206l3 2M191 204l3-2"/><path class="ga10" d="M137 207l3 3M141 222l3-3M144 229l3-6M148 226l3-8M152 222l3-9M156 233l3-11M160 227l3-4M164 226l3 1M168 222l3 4M172 223l3 3M175 223l3 0M179 221l3-6M183 212l3 8"/></g>
<g transform="matrix(0.3816 -0.1064 0 -0.3072 80.85 125.19)"><path d="M-3 41l4 17 4 95 4 13 4-3 3-1 4-2 4-6 4-52 4 17 4 11 4-14 4 17 3-18 4 17 4-26 4 17 4-21 4 18 4-19 4 25 3-14 4 21 4 37 4-17 4-22 4 4 4 12 4 6 4 5 3 1 4-14 4 15 4-20 4 18 4-13 4 68 4 9 3 3 4-4 4-6 4 9 4 1 4 4 4 0 4 0 3-4 4-7 4 5 4-12 4-6 4-77 4-12 4 5 3-11 4-5 3-3-4 4-3 8-4-3-4 15-4 82-4 4-4 17-4-6-4-6-3-6-4 8-4 7-4-1-4-4-4-7-4 5-4 4-3-8-4-14-4-64-4 15-4-16-4 25-4-24-4-13-4-19-3 47-4 9-4-2-4-17-4 24-4 15-4-51-4-23-3 27-4-27-4-4-4-8-4 14-4-8-4 18-4-12-3 8-4-16-4 16-4 14-4-28-4 49-4 7-4 1-3 2-4 3-4-13-4-90-4-14Z"/><path class="ga1" d="M-3 41l3 5M1 58l3 2"/><path class="ga3" d="M63 102l3-7"/><path class="ga4" d="M28 102l3-1M36 130l3-15M40 116l3-17M44 133l3-18M47 115l3-8M55 106l3-5M59 123l3-14M67 120l3-17M71 101l3 6M78 112l3-5M110 158l2-53M199 116l3-5M203 121l3-7M206 110l3-4M210 105l3-3"/><path class="ga5" d="M32 119l3 10M51 132l3-13M75 126l3 8M82 133l3-3M113 159l3-35M195 128l3-2"/><path class="ga6" d="M5 153l3-3M24 154l3-4M94 131l3 11M106 153l3-1M117 145l3-8M125 140l3-4M129 158l3-6M133 145l3-8"/><path class="ga7" d="M9 166l3-3M13 163l3-3M16 162l3-4M20 160l3-3M90 153l3 13M98 135l3 24M102 147l3 14M121 160l3 1"/><path class="ga8" d="M86 170l3 11"/><path class="ga9" d="M137 213l3-12"/><path class="ga10" d="M141 222l3-7M144 225l3-2M148 221l3-2M152 215l3-1M156 224l3-3M160 225l3 0M164 229l3-3M168 229l3-10M172 229l3-18M175 225l3-8M179 218l3 5M187 211l3 1M191 205l3 3"/><path class="ga11" d="M183 223l3 6"/></g>
<g transform="matrix(0.3816 -0.1064 0 -0.3072 81.99 125.74)"><path d="M-3 48l4 15 4 90 4 13 4-3 3-2 4-2 4-6 4-49 4 28 4-14 4-16 4 16 3-9 4 13 4-18 4 8 4-15 4 8 4 5 4 27 3-27 4 23 4 51 4-15 4-24 4 17 4 1 4-9 4-46 3 18 4 14 4 24 4-25 4 15 4-14 4 64 4 14 3 8 4-4 4-5 4 6 4 5 4 0 4-7 4-7 3 6 4 6 4 5 4-17 4-3 4-82 4-15 4 3 3-8 4-4 3-1-4 3-3 6-4-3-4 13-4 65-4 15-4 17-4 9-4-9-3-8-4 6-4 14-4 4-4-11-4-13-4 10-4 0-3-3-4-14-4-71-4 27-4-10-4-2-4-22-4-14-4 18-3 38-4 13-4-11-4-8-4 10-4-4-4-54-4-5-3 8-4-3-4-24-4 0-4 9-4 0-4 19-4-17-3 1-4-8-4 8-4 26-4-20-4 42-4 5-4 2-3 2-4 2-4-13-4-93-4-14Z"/><path class="ga0" d="M-3 48l3-6"/><path class="ga1" d="M1 63l3-7"/><path class="ga3" d="M40 102l3-7M63 97l3-6M67 105l3-14"/><path class="ga4" d="M28 104l3 5M36 118l3-15M44 118l3-15M47 109l3-7M55 104l3-4M59 112l3-12M71 110l3 5M78 110l3 0M82 133l3-18M113 126l3-13M199 114l3-4M203 117l3-4M206 109l3-2M210 105l3-1"/><path class="ga5" d="M32 132l3-3M51 122l3-3M75 137l3-19M110 108l2 23M117 140l3-13M133 140l3-6M195 129l3-6"/><path class="ga6" d="M5 153l3-4M24 153l3-2M121 164l3-15M125 139l3 12"/><path class="ga7" d="M9 166l3-4M13 163l3-3M16 161l3-3M20 159l3-3M86 184l3-15M94 145l3 18M98 162l3 9M106 154l3 15M129 154l3 7"/><path class="ga8" d="M90 169l3 4M102 163l3 19M191 211l3-23"/><path class="ga9" d="M137 204l3 1M187 214l3-11"/><path class="ga10" d="M141 218l3 1M144 226l3-4M148 222l3 0M152 217l3-5M156 223l3 2M168 221l3-3M172 214l3-2M175 220l3 0M183 231l3-11"/><path class="ga11" d="M160 228l3 8M164 228l3 4M179 226l3 3"/></g>
<g transform="matrix(0.3816 -0.1064 0 -0.3072 83.12 126.28)"><path d="M-3 45l4 14 4 93 4 13 4-2 3-2 4-2 4-5 4-42 4 19 4-26 4-7 4 8 3-1 4 17 4-19 4 0 4-9 4 0 4 24 4 3 3-8 4 5 4 54 4 4 4-10 4 8 4 10 4-12 4-38 3-18 4 14 4 22 4 2 4 10 4-27 4 71 4 14 3 3 4 0 4-10 4 12 4 12 4-4 4-14 4-6 3 8 4 9 4-9 4-17 4-15 4-65 4-13 4 3 3-6 4-4 3 2-4 2-3 3-4-2-4 15-4 80-4 15-4-11-4 10-4 1-3-3-4 2-4 9-4-5-4-10-4 7-4-5-4-6-3 3-4-10-4-73-4 42-4-7-4 15-4-24-4-15-4-15-3 42-4-3-4 17-4-3-4 7-4 2-4-13-4-46-3-21-4-2-4-10-4-3-4 17-4-6-4 25-4-29-3-2-4-3-4 7-4 40-4-22-4 32-4 5-4 1-3 2-4 2-4-13-4-86-4-12Z"/><path class="ga1" d="M-3 45l3 6"/><path class="ga2" d="M1 59l3 4"/><path class="ga3" d="M40 98l3-3M44 106l3-8M63 94l3-1M67 94l3 2"/><path class="ga4" d="M36 105l3-3M47 105l3-5M55 103l3 1M59 103l3 7M71 118l3-12M75 121l3-13M199 113l3-2M203 116l3-3M206 110l3 0M210 106l3 2"/><path class="ga5" d="M28 112l3 8M51 122l3 7M78 113l3 16M110 134l2-8M133 137l3-7M195 126l3 0"/><path class="ga6" d="M5 152l3-3M24 154l3-2M32 131l3 11M113 116l3 25"/><path class="ga7" d="M9 165l3-3M13 163l3-3M16 161l3-3M20 159l3-2M102 184l3-19M106 172l3-4M117 130l3 26M125 154l3 11"/><path class="ga8" d="M82 118l3 57M86 172l3 16M90 176l3 10M94 166l3 13M98 174l3 8M121 152l3 28M129 164l3 8"/><path class="ga9" d="M137 208l3-5M191 191l3 15"/><path class="ga10" d="M141 222l3-9M144 225l3-15M148 225l3-9M152 215l3 6M156 227l3-13M160 239l3-15M168 221l3-1M172 215l3 3M175 223l3-2M179 232l3-12M183 223l3-13M187 206l3 15"/><path class="ga11" d="M164 235l3-6"/></g>
<g transform="matrix(0.3816 -0.1064 0 -0.3072 84.26 126.82)"><path d="M-3 54l4 12 4 86 4 13 4-2 3-2 4-1 4-5 4-33 4 23 4-40 4-7 4 3 3 1 4 29 4-25 4 7 4-17 4 2 4 10 4 3 3 21 4 46 4 12 4-1 4-7 4 3 4-18 4 4 4-43 3 16 4 14 4 25 4-15 4 7 4-42 4 73 4 10 3-3 4 6 4 5 4-7 4 10 4 5 4-9 4-2 3 3 4-1 4-10 4 11 4-15 4-80 4-15 4 2 3-3 4-3 3 3-4 0-3 1-4-2-4 15-4 82-4 12-4-4-4-7-4 3-3-10-4 7-4 11-4 1-4-2-4 1-4-4-4-3-3 2-4-15-4-80-4 15-4 0-4 16-4 23-4-20-4-5-3 22-4-47-4 33-4 5-4 22-4 3-4-9-4-61-3-2-4-15-4 11-4-14-4 27-4-20-4 12-4-21-3 0-4 0-4 5-4 41-4-29-4 38-4 7-4 0-3 2-4 2-4-14-4-88-4-11Z"/><path class="ga1" d="M-3 54l3-5M1 66l3-6"/><path class="ga3" d="M40 98l3-2M44 101l3-5M47 102l3-6M63 96l3 2"/><path class="ga4" d="M28 122l3-9M36 105l3-4M55 106l3-1M67 98l3 14M71 108l3-7M75 111l3 5M199 114l3-2M203 116l3-2M206 113l3 0M210 110l3 3"/><path class="ga5" d="M51 131l3-14M59 113l3 12M78 132l3-14M102 167l3-42M133 133l3-12M195 129l3-2"/><path class="ga6" d="M5 152l3-4M24 155l3-4M32 145l3-3M110 128l2 22M121 183l3-31M125 168l3-32M129 175l3-39"/><path class="ga7" d="M9 165l3-3M13 163l3-3M16 161l3-3M20 160l3-2M94 182l3-19M98 185l3-27M113 144l3 11"/><path class="ga8" d="M82 178l3 1M86 190l3-2M90 189l3-4M106 171l3 1M117 158l3 17"/><path class="ga9" d="M137 206l3-5M172 221l3-18"/><path class="ga10" d="M141 216l3 0M144 213l3 1M148 219l3-2M152 224l3-3M156 217l3 3M160 227l3-5M164 232l3-11M168 223l3-13M175 224l3-11M179 223l3-13M183 213l3 4M187 224l3-3M191 209l3 0"/></g>
<g transform="matrix(0.3816 -0.1064 0 -0.3072 85.39 127.37)"><path d="M-3 52l4 10 4 89 4 13 4-1 3-2 4 0 4-7 4-38 4 29 4-41 4-6 4 1 3 0 4 21 4-12 4 20 4-27 4 14 4-11 4 15 3 2 4 61 4 9 4-3 4-22 4-5 4-33 4 47 4-22 3 5 4 20 4-23 4-16 4 0 4-15 4 80 4 15 3-2 4 2 4 5 4-2 4 3 4-1 4-11 4-7 3 9 4-3 4 7 4 5 4-13 4-81 4-15 4 2 3-1 4 0 3 2-4-2-3 0-4-1-4 14-4 83-4 15-4-3-4-9-4-9-3-2-4 5-4 13-4-1-4-5-4-3-4-2-4 13-3-7-4-11-4-84-4 36-4-15-4 24-4 30-4-22-4-44-3 9-4-35-4 53-4 28-4 1-4-1-4-11-4-65-3 20-4-25-4 15-4-18-4 23-4-17-4 8-4-15-3-2-4-1-4 0-4 20-4-13-4 46-4 8-4 0-3 1-4 1-4-14-4-88-4-6Z"/><path class="ga1" d="M-3 52l3 1M1 62l3-3"/><path class="ga3" d="M36 104l3-6M40 98l3 0"/><path class="ga4" d="M28 116l3-11M44 99l3 0M47 99l3 2M51 120l3-4M55 108l3 0M63 101l3 1M71 104l3 1M78 121l3-11M102 128l3-23M199 115l3 0M203 117l3-1M206 116l3 0"/><path class="ga5" d="M32 145l3-27M59 128l3-3M67 115l3 5M75 119l3 11M110 153l2-22M133 124l3-2M195 130l3-1M210 116l3 2"/><path class="ga6" d="M5 151l3-4M24 154l3-3M106 175l3-35M125 139l3 4"/><path class="ga7" d="M9 164l3-3M13 163l3-3M16 161l3-2M20 161l3-2M98 161l3-3M121 155l3 12M129 139l3 19"/><path class="ga8" d="M82 182l3-7M86 191l3-5M90 188l3-1M94 166l3 20M113 158l3 17"/><path class="ga9" d="M117 178l3 19M137 204l3 2M172 206l3-2M175 215l3-9"/><path class="ga10" d="M141 219l3-2M144 217l3 7M148 219l3-8M152 224l3-11M156 222l3-6M160 225l3-4M164 224l3-2M168 213l3-4M179 212l3 3M183 219l3 5M187 224l3 3M191 211l3 1"/></g>
<g transform="matrix(0.3816 -0.1064 0 -0.3072 86.53 127.91)"><path d="M-3 56l4 6 4 88 4 14 4-1 3-1 4 0 4-8 4-46 4 13 4-20 4 0 4 1 3 2 4 15 4-8 4 17 4-23 4 18 4-15 4 25 3-20 4 65 4 11 4 1 4-1 4-28 4-54 4 36 4-9 3 44 4 22 4-30 4-24 4 15 4-36 4 84 4 11 3 7 4-14 4 2 4 3 4 5 4 2 4-13 4-5 3 2 4 8 4 9 4 3 4-14 4-83 4-15 4 2 3 0 4 2 3 1-4-4-3 0-4-1-4 15-4 79-4 13-4 5-4-3-4-8-3-6-4-14-4 12-4 5-4-6-4 3-4 2-4 10-3-12-4-10-4-85-4-2-4 1-4 11-4 25-4-14-4-27-3 12-4-4-4 6-4 61-4 1-4-1-4-11-4-55-3 7-4-10-4-4-4 2-4 9-4 3-4-4-4-23-3 9-4 7-4-7-4 10-4-2-4 36-4 7-4 0-3 1-4 0-4-16-4-89-4-4Z"/><path class="ga1" d="M-3 56l3-4M1 62l3-6"/><path class="ga4" d="M36 101l3 8M40 101l3 15M44 102l3 7M47 104l3-4M63 105l3 10M67 123l3-10M71 108l3 9M110 134l2-23M125 146l3-30M129 161l3-46"/><path class="ga5" d="M28 108l3 9M32 121l3-2M51 119l3 4M55 111l3 16M59 128l3-4M75 133l3-6M78 113l3 7M98 161l3-36M102 107l3 12M106 143l3-20M121 170l3-43M133 125l3-8M195 132l3 0M199 117l3 0M203 119l3-1M206 119l3-1M210 121l3 1"/><path class="ga6" d="M5 150l3-5M24 154l3-1M113 178l3-40M117 200l3-48"/><path class="ga7" d="M9 164l3-3M13 163l3-2M16 162l3-2M20 162l3-2"/><path class="ga8" d="M82 178l3-3M86 189l3-3M90 190l3-3M94 189l3-3"/><path class="ga9" d="M137 209l3-7M168 212l3-14"/><path class="ga10" d="M141 220l3-8M144 227l3-3M148 213l3 1M152 215l3-3M156 218l3-9M160 223l3-8M164 225l3-15M172 207l3 5M175 209l3 9M179 217l3 9M187 229l3-5M191 215l3-4"/><path class="ga11" d="M183 226l3 3"/></g>
<g transform="matrix(0.3816 -0.1064 0 -0.3072 87.66 128.45)"><path d="M-3 55l4 3 4 90 4 16 4-1 3 0 4 0 4-7 4-36 4 2 4-10 4 6 4-6 3-9 4 23 4 4 4-3 4-9 4-2 4 3 4 11 3-8 4 56 4 10 4 2 4-2 4-60 4-7 4 5 4-12 3 27 4 13 4-24 4-11 4-1 4 2 4 85 4 10 3 12 4-10 4-2 4-3 4 6 4-5 4-13 4 15 3 5 4 8 4 4 4-5 4-13 4-79 4-15 4 0 3 1 4 4 3-1-4-4-3-2-4 0-4 16-4 72-4 12-4 12-4-3-4-12-3-9-4 1-4 8-4-13-4 8-4 18-4-9-4 0-3-18-4 0-4-83-4-6-4 3-4 8-4 22-4-11-4-25-3 13-4-6-4 0-4 69-4 2-4-1-4-17-4-46-3 3-4-7-4-4-4 5-4 6-4 4-4-8-4-24-3 12-4 8-4-8-4 8-4 3-4 33-4 7-4-1-3 1-4 0-4-15-4-84-4-15Z"/><path class="ga1" d="M-3 55l3-8"/><path class="ga2" d="M1 58l3 4"/><path class="ga3" d="M47 103l3-5"/><path class="ga4" d="M36 112l3-2M44 112l3-2M67 116l3-1M98 128l3-12M102 121l3-5M110 114l2-5M125 119l3-4M129 118l3-6"/><path class="ga5" d="M28 120l3 1M32 122l3-4M40 118l3 0M51 126l3-4M55 130l3 0M59 127l3-1M63 118l3 2M71 119l3 0M75 130l3-4M78 122l3 1M106 126l3-4M113 141l3-7M121 130l3-7M133 120l3-2M195 135l3-1M199 120l3-2M203 120l3-2M206 121l3-1M210 125l3-1"/><path class="ga6" d="M5 148l3-2M117 154l3-9"/><path class="ga7" d="M9 164l3-3M13 163l3-2M16 163l3-3M20 163l3-2M24 156l3-2M82 178l3-9"/><path class="ga8" d="M86 188l3-2M90 190l3-3M94 188l3-3"/><path class="ga9" d="M137 205l3-4M141 215l3-14M160 218l3-16M168 200l3 7M172 215l3-9M191 214l3-8"/><path class="ga10" d="M144 227l3-8M148 217l3 2M156 212l3-2M164 213l3 2M175 220l3-5M187 227l3-9"/><path class="ga11" d="M152 215l3 13M179 228l3-1M183 232l3-2"/></g>
<g transform="matrix(0.3816 -0.1064 0 -0.3072 88.80 129.00)"><path d="M-3 50l4 15 4 83 4 15 4 0 3 0 4 1 4-7 4-33 4-3 4-8 4 8 4-8 3-12 4 23 4 9 4-4 4-7 4-4 4 3 4 8 3-3 4 46 4 17 4 1 4-2 4-69 4 0 4 6 4-13 3 25 4 11 4-22 4-8 4-4 4 7 4 83 4-1 3 19 4 0 4 9 4-18 4-8 4 13 4-8 4-1 3 9 4 12 4 2 4-12 4-11 4-73 4-15 4 0 3 2 4 4 3-3-4-3-3-4-4 2-4 15-4 67-4 12-4-3-4 2-4-2-3-1-4 6-4-11-4 1-4-8-4 17-4 2-4 2-3-9-4-2-4-85-4-6-4 4-4 5-4 22-4-10-4-25-3 10-4-12-4 2-4 73-4 3-4-5-4-62-4-1-3 6-4-7-4-1-4 4-4 4-4 3-4-10-4-21-3 12-4 9-4-9-4 7-4 7-4 30-4 7-4 0-3-1-4 0-4-15-4-82-4-13Z"/><path class="ga1" d="M-3 50l3 0"/><path class="ga2" d="M1 65l3-2"/><path class="ga3" d="M47 101l3-3"/><path class="ga4" d="M36 113l3-3M44 113l3-3M98 119l3-7M102 119l3-9M110 112l2 0M129 114l3 2"/><path class="ga5" d="M28 124l3 0M32 121l3-4M40 121l3-2M51 124l3-5M55 133l3-4M59 129l3-3M63 122l3 0M67 118l3 0M71 121l3-2M75 129l3-3M78 126l3-6M82 172l3-51M106 125l3-3M121 126l3-1M125 118l3 2M133 121l3 1M195 136l3-2M199 121l3-2M203 121l3-4M206 123l3-2M210 127l3-3"/><path class="ga6" d="M5 148l3-3M113 137l3 0M117 148l3-1"/><path class="ga7" d="M9 163l3-3M13 163l3-3M16 163l3-2M20 164l3-3M24 157l3-3"/><path class="ga8" d="M86 189l3-6M90 190l3-2M94 188l3-3"/><path class="ga9" d="M137 204l3 3M156 213l3-16M160 205l3 0M164 218l3-14M191 209l3-8"/><path class="ga10" d="M141 203l3 6M144 222l3-4M148 222l3-6M152 231l3-17M168 210l3 5M172 209l3 0M175 218l3-8M179 230l3-18M183 232l3-22M187 220l3-7"/></g>
<g transform="matrix(0.3816 -0.1064 0 -0.3072 89.94 129.54)"><path d="M-3 53l4 13 4 82 4 15 4 0 3 0 4 1 4-7 4-30 4-7 4-7 4 9 4-9 3-12 4 21 4 10 4-3 4-4 4-4 4 1 4 7 3-6 4 1 4 62 4 5 4-3 4-73 4-2 4 11 4-9 3 25 4 10 4-22 4-6 4-4 4 7 4 84 4 3 3 9 4-2 4-3 4-16 4 8 4-1 4 11 4-6 3 1 4 2 4-2 4 2 4-11 4-67 4-15 4-2 3 4 4 3 3-4-4-2-3-6-4 3-4 17-4 73-4 2-4-6-4-9-4 5-3 5-4 2-4-5-4 6-4-13-4 0-4 6-4 1-3 6-4-7-4-78-4-4-4 5-4 3-4 23-4-7-4-25-3 3-4-15-4 9-4 71-4 4-4-4-4-66-4 3-3 2-4-6-4 1-4 3-4 0-4 2-4-8-4-18-3 13-4 9-4-9-4 4-4 11-4 28-4 6-4 0-3-1-4 0-4-16-4-87-4-4Z"/><path class="ga1" d="M-3 53l3 0M1 66l3-9"/><path class="ga4" d="M32 120l3-4M36 113l3-1M44 113l3-1M47 101l3-2M98 115l3 0M102 113l3-7M203 120l3-5"/><path class="ga5" d="M28 127l3 0M40 122l3-1M51 122l3-5M55 132l3-7M59 129l3-6M63 125l3-2M67 121l3-1M71 122l3-3M75 129l3-4M78 123l3 0M82 124l3-4M106 124l3-3M110 115l2 3M121 128l3-1M125 122l3 2M129 118l3 1M133 125l3-2M195 137l3-2M199 122l3-4M206 124l3-3M210 127l3-4"/><path class="ga6" d="M5 148l3-4M113 140l3 3M117 150l3 0"/><path class="ga7" d="M9 163l3-3M13 163l3-3M16 163l3-2M20 164l3-3M24 157l3-2"/><path class="ga8" d="M86 186l3 0M94 188l3-2"/><path class="ga9" d="M90 191l3-1M137 209l3-8M141 212l3-4M144 221l3-19M148 219l3-18M152 216l3-21M156 200l3-5M160 208l3 0M164 207l3-5M168 218l3-11M172 212l3-7M175 213l3-13M179 215l3-20M183 213l3-9"/><path class="ga10" d="M187 215l3-5M191 204l3 4"/></g>
<g transform="matrix(0.3816 -0.1064 0 -0.3072 91.07 130.08)"><path d="M-3 56l4 3 4 88 4 16 4 0 3 0 4 1 4-6 4-28 4-12 4-3 4 9 4-9 3-13 4 17 4 9 4-2 4 0 4-3 4-1 4 6 3-2 4-4 4 67 4 4 4-4 4-71 4-10 4 16 4-4 3 26 4 7 4-23 4-3 4-5 4 4 4 77 4 8 3-6 4-1 4-7 4 1 4 12 4-6 4 6 4-2 3-5 4-5 4 9 4 6 4-2 4-73 4-17 4-3 3 5 4 2 3-4-4-1-3-8-4 4-4 8-4 13-4 12-4-13-4-14-4-13-3 16-4 13-4 2-4 8-4-44-4-14-4 13-4 28-3 4-4 0-4-18-4 5-4 6-4 0-4 24-4-4-4-23-3-3-4-12-4 52-4 31-4 0-4-2-4-66-4 1-3-2-4-5-4 3-4 2-4-5-4 0-4-4-4-14-3 13-4 10-4-9-4 0-4 15-4 26-4 5-4 0-3-2-4 0-4-16-4-88-4-5Z"/><path class="ga1" d="M-3 56l3-6M1 59l3-4"/><path class="ga3" d="M152 197l3-107"/><path class="ga4" d="M32 118l3-3M36 115l3 0M44 115l3-1M47 102l3-1M51 119l3-4M102 108l3 2M148 204l3-101M156 198l3-94M175 203l3-94M199 121l3-5M203 118l3-6"/><path class="ga5" d="M28 130l3 0M40 124l3 0M55 128l3-9M59 126l3-7M63 126l3-2M67 123l3-1M71 122l3-3M75 128l3-4M78 126l3 0M82 122l3 3M106 124l3-2M110 120l2 5M121 130l3-2M125 127l3 1M129 122l3 0M133 126l3-9M137 203l3-68M144 205l3-74M172 208l3-83M179 198l3-76M195 138l3-14M206 123l3-3M210 125l3-4"/><path class="ga6" d="M5 147l3-4M113 146l3 2M117 153l3-1M141 211l3-76M160 210l3-62M164 204l3-64M168 210l3-72M183 207l3-71M187 213l3-64M191 211l3-74"/><path class="ga7" d="M9 163l3-4M13 163l3-4M16 163l3-2M20 164l3-3M24 158l3-2M98 118l3 44"/><path class="ga9" d="M86 189l3 2M90 193l3 0M94 189l3 4"/></g>
<g transform="matrix(0.3816 -0.1064 0 -0.3072 92.21 130.62)"><path d="M-3 53l4 4 4 89 4 16 4 0 3 1 4 1 4-6 4-25 4-15 4 0 4 8 4-9 3-13 4 13 4 5 4 0 4 4 4-2 4-2 4 5 3 2 4-1 4 65 4 3 4 0 4-31 4-52 4 12 4 3 3 23 4 3 4-23 4-1 4-5 4-5 4 18 4 0 3-4 4-28 4-13 4 14 4 44 4-8 4-2 4-13 3-16 4 13 4 13 4 13 4-11 4-13 4-8 4-4 3 7 4 2 3-5-4-1-3-8-4 3-4 6-4 6-4 16-4-12-4-9-4-16-3 11-4 19-4 6-4 1-4-56-4-13-4 13-4 27-3 5-4 4-4-8-4 12-4 6-4-3-4 23-4 1-4-18-3-10-4-12-4 58-4 24-4 1-4-8-4-57-4-2-3-5-4-5-4 4-4 2-4-10-4-1-4 0-4-10-3 12-4 11-4-7-4-3-4 16-4 24-4 5-4-1-3-2-4 0-4-14-4-82-4-6Z"/><path class="ga1" d="M-3 53l3 3"/><path class="ga2" d="M1 57l3 5M152 93l3-21"/><path class="ga3" d="M148 106l3-21M156 107l3-22"/><path class="ga4" d="M32 118l3-2M44 117l3-2M47 104l3-1M51 117l3-4M55 122l3-9M59 122l3-8M102 113l3-1M133 120l3-7M144 134l3-22M172 128l3-13M175 112l3-8M199 119l3-6M203 115l3-5"/><path class="ga5" d="M28 133l3-1M36 118l3 1M40 126l3 0M63 126l3-2M67 124l3-2M71 122l3-4M75 127l3-4M78 129l3-1M82 128l3 2M106 125l3-1M110 128l2 6M121 131l3-3M125 130l3 1M129 125l3 0M137 138l3-17M141 138l3-21M168 141l3-7M179 125l3-5M183 138l3-9M191 140l3-15M195 127l3-8M206 122l3-4M210 124l3-5"/><path class="ga6" d="M5 146l3-2M113 151l3 1M117 154l3-3M160 151l3-10M164 143l3-3M187 151l3-10"/><path class="ga7" d="M9 162l3-4M13 162l3-4M16 163l3-3M20 164l3-3M24 158l3-2M98 165l3 5"/><path class="ga8" d="M86 193l3-6"/><path class="ga9" d="M90 196l3-1M94 196l3-2"/></g>
<g transform="matrix(0.3816 -0.1064 0 -0.3072 93.34 131.17)"><path d="M-3 59l4 6 4 82 4 14 4 0 3 2 4 1 4-5 4-24 4-16 4 3 4 7 4-11 3-12 4 10 4 0 4 1 4 10 4-2 4-4 4 5 3 5 4 1 4 58 4 7 4 0 4-24 4-58 4 12 4 10 3 18 4-1 4-24 4 3 4-6 4-11 4 8 4-4 3-5 4-27 4-14 4 14 4 56 4-1 4-6 4-19 3-11 4 15 4 10 4 12 4-16 4-6 4-6 4-3 3 8 4 1 3-5-4 0-3-8-4 2-4 4-4 9-4 18-4-9-4-7-4-13-3 6-4 23-4 5-4-10-4-59-4-9-4 11-4 23-3 5-4 6-4-6-4 20-4 6-4-7-4 22-4 4-4-10-3-15-4-12-4 57-4 23-4-6-4-48-4-15-4 2-3-8-4-4-4 5-4 3-4-13-4-3-4 2-4-6-3 10-4 13-4-6-4-5-4 15-4 24-4 5-4-1-3-3-4 1-4-14-4-82-4-8Z"/><path class="ga1" d="M-3 59l3-5"/><path class="ga2" d="M1 65l3-3M148 88l3-8M152 74l3-5M156 88l3-10"/><path class="ga4" d="M44 118l3-3M47 106l3-1M51 116l3-5M55 116l3-7M59 117l3-5M71 121l3-4M102 115l3 1M133 116l3-8M137 124l3-10M141 120l3-12M144 115l3-12M175 107l3 6M195 122l3-7M199 116l3-5M203 113l3-4"/><path class="ga5" d="M28 135l3-3M32 119l3-2M36 122l3 0M40 129l3-1M63 127l3-2M67 125l3-3M75 126l3-5M78 131l3-2M82 132l3-5M106 127l3 1M121 130l3-3M125 133l3 1M129 127l3 1M172 118l3 1M179 122l3 4M183 132l3 1M191 128l3-4M206 121l3-4M210 122l3-5"/><path class="ga6" d="M5 147l3-3M86 190l3-48M110 137l2 6M113 155l3-2M117 154l3-5M160 144l3-7M164 143l3 4M168 137l3 5M187 144l3-2"/><path class="ga7" d="M9 161l3-3M13 161l3-4M16 163l3-3M20 164l3-3M24 159l3-3"/><path class="ga8" d="M98 173l3 0"/><path class="ga9" d="M90 197l3-7M94 197l3-1"/></g>
<g transform="matrix(0.3816 -0.1064 0 -0.3072 94.48 131.71)"><path d="M-3 57l4 8 4 82 4 13 4 0 3 3 4 1 4-5 4-24 4-15 4 5 4 6 4-13 3-10 4 6 4-2 4 3 4 13 4-3 4-6 4 5 3 8 4-2 4 15 4 48 4 6 4-23 4-57 4 12 4 14 3 11 4-5 4-21 4 6 4-6 4-19 4 5 4-5 3-5 4-24 4-10 4 9 4 59 4 10 4-6 4-22 3-6 4 13 4 6 4 10 4-18 4-9 4-5 4-1 3 8 4 0 3-6-4 3-3-7-4-1-4 2-4 13-4 17-4-5-4-6-4-8-3 2-4 24-4 1-4-20-4-55-4-2-4 3-4 22-3 2-4 7-4-2-4 28-4 5-4-10-4 18-4 8-4-4-3-16-4-5-4 50-4 20-4-7-4-57-4-4-4-1-3-9-4-6-4 6-4 6-4-15-4-4-4 2-4-3-3 7-4 16-4-4-4-6-4 12-4 25-4 4-4-1-3-3-4 1-4-12-4-77-4-7Z"/><path class="ga1" d="M-3 57l3 4"/><path class="ga2" d="M1 65l3 3M148 82l3-7M152 72l3 0M156 81l3-7"/><path class="ga3" d="M144 106l3-9"/><path class="ga4" d="M44 118l3-5M47 108l3-2M51 114l3-5M55 112l3-5M59 115l3-4M71 119l3-5M133 111l3-7M137 116l3-10M141 111l3-12M195 118l3-7M199 113l3-4M203 112l3-2M210 120l3-6"/><path class="ga5" d="M28 135l3-4M32 120l3-1M36 125l3 0M40 131l3-2M63 128l3-2M67 125l3-5M75 124l3-4M78 132l3-3M82 130l3 0M86 145l3-11M102 119l3 9M106 131l3 2M121 130l3-3M129 130l3 2M160 140l3-11M172 122l3 2M175 116l3 6M179 129l3 1M191 127l3-3M206 120l3-3"/><path class="ga6" d="M5 147l3-2M110 145l2 4M113 156l3-3M117 151l3-6M125 136l3 1M164 150l3-1M168 144l3 4M183 135l3 1M187 145l3-4"/><path class="ga7" d="M9 160l3-3M13 160l3-4M16 163l3-4M20 164l3-4M24 159l3-3"/><path class="ga8" d="M98 176l3 2"/><path class="ga9" d="M90 193l3-2M94 199l3-1"/></g>
<g transform="matrix(0.3816 -0.1064 0 -0.3072 95.61 132.25)"><path d="M-3 63l4 8 4 77 4 11 4 0 3 3 4 1 4-4 4-25 4-12 4 6 4 4 4-16 3-7 4 3 4-2 4 4 4 15 4-6 4-6 4 6 3 8 4 1 4 5 4 57 4 7 4-20 4-50 4 5 4 16 3 3 4-7 4-18 4 10 4-5 4-29 4 3 4-7 3-2 4-22 4-4 4 3 4 55 4 20 4-1 4-24 3-2 4 8 4 5 4 6 4-17 4-13 4-2 4 0 3 8 4-3 3-5-4 5-3-5-4-4-4 0-4 16-4 15-4-1-4-8-4 0-3 0-4 22-4-6-4-27-4-44-4 3-4-8-4 23-3-1-4 8-4 3-4 35-4 3-4-13-4 15-4 8-4 1-3-9-4 33-4 13-4 11-4-9-4-60-4 1-4-4-3-9-4-7-4 4-4 10-4-14-4-6-4 2-4-2-3 5-4 18-4-1-4-7-4 8-4 26-4 5-4-2-3-3-4 1-4-11-4-82-4-2Z"/><path class="ga1" d="M-3 63l3-2"/><path class="ga2" d="M1 71l3-8M148 78l3-8M152 74l3 4M156 77l3-2"/><path class="ga3" d="M141 102l3-10M144 100l3-7"/><path class="ga4" d="M44 116l3-5M47 109l3-3M51 112l3-4M55 110l3-4M59 114l3-2M67 123l3-7M71 117l3-5M133 106l3-3M137 109l3-9M195 114l3-6M199 112l3-4M203 112l3 0M210 117l3-5"/><path class="ga5" d="M28 134l3-5M32 122l3-1M36 128l3 0M40 132l3-3M63 129l3-3M75 123l3-4M78 131l3-3M82 132l3 0M86 137l3-6M121 130l3-2M160 132l3-13M172 127l3 3M175 125l3 5M179 133l3-3M191 127l3-3M206 120l3-3"/><path class="ga6" d="M5 148l3-3M106 136l3 7M110 152l2 0M113 155l3-4M117 148l3-5M125 140l3 1M129 135l3 3M164 152l3-6M168 151l3 1M183 138l3 0M187 144l3-5"/><path class="ga7" d="M9 159l3-3M13 159l3-4M16 162l3-4M20 163l3-3M24 159l3-4"/><path class="ga8" d="M98 181l3 8M102 131l3 45"/><path class="ga9" d="M90 194l3-3M94 201l3-1"/></g>
<g transform="matrix(0.3816 -0.1064 0 -0.3072 96.75 132.80)"><path d="M-3 64l4 2 4 81 4 12 4-1 3 3 4 2 4-5 4-26 4-8 4 7 4 1 4-18 3-5 4 2 4-2 4 6 4 14 4-10 4-4 4 7 3 9 4 4 4-1 4 60 4 9 4-11 4-13 4-33 4 9 3-1 4-8 4-15 4 12 4-3 4-34 4-3 4-8 3 0 4-22 4 7 4-2 4 44 4 27 4 6 4-22 3-1 4 1 4 7 4 1 4-14 4-17 4 1 4 4 3 5 4-6 3-5-4 10-3-4-4-6-4-4-4 19-4 10-4 4-4-10-4 7-3 1-4 18-4-14-4-30-4-29-4 4-4-19-4 23-3-3-4 13-4 10-4 35-4 0-4-13-4 10-4 9-4 3-3-6-4 40-4 9-4 6-4-17-4-56-4 5-4-7-3-8-4-9-4 2-4 13-4-12-4-6-4 0-4-1-3 3-4 21-4 2-4-9-4 4-4 27-4 5-4-2-3-2-4 0-4-11-4-87-4-5Z"/><path class="ga1" d="M-3 64l3-12M1 66l3-9"/><path class="ga2" d="M148 73l3-7"/><path class="ga3" d="M141 95l3-9M144 95l3-6M152 80l3 5M156 78l3 3"/><path class="ga4" d="M44 114l3-5M47 109l3-3M51 111l3-4M55 109l3-2M59 115l3-2M67 119l3-7M71 115l3-5M133 106l3 3M137 103l3-4M160 122l3-12M195 110l3-5M199 111l3-2M203 115l3 0M210 114l3-5"/><path class="ga5" d="M28 132l3-5M32 124l3-1M36 131l3 1M40 132l3-2M63 129l3-4M75 122l3-3M78 131l3-4M82 135l3-1M86 134l3-5M121 131l3 0M175 132l3 3M179 133l3-5M187 141l3-7M191 127l3-3M206 120l3-1"/><path class="ga6" d="M5 147l3-3M106 146l3 1M110 155l2-2M113 154l3-4M117 146l3-5M125 143l3 1M129 140l3 4M164 149l3-9M172 133l3 3M183 140l3-2"/><path class="ga7" d="M9 159l3-4M13 158l3-3M16 161l3-4M20 163l3-4M24 158l3-4M168 155l3-1"/><path class="ga8" d="M90 194l3-9M102 179l3 8"/><path class="ga9" d="M94 203l3-1M98 192l3 4"/></g>
<g transform="matrix(0.3816 -0.1064 0 -0.3072 97.89 133.34)"><path d="M-3 55l4 4 4 87 4 12 4 0 3 2 4 2 4-5 4-27 4-4 4 8 4-1 4-21 3-3 4 1 4 0 4 6 4 12 4-13 4-2 4 9 3 8 4 6 4-5 4 57 4 17 4-6 4-9 4-40 4 6 3-3 4-9 4-11 4 14 4-1 4-35 4-9 4-13 3 3 4-23 4 19 4-4 4 29 4 30 4 14 4-18 3-1 4-7 4 10 4-4 4-11 4-18 4 4 4 6 3 4 4-10 3-5-4 14-3-2-4-9-4-6-4 19-4 7-4 8-4-12-4 12-3 3-4 12-4-19-4-29-4-15-4 2-4-28-4 24-3-6-4 19-4 17-4 31-4-3-4-13-4 7-4 9-4 1-3-1-4 42-4 12-4-4-4-60-4-17-4 12-4-8-3-7-4-11-4 0-4 15-4-9-4-6-4 0-4-1-3 1-4 23-4 4-4-10-4 1-4 27-4 5-4-2-3-1-4-1-4-10-4-83-4-11Z"/><path class="ga1" d="M-3 55l3-5M1 59l3 2"/><path class="ga2" d="M148 69l3-5"/><path class="ga3" d="M141 89l3-7M144 92l3-4M152 88l3 4M156 84l3 6"/><path class="ga4" d="M44 112l3-4M47 109l3-2M51 110l3-2M55 110l3-2M59 116l3-2M67 115l3-7M71 113l3-5M137 102l3-1M160 113l3-8M195 108l3-4M199 112l3-2M210 112l3-5"/><path class="ga5" d="M28 130l3-4M32 126l3-1M36 134l3 1M40 133l3-2M63 128l3-5M75 122l3-3M78 130l3-4M82 136l3-2M86 131l3-9M121 133l3 0M133 111l3 7M164 143l3-9M179 131l3-5M187 137l3-7M191 126l3-3M203 118l3 1M206 122l3-1"/><path class="ga6" d="M5 146l3-2M24 157l3-4M90 188l3-49M106 150l3-1M110 156l2-6M113 153l3-4M117 144l3-4M125 147l3-1M129 146l3 3M168 157l3-4M172 139l3 2M175 138l3 0M183 141l3-3"/><path class="ga7" d="M9 158l3-4M13 158l3-3M16 160l3-4M20 162l3-4"/><path class="ga9" d="M94 205l3-6M98 199l3 4M102 190l3 1"/></g>
<g transform="matrix(0.3816 -0.1064 0 -0.3072 99.02 133.88)"><path d="M-3 53l4 11 4 83 4 10 4 1 3 1 4 2 4-5 4-27 4-1 4 10 4-5 4-22 3-2 4 1 4 0 4 7 4 9 4-15 4 0 4 10 3 8 4 8 4-12 4 17 4 59 4 4 4-11 4-43 4 2 3-1 4-9 4-7 4 13 4 3 4-31 4-17 4-19 3 6 4-24 4 28 4-2 4 15 4 29 4 19 4-12 3-3 4-12 4 11 4-7 4-7 4-19 4 6 4 9 3 2 4-15 3-3-4 17-3 0-4-11-4-8-4 18-4 4-4 10-4-12-4 15-3 6-4 6-4-21-4-27-4-3-4-3-4-31-4 25-3-10-4 24-4 24-4 24-4-5-4-13-4 4-4 7-4-1-3 3-4 45-4 15-4-8-4-67-4-11-4 12-4-9-3-6-4-11-4-2-4 15-4-7-4-5-4 1-4-3-3 1-4 23-4 6-4-11-4 1-4 25-4 5-4-1-3-1-4-1-4-10-4-79-4-11Z"/><path class="ga1" d="M-3 53l3 1"/><path class="ga2" d="M1 64l3 1M148 67l3-1"/><path class="ga3" d="M141 85l3-4M144 91l3 0M152 95l3 2"/><path class="ga4" d="M44 111l3-3M47 109l3-2M51 110l3 0M55 110l3-1M59 117l3-3M67 111l3-5M71 111l3-3M137 104l3 1M156 93l3 7M160 108l3-5M195 107l3-3M199 113l3-1M210 109l3-3"/><path class="ga5" d="M28 129l3-2M32 128l3-2M40 133l3-2M63 126l3-5M75 121l3-2M78 129l3-4M82 137l3-3M86 125l3-3M90 142l3-9M121 136l3-1M133 121l3 8M164 137l3-7M179 129l3-5M187 133l3-7M191 126l3-4M203 122l3 1M206 124l3-1"/><path class="ga6" d="M5 147l3-3M24 156l3-4M36 138l3-1M106 151l3-3M110 153l2-8M113 152l3-6M117 143l3-4M125 149l3-1M168 156l3-5M172 144l3 1M175 141l3-2M183 140l3-4"/><path class="ga7" d="M9 157l3-3M13 158l3-3M16 159l3-3M20 161l3-4M129 152l3 1"/><path class="ga9" d="M94 201l3-1M98 205l3 3M102 194l3-1"/></g>
<g transform="matrix(0.3816 -0.1064 0 -0.3072 100.16 134.43)"><path d="M-3 57l4 11 4 78 4 10 4 2 3 0 4 2 4-5 4-25 4-1 4 11 4-6 4-23 3-1 4 3 4-1 4 5 4 7 4-15 4 2 4 10 3 6 4 10 4-12 4 11 4 67 4 7 4-14 4-46 4-2 3 1 4-7 4-4 4 13 4 5 4-24 4-24 4-25 3 11 4-25 4 31 4 3 4 3 4 27 4 21 4-7 3-5 4-15 4 12 4-10 4-5 4-17 4 8 4 11 3 0 4-17 3-2-4 18-3 0-4-12-4-8-4 16-4 3-4 10-4-11-4 13-3 9-4 4-4-20-4-23-4 3-4-8-4-29-4 27-3-15-4 26-4 28-4 17-4-6-4-12-4-1-4 6-4-2-3 9-4 46-4 15-4-9-4-68-4-10-4 9-4-9-3-4-4-9-4-5-4 14-4-6-4-2-4 3-4-5-3 1-4 22-4 6-4-10-4 1-4 23-4 4-4-1-3 0-4-2-4-11-4-79-4-9Z"/><path class="ga1" d="M-3 57l3-3"/><path class="ga2" d="M1 68l3-5M148 69l3 3"/><path class="ga3" d="M141 83l3 1"/><path class="ga4" d="M44 111l3-1M47 110l3-1M51 113l3 1M55 112l3-1M59 117l3-4M67 109l3-4M71 111l3-1M137 108l3 2M144 94l3 5M152 100l3 1M156 103l3 6M160 106l3 0M195 107l3-2M199 115l3-2M210 109l3-2"/><path class="ga5" d="M28 130l3-1M32 129l3-1M40 134l3-2M63 124l3-5M75 121l3-2M78 127l3-4M82 137l3-5M86 125l3-2M90 136l3-3M164 133l3-4M179 127l3-4M183 139l3-5M187 129l3-5M191 124l3-3M203 126l3-1M206 126l3-1"/><path class="ga6" d="M5 146l3-4M9 156l3-3M24 155l3-3M36 140l3-2M106 150l3-1M110 148l2-8M113 149l3-7M117 142l3-6M121 138l3-1M125 151l3-2M133 132l3 6M168 154l3-5M172 147l3-2M175 142l3-6"/><path class="ga7" d="M13 158l3-3M16 158l3-3M20 160l3-4M129 156l3-1"/><path class="ga9" d="M94 203l3-2M102 196l3-1"/><path class="ga10" d="M98 210l3 0"/></g>
<g transform="matrix(0.3816 -0.1064 0 -0.3072 101.29 134.97)"><path d="M-3 57l4 9 4 79 4 11 4 1 3 1 4 1 4-4 4-23 4-1 4 10 4-6 4-23 3 0 4 5 4-3 4 2 4 6 4-14 4 5 4 9 3 4 4 9 4-9 4 10 4 68 4 9 4-15 4-46 4-9 3 2 4-6 4 0 4 13 4 6 4-17 4-28 4-26 3 15 4-27 4 29 4 8 4-3 4 23 4 20 4-4 3-9 4-13 4 11 4-10 4-3 4-16 4 8 4 12 3-1 4-17 3 1-4 24-3-1-4-20-4-8-4 13-4 4-4 7-4-7-4 8-3 11-4 4-4-17-4-17-4 4-4-13-4-22-4 31-3-18-4 20-4 29-4 12-4-5-4-12-4-4-4 4-4 2-3 43-4 16-4 10-4-9-4-67-4-10-4 7-4-9-3-1-4-6-4-8-4 11-4-5-4 1-4 5-4-8-3 2-4 19-4 6-4-7-4 1-4 20-4 5-4-1-3-1-4-2-4-10-4-77-4-17Z"/><path class="ga1" d="M-3 57l3-9"/><path class="ga2" d="M1 66l3-1"/><path class="ga3" d="M141 87l3 7M148 75l3 6"/><path class="ga4" d="M44 112l3 0M47 112l3-2M55 114l3-1M59 116l3-4M67 108l3-2M71 113l3 1M137 113l3 1M144 102l3 10M152 104l3-1M156 112l3 4M160 109l3 3M195 108l3-2M199 116l3-2M210 110l3 1"/><path class="ga5" d="M28 132l3-1M32 131l3-1M40 135l3-4M51 117l3 1M63 122l3-5M75 122l3-2M78 126l3-5M82 135l3-5M86 126l3-3M90 136l3-3M117 139l3-5M164 132l3-3M175 139l3-8M179 126l3-3M183 137l3-7M187 127l3-4M191 124l3-5M203 128l3 6M206 127l3 8"/><path class="ga6" d="M5 145l3-3M9 156l3-4M24 155l3-4M36 141l3-4M110 143l2-3M113 145l3-7M121 139l3-1M125 152l3-2M133 141l3 2M168 152l3-6M172 148l3-6"/><path class="ga7" d="M13 157l3-3M16 158l3-3M20 159l3-3M129 158l3-3"/><path class="ga8" d="M106 152l3 31"/><path class="ga9" d="M94 204l3-4M102 198l3 1"/><path class="ga10" d="M98 213l3-4"/></g>
<g transform="matrix(0.3816 -0.1064 0 -0.3072 102.43 135.51)"><path d="M-3 51l4 17 4 77 4 10 4 2 3 1 4 0 4-4 4-20 4-2 4 8 4-6 4-19 3-2 4 8 4-5 4-2 4 6 4-11 4 7 4 7 3 0 4 10 4-7 4 10 4 67 4 9 4-10 4-17 4-42 3-3 4-3 4 4 4 12 4 5 4-12 4-29 4-21 3 18 4-30 4 22 4 13 4-4 4 17 4 17 4-4 3-11 4-8 4 7 4-7 4-4 4-13 4 8 4 20 3 0 4-23 3 8-4 72-3-1-4-71-4-13-4 8-4 4-4 5-4-2-4 1-3 10-4 5-4-11-4-9-4 2-4-18-4-14-4 35-3-19-4 12-4 26-4 9-4-2-4-11-4-8-4 2-4 4-3 46-4 13-4 7-4-12-4-60-4-9-4 5-4-10-3 4-4-4-4-10-4 7-4-5-4 6-4 5-4-11-3 5-4 14-4 6-4-5-4 2-4 19-4 4-4-1-3 0-4-2-4-11-4-75-4-21Z"/><path class="ga1" d="M-3 51l3-6"/><path class="ga2" d="M1 68l3-2"/><path class="ga3" d="M148 84l3 6"/><path class="ga4" d="M44 115l3 0M47 113l3-3M55 116l3 0M59 114l3-4M63 120l3-5M67 109l3-1M141 96l3 10M152 106l3-2M195 109l3 0"/><path class="ga5" d="M28 134l3-2M32 132l3-2M36 140l3-5M40 134l3-5M51 121l3 0M71 116l3 2M75 123l3-1M78 123l3-5M82 133l3-5M86 126l3-3M90 136l3-4M113 140l3-6M117 137l3-5M137 117l3 1M144 114l3 11M156 119l3 3M160 115l3 5M164 132l3-3M175 134l3-9M179 126l3-2M183 133l3-7M187 126l3-5M191 122l3-5M199 117l3 5M210 114l3 8"/><path class="ga6" d="M5 145l3-4M9 155l3-3M24 154l3-3M110 143l2-5M121 141l3-1M125 153l3-2M129 158l3-5M133 146l3-2M168 149l3-9M172 145l3-10"/><path class="ga7" d="M13 157l3-3M16 158l3-4M20 158l3-3"/><path class="ga8" d="M106 185l3-1"/><path class="ga9" d="M94 203l3-11M98 212l3-8M102 202l3-5M203 137l3 56M206 137l3 57"/></g>
<g transform="matrix(0.3816 -0.1064 0 -0.3072 103.56 136.05)"><path d="M-3 48l4 21 4 75 4 10 4 3 3 0 4 1 4-4 4-19 4-2 4 4 4-5 4-15 3-4 4 11 4-6 4-5 4 5 4-8 4 11 4 3 3-3 4 9 4-4 4 8 4 61 4 12 4-7 4-13 4-46 3-4 4-3 4 8 4 11 4 2 4-8 4-26 4-12 3 19 4-36 4 15 4 18 4-2 4 9 4 11 4-5 3-10 4-1 4 2 4-5 4-4 4-8 4 12 4 72 3 0 4-71 3 4-4 73-3-1-4-77-4-12-4 2-4 3-4 4-4 6-4-8-3 6-4 6-4-4-4 1-4-3-4-19-4-9-4 41-3-18-4 0-4 23-4 7-4 1-4-10-4-10-4 2-4 5-3 44-4 12-4-1-4-50-4-19-4-1-4 3-4-11-3 8-4-2-4-12-4 5-4-5-4 8-4 4-4-12-3 7-4 11-4 4-4-3-4 3-4 20-4 4-4-1-3-1-4-3-4-9-4-70-4-23Z"/><path class="ga1" d="M-3 48l3 0"/><path class="ga2" d="M1 69l3 2"/><path class="ga3" d="M148 92l3 5"/><path class="ga4" d="M44 117l3-1M47 113l3-4M59 113l3-4M63 118l3-4M67 110l3-1M78 121l3-6M152 107l3-1M191 120l3-6M195 112l3 0"/><path class="ga5" d="M28 135l3-4M32 133l3-5M36 137l3-6M40 132l3-5M51 124l3-3M55 118l3-1M71 121l3 0M75 124l3-1M82 130l3-4M86 126l3-3M90 134l3-10M113 137l3-4M117 134l3-3M137 121l3-1M141 109l3 11M156 125l3 0M160 123l3 5M164 132l3-5M168 143l3-12M172 138l3-13M175 128l3-9M179 127l3 0M183 129l3-8M187 124l3-7M199 124l3 0M210 125l3 4"/><path class="ga6" d="M5 144l3-3M9 154l3-4M13 157l3-4M24 154l3-3M94 195l3-52M110 141l2-3M121 142l3-1M125 153l3-2M129 155l3-5M133 147l3-4M144 128l3 10"/><path class="ga7" d="M16 157l3-3M20 158l3-3"/><path class="ga8" d="M106 187l3-5"/><path class="ga9" d="M98 207l3-14M102 200l3-6M203 196l3 5M206 196l3 6"/></g>
<g transform="matrix(0.3816 -0.1064 0 -0.3072 104.70 136.60)"><path d="M-3 51l4 23 4 70 4 9 4 3 3 1 4 1 4-5 4-20 4-2 4 3 4-4 4-12 3-6 4 12 4-4 4-8 4 4 4-4 4 12 4 1 3-7 4 11 4-4 4 2 4 19 4 50 4 1 4-12 4-44 3-5 4-2 4 10 4 10 4-2 4-6 4-23 4 0 3 18 4-41 4 8 4 20 4 2 4 0 4 4 4-6 3-6 4 7 4-5 4-4 4-3 4-2 4 11 4 78 3 1 4-73 3 2-4 69-3-1-4-77-4-9-4-5-4 2-4 3-4 15-4-15-3-3-4 8-4 1-4 11-4-5-4-20-4-6-4 46-3-16-4-10-4 19-4 5-4 5-4-8-4-11-4 3-4 9-3 39-4 10-4-6-4-56-4-8-4 0-4 2-4-12-3 9-4 1-4-12-4 2-4-4-4 8-4 2-4-13-3 9-4 10-4 3-4-3-4 3-4 22-4 5-4-1-3-1-4-4-4-10-4-74-4-15Z"/><path class="ga1" d="M-3 51l3-1"/><path class="ga2" d="M1 74l3-9"/><path class="ga4" d="M44 118l3-3M47 112l3-6M59 112l3-3M63 116l3-3M67 112l3-1M78 118l3-5M148 100l3 2M152 108l3 0M172 128l3-15M175 122l3-6M183 124l3-8M187 120l3-7M191 117l3-6M195 115l3 1"/><path class="ga5" d="M28 133l3-5M32 131l3-6M36 134l3-6M40 130l3-5M51 124l3-5M55 120l3-3M71 124l3-1M75 125l3-3M82 129l3-4M86 125l3-2M90 127l3-4M94 146l3-15M117 134l3-2M137 123l3-1M141 123l3 9M156 128l3 0M160 130l3 3M164 130l3-8M168 134l3-13M179 129l3 2M199 126l3-1M210 132l3 2"/><path class="ga6" d="M5 144l3-5M9 153l3-4M13 156l3-3M24 153l3-3M110 141l2 3M113 136l3-1M121 144l3-1M125 154l3-3M129 152l3-6M133 146l3-5M144 141l3 7"/><path class="ga7" d="M16 157l3-3M20 158l3-3"/><path class="ga8" d="M98 196l3-9M106 185l3-2"/><path class="ga9" d="M102 197l3-4M203 204l3-2M206 205l3-2"/></g>
<g transform="matrix(0.3816 -0.1064 0 -0.3072 105.84 137.14)"><path d="M-3 52l4 16 4 74 4 10 4 3 3 1 4 1 4-4 4-22 4-3 4 3 4-3 4-11 3-8 4 13 4-2 4-8 4 4 4-2 4 11 4 0 3-9 4 12 4-2 4-1 4 9 4 56 4 5 4-10 4-38 3-9 4-3 4 11 4 8 4-5 4-5 4-19 4 10 3 16 4-46 4 5 4 20 4 5 4-10 4-2 4-7 3 3 4 15 4-15 4-3 4-2 4 4 4 10 4 76 3 1 4-68 3 1-4 65-3-1-4-75-4-8-4-11-4 1-4 4-4 24-4-19-3-15-4 8-4 4-4 19-4-6-4-18-4-4-4 49-3-14-4-17-4 16-4 3-4 7-4-5-4-12-4 10-4 40-3 6-4 3-4-9-4-56-4-4-4 1-4 2-4-15-3 9-4 1-4-9-4 2-4-2-4 4-4 0-4-13-3 9-4 12-4 1-4-5-4 5-4 24-4 5-4-1-3-1-4-4-4-10-4-72-4-8Z"/><path class="ga1" d="M-3 52l3 6"/><path class="ga2" d="M1 68l3-2"/><path class="ga4" d="M44 117l3-5M47 109l3-6M51 122l3-6M55 120l3-4M59 112l3 0M63 116l3-2M67 114l3-2M78 116l3-5M148 105l3 1M152 110l3 0M164 125l3-10M168 123l3-12M172 116l3-13M183 119l3-6M187 116l3-7M191 114l3-6"/><path class="ga5" d="M28 131l3-6M32 128l3-8M36 131l3-6M40 128l3-4M71 125l3-4M75 125l3-5M82 128l3-2M86 126l3-2M90 125l3-2M94 134l3-7M117 135l3-2M137 125l3-1M156 130l3-2M160 135l3-1M175 119l3-1M195 118l3 1M199 128l3-1"/><path class="ga6" d="M5 142l3-4M9 152l3-4M13 155l3-3M16 156l3-3M24 153l3-4M113 138l3 5M121 146l3-1M125 154l3-4M129 149l3-6M133 144l3-4M141 135l3 6M179 134l3 3M210 137l3 1"/><path class="ga7" d="M20 157l3-3M144 151l3 4"/><path class="ga8" d="M98 190l3-7M106 185l3 4M110 147l2 36"/><path class="ga9" d="M102 195l3-3M203 204l3-2M206 205l3-2"/></g>
<g transform="matrix(0.3816 -0.1064 0 -0.3072 106.97 137.68)"><path d="M-3 61l4 8 4 72 4 10 4 4 3 1 4 1 4-5 4-24 4-5 4 5 4-1 4-12 3-9 4 12 4 1 4-4 4 2 4-2 4 9 4-2 3-8 4 15 4-2 4-2 4 5 4 56 4 9 4-3 4-6 3-40 4-10 4 12 4 5 4-8 4-2 4-16 4 17 3 14 4-49 4 4 4 18 4 5 4-18 4-5 4-7 3 15 4 18 4-23 4-4 4-1 4 10 4 9 4 75 3 1 4-65 3-2-4 54-3-2-4-63-4-6-4-14-4-1-4 6-4 28-4-18-3-26-4 8-4 3-4 22-4-3-4-16-4-2-4 49-3-12-4-21-4 12-4 1-4 11-4-2-4-13-4 11-4 44-3 2-4 1-4-18-4-50-4-1-4 3-4 2-4-18-3 6-4 2-4-4-4 4-4-2-4-1-4-4-4-10-3 9-4 13-4 0-4-7-4 6-4 26-4 5-4 0-3-1-4-4-4-10-4-71-4-4Z"/><path class="ga2" d="M-3 61l3 2M1 69l3-2"/><path class="ga3" d="M172 106l3-9"/><path class="ga4" d="M32 123l3-7M44 115l3-5M47 106l3-5M51 118l3-7M55 119l3-4M59 115l3 1M67 115l3-1M75 122l3-6M78 114l3-4M148 109l3 0M152 113l3-2M164 118l3-10M168 113l3-8M183 116l3-3M187 112l3-5M191 111l3-3"/><path class="ga5" d="M28 128l3-6M36 128l3-5M40 127l3-4M63 117l3 1M71 124l3-6M82 129l3-1M86 127l3-1M90 125l3-2M94 130l3-6M117 136l3-2M137 127l3-2M156 131l3-4M160 136l3-6M175 121l3 2M195 121l3 1M199 130l3-2"/><path class="ga6" d="M5 141l3-3M9 151l3-3M13 155l3-3M16 156l3-3M20 157l3-4M24 152l3-4M113 146l3-1M121 148l3-1M125 153l3-4M129 145l3-7M133 143l3-6M141 144l3 2M179 139l3 2M210 141l3-2"/><path class="ga7" d="M144 158l3 0"/><path class="ga8" d="M98 186l3-12M110 186l2 3"/><path class="ga9" d="M102 195l3-3M106 192l3-1M203 205l3-14M206 206l3-13"/></g>
<g transform="matrix(0.3816 -0.1064 0 -0.3072 108.11 138.23)"><path d="M-3 65l4 5 4 71 4 10 4 4 3 1 4 0 4-5 4-26 4-7 4 8 4 0 4-13 3-9 4 10 4 4 4 1 4 2 4-4 4 3 4-1 3-6 4 18 4-2 4-3 4 0 4 51 4 17 4 0 4-3 3-43 4-11 4 13 4 2 4-11 4-1 4-12 4 21 3 12 4-49 4 2 4 16 4 3 4-22 4-3 4-8 3 25 4 19 4-29 4-5 4 0 4 14 4 7 4 62 3 3 4-54 3-12-4-13-3-10-4 13-4 4-4-15-4-2-4 6-4 30-4-16-3-30-4 9-4-2-4 21-4 0-4-14-4 0-4 46-3-11-4-21-4 8-4-1-4 14-4 1-4-13-4 11-4 43-3 5-4-8-4-61-4-7-4 8-4 3-4 3-4-21-3 3-4 1-4 2-4 7-4-3-4-6-4-6-4-7-3 8-4 14-4-2-4-10-4 9-4 28-4 4-4 0-3 0-4-4-4-10-4-62-4-5Z"/><path class="ga2" d="M-3 65l3 6M1 70l3 6"/><path class="ga3" d="M172 100l3-3"/><path class="ga4" d="M32 118l3-7M44 113l3-4M47 104l3-3M51 114l3-6M55 118l3-4M67 117l3-1M71 120l3-6M75 119l3-6M78 113l3-3M148 112l3-1M152 114l3-3M164 111l3-7M168 108l3-2M183 115l3-2M187 110l3-3M191 110l3-1M203 193l3-86"/><path class="ga5" d="M28 125l3-5M36 126l3-5M40 126l3-3M59 119l3 1M63 121l3 2M82 131l3 0M86 129l3-1M90 126l3-1M94 126l3-9M98 177l3-53M117 137l3-3M129 141l3-9M133 140l3-7M137 128l3-3M156 130l3-5M160 133l3-8M175 125l3 2M195 124l3 0M199 131l3-11M206 196l3-79M210 142l3-12"/><path class="ga6" d="M5 141l3-3M9 151l3-3M13 155l3-3M16 156l3-4M20 156l3-4M24 151l3-3M113 148l3-3M121 150l3-3M125 152l3-6M141 149l3-3M179 144l3-1"/><path class="ga7" d="M144 161l3-4"/><path class="ga8" d="M102 194l3-9M110 191l2-3"/><path class="ga9" d="M106 194l3-1"/></g>
<g transform="matrix(0.3816 -0.1064 0 -0.3072 109.24 138.77)"><path d="M-3 74l4 5 4 62 4 9 4 5 3 0 4 0 4-5 4-27 4-9 4 10 4 2 4-14 3-8 4 7 4 6 4 6 4 3 4-7 4-3 4-1 3-2 4 20 4-2 4-3 4-9 4 8 4 61 4 7 4-5 3-42 4-11 4 13 4-1 4-14 4 1 4-8 4 21 3 11 4-46 4-1 4 15 4 0 4-21 4 2 4-9 3 30 4 16 4-30 4-6 4 2 4 15 4-5 4-12 3 10 4 12 3-5-4-22-3-10-4 25-4 5-4-13-4-4-4 6-4 28-4-13-3-28-4 11-4-9-4 16-4 4-4-15-4 3-4 40-3-8-4-18-4 2-4-1-4 16-4 4-4-13-4 15-4 38-3 7-4-9-4-67-4 0-4 9-4 4-4 2-4-21-3-1-4 1-4 8-4 7-4-2-4-10-4-7-4-6-3 9-4 14-4-5-4-12-4 12-4 28-4 4-4 1-3 1-4-5-4-10-4-63-4-6Z"/><path class="ga2" d="M-3 74l3-5M1 79l3-4"/><path class="ga3" d="M203 110l3-15"/><path class="ga4" d="M32 114l3-7M44 112l3-2M47 104l3-3M51 111l3-4M55 117l3-3M71 116l3-5M75 115l3-5M78 113l3-2M94 119l3-2M148 114l3-3M152 113l3-5M164 107l3-4M168 109l3 3M172 100l3 1M183 116l3-2M187 110l3-2M191 112l3 0M206 120l3-15"/><path class="ga5" d="M28 123l3-4M36 124l3-5M40 126l3-2M59 123l3 1M63 126l3 0M67 119l3 0M82 133l3-1M86 131l3-1M90 128l3-2M98 127l3-10M117 137l3-4M129 135l3-9M133 136l3-9M137 128l3-3M156 128l3-5M160 128l3-9M175 130l3-1M195 127l3-2M199 122l3-2M210 132l3-5"/><path class="ga6" d="M5 141l3-3M9 150l3-2M13 155l3-2M16 155l3-3M20 155l3-4M24 150l3-3M113 148l3 0M121 150l3-4M125 149l3-7M141 149l3-6M144 160l3-9M179 146l3-4"/><path class="ga8" d="M102 188l3-4M110 190l2-4"/><path class="ga9" d="M106 195l3-2"/></g>
<g transform="matrix(0.3816 -0.1064 0 -0.3072 110.38 139.31)"><path d="M-3 72l4 6 4 62 4 11 4 4 3 0 4-1 4-5 4-27 4-12 4 12 4 5 4-14 3-9 4 6 4 7 4 9 4 3 4-8 4-7 4-2 3 2 4 20 4-2 4-4 4-9 4 1 4 67 4 8 4-7 3-37 4-15 4 13 4-4 4-16 4 1 4-3 4 19 3 8 4-40 4-3 4 15 4-4 4-16 4 9 4-11 3 28 4 13 4-28 4-6 4 4 4 13 4-6 4-24 3 10 4 22 3-5-4-20-3-9-4 25-4 5-4-10-4-6-4 3-4 23-4-9-3-19-4 13-4-14-4 8-4 7-4-15-4 3-4 31-3-4-4-13-4-4-4 0-4 16-4 6-4-7-4 42-4 9-3 5-4-7-4-66-4-1-4 9-4 3-4 1-4-19-3-4-4 3-4 11-4 6-4-1-4-10-4-7-4-7-3 12-4 12-4-8-4-13-4 12-4 29-4 4-4 1-3 1-4-4-4-12-4-71-4-7Z"/><path class="ga1" d="M-3 72l3-14"/><path class="ga2" d="M1 78l3-13"/><path class="ga3" d="M203 98l3-2"/><path class="ga4" d="M32 110l3-5M44 113l3 1M47 104l3-2M51 110l3-1M55 117l3-1M71 114l3-4M75 112l3-5M78 114l3-3M148 114l3-4M152 111l3-4M160 122l3-7M164 106l3 1M172 104l3 4M183 117l3-4M187 111l3-1M191 115l3 1M206 108l3-3"/><path class="ga5" d="M28 122l3-5M36 122l3-4M40 127l3-1M59 126l3 0M63 129l3-2M67 121l3 0M82 134l3-4M86 132l3-3M90 128l3-2M94 119l3-2M98 120l3-2M117 136l3-1M129 129l3-9M133 130l3-10M137 127l3-3M156 126l3-4M168 115l3 6M175 132l3-5M195 128l3-2M199 122l3-1M210 130l3-5"/><path class="ga6" d="M5 140l3-4M9 151l3-3M13 155l3-3M16 155l3-4M20 154l3-4M24 149l3-3M121 149l3-7M125 145l3-9M141 146l3-9M144 154l3-13M179 145l3-9"/><path class="ga8" d="M102 187l3-3M110 188l2-2M113 151l3 26"/><path class="ga9" d="M106 195l3-4"/></g>
<g transform="matrix(0.3816 -0.1064 0 -0.3072 111.51 139.86)"><path d="M-3 61l4 7 4 71 4 12 4 4 3-1 4-1 4-4 4-29 4-12 4 12 4 8 4-12 3-11 4 7 4 7 4 10 4 1 4-6 4-11 4-3 3 4 4 19 4-2 4-3 4-8 4 1 4 66 4 7 4-5 3-9 4-43 4 8 4-6 4-16 4 0 4 4 4 13 3 4 4-31 4-3 4 15 4-7 4-9 4 15 4-13 3 19 4 8 4-22 4-4 4 6 4 11 4-5 4-26 3 10 4 20 3-5-4-16-3-9-4 23-4 5-4-9-4-7-4 0-4 12-4-4-3-5-4 9-4-11-4 1-4 7-4-10-4 0-4 14-3 2-4-5-4-7-4 2-4 15-4 7-4-9-4 14-4 36-3 9-4-11-4-59-4 0-4 8-4 1-4 0-4-16-3-5-4 6-4 12-4 2-4 2-4-6-4-8-4-9-3 15-4 9-4-11-4-12-4 11-4 29-4 4-4 1-3 2-4-4-4-12-4-66-4-14Z"/><path class="ga1" d="M-3 61l3-5"/><path class="ga2" d="M1 68l3 2"/><path class="ga3" d="M203 98l3 0"/><path class="ga4" d="M28 120l3-4M32 108l3-3M47 105l3-1M51 112l3 1M71 113l3-2M75 110l3-5M78 114l3-4M98 121l3-4M129 123l3-8M133 123l3-10M148 113l3-4M152 110l3-1M160 118l3-6M164 109l3 2M172 111l3 2M183 116l3-6M187 112l3-2M206 108l3-1"/><path class="ga5" d="M36 120l3-3M40 128l3 0M44 116l3 3M55 119l3 2M59 129l3-2M63 130l3-5M67 124l3-1M82 133l3-7M86 131l3-5M90 128l3-3M94 120l3-3M117 137l3-9M125 139l3-9M137 127l3-7M141 140l3-15M144 144l3-21M156 125l3-6M168 124l3-2M175 130l3-12M179 138l3-16M191 118l3-1M195 129l3-3M199 124l3-3M210 128l3-5"/><path class="ga6" d="M5 139l3-3M9 151l3-3M13 155l3-3M16 154l3-4M20 153l3-4M24 149l3-4M113 180l3-38M121 145l3-8"/><path class="ga8" d="M102 187l3-11M106 194l3-7M110 189l2-11"/></g>
<g transform="matrix(0.3816 -0.1064 0 -0.3072 112.65 140.40)"><path d="M-3 59l4 14 4 66 4 12 4 4 3-2 4-1 4-4 4-29 4-12 4 13 4 11 4-10 3-14 4 9 4 7 4 7 4-3 4-2 4-11 4-6 3 5 4 16 4 0 4-1 4-8 4-1 4 60 4 11 4-9 3-36 4-14 4 9 4-8 4-15 4-1 4 7 4 5 3-3 4-13 4 0 4 9 4-6 4-2 4 12 4-9 3 5 4 4 4-12 4 0 4 7 4 8 4-4 4-24 3 9 4 17 3-5-4-13-3-7-4 20-4 4-4-6-4-10-4 0-4 10-4-4-3 1-4 8-4-11-4-1-4 8-4-8-4-2-4 6-3 7-4-1-4-12-4 1-4 12-4 9-4-6-4 8-4 34-3 2-4-44-4-17-4 6-4 8-4-1-4-1-4-12-3-4-4 9-4 10-4-4-4 8-4-1-4-8-4-12-3 17-4 6-4-13-4-11-4 10-4 28-4 5-4 1-3 2-4-4-4-13-4-67-4-14Z"/><path class="ga1" d="M-3 59l3-5"/><path class="ga2" d="M1 73l3-5"/><path class="ga4" d="M28 119l3-3M32 107l3-1M47 107l3 0M71 114l3 0M75 108l3-3M78 113l3-4M94 120l3-5M98 119l3-10M129 117l3-6M133 116l3-6M144 125l3-9M148 112l3-2M152 112l3 0M160 115l3-3M164 113l3 0M172 116l3 0M175 121l3-6M183 113l3-4M187 113l3-4M203 100l3 1M206 109l3-1"/><path class="ga5" d="M36 120l3-3M40 131l3-1M44 121l3 3M51 116l3 3M55 123l3 4M59 130l3-2M63 127l3-7M67 125l3-1M82 129l3-8M86 129l3-7M90 128l3-5M102 179l3-53M113 145l3-11M117 131l3-5M121 140l3-8M125 132l3-9M137 123l3-1M141 128l3-5M156 121l3-1M168 125l3-1M179 125l3-6M191 120l3-1M195 128l3-3M199 124l3-3M210 126l3-5"/><path class="ga6" d="M5 139l3-4M9 151l3-3M13 155l3-3M16 153l3-3M20 152l3-3M24 148l3-4"/><path class="ga7" d="M106 190l3-20M110 181l2-13"/></g>
<g transform="matrix(0.3816 -0.1064 0 -0.3072 113.79 140.94)"><path d="M-3 57l4 14 4 67 4 13 4 3 3-1 4-2 4-4 4-28 4-10 4 11 4 13 4-6 3-17 4 12 4 8 4 1 4-8 4 4 4-11 4-8 3 4 4 12 4 0 4 2 4-8 4-6 4 17 4 44 4-3 3-33 4-9 4 7 4-9 4-12 4-1 4 12 4 1 3-8 4-5 4 1 4 9 4-8 4 1 4 11 4-8 3-1 4 4 4-11 4 1 4 10 4 6 4-4 4-21 3 8 4 13 3-4-4-12-3-3-4 16-4 4-4-2-4-14-4-1-4 11-4-4-3 3-4 6-4-9-4-3-4 11-4-7-4-5-4 1-3 11-4 2-4-16-4 0-4 10-4 8-4-1-4 1-4-12-3-6-4 3-4-7-4 6-4 11-4-5-4-1-4-7-3-3-4 10-4 8-4-10-4 15-4 4-4-9-4-14-3 19-4 3-4-14-4-8-4 6-4 28-4 4-4 1-3 2-4-3-4-13-4-62-4-13Z"/><path class="ga1" d="M-3 57l3 3"/><path class="ga2" d="M1 71l3 2"/><path class="ga4" d="M28 119l3-3M32 109l3 1M47 110l3 0M63 123l3-9M71 116l3 0M75 108l3-2M78 112l3-3M82 124l3-8M94 118l3-7M98 112l3-7M102 129l3-17M106 173l3-64M110 170l2-55M129 114l3-5M133 113l3-4M144 118l3-6M148 113l3-2M152 114l3 2M160 115l3-3M164 116l3-1M175 118l3-3M183 111l3-3M187 112l3-3M203 103l3 2M206 111l3-3"/><path class="ga5" d="M36 120l3-2M40 133l3-1M44 127l3 2M51 122l3 2M55 130l3 3M59 131l3-2M67 127l3-3M86 124l3-7M90 126l3-4M113 137l3-10M117 128l3-2M121 135l3-8M125 126l3-7M137 125l3 0M141 126l3-3M156 123l3 0M168 127l3-3M172 119l3-1M179 122l3-3M191 122l3 1M195 128l3-3M199 124l3-3M210 124l3-4"/><path class="ga6" d="M5 138l3-3M9 151l3-3M13 154l3-3M16 153l3-4M20 151l3-3M24 147l3-3"/></g>
<g transform="matrix(0.3816 -0.1064 0 -0.3072 114.92 141.48)"><path d="M-3 63l4 13 4 62 4 12 4 4 3-2 4-1 4-4 4-28 4-7 4 9 4 14 4-4 3-18 4 14 4 9 4-4 4-15 4 10 4-8 4-10 3 3 4 7 4 1 4 5 4-11 4-6 4 7 4-3 4 5 3 13 4-1 4 1 4-8 4-10 4 0 4 16 4-2 3-12 4 0 4 5 4 7 4-11 4 2 4 10 4-6 3-3 4 4 4-11 4 1 4 13 4 3 4-4 4-17 3 4 4 11 3-4-4-10-3 1-4 13-4 4-4 1-4-16-4-2-4 12-4-4-3 2-4 2-4-6-4-2-4 12-4-4-4-8-4-3-3 14-4 3-4-20-4 1-4 9-4 6-4 4-4 0-4-18-3-9-4 10-4-8-4 5-4 13-4-8-4 1-4-2-3-2-4 8-4 6-4-12-4 18-4 7-4-8-4-15-3 18-4 1-4-14-4-5-4 5-4 26-4 3-4 1-3 2-4-3-4-12-4-63-4-10Z"/><path class="ga2" d="M-3 63l3-1M1 76l3-4"/><path class="ga4" d="M32 112l3 1M47 113l3 0M63 117l3-6M75 109l3 0M78 112l3-1M82 119l3-6M86 120l3-8M94 114l3-7M98 108l3-6M102 115l3-5M106 112l3-12M110 117l2-8M129 112l3-4M133 112l3-5M144 114l3-4M148 114l3-1M160 115l3-2M164 117l3-2M183 111l3-2M187 112l3-1M203 107l3 2M206 111l3-3"/><path class="ga5" d="M28 119l3-1M36 121l3-3M40 135l3-3M44 131l3 0M51 127l3 1M59 132l3-3M67 127l3-4M71 119l3-2M90 125l3-5M113 130l3-3M117 129l3-2M121 130l3-7M125 122l3-5M137 128l3-1M141 126l3-2M152 119l3 2M156 126l3-1M168 127l3-6M172 121l3-2M175 118l3-1M179 122l3-1M191 125l3 2M195 128l3-2M199 124l3-2M210 122l3-4"/><path class="ga6" d="M5 138l3-3M9 150l3-3M13 154l3-4M16 152l3-4M20 151l3-4M24 147l3-3M55 136l3 0"/></g>
<g transform="matrix(0.3816 -0.1064 0 -0.3072 116.06 142.03)"><path d="M-3 65l4 10 4 63 4 12 4 3 3-2 4-1 4-3 4-26 4-6 4 6 4 14 4-1 3-18 4 15 4 8 4-7 4-18 4 12 4-6 4-8 3 1 4 2 4 0 4 8 4-13 4-5 4 8 4-10 4 9 3 18 4 0 4-4 4-6 4-9 4-1 4 19 4-2 3-14 4 2 4 9 4 4 4-12 4 1 4 7 4-2 3-2 4 3 4-11 4 1 4 16 4 0 4-4 4-13 3-1 4 10 3-4-4-9-3 6-4 10-4 3-4 5-4-19-4-2-4 13-4-3-3-3-4-2-4-2-4 0-4 13-4 0-4-12-4-4-3 13-4 1-4-19-4 2-4 10-4 3-4 9-4-3-4-22-3-6-4 10-4-11-4 5-4 16-4-10-4 1-4 4-3 0-4 3-4 5-4-12-4 20-4 7-4-8-4-13-3 14-4-1-4-13-4-1-4 6-4 23-4 2-4 1-3 2-4-2-4-12-4-66-4-8Z"/><path class="ga1" d="M-3 65l3-4"/><path class="ga2" d="M1 75l3-6"/><path class="ga3" d="M98 105l3-7"/><path class="ga4" d="M32 115l3 0M36 121l3-5M47 116l3 0M63 114l3-4M75 112l3 2M78 113l3 1M82 115l3-5M86 115l3-6M94 110l3-7M102 113l3-4M106 103l3-4M110 112l2-7M129 111l3-3M133 110l3-4M144 113l3-2M148 115l3 0M160 116l3-2M164 117l3-3M168 124l3-8M183 112l3-1M187 113l3 0M203 112l3 2M206 111l3-3"/><path class="ga5" d="M28 121l3 0M40 135l3-6M44 134l3-4M51 131l3-2M59 132l3-2M67 126l3-4M71 120l3-3M90 123l3-4M113 130l3-3M117 130l3 0M121 126l3-5M125 120l3-2M137 129l3-4M141 127l3-3M152 124l3 3M156 128l3-1M172 122l3-4M175 120l3 1M179 123l3 1M191 129l3 3M195 129l3-2M199 125l3-1M210 121l3-4"/><path class="ga6" d="M5 138l3-3M9 150l3-3M13 153l3-4M16 151l3-4M20 150l3-4M24 147l3-3M55 139l3-2"/></g>
<g transform="matrix(0.3816 -0.1064 0 -0.3072 117.19 142.57)"><path d="M-3 63l4 9 4 66 4 12 4 2 3-2 4-1 4-2 4-24 4-6 4 2 4 13 4 1 3-14 4 13 4 7 4-7 4-19 4 12 4-5 4-3 3 0 4-4 4-2 4 11 4-16 4-6 4 12 4-10 4 6 3 22 4 3 4-9 4-3 4-10 4-2 4 19 4-1 3-13 4 3 4 12 4 1 4-13 4 0 4 1 4 3 3 3 4 3 4-13 4 2 4 18 4-4 4-3 4-10 3-7 4 10 3-3-4-9-3 12-4 8-4 2-4 7-4-21-4-2-4 14-4-3-3-9-4-8-4 5-4 4-4 13-4 2-4-16-4-2-3 10-4-3-4-17-4 4-4 13-4 0-4 12-4-5-4-21-3-7-4 6-4-12-4 5-4 19-4-11-4 3-4 8-3 1-4-3-4 5-4-8-4 17-4 4-4-5-4-12-3 10-4-2-4-12-4 2-4 8-4 19-4 0-4 0-3 2-4 0-4-13-4-64-4-14Z"/><path class="ga1" d="M-3 63l3-10"/><path class="ga2" d="M1 72l3-5"/><path class="ga3" d="M98 100l3-6"/><path class="ga4" d="M32 117l3-2M36 119l3-6M63 113l3 0M71 120l3-4M82 113l3-3M86 111l3-4M94 106l3-7M102 112l3-6M106 102l3-2M110 108l2-1M129 111l3-3M133 109l3-5M144 114l3 0M148 117l3-1M160 117l3 0M164 117l3-4M168 118l3-10M172 121l3-5M183 114l3 0M187 116l3 0M206 110l3-2"/><path class="ga5" d="M5 138l3-7M28 123l3 0M40 132l3-7M44 133l3-6M47 119l3-2M51 132l3-3M55 139l3-5M59 132l3-2M67 125l3-4M75 117l3 2M78 117l3 1M90 122l3-4M113 130l3-2M117 133l3 0M121 124l3-3M125 121l3 0M137 128l3-7M141 127l3-3M152 129l3 3M156 130l3 0M175 124l3 1M179 127l3 1M195 130l3 0M199 127l3 1M203 117l3 3M210 120l3-3"/><path class="ga6" d="M9 150l3-6M13 152l3-8M16 150l3-8M20 149l3-7M24 147l3-5M191 134l3 3"/></g>
<g transform="matrix(0.3816 -0.1064 0 -0.3072 118.33 143.11)"><path d="M-3 55l4 15 4 64 4 13 4 0 3-2 4 0 4 0 4-19 4-8 4-2 4 11 4 3 3-10 4 12 4 4 4-4 4-16 4 8 4-5 4 3 3-1 4-9 4-3 4 11 4-18 4-6 4 12 4-5 4 7 3 21 4 5 4-12 4 0 4-14 4-3 4 17 4 2 3-10 4 3 4 15 4-2 4-13 4-3 4-5 4 8 3 9 4 3 4-14 4 2 4 21 4-8 4-2 4-8 3-11 4 9 3-12-4-8-3 15-4 7-4 2-4 10-4-23-4 0-4 11-4-4-3-11-4-9-4 9-4 7-4 14-4 2-4-15-4 1-3 4-4-7-4-12-4 7-4 15-4-4-4 15-4-7-4-18-3-8-4-2-4-9-4 5-4 17-4-9-4 5-4 11-3 3-4-10-4 6-4-5-4 12-4-1-4-1-4-9-3 5-4-4-4-8-4 3-4 7-4 2-4-8-4-4-3 6-4 4-4-15-4-34-4-11Z"/><path class="ga1" d="M-3 55l3 2"/><path class="ga2" d="M1 70l3-2"/><path class="ga3" d="M94 102l3-7M98 96l3-6M168 111l3-13"/><path class="ga4" d="M5 134l3-32M13 147l3-34M16 145l3-38M20 145l3-34M32 118l3-8M36 116l3-9M40 127l3-12M47 120l3-6M63 116l3-3M71 119l3-7M82 112l3-4M86 109l3-6M90 120l3-8M102 108l3-9M106 103l3-2M110 110l2-1M129 110l3-2M133 107l3-6M137 124l3-11M144 116l3 0M148 119l3-4M160 119l3-5M164 116l3-9M172 119l3-12M183 117l3-6M187 119l3-8M203 122l3-7M206 111l3-11M210 120l3-12"/><path class="ga5" d="M9 147l3-30M24 145l3-26M28 126l3-9M44 130l3-11M51 132l3-9M55 136l3-12M59 132l3-7M67 124l3-6M75 122l3 0M78 121l3-2M113 131l3-4M117 136l3-2M121 124l3-5M125 124l3-1M141 126l3-6M152 134l3-4M156 132l3-4M175 128l3-10M179 131l3-9M191 140l3-6M195 132l3-8M199 130l3-8"/></g>
<g transform="matrix(0.3816 -0.1064 0 -0.3072 119.46 143.66)"><path d="M-3 59l4 12 4 33 4 16 4-4 3-7 4 4 4 8 4-1 4-7 4-4 4 9 4 3 3-4 4 9 4 1 4 0 4-11 4 4 4-5 4 10 3-3 4-12 4-4 4 8 4-16 4-6 4 10 4 1 4 9 3 17 4 8 4-15 4 3 4-15 4-6 4 12 4 7 3-4 4-2 4 15 4-2 4-13 4-7 4-9 4 9 3 11 4 4 4-11 4 0 4 23 4-11 4-1 4-7 3-15 4 8 3-71-4-3-3 14-4 6-4 5-4 9-4-17-4 12-4-10-4-8-3 19-4 11-4-3-4 4-4 16-4-8-4 5-4 17-3-18-4-7-4 3-4 19-4 3-4-8-4 17-4-2-4-14-3-13-4-5-4-1-4-3-4-5-4 7-4 11-4 3-3 20-4-22-4-4-4-6-4 5-4 0-4-6-4 8-3-9-4 1-4 6-4-8-4-4-4 12-4 0-4-23-3 9-4 5-4-1-4 4-4-2Z"/><path class="ga0" d="M206 103l3-66M210 111l3-71"/><path class="ga1" d="M175 121l3-73M179 125l3-69M187 114l3-60M199 125l3-68M203 118l3-67"/><path class="ga2" d="M5 104l3-25M9 120l3-40M13 116l3-41M16 109l3-43M28 120l3-43M90 114l3-39M94 98l3-18M160 117l3-38M164 110l3-35M168 101l3-23M172 110l3-43M183 114l3-48M191 137l3-66M195 126l3-64"/><path class="ga3" d="M-3 59l3 22M1 71l3 12M20 113l3-24M24 121l3-32M32 113l3-32M36 109l3-20M40 118l3-35M44 121l3-39M47 117l3-26M51 126l3-43M55 127l3-38M59 127l3-38M63 116l3-32M67 120l3-30M71 115l3-21M78 122l3-26M82 110l3-17M86 106l3-24M98 92l3-9M102 102l3-18M106 103l3-14M133 104l3-17M137 116l3-32M141 123l3-32M148 117l3-25M152 132l3-45M156 130l3-35"/><path class="ga4" d="M75 125l3-9M110 112l2-10M113 129l3-13M121 122l3-21M125 125l3-16M129 110l3-4M144 119l3-10"/><path class="ga5" d="M117 137l3-19"/></g>
<g transform="matrix(0.3816 -0.1064 0 -0.3072 120.60 144.20)"><path d="M-3 84l4 2 4-4 4 1 4-6 3-8 4 23 4-1 4-11 4 4 4 8 4-6 4-1 3 9 4-8 4 6 4 0 4-5 4 6 4 3 4 23 3-20 4-3 4-11 4-7 4 4 4 4 4 1 4 5 4 12 3 15 4 2 4-17 4 8 4-4 4-18 4-3 4 7 3 18 4-17 4-5 4 8 4-16 4-4 4 3 4-12 3-18 4 8 4 10 4-12 4 16 4-8 4-5 4-6 3-15 4 3 3-15-4 27-3-11-4-2-4 3-4 13-4-1-4 0-4 2-4 1-3-7-4 12-4 0-4 5-4 15-4 0-4 13-4 4-3-19-4 1-4 7-4-7-4-6-4 14-4 27-4-11-4-13-3-5-4 7-4 0-4-18-4 6-4 17-4-13-4 9-3 14-4-6-4-3-4-8-4 4-4 10-4-19-4 14-3-15-4-8-4 7-4-5-4-1-4 14-4-24-4-3-3 22-4 10-4-16-4-24-4 19Z"/><path class="ga0" d="M199 60l3-19M203 54l3-11M210 42l3-15"/><path class="ga1" d="M1 86l3-26M172 69l3-17M175 51l3 8M179 59l3-1M183 69l3-13M187 57l3-1M191 73l3-16M195 65l3-21M206 39l3 15"/><path class="ga2" d="M-3 84l3-5M16 69l3-1M20 92l3-21M40 86l3-6M94 82l3-4M125 112l3-35M160 82l3-13M164 78l3-14M168 81l3-17"/><path class="ga3" d="M5 82l3 2M13 77l3 13M24 91l3 4M28 80l3 1M32 84l3-2M36 92l3-5M44 85l3 3M51 86l3 3M59 92l3 6M63 87l3 7M78 99l3-2M82 96l3-8M90 78l3 6M98 86l3 10M102 87l3 9M106 92l3-3M110 104l2-10M121 104l3-13M129 108l3-25M133 90l3 0M137 87l3-4M141 94l3-12M148 95l3 2M152 90l3-6M156 98l3-14"/><path class="ga4" d="M9 83l3 17M47 94l3 9M55 92l3 16M67 93l3 9M71 96l3 9M75 119l3-8M86 85l3 16M113 119l3-12M144 112l3-11"/><path class="ga5" d="M117 121l3-3"/></g>
</g>
<path d="M47.4 109.2L47.4 32.4M47.4 109.2L120.6 144.2L216 117.6M47.4 109.2h-1.2M47.4 93.8h-1.2M47.4 78.5h-1.2M47.4 63.1h-1.2M47.4 47.8h-1.2M47.4 32.4h-1.2M120.6 144.2l-1.1 -0.5M152.4 135.3l-1.1 -0.5M184.2 126.5l-1.1 -0.5M216 117.6l-1.1 -0.5M120.6 144.2l1.2 -0.3M96.2 132.5l1.2 -0.3M71.8 120.9l1.2 -0.3M47.4 109.2l1.2 -0.3" stroke="#4d4d4d" stroke-width="0.6" fill="none"/>
<g font-family="Liberation Sans, Arial, sans-serif" font-size="5.2" fill="#333333"><text x="43.4" y="110.5" text-anchor="end">0</text><text x="43.4" y="95.1" text-anchor="end">50</text><text x="43.4" y="79.8" text-anchor="end">100</text><text x="43.4" y="64.4" text-anchor="end">150</text><text x="43.4" y="49.1" text-anchor="end">200</text><text x="43.4" y="33.7" text-anchor="end">250</text><text x="123.6" y="151.4">0</text><text x="155.4" y="142.5">100</text><text x="187.2" y="133.7">200</text><text x="219" y="124.8">300</text><text x="116.3" y="151.4" text-anchor="end">0</text><text x="91.9" y="139.7" text-anchor="end">100</text><text x="67.5" y="128.1" text-anchor="end">200</text><text x="43.1" y="116.4" text-anchor="end">300</text></g>
<path d="M57.3 278.9L57.3 210.3M86.7 270.7L86.7 202.1M116 262.6L116 194M145.4 254.4L145.4 185.8M57.3 278.9L145.4 254.4M212.6 285.8L145.4 254.4M57.3 265.2L145.4 240.7M212.6 272.1L145.4 240.7M57.3 251.5L145.4 227M212.6 258.4L145.4 227M57.3 237.7L145.4 213.2M212.6 244.6L145.4 213.2M57.3 224L145.4 199.5M212.6 230.9L145.4 199.5M57.3 210.3L145.4 185.8M212.6 217.2L145.4 185.8M212.6 285.8L212.6 217.2M190.2 275.3L190.2 206.7M167.8 264.9L167.8 196.3M145.4 254.4L145.4 185.8M124.5 310.3L57.3 278.9M153.9 302.1L86.7 270.7M183.2 294L116 262.6M212.6 285.8L145.4 254.4M124.5 310.3L212.6 285.8M102.1 299.8L190.2 275.3M79.7 289.4L167.8 264.9M57.3 278.9L145.4 254.4M145.4 254.4L145.4 185.8M57.3 210.3L145.4 185.8M212.6 217.2L145.4 185.8M212.6 285.8L212.6 217.2" stroke="#e6e6e6" stroke-width="0.6" fill="none"/>
<g class="gc">
<g transform="matrix(0.3524 -0.0980 0 -0.2744 68.07 283.93)"><path d="M-3 134l4 6 3 10 4 18 3 22 3 6 4-22 3-19 4 2 3 0 3-10 4-23 3-30 3-8 4 14 3 22 4 23 3 14 3-4 4-8 3 2 4 5 3-6 3-17 4-8 3 21 3 46 4 48 3 4 4-47 3-46 3-32 4-17 3 10 4 32 3 24 3 10 4 5 3 2 3 1 4-9 3-16 4-7 3-7 3-25 4-20 3 2 4 23 3 30 3 10 4-12 3-3 4 9 3 5 3-10 4-12 3 4 3 13 4-6 3-14 4 0 3 6 3-4 4-6 2-30-3 0-3-5-4 9-3 4-4 5-3 0-3-10-4 15-3-4-4 3-3-2-3-8-4-7-3 13-3-13-4 8-3 1-4-6-3-3-3 8-4 8-3 6-4-15-3-3-3 8-4 8-3-24-3 10-4 6-3-7-4 0-3-15-3-8-4 8-3 128-4 6-3-9-3-9-4-4-3 1-4 2-3 0-3-2-4-1-3-2-3-1-4-4-3-6-4-5-3-4-3 3-4 6-3 4-4 2-3 0-3-1-4 2-3 2-3-1-4-3-3-3-4-4-3-3Z"/><path class="gc3" d="M99 149l3-62"/><path class="gc4" d="M96 195l2-100M102 117l3-22M106 100l2 10M109 110l3 0M116 166l3-55M119 176l3-75M129 184l3-75M146 120l3-15M150 100l2 8M160 155l3-50M167 153l2-48M187 146l3-38M201 139l2-30M204 145l3-45M207 141l3-36M211 135l2-30"/><path class="gc5" d="M113 142l2-25M123 181l2-56M126 183l3-66M133 175l2-63M136 159l3-32M140 152l2-31M143 145l3-32M153 102l3 12M157 125l2-12M163 165l3-47M170 150l3-38M174 159l2-39M177 164l2-42M180 154l3-35M184 142l2-19M190 159l3-41M194 153l2-35M197 139l3-26"/><path class="gc8" d="M41 86l3 99"/><path class="gc9" d="M-3 134l3 55M1 140l2 52M4 150l3 46M8 168l2 31M11 190l3 12M14 196l3 7M18 174l2 27M21 155l3 44M25 157l2 43M28 157l2 43M31 147l3 51M35 124l2 70M38 94l3 94M45 100l2 89M48 122l3 72M52 145l2 55M55 159l3 45M58 155l3 50M62 147l2 60M79 123l2 84"/><path class="gc10" d="M65 149l3 59M69 154l2 56M72 148l2 62M75 131l3 77M82 144l3 67M85 190l3 30M92 242l3-19"/><path class="gc11" d="M89 238l2-9"/></g>
<g transform="matrix(0.3524 -0.0980 0 -0.2744 68.98 284.36)"><path d="M-3 192l4 3 3 3 4 3 3 3 3 2 4-2 3-2 4 0 3 0 3-1 4-5 3-6 3-2 4 3 3 5 4 6 3 4 3 2 4 1 3 2 4 1 3 0 3-2 4-1 3 5 3 9 4 8 3-6 4-128 3-7 3 7 4 15 3 0 4 8 3-7 3-9 4 24 3-8 3-9 4 4 3 14 4-5 3-8 3-9 4 3 3 7 4-2 3-7 3 13 4-13 3 7 4 7 3 2 3-3 4 5 3-15 3 9 4 0 3-4 4-4 3-10 3 5 4 0 2-14-3 13-3-7-4 18-3 13-4-9-3-6-3 5-4 15-3-15-4-15-3 1-3 20-4 10-3-9-3-30-4 20-3 2-4-20-3 18-3 21-4-24-3-8-4-1-3-9-3-1-4-1-3 1-3 3-4 15-3 1-4 3-3-33-3 24-4 9-3 98-4 6-3-3-3-4-4-1-3 1-4 1-3-1-3 0-4-4-3-5-3-2-4-3-3-4-4-4-3-1-3 3-4 5-3 2-4 1-3-1-3-2-4-1-3-2-3 0-4 1-3 0-4-3-3-3Z"/><path class="gc3" d="M102 97l3-13"/><path class="gc4" d="M99 90l3 18M116 113l3-15M119 104l3-9M123 128l2-34M126 120l3-25M129 111l3-15M133 115l2-10M136 129l3-23M150 110l2-11M160 108l3-11M174 122l2-16M177 124l2-19M204 102l3-3M207 107l3-1M211 107l2-14"/><path class="gc5" d="M96 97l2 20M106 112l2 5M109 112l3 2M113 120l2-7M140 124l2-10M146 107l3 10M153 117l3 2M157 115l2 2M163 121l3 6M170 115l3 11M180 121l3-1M187 111l3 9M190 120l3-5M194 120l2 1M197 116l3 14M201 112l2 5"/><path class="gc6" d="M143 116l3 22M167 108l2 28M184 126l2 9"/><path class="gc9" d="M-3 192l3-1M1 195l2-1M4 198l3-1M8 201l2-4M11 204l3-8M14 206l3-10M18 204l2-6M21 202l3-3M25 202l2-1M28 202l2 0M31 201l3 0M35 196l2 3M38 190l3 4M41 188l3 3M45 191l2 1M48 196l3 0M52 202l2-2M55 206l3-3M58 208l3-3"/><path class="gc10" d="M62 209l2 1M65 211l3 3M69 212l2 2M72 212l2 3M75 210l3 4M79 209l2 4M82 214l3 0M85 223l3-5M89 231l2-10M92 225l3-10"/></g>
<g transform="matrix(0.3524 -0.0980 0 -0.2744 69.89 284.78)"><path d="M-3 193l4 4 3 2 4 0 3-1 3 1 4 1 3 2 4 1 3 1 3 0 4-3 3-5 3-3 4 2 3 4 4 4 3 2 3 3 4 5 3 3 4 1 3 0 3 0 4-2 3 2 3 4 4 2 3-5 4-99 3-9 3-23 4 33 3-3 4-2 3-15 3-3 4 0 3 0 3 1 4 9 3 2 4 7 3 25 3-22 4-18 3 21 4-3 3-19 3 29 4 10 3-10 4-20 3-2 3 16 4 15 3-16 3-4 4 5 3 9 4-13 3-18 3 8 4-13 2 11-3-15-3 15-4 4-3-3-4-8-3 19-3-6-4 18-3-7-4 0-3-12-3 23-4 3-3-10-3-19-4 4-3 2-4-11-3 4-3 27-4-25-3-15-4 3-3 1-3-2-4 8-3-2-3 1-4 14-3-1-4 7-3-14-3 1-4 2-3 97-4 4-3-1-3-1-4 0-3 1-4 2-3 1-3 1-4-5-3-7-3-2-4-1-3-3-4-3-3-1-3 3-4 5-3 3-4-1-3-3-3-4-4-2-3-3-3 0-4 2-3 2-4-2-3-4Z"/><path class="gc4" d="M102 87l3 23M116 100l3 4M119 97l3 6M123 97l2 8M126 97l3 0M129 98l3 1M133 107l2-9M136 109l3-14M140 116l2-6M146 119l3-11M150 101l2 3M160 100l3 9M194 123l2-23M197 132l3-24M204 101l3 6M207 109l3-17M211 96l2 11"/><path class="gc5" d="M96 119l2-6M99 110l3 1M106 120l2 4M109 117l3 0M113 115l2 3M153 122l3-7M157 119l2-6M163 129l3-1M174 109l2 3M177 107l2 17M180 123l3 1M187 122l3-9M190 118l3 1M201 119l2-8"/><path class="gc6" d="M143 141l3-6M167 139l2-1M170 129l3 6M184 138l2-7"/><path class="gc9" d="M-3 193l3-2M1 197l2-2M4 199l3-2M8 199l2-4M11 198l3-5M14 199l3-6M18 200l2-4M21 202l3-4M25 203l2-1M28 204l2 1M31 204l3 2M35 201l2 2M38 196l3 2M41 193l3 2M45 195l2 1M48 199l3 0M52 203l2-1M55 205l3-2M58 208l3-3"/><path class="gc10" d="M62 213l2-1M65 216l3 1M69 217l2-1M72 217l2-2M75 217l3-4M79 215l2-3M82 217l3-5M85 221l3-8M89 223l2-9M92 218l3-8"/></g>
<g transform="matrix(0.3524 -0.0980 0 -0.2744 70.80 285.21)"><path d="M-3 194l4 4 3 2 4-2 3-3 3 1 4 2 3 3 4 3 3 4 3 1 4-3 3-5 3-4 4 2 3 3 4 2 3 2 3 2 4 6 3 5 4 0 3-2 3-1 4-2 3 0 3 1 4 2 3-5 4-97 3-1 3-1 4 13 3-7 4 1 3-14 3 0 4 1 3-7 3 2 4-2 3-2 4 15 3 24 3-26 4-4 3 11 4-3 3-4 3 19 4 10 3-3 4-23 3 12 3 1 4 6 3-17 3 5 4-18 3 7 4 4 3-4 3-16 4 15 2 24-3-51-3 12-4 9-3 7-4 14-3 3-3-7-4 1-3 10-4 14-3-17-3-7-4-4-3 1-3-2-4 3-3 7-4-15-3 0-3 10-4-4-3-11-4-12-3 11-3 2-4-5-3-3-3 18-4 11-3-5-4-4-3-6-3-1-4-11-3 106-4 5-3-2-3-1-4 1-3 1-4 3-3 4-3 2-4-4-3-7-3-3-4-1-3-2-4-1-3-1-3 2-4 4-3 3-4-1-3-4-3-4-4-1-3-3-3-2-4 1-3 2-4-3-3-4Z"/><path class="gc3" d="M207 94l3-12"/><path class="gc4" d="M96 115l2-14M119 106l3-7M123 107l2-5M126 100l3 7M129 102l3 3M133 100l2-6M136 98l3 8M197 110l3 0M201 114l2-11M204 110l3-16"/><path class="gc5" d="M99 114l3-2M102 113l3 0M106 126l2-7M109 119l3 4M113 120l2 8M116 106l3 11M140 113l2 4M143 137l3-16M146 111l3 0M150 107l2 4M153 118l3 8M157 115l2 4M160 111l3 5M163 130l3-12M167 140l2-23M170 137l3-16M174 114l2 14M184 133l2-12M187 116l3 4M190 121l3 6M194 103l2 21"/><path class="gc6" d="M177 126l2 19M180 127l3 4M211 109l2 24"/><path class="gc9" d="M-3 194l3-3M1 198l2-3M4 200l3-2M8 198l2-2M11 195l3 0M14 196l3 1M18 198l2 2M21 201l3 0M25 204l2 1M38 201l3 2M41 197l3 4M45 199l2 3M48 202l3 1M52 204l2 1M55 206l3 0"/><path class="gc10" d="M28 208l2 1M31 209l3 1M35 206l2 1M58 208l3 1M62 214l2 2M65 219l3 1M69 219l2-1M72 217l2-3M75 216l3-5M79 214l2-4M82 214l3-5M85 215l3-5M89 217l2-5M92 212l3-5"/></g>
<g transform="matrix(0.3524 -0.0980 0 -0.2744 71.71 285.63)"><path d="M-3 194l4 4 3 2 4-1 3-1 3 2 4 2 3 1 4 4 3 5 3 0 4-2 3-4 3-3 4 1 3 2 4 1 3 2 3 3 4 6 3 4 4-2 3-3 3-3 4-2 3-1 3 2 4 2 3-5 4-106 3 10 3 2 4 5 3 5 4 5 3-12 3-18 4 4 3 4 3-2 4-10 3 11 4 11 3 4 3-10 4 1 3 14 4-7 3-3 3 2 4-1 3 5 4 6 3 17 3-14 4-10 3-1 3 7 4-3 3-13 4-7 3-9 3-13 4 52 2 31-3-74-3-17-4 7-3 20-4 24-3 10-3 11-4-23-3-1-4 0-3-15-3 0-4-12-3 12-3-4-4-6-3 25-4-11-3 7-3 2-4-2-3-15-4-3-3 6-3-7-4 9-3-11-3 13-4 0-3 14-4-4-3-14-3 10-4-24-3 112-4 7-3-2-3-3-4 0-3 2-4 3-3 3-3 3-4-2-3-6-3-3-4-3-3-2-4 0-3 2-3 2-4 0-3 1-4-1-3-2-3-2-4 1-3-2-3-5-4-1-3 0-4-2-3-3Z"/><path class="gc3" d="M201 106l2-23M204 97l3-21"/><path class="gc4" d="M96 104l2-10M102 116l3-8M119 101l3-2M123 105l2 5M126 109l3-8M129 107l3 1M133 97l2 5M136 108l3-3M157 121l2-22M160 118l3-13M163 120l3-11M167 119l2-22M170 124l3-15M174 130l2-21M197 113l3-10M207 84l3 9"/><path class="gc5" d="M99 114l3 4M106 121l2 1M109 126l3 0M113 131l2-19M116 119l3-7M140 119l2 1M143 123l3-1M146 113l3 7M150 114l2-1M153 128l3-4M177 147l2-23M180 133l3-9M184 123l2 2M194 126l2 1"/><path class="gc6" d="M187 122l3 26M190 129l3 8"/><path class="gc7" d="M211 136l2 31"/><path class="gc9" d="M-3 194l3-3M1 198l2-4M4 200l3-4M8 199l2-3M11 198l3-1M14 200l3 2M18 202l2 2M21 203l3 0M25 207l2-2M41 203l3 2M45 204l2-1M48 206l3-3M52 207l2-2M92 210l3-4"/><path class="gc10" d="M28 212l2-5M31 212l3-4M35 210l2-3M38 206l3 1M55 209l3-1M58 212l3-1M62 218l2-1M65 222l3-3M69 220l2-4M72 217l2-4M75 214l3-4M79 212l2-4M82 211l3-3M85 213l3-2M89 215l2-2"/></g>
<g transform="matrix(0.3524 -0.0980 0 -0.2744 72.62 286.06)"><path d="M-3 193l4 4 3 1 4 0 3 2 3 4 4 2 3 0 4 1 3 3 3 1 4-1 3-1 3-1 4-2 3-1 4 2 3 3 3 4 4 5 3 2 4-2 3-3 3-3 4-2 3 0 3 2 4 2 3-6 4-112 3 24 3-10 4 14 3 3 4-13 3 0 3-14 4 11 3-9 3 8 4-7 3 3 4 15 3 2 3-2 4-7 3 11 4-24 3 5 3 4 4-12 3 13 4-1 3 16 3-1 4 1 3 24 3-11 4-11 3-23 4-20 3-8 3 18 4 74 2 22-3-97-3-18-4 12-3 11-4 8-3 19-3-6-4 1-3-3-4-6-3-1-3-7-4-10-3 32-3-11-4-8-3 15-4 6-3 7-3-10-4-23-3-13-4-2-3 26-3-1-4 3-3 4-3-1-4-7-3 10-4 16-3-18-3-4-4-10-3 101-4 8-3-1-3-3-4-3-3 0-4 1-3 2-3 1-4 0-3-4-3-3-4-3-3-3-4 3-3 5-3 2-4-2-3-3-4-2-3-1-3 1-4 2-3-2-3-5-4-3-3-1-4 0-3-1Z"/><path class="gc3" d="M133 104l2-16M136 107l3-17M201 86l2 3M204 78l3-1"/><path class="gc4" d="M96 97l2 9M140 122l2-19M157 102l2 6M167 99l2-4M170 112l3-7M194 129l2-21M197 106l3-6M207 96l3-1"/><path class="gc5" d="M99 121l3-5M102 111l3 9M109 128l3-6M113 115l2-3M116 115l3 4M119 101l3 19M123 112l2 4M126 103l3 10M129 111l3 3M143 124l3 2M150 115l2 14M153 126l3-3M160 107l3 9M163 111l3 16M174 111l2 1M177 127l2-14M180 126l3-7M184 127l2-5M187 151l3-30M190 140l3-13"/><path class="gc6" d="M106 125l2 13M146 122l3 14"/><path class="gc9" d="M-3 193l3-1M1 197l2-4M4 198l3-5M8 198l2-4M11 200l3-3M14 204l3-2M18 206l2-2M21 206l3-4M25 207l2-6M28 210l2-8M31 211l3-7M41 208l3-1M45 206l2-4M48 205l3-6M52 207l2-5M55 210l3-5M211 170l2 22"/><path class="gc10" d="M35 210l2-3M38 209l3 0M58 214l3-6M62 219l2-7M65 221l3-9M69 219l2-8M72 216l2-7M75 213l3-5M79 211l2-3M82 211l3 0M85 213l3 1M89 215l2 0M92 209l3-2"/></g>
<g transform="matrix(0.3524 -0.0980 0 -0.2744 73.53 286.48)"><path d="M-3 194l4 1 3 0 4 1 3 4 3 4 4 2 3-2 4-1 3 2 3 2 4 2 3 2 3-2 4-5 3-2 4 2 3 4 3 3 4 3 3 1 4-2 3-1 3-1 4 0 3 2 3 4 4 1 3-8 4-102 3 11 3 4 4 17 3-16 4-10 3 8 3 0 4-4 3-2 3 0 4-25 3 1 4 13 3 23 3 10 4-6 3-6 4-16 3 8 3 11 4-32 3 11 4 7 3 0 3 6 4 4 3-1 3 6 4-20 3-7 4-12 3-11 3 17 4 98 2 7-3-99-3-2-4 17-3-10-4-3-3 4-3 0-4 7-3-17-4 0-3 0-3 1-4 19-3 7-3-16-4-22-3 8-4 25-3 15-3-37-4-17-3 20-4 0-3 11-3 17-4-7-3-8-3 13-4-1-3-5-4-10-3-4-3 15-4-2-3 90-4 8-3-1-3-2-4-4-3-3-4-1-3-1-3 0-4-1-3-3-3-1-4-3-3-1-4 3-3 5-3 2-4-1-3-4-4-3-3 0-3 1-4 1-3-1-3-3-4-3-3-2-4 0-3 0Z"/><path class="gc3" d="M140 105l2-23M157 110l2-22"/><path class="gc4" d="M102 123l3-15M133 91l2 11M136 92l3 10M143 128l3-29M153 126l3-30M160 118l3-8M170 108l3-8M174 115l2-16M177 115l2-16M180 121l3-22M187 124l3-15M190 130l3-21M194 110l2-5M197 103l3 5M204 80l3 21M207 97l3 6"/><path class="gc5" d="M96 108l2 13M99 119l3 4M106 140l2-28M109 124l3-2M113 114l2 13M116 122l3 6M119 122l3-7M123 118l2 5M129 116l3-3M150 132l2-11M163 129l3-3M167 97l2 22M184 125l2-9M201 91l2 27"/><path class="gc6" d="M126 116l3 14M146 138l3-2"/><path class="gc9" d="M-3 194l3-1M1 195l2-2M4 195l3-2M8 196l2-1M11 200l3-2M14 204l3-3M18 206l2-4M21 204l3-3M25 203l2-3M28 205l2-5M31 207l3-4M35 209l2-2M41 209l3-3M45 204l2-3M48 202l3-4M52 204l2-5M55 208l3-6M58 211l3-8M62 214l2-8M211 195l2 7"/><path class="gc10" d="M38 211l3-3M65 215l3-8M69 213l2-6M72 212l2-4M75 211l3-2M79 211l2 1M82 213l3 3M85 217l3 1M89 218l2 1M92 210l3 1"/></g>
<g transform="matrix(0.3524 -0.0980 0 -0.2744 74.44 286.91)"><path d="M-3 195l4 0 3 1 4 2 3 3 3 2 4 2 3-2 4-1 3 0 3 3 4 4 3 2 3-3 4-4 3-3 4 1 3 2 3 2 4 2 3 2 4 0 3 0 3 2 4 2 3 4 3 3 4 0 3-7 4-90 3 1 3-15 4 5 3 9 4 6 3 0 3-13 4 9 3 7 3-18 4-10 3-1 4-20 3 18 3 37 4-15 3-25 4-8 3 22 3 16 4-8 3-19 4 0 3 0 3 0 4 16 3-7 3 1 4-5 3 3 4 11 3-18 3 2 4 99 2-1-3-97-3 12-4 0-3-19-4 11-3 15-3 5-4-13-3-21-4 10-3 5-3-2-4 5-3 8-3-7-4-20-3-5-4 31-3 1-3-21-4 18-3-2-4-9-3 0-3 13-4 3-3-16-3 5-4 11-3-1-4-29-3-1-3 11-4-4-3 113-4 7-3-1-3 0-4-1-3-3-4-4-3-2-3-2-4-3-3-2-3-1-4-1-3 1-4 2-3 2-3 1-4 0-3-3-4-2-3 1-3 2-4 0-3-2-3-2-4-2-3-2-4-1-3 0Z"/><path class="gc3" d="M153 99l3-9"/><path class="gc4" d="M96 124l2-24M99 125l3-21M102 110l3-17M106 115l2-21M119 117l3-9M129 115l3-7M133 105l2 3M143 102l3-1M157 91l2 4M170 102l3 7M177 102l2 4M180 102l3-6M194 107l2 3M197 110l3-11M207 105l3 1"/><path class="gc5" d="M109 124l3-1M113 130l2-6M116 130l3-17M123 126l2-2M126 133l3-12M136 104l3 13M140 84l2 35M146 139l3-17M150 124l2-3M160 113l3 2M163 129l3-7M167 121l2-7M174 102l2 9M184 118l2-1M190 112l3 13M201 121l2-3M204 103l3 15"/><path class="gc6" d="M187 111l3 19"/><path class="gc9" d="M-3 195l3 0M1 195l2 0M4 196l3 0M8 198l2 0M11 201l3-1M14 203l3-1M18 205l2-1M21 203l3 1M25 202l2 0M28 202l2-1M31 205l3-2M35 209l2-3M38 211l3-5M41 208l3-3M45 204l2-1M48 201l3 0M52 202l2-2M55 204l3-3M58 206l3-4M62 208l2-4M65 210l3-3M211 204l2-1"/><path class="gc10" d="M69 210l2-1M72 210l2 1M75 212l3 3M79 214l2 4M82 218l3 1M85 221l3-2M89 221l2-1M92 214l3-1"/></g>
<g transform="matrix(0.3524 -0.0980 0 -0.2744 75.35 287.33)"><path d="M-3 197l4 1 3 1 4 2 3 2 3 2 4 2 3-1 4-1 3-1 3 2 4 2 3 1 3-2 4-2 3-2 4 0 3 1 3 1 4 2 3 2 4 2 3 3 3 3 4 3 3 2 3 0 4 0 3-6 4-114 3 4 3-10 4 1 3 28 4 1 3-10 3-6 4 16 3-3 3-12 4 0 3 9 4 1 3-18 3 21 4 0 3-32 4 5 3 20 3 7 4-7 3-6 4 3 3-6 3-10 4 21 3 14 3-6 4-15 3-10 4 18 3 0 3-11 4 96 2-18-3-87-3 10-4 5-3-8-4-1-3 10-3 9-4-18-3-12-4 6-3 4-3-11-4 5-3 15-3 3-4 9-3-28-4 11-3 2-3-12-4 18-3 5-4-6-3-1-3-21-4-3-3-2-3-4-4 0-3 7-4 4-3-12-3 37-4-12-3 103-4 5-3 0-3 2-4 2-3-2-4-4-3-4-3-3-4-1-3-1-3 0-4-2-3-1-4 0-3 0-3 1-4 1-3-1-4-1-3 1-3 2-4 0-3-2-3-4-4-1-3 0-4 1-3-1Z"/><path class="gc3" d="M102 96l3-12M113 126l2-41M116 116l3-31M119 110l3-21M123 126l2-35"/><path class="gc4" d="M96 102l2 7M106 97l2-1M109 125l3-33M126 123l3-29M143 103l3-4M150 124l2-15M153 92l3 6M167 117l2-18M170 111l3-17M174 114l2-9M177 108l2-7M180 98l3-3M184 119l2-12M194 112l2-6M197 102l3 5M204 120l3-10M207 109l3-9"/><path class="gc5" d="M99 106l3 15M129 111l3 4M133 111l2 5M136 120l3 2M140 121l2-4M146 124l3-13M157 97l2 29M160 117l3 0M163 124l3-10M187 133l3-8M190 127l3-11M201 120l2-5"/><path class="gc8" d="M211 205l2-18"/><path class="gc9" d="M-3 197l3 2M1 198l2 2M4 199l3 0M8 201l2-2M11 203l3-3M14 205l3-1M18 207l2-1M21 206l3 0M25 205l2-1M28 204l2-1M31 206l3-2M35 208l2-3M38 209l3-5M41 207l3-4M45 205l2-2M48 203l3 0M52 203l2 1M55 204l3 2M58 205l3 1"/><path class="gc10" d="M62 207l2 0M65 209l3-1M69 211l2 0M72 214l2 1M75 217l3 2M79 220l2 1M82 222l3-3M85 222l3-5M89 222l2-5M92 216l3-4"/></g>
<g transform="matrix(0.3524 -0.0980 0 -0.2744 76.26 287.76)"><path d="M-3 201l4 1 3 0 4-1 3 2 3 3 4 3 3-1 4-1 3-1 3 1 4 1 3-1 3-1 4 0 3-1 4 2 3 2 3 0 4 0 3 2 4 3 3 4 3 4 4 1 3-2 3-1 4 0 3-5 4-103 3 11 3-36 4 11 3-3 4-7 3-1 3 5 4 2 3 3 3 21 4 0 3 7 4-5 3-18 3 11 4-1 3-12 4 28 3-8 3-4 4-15 3-4 4 11 3-4 3-6 4 11 3 19 3-10 4-9 3 0 4 8 3-4 3-10 4 87 2-29-3-60-3 5-4 10-3-3-4-10-3-7-3 0-4 0-3-11-4 15-3 6-3-8-4 14-3-2-3-2-4 30-3-30-4 9-3 11-3 3-4-15-3 9-4-1-3 0-3-9-4-19-3 9-3-22-4 1-3 32-4 1-3-12-3 32-4-2-3 77-4 3-3 1-3 3-4 1-3-1-4-3-3-3-3-2-4 0-3 0-3-1-4-2-3-3-4-1-3 0-3 0-4 1-3-1-4-1-3 0-3 1-4 0-3 0-3-4-4-1-3 3-4 3-3 0Z"/><path class="gc3" d="M113 88l2-4M116 87l3-4M180 98l3-13"/><path class="gc4" d="M102 87l3 18M119 92l3 13M123 94l2 2M153 100l3 8M160 120l3-12M163 116l3-6M170 97l3 1M174 108l2-2M177 104l2-4M184 109l2-13M187 128l3-32M190 118l3-22M194 109l2-6M204 113l3-7M207 103l3-2"/><path class="gc5" d="M106 98l2 19M109 95l3 21M126 97l3 18M129 118l3 6M133 118l2 6M136 125l3 0M140 120l2-4M146 113l3 15M150 112l2 5M167 101l2 11M197 109l3 4M201 117l2-1"/><path class="gc6" d="M96 112l2 23M99 123l3 14M143 102l3 29M157 128l2 10"/><path class="gc7" d="M211 190l2-29"/><path class="gc9" d="M-3 201l3 4M1 202l2 3M4 202l3 0M8 201l2-2M11 203l3-3M14 206l3-2M18 209l2-5M21 208l3-4M25 207l2-4M28 206l2-3M31 207l3-3M35 208l2-3M38 207l3-3M41 206l3-2M45 206l2-2M48 205l3 0"/><path class="gc10" d="M52 207l2 1M55 209l3 1M58 209l3 2M62 209l2 2M65 211l3 0M69 214l2-1M72 218l2-2M75 222l3-3M79 223l2-3M82 221l3-2M85 220l3-4M89 220l2-5M92 215l3-3"/></g>
<g transform="matrix(0.3524 -0.0980 0 -0.2744 77.17 288.18)"><path d="M-3 208l4 0 3-4 4-3 3 2 3 3 4 1 3-1 4 0 3 0 3 1 4 1 3-1 3-1 4 0 3 1 4 3 3 3 3 1 4-1 3 0 4 2 3 3 3 4 4 1 3-2 3-3 4-1 3-3 4-77 3 3 3-32 4 11 3-1 4-32 3-1 3 23 4-9 3 18 3 10 4 0 3 1 4-10 3 15 3-2 4-11 3-10 4 31 3-30 3 1 4 2 3-14 4 9 3-7 3-15 4 11 3 0 3 0 4 8 3 10 4 3 3-11 3-5 4 61 2-3-3-55-3 13-4 5-3-26-4 7-3-8-3-8-4 13-3-6-4 20-3-9-3 8-4-2-3-13-3 12-4 30-3-21-4-6-3-1-3 9-4 0-3 1-4-11-3-9-3 10-4-11-3 1-3-4-4-9-3 32-4 19-3-17-3-2-4 21-3 80-4-9-3 3-3 3-4 0-3-3-4-4-3-2-3 0-4 1-3 0-3-3-4-2-3-3-4-1-3 0-3 0-4 0-3-1-4-2-3-1-3 0-4 1-3 2-3-3-4-2-3 5-4 6-3 3Z"/><path class="gc3" d="M113 86l2 5M187 98l3-9"/><path class="gc4" d="M116 85l3 15M119 108l3-4M123 99l2 4M129 127l3-23M163 112l3-12M174 109l2-2M180 87l3 9M184 98l2 4M190 98l3-1M194 106l2-1M197 116l3-18M207 103l3 3"/><path class="gc5" d="M99 140l3-17M102 108l3 17M109 118l3 5M126 117l3-3M133 127l2-14M136 128l3-4M140 118l2 5M143 133l3-10M146 131l3-17M150 120l2-5M153 110l3 11M160 111l3 1M167 114l2-1M170 100l3 15M177 102l2 14M201 119l2 5M204 108l3 11"/><path class="gc6" d="M96 137l2 7M106 119l2 23M157 141l2 1"/><path class="gc7" d="M211 164l2-3"/><path class="gc9" d="M4 204l3-1M8 201l2-3M11 203l3-3M14 206l3-3M18 207l2-6M21 206l3-6M25 206l2-6M28 206l2-5M31 207l3-4M35 208l2-4M38 207l3-3M41 206l3-2M45 206l2-2M48 207l3-2"/><path class="gc10" d="M-3 208l3 4M1 208l2 1M52 210l2-2M55 213l3-3M58 214l3-1M62 213l2 0M65 213l3-1M69 215l2-3M72 218l2-4M75 222l3-4M79 223l2-2M82 221l3 0M85 218l3 0M89 217l2-2M92 214l3 10"/></g>
<g transform="matrix(0.3524 -0.0980 0 -0.2744 78.08 288.61)"><path d="M-3 214l4-2 3-7 4-4 3 2 3 2 4-1 3-2 4 0 3 2 3 2 4 1 3 0 3-1 4 1 3 1 4 2 3 3 3 2 4 1 3-2 4 0 3 2 3 4 4 4 3 0 3-3 4-3 3 8 4-80 3-21 3 2 4 18 3-19 4-33 3 10 3 3 4-1 3 11 3-10 4 9 3 12 4-1 3 0 3-10 4 1 3 6 4 21 3-29 3-13 4 14 3 2 4-9 3 9 3-19 4 5 3-13 3 8 4 8 3-6 4 25 3-4 3-13 4 54 2 25-3-77-3-6-4 0-3-16-4 29-3 7-3-30-4-4-3 8-4 15-3-11-3 27-4-12-3-7-3 14-4 4-3 5-4-13-3 0-3-8-4-1-3 3-4-13-3-2-3 1-4 4-3 6-3-9-4-5-3-16-4 25-3-7-3 3-4 1-3 105-4 7-3 5-3 3-4-2-3-5-4-4-3-2-3 2-4 2-3-1-3-5-4-2-3-2-4 0-3 0-3 0-4-1-3-2-4-1-3-1-3 0-4 2-3 2-3-2-4-4-3 4-4 6-3 4Z"/><path class="gc3" d="M109 126l3-45M184 104l2-13M197 101l3-12"/><path class="gc4" d="M96 146l2-43M99 125l3-23M102 127l3-28M106 145l2-39M113 93l2 4M116 103l3-1M119 106l3 5M123 105l2 0M126 116l3-15M129 106l3-6M133 115l2-13M163 102l3 9M174 109l2-6M180 99l3 0M187 91l3 4M201 126l2-21M204 122l3-17M207 109l3 2"/><path class="gc5" d="M136 127l3-12M140 126l2-14M143 126l3-13M146 116l3 5M150 117l2 4M157 144l2-15M160 115l3 10M167 116l2 2M177 118l2-4M190 99l3 26M194 107l2 11"/><path class="gc6" d="M153 123l3 11M170 118l3 12"/><path class="gc9" d="M4 205l3-4M8 201l2-4M11 203l3-2M14 205l3-2M18 204l2-3M21 202l3-3M25 202l2-3M28 204l2-4M31 206l3-5M35 207l2-4M38 207l3-3M41 206l3-2M45 207l2-3M48 208l3-4M52 210l2-4M211 163l2 25"/><path class="gc10" d="M-3 214l3-3M1 212l2-5M55 213l3-5M58 215l3-2M62 216l2-2M65 214l3-2M69 214l2-4M72 216l2-4M75 220l3-4M79 224l2-3M82 224l3-1M85 221l3-1M89 218l2-3M92 226l3-18"/></g>
<g transform="matrix(0.3524 -0.0980 0 -0.2744 78.99 289.03)"><path d="M-3 214l4-4 3-7 4-3 3 3 3 2 4-1 3-2 4 0 3 0 3 1 4 2 3 2 3 0 4-1 3 1 4 1 3 3 3 4 4 2 3-2 4-2 3 2 3 4 4 5 3 2 3-3 4-5 3-7 4-106 3 0 3-3 4 6 3-24 4 16 3 5 3 8 4-6 3-3 3-2 4 2 3 13 4-3 3 1 3 8 4 0 3 13 4-4 3-4 3-15 4 7 3 13 4-28 3 12 3-16 4-7 3 4 3 29 4-6 3-30 4 17 3-1 3 6 4 77 2 15-3-87-3-12-4-3-3-10-4 31-3 14-3-36-4-13-3 14-4 15-3 14-3 84-4-36-3-65-3-9-4 8-3-9-4 9-3 0-3-4-4 10-3-16-4-10-3 14-3 7-4 8-3-10-3-12-4 0-3-11-4 0-3 9-3 4-4-24-3 126-4 8-3 2-3 2-4 1-3-3-4-2-3-1-3 1-4 1-3-3-3-5-4-3-3 0-4 1-3 3-3 0-4-3-3-4-4 0-3 1-3 1-4 2-3 2-3-3-4-4-3 0-4 3-3 2Z"/><path class="gc3" d="M96 105l2-26M106 108l2-18M109 84l3 6M184 94l2-5"/><path class="gc4" d="M99 105l3-2M102 102l3-3M113 100l2 1M116 105l3-4M129 102l3 6M133 104l2-10M136 117l3-13M143 115l3-5M153 136l3-31M160 128l3-22M180 101l3 2M187 98l3 4M197 91l3 2M201 108l2-5M204 107l3-1"/><path class="gc5" d="M119 113l3 0M123 107l2 16M126 104l3 11M140 114l2 6M146 123l3-9M150 123l2-9M157 132l2-18M163 113l3 2M177 117l2 1M194 121l2 3M207 113l3 5"/><path class="gc6" d="M174 105l2 27M190 127l3 11"/><path class="gc8" d="M167 120l2 60"/><path class="gc9" d="M-3 214l3-10M1 210l2-8M4 203l3-4M8 200l2-1M11 203l3 0M14 205l3 1M18 204l2 0M21 202l3 0M25 202l2-1M28 202l2-2M31 203l3-3M35 205l2-1M45 206l2-2M48 207l3-4M52 208l2-5M55 211l3-5M92 211l3-6M211 190l2 15"/><path class="gc10" d="M38 207l3 0M41 207l3 0M58 215l3-4M62 217l2-3M65 215l3-2M69 213l2-1M72 215l2-2M75 219l3-4M79 224l2-6M82 226l3-9M85 223l3-8M89 218l2-5M170 133l3 83"/></g>
<g transform="matrix(0.3524 -0.0980 0 -0.2744 79.90 289.46)"><path d="M-3 206l4-1 3-4 4 0 3 5 3 2 4-1 3-2 4-2 3-1 3 1 4 3 3 4 3-1 4-2 3-2 4 1 3 3 3 5 4 3 3-1 4-1 3 1 3 2 4 2 3-1 3-1 4-2 3-8 4-127 3 25 3-5 4-9 3 0 4 11 3 0 3 13 4 9 3-7 3-7 4-14 3 9 4 16 3-10 3 4 4 1 3-9 4 9 3-9 3 9 4 66 3 35 4-84 3-13 3-15 4-15 3 14 3 35 4-13 3-32 4 11 3 3 3 11 4 87 2-11-3-56-3 9-4-19-3 7-4 22-3 1-3-79-4-18-3-3-4 96-3 54-3-14-4-12-3-16-3-23-4-12-3-3-4 32-3-18-3-11-4 27-3-89-4 27-3 79-3-15-4 3-3 28-3-29-4-36-3 13-4 12-3 0-3 15-4-38-3 31-4 16-3-26-3-2-4 60-3 4-4 1-3 0-3-1-4-1-3-3-3-4-4-3-3 0-4 3-3 4-3 1-4-3-3-5-4-1-3 1-3 2-4 2-3 2-3-2-4-3-3-3-4-3-3-3Z"/><path class="gc2" d="M136 106l3-35M180 106l3-46M184 91l2-28"/><path class="gc3" d="M187 105l3-24"/><path class="gc4" d="M133 97l2 1"/><path class="gc5" d="M113 103l2 25M153 108l3 22"/><path class="gc6" d="M82 219l3-70M96 81l2 49M109 92l3 49M143 112l3 21M146 116l3 28M157 117l2 16M160 108l3 37M197 95l3 42M201 106l2 24M204 109l3 40M207 120l3 20"/><path class="gc7" d="M85 218l3-67M92 208l3-47M99 106l3 62M102 101l3 52M106 92l2 61M116 103l3 61M123 125l2 40M126 118l3 44M140 122l2 38M150 117l2 45M163 117l3 51M177 121l2 35M190 140l3 20M194 127l2 32"/><path class="gc8" d="M89 216l2-39M129 111l3 66M167 183l2 1"/><path class="gc9" d="M-3 206l3-12M1 205l2-8M4 201l3-1M8 201l2 2M11 206l3 0M18 207l2-1M21 205l3-1M25 203l2-1M28 202l2-1M31 203l3-1M35 206l2 1M45 207l2-2M48 205l3-3M52 206l2-4M55 209l3-4M119 116l3 77M170 218l3-22M211 207l2-11"/><path class="gc10" d="M14 208l3 0M38 210l3 0M41 209l3 0M58 214l3-5M62 217l2-5M65 216l3-3M69 215l2-1M72 216l2-2M75 218l3-5M79 220l2-11M174 134l2 76"/></g>
<g transform="matrix(0.3524 -0.0980 0 -0.2744 80.81 289.89)"><path d="M-3 197l4 3 3 3 4 2 3 4 3 1 4-1 3-2 4-2 3-2 3 1 4 5 3 4 3-2 4-4 3-3 4 1 3 2 3 5 4 3 3 1 4 0 3 0 3-1 4-3 3-61 3 3 4 26 3-17 4-30 3 37 3-15 4 0 3-12 4-13 3 36 3 30 4-29 3-3 3 15 4-78 3-27 4 89 3-28 3 12 4 18 3-33 4 4 3 12 3 22 4 17 3 11 4 14 3-53 3-96 4 3 3 17 3 79 4-1 3-21 4-7 3 18 3-8 4 55 2-32-3-16-3 24-4-30-3-4-4 19-3 2-3-55-4-45-3 4-4 103-3 29-3-13-4 10-3-14-3-8-4-10-3-27-4 3-3-6-3 0-4 10-3-71-4 44-3 95-3-59-4-1-3 43-3-36-4-39-3 28-4 20-3-23-3 14-4-14-3 21-4 34-3-20-3 4-4 22-3 4-4 2-3 0-3-1-4-1-3-1-3-2-4-3-3-1-4 2-3 4-3 2-4-2-3-4-4-2-3 1-3 2-4 2-3 1-3 0-4 0-3-4-4-8-3-8Z"/><path class="gc2" d="M136 74l3-3M180 63l3 2M184 66l2-5"/><path class="gc4" d="M187 83l3 23"/><path class="gc5" d="M113 130l2-12M133 101l2 14"/><path class="gc6" d="M96 133l2 10M102 155l3-12M109 143l3 3M140 163l2-21M143 135l3-3M146 147l3-15M150 165l2-27M153 132l3 3M197 140l3 0M201 133l2 11"/><path class="gc7" d="M92 163l3 1M99 170l3-13M106 155l2 11M116 166l3-9M123 167l2-17M126 164l3-13M157 136l2 26M177 159l2 9M190 162l3-1M194 161l2-2M207 143l3 7M211 198l2-32"/><path class="gc8" d="M-3 197l3-10M82 151l3 31M85 154l3 24M160 148l3 24M163 170l3 10M170 198l3-14M204 151l3 23"/><path class="gc9" d="M1 200l2-5M4 203l3 0M8 205l2 2M18 209l2-3M21 207l3-3M25 205l2-3M28 203l2-2M31 204l3-1M41 211l3-4M45 207l2-4M48 204l3-3M52 205l2-3M55 207l3-2M79 212l2-8M89 180l2 18M119 196l3-3M167 187l2 7M174 212l2-15"/><path class="gc10" d="M11 209l3-2M14 210l3-3M35 209l2-2M38 213l3-4M58 212l3-5M62 215l2-7M65 216l3-7M69 216l2-6M72 216l2-6M75 215l3-7M129 179l3 31"/></g>
<g transform="matrix(0.3524 -0.0980 0 -0.2744 81.72 290.31)"><path d="M-3 189l4 8 3 8 4 4 3 1 3-1 4-1 3-1 4-2 3-1 3 2 4 4 3 1 3-2 4-4 3-2 4 2 3 2 3 3 4 0 3 1 4 2 3 0 3-3 4-3 3-23 3-3 4 19 3-34 4-21 3 14 3-14 4 23 3-20 4-28 3 40 3 35 4-43 3 2 3 59 4-95 3-45 4 72 3-10 3 0 4 5 3-3 4 28 3 10 3 7 4 14 3-10 4 13 3-29 3-102 4-4 3 44 3 56 4-2 3-19 4 4 3 29 3-24 4 16 2-27-3-7-3 45-4-6-3-16-4 6-3 29-3-24-4-105-3 0-4 90-3-4-3 20-4 12-3-16-3 2-4 3-3-18-4-30-3 11-3 37-4-3-3-79-4-9-3 88-3-18-4 3-3 40-3-39-4-15-3 19-4 11-3-15-3-6-4 31-3-1-4-16-3 10-3 27-4 3-3 2-4 2-3-1-3-2-4 1-3 2-3 1-4-2-3-3-4 0-3 2-3 3-4 0-3-3-4-2-3 1-3 2-4 1-3 0-3 2-4 0-3-4-4-10-3-8Z"/><path class="gc2" d="M180 68l3-5M184 64l2-1"/><path class="gc3" d="M133 118l2-39M136 73l3 15"/><path class="gc5" d="M150 140l2-18"/><path class="gc6" d="M99 159l3-12M113 120l2 18M126 154l3-5M146 135l3-2M174 199l2-50M207 152l3-18M211 168l2-27"/><path class="gc7" d="M89 200l2-39M102 145l3 8M106 168l2 0M109 148l3 9M116 160l3-7M123 152l2 0M129 213l3-46M140 145l2 22M153 137l3 15M160 175l3-8M163 182l3-17M177 170l2-17M187 108l3 60M194 162l2 1M197 143l3 14"/><path class="gc8" d="M-3 189l3-4M85 181l3-10M92 166l3 11M96 145l2 33M143 135l3 35M157 165l2 5M167 196l2-15M170 186l3-17M201 147l2 26M204 176l3 3"/><path class="gc9" d="M1 197l2-4M4 205l3-2M14 209l3-4M18 208l2-3M21 207l3-3M25 205l2-3M28 204l2-3M31 206l3-3M35 210l2-4M38 211l3-5M41 209l3-6M45 205l2-4M48 203l3-2M52 205l2-1M55 207l3-1M58 210l3-5M62 210l2-7M65 211l3-9M69 213l2-9M72 213l2-8M75 210l3-7M79 207l2-6M82 184l3 14M119 195l3-3M190 164l3 28"/><path class="gc10" d="M8 209l2-2M11 210l3-3"/></g>
<g transform="matrix(0.3524 -0.0980 0 -0.2744 82.63 290.74)"><path d="M-3 188l4 8 3 9 4 5 3-1 3-2 4 0 3 0 4-2 3-1 3 2 4 3 3 0 3-3 4-2 3 0 4 3 3 1 3-1 4-2 3-1 4 3 3 1 3-2 4-2 3-3 3-28 4-10 3 17 4 1 3-31 3 5 4 16 3-12 4-19 3 16 3 39 4-41 3-3 3 18 4-87 3 8 4 79 3 4 3-37 4-12 3 30 4 18 3-3 3-1 4 15 3-12 4-20 3 5 3-90 4 0 3 104 3 25 4-30 3-6 4 17 3 6 3-45 4 7 2 0-3 4-3 25-4 30-3-20-4-32-3 12-3-22-4-79-3 0-4 65-3 9-3 33-4-1-3 9-3 0-4-4-3-2-4-30-3-7-3 31-4-1-3-79-4-8-3 96-3-16-4 7-3 6-3 9-4 3-3-7-4-10-3 13-3-11-4 35-3-18-4-26-3-18-3 31-4 27-3 2-4 1-3-3-3-3-4 1-3 3-3 4-4 1-3-3-4-1-3 2-3 1-4 0-3-3-4-3-3 2-3 2-4-1-3-1-3 0-4 0-3-5-4-8-3-4Z"/><path class="gc2" d="M180 66l3-4M184 66l2-4"/><path class="gc3" d="M133 82l2-5M136 90l3-5"/><path class="gc5" d="M177 156l2-29"/><path class="gc6" d="M85 173l3-33M146 136l3-2M150 124l2 17M174 151l2-15M187 170l3-29M207 137l3 11M211 144l2 0"/><path class="gc7" d="M89 163l2-5M99 150l3 17M106 171l2-6M123 154l2 10M126 151l3 6M140 169l2-5M143 173l3-8M190 195l3-32M194 165l2-14"/><path class="gc8" d="M-3 188l3-6M1 196l2-10M82 201l3-30M92 180l3 4M102 155l3 23M109 159l3 16M113 140l2 42M116 156l3 23M119 195l3-25M129 169l3 4M153 154l3 17M157 172l2 1M160 169l3 8M163 168l3 9M167 183l2-15M170 171l3-2M197 159l3 24M204 182l3-9"/><path class="gc9" d="M4 205l3-11M8 210l2-11M11 209l3-10M14 207l3-8M18 207l2-7M21 207l3-6M25 205l2-6M28 204l2-7M31 206l3-6M35 209l2-6M38 209l3-6M41 206l3-4M45 204l2-4M48 204l3-3M52 207l2-3M55 208l3-5M58 207l3-8M62 205l2-9M65 204l3-9M69 207l2-9M72 208l2-7M75 206l3-6M79 204l2-6M96 181l2 21M201 176l2 27"/></g>
<g transform="matrix(0.3524 -0.0980 0 -0.2744 83.54 291.16)"><path d="M-3 184l4 5 3 7 4 6 3 0 3-1 4 2 3 0 4-2 3-1 3 2 4 3 3 0 3-1 4-2 3 1 4 4 3-2 3-3 4-4 3-1 4 4 3 2 3-1 4-2 3-26 3-32 4 18 3 27 4 18 3-36 3 11 4-12 3 10 4 6 3-2 3-9 4-7 3-6 3 15 4-96 3 8 4 79 3 1 3-31 4 8 3 30 4 1 3 5 3 0 4-9 3 0 4-33 3-9 3-65 4 1 3 79 3 21 4-12 3 32 4 20 3-29 3-25 4-5 2 3-3 22-3-1-4 27-3-38-4-5-3-16-3-73-4-11-3 8-4 64-3 4-3 2-4 20-3 26-3-4-4 4-3 22-4-30-3-15-3 17-4-8-3-82-4-5-3 96-3-31-4-2-3 32-3 29-4-9-3-3-4-20-3 46-3-56-4 2-3 8-4-25-3-12-3 24-4-43-3 15-4 1-3-10-3-2-4 9-3-15-3 2-4 20-3-14-4 2-3 23-3-24-4-14-3-20-4-1-3 7-3 11-4-4-3-4-3-2-4 7-3-2-4-10-3 0Z"/><path class="gc2" d="M180 64l3-2M184 65l2-11M187 144l3-79"/><path class="gc3" d="M-3 184l3-96M1 189l2-101M28 200l2-115M31 202l3-116M133 79l2-2M136 87l3-5"/><path class="gc4" d="M4 196l3-98M8 202l2-102M11 202l3-109M14 201l3-106M18 203l2-104M21 203l3-100M25 201l2-109M35 205l2-99"/><path class="gc5" d="M38 205l3-85M45 202l2-81M48 203l3-84M55 205l3-92M58 202l3-91M62 198l2-72M65 197l3-80M69 201l2-82M72 203l2-74M75 202l3-74M79 200l2-87M174 138l2-8M177 129l2-3"/><path class="gc6" d="M41 204l3-60M52 207l2-74M85 142l3-10M89 160l2-16M123 166l2-26M126 160l3-18M170 171l3-39M190 165l3-27M211 146l2 3"/><path class="gc7" d="M82 174l3-18M96 205l2-44M99 169l3-10M140 166l2-2M146 136l3 19M167 171l2-19M194 153l2 1M197 185l3-26"/><path class="gc8" d="M92 187l3-18M106 168l2 1M119 173l3-1M129 175l3-2M143 167l3 5M150 144l2 26M157 175l2 3M160 180l3-6M163 180l3-2M204 176l3-6M207 151l3 20"/><path class="gc9" d="M109 178l3 11M113 184l2 8M116 182l3 19M153 174l3 26M201 205l2-8"/><path class="gc10" d="M102 180l3 35"/></g>
<g transform="matrix(0.3524 -0.0980 0 -0.2744 84.45 291.59)"><path d="M-3 90l4 0 3 10 4 2 3-7 3 3 4 4 3 3 4-10 3-7 3 0 4 21 3 13 3 24 4-23 3-1 4 14 3-20 3-2 4 14 3-9 4 2 3 10 3-1 4-14 3 42 3-23 4 12 3 25 4-8 3-3 3 57 4-47 3 21 4 3 3 9 3-29 4-32 3 1 3 32 4-97 3 6 4 82 3 8 3-18 4 15 3 30 4-22 3-4 3 4 4-26 3-20 4-2 3-3 3-65 4-7 3 11 3 73 4 15 3 6 4 38 3-27 3 1 4-23 2-16-3 25-3-12-4 23-3-20-4-24-3-6-3-71-4-5-3 20-4 95-3-15-3-18-4 19-3 32-3 2-4-15-3 12-4 3-3 6-3-15-4-13-3-76-4-3-3 107-3-25-4-2-3 14-3-6-4 20-3-6-4-10-3 10-3-17-4 6-3 5-4-12-3-12-3-27-4-45-3 24-4 14-3 11-3-21-4-9-3 3-3 3-4 3-3 1-4 7-3 17-3-14-4-24-3-24-4 12-3 19-3 15-4-9-3-10-3 6-4-5-3 37-4 9-3 0Z"/><path class="gc1" d="M184 57l2-12M187 68l3-18"/><path class="gc2" d="M31 88l3-18M180 64l3 1"/><path class="gc3" d="M28 88l2-6M79 116l2-37M133 79l2 0M136 85l3-3"/><path class="gc4" d="M8 102l2-4M11 95l3 8M14 98l3-1M18 102l2 5M25 95l2 6M35 109l2-15M48 122l3-14M52 136l2-29M55 116l3-12M58 114l3-13M62 128l2-30M65 119l3-12M75 130l3-27"/><path class="gc5" d="M21 105l3 11M38 122l3-4M45 123l2-8M69 121l2 7M72 131l2-14M82 158l3-34M170 134l3-7M190 141l3-20M194 156l2-29"/><path class="gc6" d="M-3 90l3 54M1 90l2 54M4 100l3 35M41 146l3-14M167 154l2-8M174 132l2 13M204 173l3-25M211 151l2-16"/><path class="gc7" d="M85 135l3 16M89 147l2 16M99 161l3 3M116 204l3-37M123 143l2 16M126 144l3 17M140 167l2-9M157 180l2-15M177 129l2 31M197 162l3-11M207 174l3-14"/><path class="gc8" d="M92 172l3 3M96 164l2 6M102 218l3-37M106 171l2 0M109 192l3-11M113 195l2-8M119 175l3-2M129 176l3 10M143 175l3-4M146 157l3 29M150 172l2 8M153 202l3-25M160 176l3 4M163 180l3-2M201 200l2-29"/></g>
<g transform="matrix(0.3524 -0.0980 0 -0.2744 85.36 292.01)"><path d="M-3 146l4 1 3-10 4-37 3 6 3-7 4 10 3 9 4-14 3-20 3-12 4 24 3 24 3 15 4-18 3-6 4-1 3-4 3-3 4-3 3 10 4 21 3-11 3-14 4-25 3 45 3 27 4 13 3 11 4-5 3-5 3 17 4-10 3 9 4 7 3-20 3 5 4-13 3 1 3 25 4-106 3 2 4 77 3 13 3 14 4-5 3-4 4-12 3 16 3-3 4-31 3-19 4 18 3 14 3-95 4-20 3 6 3 70 4 6 3 24 4 21 3-23 3 11 4-25 2-17-3 13-3 2-4 13-3-8-4-31-3 34-3-72-4 19-3 40-4 40-3-11-3 16-4 6-3 10-3-5-4-3-3-36-4-3-3 17-3 27-4-49-3-74-4 3-3 92-3-11-4 1-3-2-3 7-4 17-3-3-4 4-3-10-3 1-4 0-3 3-4 0-3-14-3-7-4-62-3 4-4 7-3 2-3 5-4-2-3 10-3 1-4-18-3-7-4-5-3 32-3 7-4-23-3-10-4 4-3-8-3 25-4 16-3-16-3 3-4 8-3 29-4-7-3-8Z"/><path class="gc2" d="M133 82l2-14M136 84l3-19M187 53l3 18"/><path class="gc3" d="M25 104l2-21M28 84l2 7M31 72l3 15M45 117l2-36M48 111l3-25M75 106l3-18M79 81l2 3M184 47l2 43"/><path class="gc4" d="M11 106l3 5M14 99l3 9M21 118l3-10M35 96l2 1M52 110l2-17M58 103l3 7M62 100l2 0M65 110l3-8M69 131l2-34M72 120l2-25M194 129l2-20"/><path class="gc5" d="M8 100l2 19M18 109l2 15M38 120l3 0M41 135l3-22M55 106l3 5M180 67l3 63M211 137l2-17"/><path class="gc6" d="M-3 146l3-13M1 147l2-6M4 137l3 11M82 126l3 20M119 175l3-27M126 163l3-14M140 161l2-22M150 183l2-39M153 179l3-32M190 123l3 20M197 153l3-13M201 174l2-26M204 151l3-16M207 162l3-29"/><path class="gc7" d="M85 153l3 0M89 166l2 1M92 177l3-10M96 172l2-8M99 167l3-3M102 184l3-21M116 170l3-15M123 162l2-12M129 188l3-28M146 188l3-27M174 148l2 11"/><path class="gc8" d="M106 174l2-1M109 183l3-14M113 190l2-18M157 167l2 16M160 183l3 3M167 149l2 32M170 130l3 45M177 162l2 8"/><path class="gc9" d="M143 174l3 14M163 180l3 11"/></g>
<g transform="matrix(0.3524 -0.0980 0 -0.2744 86.27 292.44)"><path d="M-3 136l4 8 3 6 4-28 3-9 3-3 4 17 3-17 4-25 3 9 3-5 4 10 3 23 3-7 4-31 3 5 4 7 3 18 3-2 4-9 3 1 4-5 3-1 3-7 4-5 3 62 3 7 4 15 3-1 4-3 3 0 3-1 4 10 3-3 4 3 3-18 3-6 4 2 3-2 3 11 4-92 3-3 4 75 3 49 3-28 4-17 3 4 4 36 3 2 3 5 4-9 3-6 4-16 3 10 3-40 4-40 3-18 3 71 4-33 3 31 4 8 3-14 3-2 4-12 2-14-3 45-3 0-4 2-3-15-4 6-3 42-3-108-4 58-3 60-4-20-3-21-3 28-4-3-3-9-3-17-4 32-3-8-4-35-3-7-3 15-4-3-3-82-4 3-3 78-3 0-4 2-3-2-3-7-4 8-3 22-4-9-3 3-3 1-4 2-3 5-4-3-3-15-3 14-4-65-3-17-4 0-3 17-3 4-4-2-3 3-3 10-4-12-3-8-4-6-3 13-3 4-4-20-3-17-4 23-3 18-3 6-4 8-3-6-3 6-4-7-3 30-4 5-3-13Z"/><path class="gc2" d="M133 70l2 2M136 67l3 2"/><path class="gc3" d="M31 89l3-14M72 98l2-9M75 91l3-2M187 74l3 7"/><path class="gc4" d="M28 94l2 4M35 99l2-7M41 115l3-7M45 84l2 11M48 89l3 12M52 96l2 13M62 103l2 5M65 104l3 6M69 99l2 7M79 86l2 20M211 123l2-14"/><path class="gc5" d="M8 122l2 1M14 110l3 14M21 110l3 12M25 85l2 31M38 122l3-10M55 114l3 7M58 112l3-1"/><path class="gc6" d="M-3 136l3 9M11 113l3 17M18 127l2 3M116 157l3-14M146 163l3-24M150 146l2 0M184 92l2 47M194 112l2 35M197 143l3-2"/><path class="gc7" d="M1 144l2 14M4 150l3 3M85 155l3 2M99 166l3 2M102 165l3 2M106 175l2-11M113 175l2-24M119 151l3-1M123 153l2-1M126 151l3-1M129 162l3-12M140 142l2 9M143 191l3-37M160 188l3-31M174 162l2-4M201 151l2 5M204 137l3 17M207 135l3 19"/><path class="gc8" d="M82 148l3 23M89 170l2 2M92 169l3 6M96 166l2 4M109 172l3 1M153 150l3 31M163 193l3-19M167 184l2-1M170 178l3 8M177 172l2 7"/><path class="gc9" d="M157 186l2 3M180 132l3 67M190 145l3 44"/></g>
<g transform="matrix(0.3524 -0.0980 0 -0.2744 87.18 292.86)"><path d="M-3 147l4 14 3-5 4-30 3 7 3-7 4 7 3-8 4-7 3-17 3-23 4 16 3 20 3-3 4-14 3 7 4 8 3 12 3-10 4-4 3 3 4-4 3-17 3-1 4 18 3 64 3-14 4 15 3 3 4-5 3-2 3 0 4-3 3 8 4-22 3-7 3 7 4 1 3-2 3 1 4-79 3-3 4 82 3 3 3-14 4 7 3 34 4 9 3-33 3 18 4 8 3 4 4-29 3 21 3 21 4-61 3-57 3 108 4-42 3-6 4 14 3-1 3 0 4-45 2-28-3 86-3-10-4-8-3 21-4 3-3-11-3-93-4 40-3 48-4 8-3-11-3 31-4-20-3-14-3-9-4 34-3 0-4-18-3-14-3 15-4 9-3-100-4-7-3 93-3-13-4 18-3-14-3 13-4-6-3 9-4 20-3-1-3-9-4 18-3 0-4-11-3-33-3 13-4-68-3-1-4 2-3 5-3 1-4 1-3 5-3 6-4-13-3-6-4 12-3 14-3 8-4-29-3-16-4 5-3 14-3 9-4 28-3 3-3-13-4-28-3 41-4 12-3-11Z"/><path class="gc2" d="M133 74l2-10M136 71l3 0M187 84l3-12"/><path class="gc3" d="M28 101l2-14M31 78l3 4M211 112l2-28"/><path class="gc4" d="M8 126l2-26M21 125l3-15M25 118l2-17M35 94l2 4M45 97l2 8M48 104l3-11M52 112l2-13M58 114l3-8M62 110l2-9M65 113l3-13M69 109l2-10M72 92l2 2M75 91l3 1M79 109l2-16"/><path class="gc5" d="M11 133l3-5M38 114l3 13M41 111l3 8M55 124l3-12M184 141l2-29"/><path class="gc6" d="M-3 147l3-5M4 156l3-15M14 126l3 15M18 133l2 5M85 159l3-11M119 153l3-5M126 152l3-8M146 142l3 5M160 159l3-14"/><path class="gc7" d="M1 161l2-8M82 173l3-12M109 175l3-11M113 153l2 2M116 146l3 15M123 154l2 8M129 153l3 4M143 156l3 6M150 149l2 12M163 177l3-23M167 185l2-17M174 160l2-3M177 181l2-13M180 202l3-42M190 192l3-27M201 158l2-6M204 157l3 3"/><path class="gc8" d="M89 174l2 7M99 170l3 4M102 170l3 13M106 167l2 17M140 153l2 18M153 183l3-4M157 192l2-13M194 150l2 26M197 144l3 29M207 157l3 13"/><path class="gc9" d="M92 177l3 15M96 172l2 20M170 189l3-1"/></g>
<g transform="matrix(0.3524 -0.0980 0 -0.2744 88.09 293.29)"><path d="M-3 144l4 12 3-13 4-41 3 28 3 13 4-2 3-29 4-8 3-14 3-5 4 15 3 29 3-7 4-14 3-13 4 7 3 13 3-6 4-6 3 0 4-2 3-4 3-3 4 2 3 67 3-12 4 32 3 11 4 1 3-19 3 9 4 2 3-20 4-9 3 6 3-13 4 13 3-18 3 14 4-94 3 8 4 100 3-9 3-15 4 13 3 19 4-1 3-34 3 9 4 15 3 20 4-32 3 11 3-8 4-48 3-40 3 94 4 10 3-3 4-20 3 8 3 9 4-86 2-22-3 121-3-1-4-32-3 4-4-9-3-17-3-74-4 21-3 4-4 84-3-3-3 35-4-30-3 0-3 12-4 5-3-21-4 10-3-17-3-10-4 5-3-84-4 0-3 82-3-8-4 21-3-25-3 39-4 4-3-21-4 2-3 30-3-12-4 6-3-28-4 1-3-20-3 16-4-51-3 11-4 6-3-5-3 0-4 3-3-9-3-10-4-8-3 9-4 6-3-6-3 17-4-7-3-17-4-10-3-1-3 15-4 18-3 2-3-12-4-14-3 53-4 10-3 3Z"/><path class="gc2" d="M133 66l2 1M136 74l3-7M187 74l3-18M211 86l2-22"/><path class="gc3" d="M8 102l2-11M25 104l2-22M28 90l2-7M52 102l2-11M180 162l3-81M184 114l2-37"/><path class="gc4" d="M11 130l3-25M21 112l3-15M31 85l3 8M35 100l2 10M41 122l3-22M45 108l2-2M48 95l3 5M55 115l3-16M58 109l3 0M79 96l2 7"/><path class="gc5" d="M14 143l3-26M18 141l2-26M38 129l3-12M62 103l2 15M65 103l3 12M69 101l2 14M72 97l2 23M75 94l3 20M190 168l3-38"/><path class="gc6" d="M4 143l3 1M85 151l3-13M119 151l3-14M126 146l3-5M143 165l3-19M194 178l2-31"/><path class="gc7" d="M-3 144l3 13M1 156l2-2M82 163l3-9M89 183l2-25M92 194l3-37M106 187l2-26M109 167l3-8M123 164l2-2M129 160l3-11M140 174l2-23M146 150l3 6M153 182l3-19M163 156l3 11M167 171l2-4M174 159l2 3M177 170l2-5M197 175l3-19M201 155l2-3"/><path class="gc8" d="M96 195l2-10M99 176l3 3M113 158l2 22M116 164l3 12M150 163l2 10M157 181l2 3M160 147l3 32M204 163l3 21M207 172l3 13"/><path class="gc9" d="M102 185l3 6M170 191l3 6"/></g>
<g transform="matrix(0.3524 -0.0980 0 -0.2744 89.00 293.71)"><path d="M-3 159l4-3 3-9 4-54 3 14 3 13 4-3 3-17 4-16 3 2 3 9 4 18 3 7 3-18 4 6 3-6 4-9 3 9 3 9 4 9 3-2 4 0 3 5 3-7 4-10 3 51 3-16 4 19 3 0 4 27 3-5 3 11 4-30 3-2 4 21 3-4 3-38 4 25 3-22 3 9 4-83 3 1 4 83 3-5 3 10 4 17 3-9 4 21 3-5 3-13 4 1 3 29 4-34 3 2 3-84 4-3 3-22 3 74 4 17 3 10 4-4 3 32 3 1 4-122 2 5-3 101-3-10-4-13-3-22-4 20-3-17-3-69-4 10-3 6-4 85-3 0-3 24-4-27-3 14-3 24-4-4-3-13-4-22-3 35-3 4-4-19-3-97-4-4-3 48-3-20-4 14-3 1-3 47-4 4-3-21-4-8-3 30-3 5-4 20-3-42-4-36-3 25-3-12-4-41-3 10-4-6-3 8-3 1-4 8-3-12-3-5-4-7-3-6-4 28-3-10-3 6-4-6-3-16-4 14-3-20-3 14-4 26-3-1-3-21-4-18-3 62-4 10-3 0Z"/><path class="gc2" d="M184 80l2-9M187 58l3 3M211 66l2 5"/><path class="gc3" d="M8 93l2-15M25 84l2-6M31 95l3-11M48 102l3-20M52 93l2-5M79 106l2-15M133 69l2 8M136 70l3 11M180 83l3-6"/><path class="gc4" d="M11 107l3-11M21 100l3-8M28 86l2 12M35 113l2-13M38 120l3-14M41 102l3-2M45 108l2 2M55 102l3-7M58 111l3-11M65 118l3-14M69 118l2-15M72 123l2-28M75 116l3-15M126 143l3-38"/><path class="gc5" d="M14 120l3-3M18 117l2 1M62 120l2-8M89 160l2-41M119 140l3-20M123 165l2-46M129 152l3-27M190 132l3-2M197 159l3-32"/><path class="gc6" d="M4 147l3-7M82 157l3-25M85 141l3 3M106 163l2-21M194 149l2-2M201 155l2-6"/><path class="gc7" d="M-3 159l3-9M1 156l2-6M92 160l3-5M109 161l3-11M116 178l3-11M150 175l2-17M167 170l2-11M174 165l2-3M177 167l2-5M204 187l3-25"/><path class="gc8" d="M99 182l3-5M102 193l3-21M113 182l2-11M140 153l2 25M153 166l3 14M163 169l3 4M170 199l3-13M207 188l3-16"/><path class="gc9" d="M96 187l2 10M143 148l3 49M146 158l3 35M157 187l2 6M160 182l3 15"/></g>
<g transform="matrix(0.3524 -0.0980 0 -0.2744 89.91 294.14)"><path d="M-3 153l4-1 3-10 4-62 3 19 3 21 4 1 3-27 4-14 3 21 3-14 4 16 3 6 3-6 4 9 3-27 4 5 3 8 3 4 4 13 3-9 4-1 3-7 3 5 4-9 3 40 3 13 4-25 3 36 4 42 3-20 3-5 4-31 3 9 4 20 3-4 3-47 4-1 3-14 3 20 4-47 3 3 4 97 3 20 3-5 4-35 3 23 4 13 3 4 3-25 4-14 3 27 4-24 3 1 3-86 4-6 3-9 3 68 4 17 3-20 4 22 3 14 3 9 4-101 2 23-3 84-3-9-4 25-3-40-4 10-3-9-3-92-4 6-3 4-4 112-3 16-3-13-4-29-3 4-3 38-4-5-3-19-4-32-3 29-3-2-4-16-3-83-4-6-3 60-3-6-4-2-3 29-3 6-4 8-3-3-4-7-3 3-3 29-4 14-3-39-4-9-3 16-3-38-4-89-3 3-4-9-3-6-3 3-4 18-3-6-3-13-4-2-3-14-4 16-3 7-3 2-4-5-3-2-4 6-3-15-3 17-4 10-3-13-3-14-4-4-3 121-4 16-3-5Z"/><path class="gc0" d="M8 80l2-60M11 99l3-75M25 80l2-56M31 87l3-54M45 112l2-81M48 85l3-70M52 90l2-61M55 98l3-67M65 106l3-74M69 105l2-76"/><path class="gc1" d="M14 120l3-82M18 121l2-70M21 94l3-53M28 101l2-62M35 103l2-68M38 109l3-69M41 103l3-65M58 102l3-58M62 115l2-65M72 98l2-63M75 103l3-59M79 94l2-53"/><path class="gc2" d="M133 80l2-11M184 73l2-2M187 64l3 1"/><path class="gc3" d="M136 83l3-8M180 79l3-4"/><path class="gc4" d="M211 73l2 23"/><path class="gc5" d="M82 134l3-4M123 121l2 0M126 107l3 16M129 127l3 2"/><path class="gc6" d="M4 142l3-1M150 160l2-13"/><path class="gc7" d="M-3 153l3-1M1 152l2 5M89 122l2 30M92 158l3 3M102 175l3-18M106 144l2 10M109 153l3 8M113 173l2-9M116 169l3-13M119 122l3 28M140 180l2-22M163 175l3-10M167 161l2 0M190 132l3 25M194 149l2 17M197 129l3 27"/><path class="gc8" d="M85 147l3 21M99 180l3 6M143 200l3-26M146 195l3-19M153 183l3-4M177 165l2 22M204 165l3 6M207 174l3 6"/><path class="gc9" d="M96 200l2 0M157 196l2 2M160 200l3 3M170 188l3 2M174 164l2 39M201 151l2 45"/></g>
<g transform="matrix(0.3524 -0.0980 0 -0.2744 90.82 294.56)"><path d="M-3 155l4 4 3-16 4-120 3 3 3 15 4 12 3-10 4-16 3 14 3-5 4 2 3 5 3-3 4-6 3-17 4 14 3 3 3 12 4 6 3-18 4-2 3 5 3 9 4-2 3 88 3 39 4-17 3 9 4 40 3-15 3-28 4-3 3 6 4 4 3-8 3-7 4-28 3 1 3 7 4-60 3 6 4 82 3 17 3 1 4-28 3 32 4 19 3 5 3-39 4-3 3 29 4 13 3-16 3-112 4-4 3-7 3 93 4 8 3-10 4 40 3-24 3 8 4-83 2 22-3 78-3-6-4-4-3-28-4-5-3 0-3-82-4-5-3 12-4 116-3-23-3 10-4-9-3-14-3 4-4-8-3 18-4 32-3-32-3-26-4-14-3-69-4 3-3 67-3 32-4-33-3 37-3 5-4 5-3-6-4-46-3 3-3 25-4 28-3-3-4-14-3 2-3-8-4-115-3-11-4-16-3 6-3 18-4-6-3-3-3 4-4 9-3-6-4 0-3-7-3-1-4-5-3-10-4-1-3 12-3 8-4 3-3 4-3 0-4-9-3 99-4 2-3-1Z"/><path class="gc0" d="M25 27l2 4M28 41l2-22M31 36l3-16M35 38l2-8M69 32l2-5M72 37l2-16"/><path class="gc1" d="M8 23l2 14M11 26l3 20M14 41l3 5M18 53l2-11M21 43l3-4M38 43l3-8M41 40l3-4M45 34l2 9M48 17l3 26M52 31l2 18M55 34l3 6M58 46l3-10M62 52l2-13M65 34l3 11M75 46l3-9M79 44l2 4"/><path class="gc2" d="M133 72l2-3M136 78l3-12M184 74l2-5"/><path class="gc3" d="M180 78l3 3M187 67l3 7"/><path class="gc5" d="M211 99l2 22"/><path class="gc6" d="M-3 155l3-18M1 159l2-21M4 143l3-7M102 160l3-27M106 157l2-27M123 124l2 11M129 132l3 4M140 160l2-25M143 177l3-28"/><path class="gc7" d="M82 132l3 31M99 188l3-30M126 125l3 43M157 201l2-44M160 206l3-41M163 167l3-6M190 160l3-4M194 168l2-12M197 158l3 3"/><path class="gc8" d="M85 171l3 0M89 154l2 15M92 163l3 20M96 203l2-17M109 163l3 13M113 167l2 15M116 159l3 18M119 152l3 20M146 178l3-3M153 182l3-7M167 164l2 11M170 193l3-9M174 206l2-32"/><path class="gc9" d="M177 190l2 7M201 198l2-9M204 174l3 19M207 182l3 17"/><path class="gc10" d="M150 150l2 57"/></g>
<g transform="matrix(0.3524 -0.0980 0 -0.2744 91.73 294.99)"><path d="M-3 140l4 1 3-2 4-99 3 9 3-1 4-3 3-4 4-8 3-12 3 1 4 11 3 5 3 0 4 7 3 0 4 7 3-9 3-4 4 3 3 5 4-17 3-6 3 16 4 10 3 116 3 7 4-2 3 15 4 3 3-28 3-26 4-2 3 45 4 7 3-6 3-4 4-38 3 33 3-32 4-66 3-3 4 69 3 13 3 26 4 32 3-32 4-17 3 8 3-4 4 14 3 9 4-10 3 23 3-116 4-13 3 6 3 81 4 0 3 6 4 28 3 4 3 5 4-78 2 17-3 52-3 8-4 6-3-47-4-14-3 36-3-92-4-8-3 7-4 93-3-20-3-12-4 25-3 1-3-16-4 8-3 4-4 1-3 0-3-26-4-3-3-65-4-11-3 56-3 42-4-12-3 29-3-1-4-26-3-1-4-27-3 29-3 1-4 4-3-5-4 4-3 19-3-4-4-123-3-1-4-25-3-1-3 9-4 9-3 0-3 12-4-21-3 0-4-2-3 0-3 6-4-16-3-7-4 8-3 9-3 11-4 8-3-2-3-5-4-21-3 117-4 4-3-13Z"/><path class="gc0" d="M8 40l2-17M25 33l2-1M28 21l2 2M31 22l3-7M35 33l2-11M41 38l3-6M45 45l2-13M48 45l3-11M52 52l2-18M65 47l3-13M69 30l2-5M72 24l2 2"/><path class="gc1" d="M11 49l3-5M14 48l3 1M18 45l2 6M21 41l3 2M38 38l3 0M58 39l3 4M62 42l2 1M75 40l3 11M79 50l2 2"/><path class="gc2" d="M55 43l3 12M133 72l2-5"/><path class="gc3" d="M136 69l3 9M180 84l3 4M184 71l2 10M187 77l3 12"/><path class="gc5" d="M106 133l2-6M129 138l3-15"/><path class="gc6" d="M-3 140l3-9M1 141l2 3M4 139l3 1M140 138l2 5M143 151l3-5M194 158l2-13M211 123l2 17"/><path class="gc7" d="M89 171l2-11M92 186l3-30M96 189l2-28M99 161l3-4M102 135l3 21M109 178l3-24M113 185l2-30M123 137l2 16M126 170l3-5M157 160l2 7M160 168l3-9M170 187l3-38M174 177l2-16M197 164l3-5"/><path class="gc8" d="M82 166l3 9M85 173l3 6M116 179l3 2M119 175l3 7M146 177l3-5M150 209l2-37M153 177l3-6M163 164l3 11M167 178l2-4M177 200l2-19M190 158l3 23"/><path class="gc9" d="M201 192l2 14M204 196l3 4M207 201l3-9"/></g>
<g transform="matrix(0.3524 -0.0980 0 -0.2744 92.64 295.41)"><path d="M-3 134l4 12 3-4 4-117 3 22 3 4 4 2 3-8 4-10 3-10 3-8 4 8 3 15 3-5 4-1 3 2 4 0 3 21 3-11 4-1 3-9 4-8 3 0 3 26 4 0 3 124 3 3 4-19 3-3 4 5 3-5 3-1 4-28 3 26 4 2 3 25 3 1 4-28 3 12 3-43 4-56 3 11 4 65 3 4 3 26 4-1 3 0 4-5 3-7 3 16 4-1 3-25 4 12 3 19 3-93 4-7 3 9 3 92 4-36 3 14 4 46 3-6 3-7 4-52 2 7-3 32-3 3-4 28-3-32-4-4-3 7-3-96-4-8-3-3-4 75-3 16-3-11-4 31-3 10-3-24-4-15-3-20-4 8-3 40-3-16-4-26-3-71-4-4-3 83-3-17-4 13-3 41-3-25-4-24-3 8-4 23-3 11-3-15-4-10-3-13-4 1-3 32-3-9-4-125-3 13-4-15-3-5-3-12-4 17-3 10-3-9-4-20-3 10-4 0-3-3-3-5-4 2-3 0-4 6-3 3-3 7-4 10-3-5-3-2-4 0-3 90-4 5-3 10Z"/><path class="gc0" d="M28 25l2 8M31 17l3 10M35 25l2 2M38 40l3-15M41 35l3-5M45 34l2-1M48 36l3-3M52 36l2-13M65 36l3-11"/><path class="gc1" d="M8 25l2 21M11 47l3-1M14 51l3-3M21 45l3-2M25 35l2 1M55 57l3-14M58 46l3 6M62 45l2-3M69 28l2 9M72 28l2 14M79 54l2-10"/><path class="gc2" d="M18 53l2 0M75 54l3 3M133 69l2 1"/><path class="gc3" d="M136 80l3-6M180 90l3-13M184 83l2-3M187 92l3-4"/><path class="gc6" d="M1 146l2-5M4 142l3-6M89 162l2-16M92 159l3-14M109 156l3-7M113 158l2-17M123 156l2-7M126 168l3-32M140 145l2 0M150 174l2-27M153 174l3-35"/><path class="gc7" d="M-3 134l3 17M96 164l2-6M99 159l3 9M116 183l3-18M129 125l3 28M157 169l2-10M170 152l3 5M177 183l2-31M211 143l2 7"/><path class="gc8" d="M82 178l3-9M85 181l3-3M102 158l3 25M106 130l2 42M143 149l3 22M146 175l3 12M160 162l3 12M174 164l2 4M190 184l3 0M194 148l2 29M197 162l3 19M204 202l3-17M207 195l3-13"/><path class="gc9" d="M119 184l3 6M163 178l3 20M167 177l2 11"/><path class="gc10" d="M201 208l2 5"/></g>
<g transform="matrix(0.3524 -0.0980 0 -0.2744 93.55 295.84)"><path d="M-3 154l4-11 3-4 4-90 3 0 3 2 4 5 3-11 4-7 3-3 3-5 4 0 3-3 3 5 4 3 3 1 4-10 3 20 3 9 4-11 3-16 4 11 3 5 3 15 4-12 3 124 3 9 4-32 3 0 4 12 3 10 3 16 4-12 3-23 4-7 3 23 3 25 4-41 3-13 3 17 4-83 3 5 4 71 3 25 3 17 4-40 3-8 4 19 3 16 3 23 4-10 3-30 4 11 3-16 3-76 4 4 3 7 3 97 4-7 3 3 4 32 3-27 3-3 4-32 2-20-3 46-3-28-4 5-3 19-4 3-3-32-3-81-4 9-3-6-4 103-3 13-3-9-4 4-3-1-3-93-4 2-3 82-4-23-3 19-3-9-4 8-3-77-4 4-3 79-3-20-4 29-3 8-3-33-4-6-3 22-4 25-3-8-3-20-4 10-3-11-4-4-3 11-3-24-4-108-3-3-4-9-3 9-3 2-4 2-3 0-3-12-4 3-3 5-4-2-3-3-3-9-4 12-3 3-4 1-3 6-3 4-4-1-3-3-3 4-4 37-3 71-4-10-3 6Z"/><path class="gc0" d="M38 27l3-3M41 32l3 1M52 26l2 7M55 46l3-16M72 44l2-15"/><path class="gc1" d="M11 49l3 1M14 51l3-5M18 56l2-7M21 45l3 5M25 38l2 8M28 35l2 5M31 30l3 9M35 30l2 6M45 35l2 1M48 36l3 2M58 55l3-13M62 44l2-2M65 28l3 12M69 39l2-1M75 59l3-21M79 47l2-6"/><path class="gc2" d="M180 79l3-11M187 90l3-25"/><path class="gc3" d="M8 49l2 38M133 72l2 19M136 77l3 10M157 161l2-74M160 177l3-92M184 83l2-9"/><path class="gc6" d="M1 143l2 5M113 144l2 4M150 150l2-4M190 187l3-41M211 153l2-20"/><path class="gc7" d="M-3 154l3 0M4 139l3 19M82 171l3-22M89 148l2 14M92 148l3 18M99 170l3-3M116 167l3-13M126 138l3 12M140 148l2 16M143 173l3-17M146 190l3-25M201 215l2-59M204 188l3-37"/><path class="gc8" d="M85 180l3-7M96 160l2 17M102 186l3 1M109 151l3 19M119 192l3-5M123 151l2 28M129 155l3 15M153 142l3 27M163 200l3-22M167 190l2-11M170 160l3 15M174 171l2 13M177 155l2 16M194 180l2-2M197 183l3-8M207 185l3-6"/><path class="gc9" d="M106 174l2 21"/></g>
<g transform="matrix(0.3524 -0.0980 0 -0.2744 94.46 296.26)"><path d="M-3 157l4-6 3 9 4-71 3-36 3-5 4 4 3 0 4-4 3-6 3-1 4-2 3-13 3 10 4 3 3 1 4-4 3-4 3 12 4 0 3-2 4-1 3-9 3 8 4 4 3 108 3 24 4-12 3 5 4 10 3-10 3 20 4 8 3-24 4-23 3 7 3 33 4-9 3-29 3 20 4-79 3-4 4 78 3-8 3 9 4-19 3 23 4-82 3-3 3 94 4 1 3-5 4 10 3-14 3-103 4 6 3-9 3 81 4 32 3-3 4-19 3-5 3 28 4-46 2-30-3 49-3-5-4 6-3 31-4-1-3-65-3-55-4 14-3-12-4 127-3 21-3 0-4-26-3-1-3-103-4-1-3 61-4 4-3 6-3 4-4 6-3-72-4 3-3 67-3-9-4 15-3-17-3-16-4 35-3 4-4-18-3-5-3-2-4 25-3-13-4-3-3-3-3-17-4-100-3 9-4 2-3-1-3-27-4 10-3-1-3 1-4 6-3-8-4-5-3 1-3 10-4 7-3-18-4 3-3 13-3 1-4-7-3 10-3 17-4 19-3 76-4-1-3-2Z"/><path class="gc0" d="M28 42l2-14M31 41l3-16M41 36l3-10M45 39l2-14M48 40l3-10M55 32l3 0M58 44l3-13M62 44l2-12M65 42l3-20"/><path class="gc1" d="M14 48l3-3M18 52l2-17M21 52l3-10M25 48l2-7M35 39l2 4M38 26l3 10M52 36l2 2M69 41l2 8M72 32l2 18M75 40l3 8M79 44l2-5"/><path class="gc2" d="M11 53l3 9M180 70l3-3M187 67l3-2"/><path class="gc3" d="M8 89l2-8M157 90l2-6M160 87l3-2M184 76l2 3"/><path class="gc4" d="M133 93l2 3M136 89l3 4M211 135l2-30"/><path class="gc5" d="M190 148l3-28"/><path class="gc6" d="M82 152l3-13M116 157l3-21M150 149l2 0M153 172l3-27M204 153l3-4"/><path class="gc7" d="M-3 157l3-3M1 151l2 5M4 160l3-3M85 176l3-20M89 164l2-5M92 169l3-7M99 169l3-19M102 189l3-37M106 197l2-40M119 190l3-38M126 152l3 2M129 172l3-9M140 167l2-2M143 159l3 0M146 168l3-13M201 158l2-3M207 181l3-27"/><path class="gc8" d="M96 179l2-4M109 173l3 2M113 150l2 21M123 181l2-12M194 180l2 5M197 177l3 9"/><path class="gc9" d="M163 181l3 7M167 182l2 7M177 173l2 21"/><path class="gc10" d="M170 177l3 38M174 187l2 28"/></g>
<g transform="matrix(0.3524 -0.0980 0 -0.2744 95.37 296.69)"><path d="M-3 156l4 2 3 1 4-76 3-18 3-18 4-9 3 7 4-2 3-12 3-4 4 18 3-7 3-10 4-1 3 5 4 8 3-5 3-2 4 1 3-9 4 26 3 1 3-2 4-8 3 100 3 16 4 3 3 4 4 13 3-25 3 2 4 4 3 18 4-3 3-36 3 17 4 17 3-16 3 9 4-66 3-4 4 73 3-7 3-4 4-6 3-4 4-60 3 1 3 102 4 1 3 27 4 0 3-21 3-127 4 11 3-14 3 56 4 65 3 0 4-31 3-6 3 6 4-50 2-12-3 32-3 24-4 7-3 37-4 11-3-45-3-90-4-2-3 2-4 118-3 6-3-10-4-6-3-11-3-87-4-11-3 70-4 24-3-6-3 2-4 6-3-85-4-6-3 98-3 4-4 12-3-27-3-1-4 36-3-40-4-24-3-27-3 30-4 33-3-7-4 7-3-28-3-10-4-79-3-5-4-3-3 4-3-12-4-11-3 5-3 9-4 5-3-9-4 4-3 12-3-5-4-15-3-12-4 16-3 16-3 10-4-19-3 4-3 10-4-12-3 96-4 9-3-12Z"/><path class="gc0" d="M31 27l3-8M35 45l2-14M58 33l3-3M62 34l2-9"/><path class="gc1" d="M8 83l2-39M14 47l3-1M18 38l2 4M25 43l2 8M28 31l2 4M38 38l3 8M41 28l3 23M45 27l2 12M48 32l3 3M52 40l2 4M55 35l3 4M65 25l3 11M69 51l2-3M72 52l2-8M75 50l3-3M79 42l2 10"/><path class="gc2" d="M11 65l3-9M21 45l3 16M157 87l2-17M180 70l3 1M184 81l2-12M187 67l3 4"/><path class="gc3" d="M133 99l2-24M136 95l3-14M160 88l3-7"/><path class="gc4" d="M102 155l3-49M211 107l2-12"/><path class="gc5" d="M207 157l3-30"/><path class="gc6" d="M-3 156l3-19M1 158l2-9M4 159l3-19M82 142l3-11M85 158l3-17M99 153l3-17M106 159l2-26M153 147l3-7"/><path class="gc7" d="M92 165l3-3M109 177l3-20M116 138l3 23M119 155l3 7M140 168l2-2M143 161l3-1M146 157l3 1M150 151l2 13M163 190l3-22M190 123l3 38M201 157l2 1M204 151l3 0"/><path class="gc8" d="M89 161l2 8M96 178l2-9M126 156l3 21M129 165l3 8M167 191l2-12M170 218l3-33"/><path class="gc9" d="M113 174l2 23M123 172l2 17M174 218l2-23M177 197l2-8M194 188l2 18M197 188l3 7"/></g>
<g transform="matrix(0.3524 -0.0980 0 -0.2744 96.28 297.12)"><path d="M-3 140l4 11 3-8 4-96 3 12 3-11 4-3 3 19 4-10 3-16 3-17 4 13 3 14 3 6 4-12 3-4 4 8 3-4 3-9 4-5 3 11 4 11 3-4 3 3 4 6 3 79 3 9 4 28 3-7 4 7 3-33 3-30 4 27 3 24 4 41 3-36 3 1 4 27 3-13 3-3 4-98 3 5 4 86 3-6 3-2 4 5 3-23 4-71 3 12 3 86 4 12 3 5 4 11 3-7 3-118 4-2 3 3 3 89 4 46 3-11 4-38 3-7 3-23 4-32 2-1-3 41-3-4-4-6-3 30-4 22-3-19-3-93-4 13-3 1-4 102-3 4-3-22-4-13-3 35-3-41-4-67-3 81-4 7-3 5-3-15-4-10-3-76-4 6-3 98-3-2-4 2-3-26-3 25-4 24-3-45-4-18-3-15-3 16-4-12-3 36-4 18-3-1-3-19-4-109-3-13-4-11-3 5-3-4-4-12-3 3-3 16-4 5-3-3-4 15-3-5-3-5-4-15-3 3-4 15-3 0-3 7-4-4-3 6-3-5-4-19-3 102-4 7-3 1Z"/><path class="gc0" d="M8 47l2-18M31 21l3 8M35 34l2-8M55 42l3-8M58 33l3-15M62 28l2-13M65 39l3-12M69 50l2-19M72 46l2-20"/><path class="gc1" d="M11 59l3-11M14 48l3 5M18 45l2 2M21 64l3-13M25 54l2-10M28 38l2 6M38 48l3-7M41 54l3-8M45 42l2 9M48 38l3-2M52 46l2-7M75 49l3-12M79 55l2-5"/><path class="gc2" d="M136 83l3-11M187 74l3-6"/><path class="gc3" d="M133 78l2 0M157 72l2 8M180 73l3 9M184 71l2 10"/><path class="gc4" d="M211 98l2-1"/><path class="gc5" d="M96 171l2-46M102 108l3 13M201 160l2-32"/><path class="gc6" d="M-3 140l3-1M1 151l2-13M4 143l3-12M99 138l3-1M106 135l2 1M140 169l2-21M160 84l3 63M204 153l3-19M207 130l3 8"/><path class="gc7" d="M82 134l3 25M92 164l3-3M109 159l3-5M119 165l3-15M143 163l3-5M153 143l3 18M167 182l2-29M170 187l3-21M190 163l3-2M197 198l3-40"/><path class="gc8" d="M85 143l3 35M89 171l2 8M116 164l3 11M123 192l2-16M126 179l3-5M129 176l3 0M146 161l3 12M150 166l2 2M177 191l2-7M194 209l2-29"/><path class="gc9" d="M113 200l2-1M163 170l3 18M174 198l2-10"/></g>
<g transform="matrix(0.3524 -0.0980 0 -0.2744 97.19 297.54)"><path d="M-3 141l4 0 3-8 4-101 3 18 3 5 4-6 3 4 4-7 3 0 3-15 4-3 3 15 3 6 4 4 3-14 4 3 3-5 3-16 4-4 3 12 4 4 3-5 3 11 4 13 3 109 3 20 4 0 3-18 4-36 3 13 3-16 4 14 3 18 4 46 3-25 3-24 4 26 3-3 3 3 4-98 3-7 4 77 3 9 3 15 4-4 3-8 4-81 3 67 3 41 4-35 3 13 4 22 3-4 3-101 4-2 3-13 3 94 4 18 3-22 4-29 3 6 3 3 4-40 2 3-3 36-3-5-4-2-3 19-4 21-3-28-3-80-4 13-3 3-4 100-3-13-3-10-4-10-3 38-3-39-4-57-3 73-4 7-3 18-3-14-4 7-3-51-4-44-3 66-3 12-4-18-3-14-3 33-4-15-3-27-4 30-3-2-3-27-4-20-3 47-4 7-3 12-3 8-4-129-3-23-4-10-3 16-3-5-4 7-3 9-3 3-4-4-3 7-4 7-3-18-3-16-4-3-3 9-4 11-3-3-3 0-4 7-3-1-3-4-4-6-3 107-4 6-3 3Z"/><path class="gc0" d="M8 32l2-1M31 31l3-4M35 28l2-10M38 43l3-22M62 17l2 16M65 29l3-3M69 33l2-2M72 28l2-13M75 39l3-14"/><path class="gc1" d="M11 50l3-13M14 55l3-14M18 49l2-7M21 53l3-18M25 46l2-11M28 46l2-8M41 49l3-12M48 39l3 9M52 42l2-1M55 37l3 8M58 21l3 21M79 52l2-4"/><path class="gc2" d="M45 53l2 2M187 70l3-6"/><path class="gc3" d="M133 81l2 4M157 82l2 7M180 85l3-5M184 83l2-6"/><path class="gc4" d="M96 127l2-24M211 100l2 3"/><path class="gc5" d="M99 140l3-17M109 156l3-34M136 74l3 55"/><path class="gc6" d="M-3 141l3 6M1 141l2 3M4 133l3 5M119 153l3-22M123 179l2-34M160 149l3-3M167 155l2-8M190 164l3-20M201 131l2 1M204 137l3-3M207 140l3-1"/><path class="gc7" d="M89 181l2-24M92 163l3-13M102 124l3 26M106 138l2 14M113 202l2-53M116 177l3-13M126 176l3-13M129 179l3-28M153 163l3-1M170 168l3-11M174 190l2-23M197 160l3-9"/><path class="gc8" d="M82 161l3 16M85 181l3-12M140 151l2 29M143 160l3 13M146 175l3 12M150 171l2-2M163 190l3-5M177 186l2-6M194 182l2-10"/></g>
<g transform="matrix(0.3524 -0.0980 0 -0.2744 98.10 297.97)"><path d="M-3 149l4-3 3-6 4-106 3 5 3 5 4 0 3-7 4 1 3 3 3-11 4-9 3 2 3 16 4 19 3-7 4-8 3 5 3-3 4-9 3-8 4 5 3-16 3 11 4 22 3 130 3-8 4-13 3-7 4-46 3 19 3 27 4 2 3-30 4 28 3 14 3-32 4 13 3 19 3-13 4-66 3 45 4 50 3-7 3 14 4-18 3-7 4-73 3 57 3 40 4-39 3 10 4 11 3 12 3-99 4-4 3-13 3 81 4 27 3-21 4-18 3 1 3 5 4-36 2 16-3 22-3-1-4 16-3 3-4-10-3-12-3-67-4-4-3 16-4 92-3-21-3-9-4-7-3 22-3-82-4-3-3 83-4-14-3 34-3-22-4 21-3 3-4-17-3 11-3-14-4-21-3 16-3-12-4-75-3 1-4 102-3-21-3-33-4 10-3 19-4 6-3 12-3 9-4-132-3-10-4-9-3 16-3-20-4-4-3 15-3 17-4 12-3-5-4-6-3-2-3-18-4 5-3 5-4 3-3 2-3-11-4 7-3-13-3 13-4 2-3 105-4-6-3-3Z"/><path class="gc0" d="M14 44l3-18M21 37l3-5M35 21l2 12M38 23l3 5M58 45l3-15M62 36l2-21M65 28l3-9M72 17l2 6M75 28l3 4"/><path class="gc1" d="M8 34l2 7M11 39l3 0M18 44l2-5M25 38l2 5M28 41l2 0M31 30l3 8M41 39l3 7M45 58l2-10M55 48l3-1M69 33l2 6M79 50l2-8"/><path class="gc2" d="M48 51l3 3M52 43l2 16M109 124l3-54M113 152l2-83M184 79l2-11M187 66l3 6"/><path class="gc3" d="M157 91l2-15M160 148l3-69M180 83l3 1"/><path class="gc5" d="M96 106l2 22M99 125l3-7M211 105l2 16"/><path class="gc6" d="M-3 149l3-12M1 146l2-6M4 140l3 6M92 152l3-5M116 166l3-22M123 147l2-7M150 171l2-26M167 149l2-10M170 159l3-13M190 147l3-8M204 136l3 6M207 141l3 2"/><path class="gc7" d="M85 172l3-7M89 159l2-6M102 152l3-1M119 134l3 22M126 166l3-5M133 87l2 77M143 175l3-18M153 164l3-5M163 188l3-27M174 170l2-15M194 174l2-23M197 153l3 8M201 135l2 23"/><path class="gc8" d="M82 180l3-6M106 154l2 18M129 153l3 22M136 132l3 49M140 182l2-4M146 189l3-10M177 182l2-6"/></g>
<g transform="matrix(0.3524 -0.0980 0 -0.2744 99.01 298.39)"><path d="M-3 139l4 4 3 6 4-106 3-2 3-12 4 12 3-7 4 12 3-3 3-2 4-6 3-5 3 19 4 2 3 6 4 4 3-11 3-18 4-15 3 5 4 20 3-17 3 10 4 9 3 132 3-9 4-11 3-6 4-19 3-10 3 33 4 21 3-103 4-1 3 75 3 13 4-17 3 21 3 15 4-11 3 16 4-2 3-22 3 22 4-34 3 15 4-84 3 4 3 81 4-21 3 7 4 8 3 22 3-93 4-16 3 4 3 67 4 12 3 11 4-4 3-16 3 2 4-23 2 28-3 15-3-43-4 7-3 20-4 0-3 5-3-74-4-10-3 13-4 81-3 1-3-10-4 8-3 25-3-109-4-2-3 86-4 0-3 20-3-15-4-17-3 23-4 10-3-9-3-30-4-3-3 39-3-10-4-91-3 0-4 88-3-10-3-19-4 24-3 8-4-8-3 9-3-2-4-123-3 9-4-7-3 8-3-20-4-17-3 25-3-3-4-8-3 14-4-8-3-7-3-1-4 3-3-4-4 13-3-2-3-8-4 9-3-5-3 4-4-1-3 99-4-2-3 14Z"/><path class="gc0" d="M31 41l3-9M38 30l3 3M41 49l3-15M62 17l2 4"/><path class="gc1" d="M8 43l2-1M11 41l3 2M14 29l3 10M18 41l2 3M21 34l3 1M25 46l2-3M28 43l2 2M35 35l2 1M45 51l2-10M48 57l3-8M52 61l2-26M55 50l3-7M58 32l3 14M65 22l3 16M72 25l2 25M79 44l2 4"/><path class="gc2" d="M69 42l2 16M75 35l3 22M184 70l2 1"/><path class="gc3" d="M109 72l3 9M113 71l2 10M157 78l2 0M160 82l3-2M180 86l3-2M187 74l3 7"/><path class="gc5" d="M201 160l2-30M204 144l3-21"/><path class="gc6" d="M1 143l2-4M4 149l3-8M99 121l3 19M123 142l2 1M126 163l3-17"/><path class="gc7" d="M-3 139l3 14M89 156l2 8M96 131l2 33M102 154l3 5M140 181l2-29M150 147l2 17M153 162l3 2M167 142l2 22M170 149l3 7M174 157l2 9M177 179l2-14M190 141l3 14M194 153l2-3M197 164l3-14M207 146l3 20M211 123l2 28"/><path class="gc8" d="M82 176l3-5M85 167l3 6M92 150l3 22M106 175l2-6M116 146l3 26M119 159l3 23M129 178l3-2M133 167l2 18M136 183l3-8M143 159l3 10M146 181l3 3"/><path class="gc9" d="M163 163l3 26"/></g>
<g transform="matrix(0.3524 -0.0980 0 -0.2744 99.92 298.82)"><path d="M-3 155l4-13 3 2 4-99 3 0 3-3 4 5 3-10 4 9 3 2 3-13 4 4 3-4 3 2 4 6 3 8 4-14 3 9 3 3 4-25 3 17 4 20 3-9 3 8 4-10 3 123 3 2 4-8 3 8 4-8 3-24 3 19 4 10 3-89 4 1 3 90 3 10 4-38 3 2 3 31 4 8 3-10 4-22 3 16 3 16 4-21 3 0 4-85 3 1 3 109 4-25 3-7 4 9 3-1 3-81 4-13 3 10 3 74 4-5 3 0 4-20 3-6 3 43 4-16 2 11-3-15-3-13-4 22-3 27-4-11-3-15-3-75-4-4-3 0-4 80-3-26-3 29-4 2-3 1-3-85-4-3-3 75-4 21-3 12-3-9-4-26-3 2-4 33-3-1-3-29-4-7-3 2-3-5-4-78-3-8-4 55-3 32-3 29-4 6-3-11-4 24-3 8-3-33-4-129-3-3-4 14-3 1-3-4-4-10-3 1-3 5-4-11-3 11-4-5-3-10-3 4-4-5-3-5-4 19-3-7-3-6-4 4-3 19-3-10-4 0-3 104-4 1-3 14Z"/><path class="gc0" d="M18 47l2-13M21 37l3-7M31 35l3-11M35 39l2-10M38 35l3-1M41 37l3-7"/><path class="gc1" d="M8 45l2-2M11 45l3-2M14 42l3 11M25 46l2-10M28 48l2-5M45 43l2-3M48 51l3-6M52 37l2-3M55 46l3-1M58 49l3-9M62 24l2 15M65 41l3 8M72 52l2 0M75 60l3-22M79 50l2-9"/><path class="gc2" d="M69 61l2-8M109 83l3-23M113 84l2-16"/><path class="gc3" d="M157 81l2-3M160 82l3-1M180 86l3-6M184 73l2 7M187 83l3 1"/><path class="gc5" d="M106 172l2-57"/><path class="gc6" d="M1 142l2 6M4 144l3 3M102 162l3-15M116 174l3-28M123 146l2 3M174 168l2-34M204 126l3 10"/><path class="gc7" d="M-3 155l3 7M119 184l3-33M126 148l3 8M136 177l3-24M140 155l2-4M153 166l3-13M163 191l3-25M167 166l2-1M170 159l3 4M177 167l2-7M190 157l3 2M201 132l2 26M207 169l3-20M211 153l2 11"/><path class="gc8" d="M82 173l3-3M92 175l3-4M96 167l2 15M99 143l3 33M129 179l3 6M133 187l2-1M143 171l3 6M146 187l3-1M150 166l2 8M194 152l2 22M197 152l3 33"/><path class="gc9" d="M85 175l3 28M89 167l2 28"/></g>
<g transform="matrix(0.3524 -0.0980 0 -0.2744 100.83 299.24)"><path d="M-3 164l4-13 3-1 4-105 3 0 3 11 4-20 3-4 4 6 3 8 3-19 4 5 3 5 3-4 4 9 3 6 4-11 3 10 3-5 4-1 3 11 4 4 3-2 3-14 4 3 3 129 3 34 4-8 3-24 4 11 3-7 3-28 4-33 3-54 4 8 3 78 3 5 4-3 3 8 3 28 4 1 3-32 4-3 3 26 3 9 4-11 3-22 4-74 3 2 3 86 4-2 3-1 4-29 3 26 3-80 4-1 3 5 3 74 4 16 3 11 4-28 3-22 3 14 4 14 2-9-3 10-3 3-4-11-3 17-4-10-3-16-3-74-4 0-3-1-4 92-3-33-3 16-4-5-3-16-3-64-4 2-3 67-4 8-3 29-3-5-4 24-3-9-4 12-3 7-3-28-4-18-3-16-3 12-4-84-3-15-4 45-3 30-3 44-4 12-3-26-4 14-3 6-3 10-4-144-3-6-4 11-3 13-3-4-4-14-3-6-3 0-4 2-3-10-4-11-3 9-3 2-4-13-3 0-4 20-3-16-3 6-4 19-3 20-3-19-4-18-3 105-4 17-3-4Z"/><path class="gc0" d="M8 45l2-18M21 32l3-7M25 38l2-19M31 27l3-12M35 32l2-17M38 37l3-9M41 33l3-7M45 42l2-25M48 48l3-20"/><path class="gc1" d="M11 45l3 0M18 36l2 8M28 46l2-11M52 37l2 1M55 47l3-11M58 42l3-6M62 41l2 1M72 54l2-7M75 40l3-4M79 43l2-1M109 63l3-12"/><path class="gc2" d="M14 56l3 8M65 52l3 4M69 56l2 4M113 71l2-5M157 81l2-14M160 83l3-18"/><path class="gc3" d="M180 83l3-8M184 82l2-6M187 87l3-11"/><path class="gc4" d="M106 117l2-21"/><path class="gc5" d="M102 150l3-24M163 169l3-40"/><path class="gc6" d="M-3 164l3-19M4 150l3-18M119 154l3-16M150 177l2-35M153 155l3-21M167 167l2-22M174 137l2-3"/><path class="gc7" d="M1 151l2-2M92 174l3-18M116 149l3 1M123 151l2 3M143 179l3-13M170 166l3-16M177 163l2 4M190 161l3-11M194 177l2-11M201 160l2-1M207 152l3 15M211 166l2-9"/><path class="gc8" d="M82 172l3 14M85 206l3-30M89 198l2-28M96 185l2-3M99 178l3-8M126 159l3 13M136 156l3 25M146 188l3-17M197 188l3-12M204 138l3 32"/><path class="gc9" d="M129 187l3 13M133 188l2 5M140 153l2 37"/></g>
<g transform="matrix(0.3524 -0.0980 0 -0.2744 101.74 299.67)"><path d="M-3 148l4 4 3-18 4-105 3 19 3 18 4-20 3-18 4-6 3 15 3-20 4 0 3 13 3-2 4-9 3 11 4 10 3-1 3-1 4 6 3 14 4 4 3-12 3-12 4 7 3 144 3-10 4-7 3-14 4 27 3-12 3-44 4-31 3-45 4 15 3 85 3-12 4 15 3 18 3 28 4-7 3-12 4 10 3-24 3 4 4-29 3-8 4-66 3-3 3 64 4 16 3 5 4-16 3 33 3-92 4 1 3 1 3 73 4 16 3 11 4-17 3 11 3-3 4-11 2 0-3 23-3 16-4-28-3-26-4 9-3 0-3-75-4-11-3 2-4 99-3-21-3 7-4 7-3-16-3-73-4 2-3 80-4-5-3 3-3-25-4 32-3 18-4 16-3 1-3-27-4 11-3-14-3 10-4-98-3-19-4 52-3-1-3 25-4 8-3 20-4 18-3-32-3-3-4-113-3 0-4-10-3 20-3-3-4-14-3 3-3 11-4 14-3-9-4-18-3 0-3 5-4 2-3-6-4 22-3-15-3-5-4 9-3 23-3-4-4-24-3 106-4 12-3-5Z"/><path class="gc0" d="M8 29l2 3M21 28l3 0M25 22l2 11M31 17l3 9M35 17l2 15M38 30l3 0M41 28l3-3M45 19l2 6M58 38l3-11M62 44l2-20M72 50l2-29M75 38l3-7M79 45l2-14"/><path class="gc1" d="M18 46l2-9M28 37l2 11M48 30l3 13M52 40l2 12M55 39l3-1M65 58l3-20M69 62l2-21"/><path class="gc2" d="M11 48l3 8M14 66l3-6M109 53l3 4M160 67l3 5M180 77l3-8M184 78l2-11"/><path class="gc3" d="M113 68l2 8M157 70l2 4M187 79l3-1"/><path class="gc4" d="M102 129l3-21M106 98l2 11"/><path class="gc5" d="M143 169l3-42"/><path class="gc6" d="M-3 148l3-3M4 134l3 4M82 189l3-45M85 179l3-32M96 185l2-44M99 173l3-40M150 144l2 5M163 131l3 14M174 136l2 11M197 179l3-35"/><path class="gc7" d="M1 152l2-2M92 158l3 3M119 141l3 23M126 174l3-7M140 193l2-34M146 173l3-21M153 136l3 18M167 147l2 14M170 152l3 2M190 152l3 1M194 168l2-15M211 159l2 0"/><path class="gc8" d="M89 172l2 7M116 153l3 21M123 156l2 22M136 183l3-6M177 169l2-1M201 162l2 8M207 170l3 12"/><path class="gc9" d="M129 202l3-8M133 195l2-2M204 173l3 25"/></g>
<g transform="matrix(0.3524 -0.0980 0 -0.2744 102.65 300.09)"><path d="M-3 147l4 5 3-11 4-107 3 25 3 4 4-23 3-9 4 5 3 14 3-22 4 6 3-2 3-4 4-1 3 19 4 8 3-13 3-11 4-4 3 15 4 3 3-20 3 10 4 0 3 112 3 4 4 32 3-19 4-20 3-7 3-26 4 1 3-51 4 19 3 97 3-9 4 14 3-12 3 28 4-2 3-16 4-17 3-33 3 25 4-3 3 6 4-81 3-1 3 73 4 16 3-7 4-8 3 22 3-99 4-2 3 11 3 75 4 0 3-9 4 26 3 28 3-17 4-23 2 14-3-3-3-7-4 1-3-7-4-10-3 2-3-75-4-1-3 2-4 102-3-15-3-9-4 3-3-11-3-76-4-4-3 91-4 4-3 6-3 5-4-3-3-2-4 15-3-2-3-6-4-3-3 15-3-25-4-77-3 5-4 70-3-24-3-2-4 13-3 30-4-1-3-8-3 2-4-136-3-10-4-9-3 12-3 17-4-1-3-17-3-11-4 16-3 17-4-4-3-19-3 4-4-4-3 7-4 22-3-8-3-10-4 4-3 19-3-13-4-11-3 112-4 7-3-10Z"/><path class="gc0" d="M31 28l3 4M35 34l2-9M38 32l3-3M41 28l3-3M52 54l2-23M55 41l3-26M58 30l3-4M69 44l2-17M72 24l2-9M75 34l3-10M79 34l2 0"/><path class="gc1" d="M8 34l2 1M11 59l3-13M18 40l2 0M21 31l3 5M25 36l2 10M45 27l2 17M48 46l3 2M62 26l2 17M65 41l3 3"/><path class="gc2" d="M14 63l3-4M28 50l2 4M157 76l2-9M160 75l3-4"/><path class="gc3" d="M109 60l3 30M113 79l2 6M180 72l3 5M184 70l2 5M187 81l3-5"/><path class="gc6" d="M-3 147l3-3M4 141l3 6M96 143l2 4M99 136l3-2M102 110l3 26M163 148l3-1M194 156l2-7"/><path class="gc7" d="M1 152l2 2M85 150l3 18M106 111l2 49M116 176l3-14M136 179l3-11M146 154l3 14M150 151l2 11M153 157l3 1M167 164l2-6M170 157l3-2M174 149l2 15M190 156l3-5M197 147l3 12M201 173l2-7M204 201l3-36"/><path class="gc8" d="M82 146l3 24M89 182l2-6M92 163l3 14M119 167l3 20M123 181l2-9M126 169l3 6M129 197l3-16M133 195l2-12M140 162l2 8M143 129l3 44M177 171l2 8M207 184l3-12M211 161l2 14"/></g>
<g transform="matrix(0.3524 -0.0980 0 -0.2744 103.56 300.52)"><path d="M-3 146l4 10 3-7 4-112 3 12 3 13 4-20 3-4 4 11 3 8 3-22 4-8 3 5 3-4 4 18 3 4 4-17 3-16 3 11 4 18 3 1 4-17 3-13 3 10 4 10 3 135 3-2 4 9 3 0 4-29 3-13 3 1 4 24 3-69 4-6 3 77 3 25 4-15 3 4 3 5 4 2 3-14 4 1 3 4 3-6 4-6 3-4 4-90 3 4 3 75 4 12 3-3 4 8 3 16 3-102 4-2 3 0 3 75 4-2 3 11 4 6 3 0 3 7 4 3 2 3-3 1-3-14-4-7-3-1-4-16-3 22-3-84-4-3-3 13-4 101-3-5-3-5-4 7-3-20-3-96-4 6-3 72-4-2-3 24-3 18-4 1-3-7-4-21-3 19-3-10-4-20-3-7-3-12-4-59-3 9-4 69-3 4-3 9-4-5-3-4-4-4-3 19-3 0-4-138-3-5-4 4-3-5-3 15-4-4-3-11-3-14-4 0-3 21-4-14-3-3-3 22-4-10-3 0-4 23-3-15-3-2-4 7-3 7-3-14-4 0-3 105-4-1-3 16Z"/><path class="gc0" d="M31 35l3-4M35 27l2 4M41 28l3-9M45 46l2-24M52 33l2-18M55 17l3-2M58 28l3 1M69 30l2-1M75 27l3 3"/><path class="gc1" d="M8 37l2 0M11 49l3-12M14 62l3-11M18 42l2 2M21 38l3-1M25 49l2-10M38 32l3 9M48 50l3-14M62 46l2-6M65 47l3-3M72 17l2 17M79 37l2-2"/><path class="gc2" d="M28 57l2-3"/><path class="gc3" d="M109 93l3-8M113 87l2-11M157 70l2 10M160 74l3 0M184 78l2 1M187 78l3 4"/><path class="gc4" d="M180 80l3 12"/><path class="gc6" d="M1 156l2-15M4 149l3-7M116 164l3-29M119 189l3-42M194 151l2-7"/><path class="gc7" d="M-3 146l3 11M89 179l2-25M92 179l3-21M96 150l2 12M99 137l3 30M102 138l3 20M106 162l2-8M123 174l2-20M133 185l2-20M150 164l2-14M153 160l3-8M190 153l3 13M197 162l3-2M201 168l2-7M204 168l3 0"/><path class="gc8" d="M82 172l3 1M85 170l3 3M126 178l3-4M129 183l3 1M136 171l3 15M146 170l3 4M163 149l3 21M170 158l3 25M207 175l3 7M211 178l2 3"/><path class="gc9" d="M140 172l2 21M143 176l3 16M167 161l2 29M174 166l2 22M177 182l2 11"/></g>
<g transform="matrix(0.3524 -0.0980 0 -0.2744 104.48 300.94)"><path d="M-3 159l4-15 3 1 4-105 3 0 3 13 4-7 3-7 4 3 3 15 3-23 4-1 3 10 3-22 4 3 3 14 4-21 3 0 3 15 4 11 3 3 4-14 3 5 3-5 4 6 3 138 3-1 4-19 3 5 4 3 3 5 3-9 4-4 3-68 4-10 3 59 3 12 4 7 3 21 3 10 4-19 3 20 4 7 3 0 3-19 4-24 3 3 4-73 3-6 3 97 4 20 3-7 4 5 3 4 3-100 4-14 3 3 3 85 4-23 3 16 4 1 3 7 3 14 4 0 2 0-3 4-3-7-4-3-3-23-4 0-3 41-3-101-4-23-3 3-4 95-3 23-3 21-4-12-3-31-3-86-4-2-3 83-4-18-3 5-3 23-4 21-3-14-4-21-3 2-3-28-4 12-3 6-3-7-4-86-3-4-4 71-3 30-3 18-4-4-3-11-4-12-3-20-3 5-4-89-3-7-4 7-3-17-3 5-4 12-3-3-3 5-4-19-3 12-4-21-3-1-3 22-4-6-3 12-4 0-3-8-3 9-4 14-3-17-3-19-4 13-3 96-4 1-3 4Z"/><path class="gc0" d="M11 40l3-15M35 33l2 1M41 21l3-3M45 24l2-5M52 17l2 11M65 46l3-13M69 32l2-4"/><path class="gc1" d="M8 40l2-2M14 53l3-9M21 39l3 8M25 42l2-4M28 57l2-11M31 34l3 12M38 43l3-3M48 38l3 2M55 17l3 30M58 32l3 10M62 43l2 2M72 37l2 8M75 32l3 6M79 38l2 7"/><path class="gc2" d="M18 46l2 15M109 88l3-31M113 78l2-17M184 81l2-9"/><path class="gc3" d="M157 82l2 1M160 76l3 9M180 95l3-20"/><path class="gc4" d="M187 84l3 11"/><path class="gc5" d="M85 175l3-46M106 156l2-28"/><path class="gc6" d="M-3 159l3-20M1 144l2-9M4 145l3-11M82 176l3-42M89 156l2-7M116 137l3 10M123 156l2-8M126 177l3-41M150 152l2-4"/><path class="gc7" d="M92 161l3 0M102 160l3-2M119 149l3 5M129 187l3-23M133 168l2-6M146 176l3-23M153 155l3 11M194 146l2 9M197 162l3-7"/><path class="gc8" d="M96 164l2 8M99 169l3 7M136 188l3-5M143 195l3-19M163 173l3-2M177 195l2-25M201 163l2 15M204 170l3 11M211 184l2 0"/><path class="gc9" d="M140 195l2 2M167 193l2 9M174 191l2 2M190 169l3 27M207 184l3 4"/><path class="gc10" d="M170 186l3 28"/></g>
<g transform="matrix(0.3524 -0.0980 0 -0.2744 105.39 301.37)"><path d="M-3 142l4-5 3 0 4-96 3-14 3 20 4 17 3-14 4-10 3 9 3-1 4-12 3 6 3-22 4 2 3 20 4-12 3 20 3-6 4 3 3-12 4-4 3 16 3-6 4 6 3 89 3-4 4 19 3 12 4 12 3 3 3-18 4-30 3-71 4 4 3 87 3 6 4-6 3-12 3 29 4-2 3 20 4 14 3-21 3-23 4-4 3 17 4-83 3 2 3 87 4 31 3 12 4-21 3-24 3-95 4-2 3 22 3 101 4-40 3 0 4 23 3 3 3 6 4-3 2 15-3-28-3 7-4 4-3-7-4 15-3-11-3-108-4 0-3-3-4 99-3 1-3 0-4-22-3 3-3-60-4-13-3 49-4-2-3 13-3 8-4 29-3 5-4-22-3-11-3 10-4-23-3 28-3 1-4-105-3 0-4 90-3-4-3 30-4 23-3-28-4-9-3 8-3-21-4-102-3-13-4 12-3-8-3-11-4 33-3 1-3 12-4-28-3-7-4-9-3 1-3-7-4 4-3 9-4-2-3 6-3-6-4 4-3-6-3-9-4 14-3 112-4 2-3-12Z"/><path class="gc0" d="M11 27l3-5M14 47l3-16M21 50l3-17M28 49l2-16M35 36l2-10M38 42l3-20M41 20l3 9M45 22l2 6M65 35l3-9M75 41l3-8"/><path class="gc1" d="M8 41l2-5M18 64l2-27M25 40l2-1M31 48l3-13M48 42l3-5M52 30l2 14M69 31l2 6M72 47l2-2M79 47l2-1"/><path class="gc2" d="M55 50l3 22M58 44l3 16M62 47l2 12M109 59l3 0M113 63l2-4M180 77l3-6"/><path class="gc3" d="M157 85l2-6M184 75l2-1M187 97l3-23"/><path class="gc4" d="M160 87l3 5"/><path class="gc5" d="M150 151l2-25M153 168l3-40"/><path class="gc6" d="M-3 142l3-4M4 137l3 11M82 136l3 12M102 160l3-15M123 150l2-15M129 167l3-19M143 178l3-31M146 155l3-16M167 205l2-56"/><path class="gc7" d="M1 137l2 13M89 151l2 10M106 130l2 19M116 150l3 14M119 156l3 7M126 138l3 20M133 165l2-6M163 174l3-22"/><path class="gc8" d="M85 132l3 37M92 163l3 7M99 178l3-3M136 185l3-4M140 199l2-23M170 217l3-46M174 196l2-25M177 172l2-2M190 198l3-16M197 158l3 20M201 181l2 4M204 184l3-3M207 190l3-16"/><path class="gc9" d="M96 175l2 23M194 158l2 35M211 187l2 15"/></g>
<g transform="matrix(0.3524 -0.0980 0 -0.2744 106.30 301.79)"><path d="M-3 140l4 13 3-2 4-113 3-13 3 8 4 6 3-4 4 7 3-7 3 3 4-10 3-3 3 7 4-1 3 9 4 6 3 28 3-11 4-2 3-32 4 11 3 7 3-12 4 13 3 102 3 21 4-7 3 8 4 28 3-22 3-31 4 5 3-91 4 1 3 105 3-2 4-27 3 22 3-9 4 10 3 23 4-6 3-28 3-9 4-12 3 1 4-48 3 13 3 60 4-4 3 22 4 1 3-1 3-99 4 3 3 0 3 108 4 11 3-16 4 8 3-5 3-6 4 27 2 7-3-37-3-1-4 23-3-31-4-24-3 18-3-97-4 5-3 9-4 94-3-8-3 28-4-9-3-15-3-90-4-7-3 53-4-5-3 24-3 16-4-2-3-2-4 8-3 18-3-4-4-40-3 28-3 22-4-113-3-2-4 100-3-9-3 27-4-18-3-6-4-3-3-8-3 6-4-102-3-15-4 1-3 8-3-10-4 13-3-2-3 7-4-17-3-15-4 11-3-3-3-12-4 11-3 9-4-14-3-5-3 1-4 1-3 7-3-3-4 7-3 115-4 5-3-8Z"/><path class="gc0" d="M11 25l3 5M14 33l3 0M18 39l2-13M21 35l3-10M25 42l2-18M28 35l2-6M38 25l3-2M48 40l3-13"/><path class="gc1" d="M8 38l2-1M31 38l3 5M35 28l2 6M41 32l3 3M45 31l2 7M52 46l2-4M58 63l3-11M65 29l3 12M69 40l2 11M72 47l2-4M75 35l3 7"/><path class="gc2" d="M55 74l3-15M62 61l2-7M79 48l2 9M109 61l3 9M113 62l2 10M157 82l2-13M184 77l2-10M187 77l3-15"/><path class="gc3" d="M160 95l3-19M180 74l3 2"/><path class="gc5" d="M150 129l2-12M153 130l3-8"/><path class="gc6" d="M123 138l2-3M146 141l3 0M194 196l2-55"/><path class="gc7" d="M-3 140l3 9M1 153l2 4M4 151l3 1M82 150l3 9M85 171l3-18M89 164l2-3M92 172l3-8M102 147l3 14M119 165l3-2M133 161l2 0M136 184l3-31M140 178l2-23M143 150l3 7M163 155l3 11M174 174l2-12M190 185l3-26M197 180l3-15"/><path class="gc8" d="M96 200l2-30M106 152l2 18M116 167l3 18M126 160l3 15M129 151l3 28M167 151l2 30M177 173l2-3M204 183l3-10M207 177l3-3"/><path class="gc9" d="M99 178l3 10M170 173l3 17M201 188l2 8"/><path class="gc10" d="M211 204l2 7"/></g>
<g transform="matrix(0.3524 -0.0980 0 -0.2744 107.21 302.22)"><path d="M-3 152l4 7 3-5 4-114 3-8 3 4 4-8 3 0 4-1 3 5 3 14 4-9 3-12 3 13 4 2 3-11 4 16 3 16 3-6 4 2 3-13 4 9 3-7 3-2 4 15 3 102 3-6 4 8 3 3 4 7 3 18 3-27 4 9 3-101 4 3 3 112 3-22 4-28 3 41 3 4 4-19 3-7 4 1 3 2 3-16 4-24 3 6 4-54 3 8 3 89 4 16 3 8 4-27 3 7 3-94 4-8 3-5 3 96 4-18 3 25 4 30 3-22 3 0 4 37 2-23-3 15-3-36-4 0-3 4-4-32-3 19-3-14-4-4-3 13-4 24-3 12-3-1-4 1-3-22-3-102-4-6-3 57-4 14-3 16-3 8-4-6-3-2-4 7-3 10-3 27-4-1-3 14-3-9-4-117-3 9-4 112-3 10-3-37-4-32-3 20-4 17-3-37-3 40-4-119-3-16-4-8-3 3-3 2-4 0-3-4-3-5-4 8-3-9-4 26-3 5-3-24-4-9-3 10-4-5-3-7-3-2-4 14-3 1-3-11-4 1-3 114-4 9-3 10Z"/><path class="gc0" d="M8 40l2-8M11 32l3-1M21 28l3-1M25 27l2 2M35 37l2-6M48 29l3 4"/><path class="gc1" d="M14 36l3 6M18 28l2 13M28 32l2 4M31 46l3-5M38 25l3 15M52 45l2-3M55 61l3-27M58 55l3-16M62 57l2-14M65 44l3-1M69 53l2-12M72 46l2-8M75 44l3 2"/><path class="gc2" d="M41 38l3 26M45 40l2 19M79 59l2 3M157 71l2-10M160 79l3-12"/><path class="gc3" d="M109 72l3 16M113 75l2 4"/><path class="gc5" d="M153 125l3-7"/><path class="gc6" d="M4 154l3-8M85 155l3-14M96 173l2-32M136 156l3-8M146 143l3 5M150 119l2 13M184 70l2 72M187 65l3 81M194 143l2-2"/><path class="gc7" d="M-3 152l3 13M1 159l2-4M92 166l3-5M129 182l3-17M133 163l2-8M140 157l2-7M143 159l3-3M180 78l3 77M190 161l3-1"/><path class="gc8" d="M82 161l3 20M89 163l2 15M99 191l3-18M163 168l3 1M177 172l2 7M197 168l3 5M201 198l2-29M204 176l3-7"/><path class="gc9" d="M106 173l2 27M116 187l3 9M119 165l3 40M123 137l2 54M126 178l3 14M167 184l2 7M170 192l3-2M174 165l2 26M207 176l3 29M211 213l2-23"/><path class="gc10" d="M102 164l3 46"/></g>
<g transform="matrix(0.3524 -0.0980 0 -0.2744 108.12 302.64)"><path d="M-3 167l4-9 3-9 4-115 3-1 3 12 4-2 3-14 4 3 3 6 3 6 4-10 3 9 3 23 4-4 3-27 4 10 3-8 3 5 4 4 3-1 4-1 3-4 3 9 4 15 3 119 3-40 4 37 3-16 4-21 3 33 3 36 4-9 3-112 4-10 3 117 3 10 4-15 3 2 3-27 4-11 3-6 4 2 3 5 3-7 4-17 3-14 4-56 3 5 3 102 4 23 3-1 4 1 3-13 3-24 4-13 3 4 3 14 4-18 3 32 4-4 3 0 3 36 4-16 2-37-3 28-3-16-4-29-3 29-4-7-3 22-3 7-4-23-3-17-4 25-3 41-3-37-4-19-3-18-3-72-4-4-3 73-4 12-3-3-3-11-4-8-3 29-4 18-3-21-3 24-4-21-3 18-3-19-4-76-3 7-4 85-3 20-3-23-4 1-3 15-4-3-3-2-3 3-4-140-3-6-4-2-3 6-3 13-4-13-3-7-3-12-4 7-3 5-4 15-3-5-3 9-4-31-3 10-4 5-3-5-3-1-4 21-3-6-3-22-4 14-3 111-4 3-3 5Z"/><path class="gc0" d="M11 33l3-9M21 29l3 2M25 32l2 0M31 44l3-12M35 34l2-12M48 35l3-1M52 45l2-16M55 37l3-15M58 42l3-8"/><path class="gc1" d="M8 34l2 4M14 45l3 1M18 43l2 9M28 38l2-1M38 43l3 10M41 66l3-22M45 62l2-13M62 46l2-5M69 44l2-3M72 40l2-5M75 49l3-12M79 64l2-21"/><path class="gc2" d="M65 45l3 9M157 64l2 1M160 69l3 0"/><path class="gc3" d="M109 91l3-4M113 81l2-1"/><path class="gc5" d="M140 153l2-25"/><path class="gc6" d="M4 149l3 0M143 158l3-22M146 151l3-4M153 120l3 18M163 171l3-30M180 157l3-8M201 172l2-34"/><path class="gc7" d="M-3 167l3-10M1 158l2-6M116 198l3-42M123 193l2-36M129 168l3-14M136 151l3 6M150 134l2 16M167 194l2-35M184 144l2 22M194 144l2 16M197 176l3-9M204 172l3-5M211 192l2-37"/><path class="gc8" d="M82 183l3 0M85 143l3 37M89 180l2 2M92 164l3 21M96 143l2 27M99 176l3-7M106 203l2-31M119 208l3-33M126 195l3-17M133 157l2 18M170 193l3-15M177 181l2-7M190 162l3 20M207 208l3-25"/><path class="gc9" d="M102 212l3-20M187 148l3 41"/><path class="gc10" d="M174 194l2 21"/></g>
<g transform="matrix(0.3524 -0.0980 0 -0.2744 109.03 303.07)"><path d="M-3 159l4-4 3-3 4-112 3-13 3 22 4 5 3-20 4 0 3 5 3-5 4-10 3 31 3-9 4 5 3-15 4-4 3-7 3 11 4 7 3 13 4-13 3-5 3 1 4 7 3 139 3-2 4 2 3 3 4-16 3-1 3 24 4-20 3-86 4-6 3 75 3 20 4-18 3 21 3-25 4 22 3-19 4-29 3 9 3 11 4 2 3-11 4-73 3 3 3 73 4 17 3 19 4 38 3-41 3-26 4 17 3 23 3-7 4-21 3 7 4-29 3 29 3 15 4-28 2-22-3 55-3-22-4-107-3 4-4 9-3 86-3 19-4-8-3-20-4 0-3 37-3-20-4-14-3-7-3-72-4-6-3 95-4 30-3-9-3-25-4-16-3 8-4 25-3 2-3 3-4-33-3 6-3-19-4-64-3 13-4 87-3-13-3 20-4 23-3 14-4-30-3-9-3 4-4-138-3-10-4 1-3 3-3 12-4-20-3 7-3-2-4-1-3-1-4-9-3 7-3 21-4-18-3 4-4-7-3 9-3-1-4-9-3 4-3-5-4 19-3 103-4-2-3 10Z"/><path class="gc0" d="M11 27l3 1M14 49l3-16M18 54l2-25M28 39l2-9M35 24l2 9M41 46l3-16M45 51l2-28M48 36l3-4M52 32l2 1M55 25l3 9M62 43l2-14M72 38l2-4M75 39l3-6"/><path class="gc1" d="M8 40l2 7M21 34l3 4M25 34l2 5M31 34l3 3M38 55l3-4M58 36l3 0M65 56l3-7M69 43l2-6M79 46l2-3"/><path class="gc2" d="M113 83l2-11M157 68l2 1M197 170l3-105M201 141l2-80"/><path class="gc3" d="M109 89l3-4M160 71l3 4M194 163l2-89"/><path class="gc6" d="M1 155l2-7M116 158l3-22M123 160l2-11M140 130l2 14M163 144l3 3M211 157l2-22"/><path class="gc7" d="M-3 159l3-1M4 152l3-2M102 195l3-36M119 178l3-23M136 159l3-7M143 139l3 21M153 141l3 23M167 161l2-7M170 180l3-12M177 177l2-26M180 151l3 0M190 184l3-24M204 170l3-2"/><path class="gc8" d="M82 185l3-4M85 183l3-6M89 185l2 1M99 171l3 8M106 175l2-3M126 181l3 1M129 156l3 23M133 178l2-1M146 150l3 35M184 168l2 3M187 191l3-12"/><path class="gc9" d="M96 172l2 30M150 152l2 42M174 218l2-30M207 185l3 5"/><path class="gc10" d="M92 188l3 28"/></g>
<g transform="matrix(0.3524 -0.0980 0 -0.2744 109.94 303.50)"><path d="M-3 161l4-11 3 2 4-102 3-19 3 4 4-4 3 9 4 2 3-10 3 8 4-4 3 18 3-21 4-7 3 9 4 0 3 1 3 3 4-7 3 20 4-12 3-4 3 0 4 9 3 138 3-3 4 8 3 31 4-15 3-23 3-20 4 13 3-86 4-14 3 64 3 19 4-5 3 32 3-2 4-2 3-26 4-8 3 17 3 25 4 9 3-31 4-94 3 6 3 72 4 7 3 13 4 20 3-36 3-1 4 20 3 8 3-18 4-87 3-9 4-3 3 107 3 22 4-56 2 0-3 41-3 4-4-121-3-11-4 4-3 77-3 35-4 20-3-8-4-14-3 21-3 0-4-19-3 10-3-98-4-20-3 94-4 41-3-8-3-44-4 14-3 8-4 26-3 3-3-14-4-21-3 15-3-12-4-96-3 14-4 92-3 0-3 16-4 3-3-11-4-18-3 6-3 2-4-113-3-1-4-5-3-6-3-6-4-3-3 12-3 2-4-3-3 1-4-17-3 15-3 1-4 7-3-9-4-19-3 5-3 15-4-29-3 11-3 8-4 25-3 91-4 3-3-4Z"/><path class="gc0" d="M14 35l3-9M18 31l2-16M25 42l2-13M28 32l2-8M45 26l2 3M62 32l2 2"/><path class="gc1" d="M11 31l3 3M21 40l3 4M31 40l3 3M35 36l2 16M38 54l3-9M41 33l3 11M48 35l3 11M52 35l2 10M55 36l3 12M58 39l3 7M65 52l3-15M69 40l2 3M72 36l2 13M197 67l3-17"/><path class="gc2" d="M8 50l2 9M75 36l3 18M79 45l2 10M113 74l2-10M157 72l2-14M194 76l2-22M201 64l2-3"/><path class="gc3" d="M109 88l3-10M160 78l3 0"/><path class="gc6" d="M143 163l3-22M190 163l3-32M211 137l2 0"/><path class="gc7" d="M-3 161l3-12M1 150l2 3M4 152l3-2M82 183l3-15M85 180l3-14M89 188l2-28M116 138l3 22M123 152l2 5M136 154l3 9M140 146l2 9M153 166l3-14M167 157l2 9M177 154l2 10M187 181l3-15"/><path class="gc8" d="M92 219l3-41M99 181l3 5M102 161l3 9M106 174l2-4M119 157l3 15M126 184l3-6M146 188l3-3M163 150l3 26M170 170l3 15M174 190l2-5M180 153l3 25M184 173l2 13M204 171l3 11M207 193l3-15"/><path class="gc9" d="M96 204l2-15M129 182l3 10M133 180l2 9M150 197l2-4"/></g>
<g transform="matrix(0.3524 -0.0980 0 -0.2744 110.85 303.92)"><path d="M-3 152l4 4 3-3 4-92 3-24 3-8 4-12 3 30 4-15 3-6 3 19 4 9 3-6 3-1 4-15 3 16 4 0 3 3 3-2 4-13 3 3 4 6 3 7 3 4 4 1 3 114 3-3 4-5 3 17 4 12 3-4 3-15 4 0 3-93 4-14 3 97 3 12 4-16 3 21 3 15 4-4 3-25 4-9 3-14 3 45 4 7 3-40 4-94 3 20 3 98 4-11 3 19 4 0 3-21 3 14 4 9 3-20 3-35 4-78 3-4 4 12 3 121 3-4 4-42 2 12-3-2-3 31-4-97-3-11-4-9-3 66-3 14-4 18-3 8-4-13-3 22-3-2-4-10-3 16-3-89-4-15-3 82-4-4-3 26-3-7-4-19-3 0-4 24-3 7-3 11-4-30-3-1-3-16-4-90-3 15-4 110-3-14-3 5-4 5-3-8-4-30-3 16-3 8-4-115-3-5-4-5-3-13-3-2-4 9-3 6-3-5-4 2-3-3-4-4-3 18-3 1-4-11-3-5-4-11-3 0-3 6-4-14-3 12-3 8-4 9-3 89-4 7-3 5Z"/><path class="gc0" d="M14 29l3 0M18 17l2 0M21 47l3-16M25 32l2-7M28 26l2-1M45 32l2 1M65 39l3-11M69 45l2-15"/><path class="gc1" d="M8 61l2-15M11 37l3 0M31 45l3-9M35 54l2-13M38 48l3 4M41 47l3 4M48 48l3-11M52 48l2-8M55 51l3-13M58 49l3-6M62 36l2 1M72 52l2-9M75 56l3-8M79 57l2-4"/><path class="gc2" d="M113 66l2-5M194 56l2 7M197 52l3 20"/><path class="gc3" d="M109 80l3-4M157 61l2 17M201 64l2 19"/><path class="gc4" d="M160 81l3 12"/><path class="gc5" d="M190 134l3-5"/><path class="gc6" d="M-3 152l3-5M1 156l2-14M4 153l3-18M89 163l2-19M187 169l3-26M207 181l3-32"/><path class="gc7" d="M85 168l3-8M116 163l3-12M119 175l3-8M123 159l2 9M136 166l3-10M140 157l2-1M150 195l2-39M153 155l3 5M167 168l2-2M177 166l2-10M184 189l2-28M211 139l2 12"/><path class="gc8" d="M82 171l3-3M92 180l3-6M96 192l2-10M99 188l3-11M102 173l3-1M106 173l2 13M129 195l3-8M133 191l2-11M143 143l3 32M146 188l3-6M163 179l3 3M170 187l3-11M174 187l2-9M180 180l3-11M204 185l3-5"/><path class="gc9" d="M126 180l3 18"/></g>
<g transform="matrix(0.3524 -0.0980 0 -0.2744 111.76 304.35)"><path d="M-3 149l4-4 3-8 4-89 3-8 3-9 4-12 3 15 4-7 3 0 3 12 4 4 3 11 3-1 4-17 3 3 4 4 3-2 3 4 4-6 3-8 4 2 3 12 3 5 4 6 3 115 3-8 4-17 3 30 4 9 3-6 3-5 4 14 3-110 4-14 3 89 3 16 4 2 3 29 3-10 4-8 3-23 4 0 3 18 3 8 4-26 3 3 4-82 3 15 3 89 4-16 3 11 4 1 3-22 3 13 4-8 3-17 3-14 4-66 3 8 4 12 3 97 3-32 4 3 2-3-3 14-3 11-4-83-3-21-4-9-3 82-3-8-4-4-3 20-4 21-3 9-3 20-4 1-3 5-3-111-4-22-3 81-4 20-3 14-3 8-4-13-3-19-4 7-3 14-3-20-4-25-3 0-3 0-4-74-3 10-4 89-3-15-3 8-4 17-3 27-4-29-3 23-3-8-4-154-3-7-4 13-3 2-3-4-4 14-3-9-3-9-4 9-3-14-4 3-3 12-3 17-4-25-3-16-4 2-3 8-3-3-4 5-3 10-3-8-4-6-3 105-4 2-3-1Z"/><path class="gc0" d="M8 48l2-17M21 34l3-4M25 27l2 6M28 27l2-2M31 39l3-16M48 39l3-7M75 50l3-20"/><path class="gc1" d="M11 40l3-3M14 31l3 14M18 19l2 16M35 43l2-4M41 53l3-6M45 36l2-1M52 43l2 3M55 41l3-4M58 45l3 1M65 31l3 10M69 33l2 12M72 45l2-2M79 56l2-19"/><path class="gc2" d="M38 54l3 10M62 39l2 16M113 64l2 5M194 66l2-3M197 74l3-2"/><path class="gc3" d="M109 78l3 1M157 80l2-4"/><path class="gc4" d="M160 95l3 3M201 86l2 7"/><path class="gc6" d="M-3 149l3-12M1 145l2-7M4 137l3-1M116 153l3-10M119 169l3-26M123 171l2-28M184 163l2-30M187 146l3-9M190 132l3 13"/><path class="gc7" d="M99 179l3-18M102 174l3-21M106 188l2-20M126 200l3-32M136 159l3 8M153 162l3-5M180 171l3-18M207 151l3 14M211 154l2-3"/><path class="gc8" d="M89 146l2 30M96 185l2-7M133 182l2-8M140 159l2 27M150 159l2 18M174 180l2 3M177 158l2 16M204 183l3-7"/><path class="gc9" d="M82 171l3 20M85 163l3 36M92 176l3 29M129 190l3-2M143 177l3 22M146 185l3 6M167 168l2 36M170 179l3 24"/><path class="gc10" d="M163 184l3 25"/></g>
<g transform="matrix(0.3524 -0.0980 0 -0.2744 112.67 304.77)"><path d="M-3 139l4 1 3-2 4-105 3 7 3 8 4-11 3-5 4 3 3-7 3-2 4 15 3 25 3-16 4-12 3-3 4 14 3-9 3 8 4 9 3-13 4 3 3-1 3-13 4 6 3 155 3 7 4-22 3 28 4-26 3-18 3-8 4 16 3-89 4-10 3 74 3 0 4-1 3 25 3 21 4-14 3-8 4 19 3 14 3-8 4-14 3-20 4-82 3 22 3 112 4-5 3-2 4-19 3-10 3-20 4-20 3 3 3 8 4-81 3 9 4 21 3 83 3-12 4-14 2-38-3 82-3-13-4-91-3-17-4-4-3 92-3 8-4-23-3-4-4 50-3-9-3 17-4 12-3-22-3-107-4-13-3 84-4 24-3 9-3 1-4-32-3-17-4 25-3 28-3-12-4-25-3-4-3-16-4-65-3 6-4 74-3 1-3 6-4 19-3 5-4-10-3 23-3-30-4-144-3-5-4 19-3 12-3-8-4 2-3 4-3-8-4 2-3 2-4 11-3-7-3 8-4-22-3-16-4-2-3 29-3 2-4 3-3-5-3-12-4 15-3 105-4-5-3-9Z"/><path class="gc0" d="M11 40l3-8M28 28l2-13M31 26l3-9M35 41l2-8M75 33l3-15M79 39l2-16"/><path class="gc1" d="M8 33l2 14M14 48l3-4M18 37l2 12M21 32l3 14M25 35l2 9M41 50l3-3M48 35l3 8M52 49l2-8M55 40l3-1M58 48l3-1M62 57l2-14M65 44l3-3M69 47l2 2M72 46l2-9"/><path class="gc2" d="M38 66l3-11M45 38l2 16M194 66l2 6"/><path class="gc3" d="M109 82l3-3M113 72l2 1M157 78l2-5M160 100l3-14M197 75l3 1"/><path class="gc4" d="M201 96l2-3"/><path class="gc5" d="M211 153l2-38"/><path class="gc6" d="M-3 139l3-1M1 140l2 7M116 146l3-8M136 169l3-27M180 156l3-11M184 136l2 13"/><path class="gc7" d="M4 138l3 14M82 194l3-27M99 163l3-3M102 155l3-1M106 171l2-18M119 146l3 8M123 145l2 13M133 177l2-10M140 188l2-29M153 160l3-3M190 147l3 17"/><path class="gc8" d="M89 179l2-5M92 207l3-23M96 181l2-2M126 170l3 13M150 180l2 1M174 186l2 0M187 139l3 33M204 179l3 5"/><path class="gc9" d="M85 201l3-4M129 191l3 4M143 202l3-11M146 194l3-4M163 212l3-19M170 205l3-2M177 176l2 19M207 167l3 30"/><path class="gc10" d="M167 207l2 8"/></g>
<g transform="matrix(0.3524 -0.0980 0 -0.2744 113.58 305.20)"><path d="M-3 140l4 10 3 4 4-105 3-14 3 12 4 4 3-2 4-2 3-30 3 3 4 15 3 23 3-8 4 6 3-11 4-2 3-1 3 8 4-4 3-2 4 7 3-11 3-19 4 4 3 144 3 31 4-23 3 10 4-5 3-20 3-5 4-1 3-74 4-7 3 66 3 15 4 4 3 25 3 13 4-28 3-26 4 18 3 32 3-2 4-9 3-24 4-83 3 13 3 107 4 21 3-12 4-16 3 8 3-49 4 3 3 24 3-8 4-93 3 5 4 16 3 91 3 13 4-82 2-41-3 104-3-4-4-102-3-9-4 8-3 91-3-7-4 4-3 13-4-4-3-3-3 12-4-9-3-19-3-72-4 1-3 82-4 10-3-2-3 5-4-22-3-27-4 34-3 31-3-3-4-25-3-12-3-23-4-70-3 17-4 78-3-10-3 17-4-9-3 8-4 16-3-3-3 3-4-137-3-6-4 10-3 2-3-1-4 3-3-4-3 3-4-9-3 16-4 7-3-19-3-2-4 0-3-7-4-10-3 19-3-1-4 3-3-8-3 5-4 9-3 103-4 1-3 2Z"/><path class="gc0" d="M14 47l3-13M28 17l2 4M31 20l3 11M75 21l3 11"/><path class="gc1" d="M8 49l2-1M11 35l3 4M18 51l2-9M21 49l3-10M25 47l2-7M35 35l2 3M38 58l3-20M41 50l3-10M48 45l3 7M52 43l2-7M55 42l3 3M58 50l3-8M62 46l2 0M65 44l3-1M69 51l2-7M72 40l2 2M79 25l2 13"/><path class="gc2" d="M45 56l2 3M113 75l2-17M197 79l3-14"/><path class="gc3" d="M109 82l3-7M157 76l2 4M160 89l3-10M194 74l2-1M201 95l2-21M211 117l2-41"/><path class="gc5" d="M116 141l3-13M136 144l3-18"/><path class="gc6" d="M102 157l3-14"/><path class="gc7" d="M-3 140l3 14M1 150l2 2M4 154l3-3M92 187l3-28M96 182l2-31M99 162l3-2M106 156l2-3M119 156l3-5M123 160l2 3M133 170l2-10M140 162l2-9M153 159l3 3M163 196l3-45M174 189l2-22M184 151l2 10M187 175l3-18M190 167l3-3"/><path class="gc8" d="M82 169l3 6M85 200l3-28M89 177l2-2M143 194l3-19M146 192l3-22M150 183l2-11M167 217l2-47M170 205l3-26M177 197l2-27M180 148l3 26M204 186l3-10M207 199l3-19"/><path class="gc9" d="M126 185l3 3M129 198l3-7"/></g>
<g transform="matrix(0.3524 -0.0980 0 -0.2744 114.49 305.62)"><path d="M-3 156l4-2 3 0 4-103 3-9 3-6 4 8 3-3 4 2 3-20 3 11 4 6 3 1 3 1 4 20 3-7 4-17 3 9 3-3 4 4 3-3 4 2 3-3 3-10 4 7 3 136 3-3 4 3 3-16 4-8 3 10 3-18 4 10 3-78 4-17 3 70 3 23 4 13 3 24 3 4 4-31 3-35 4 28 3 22 3-6 4 2 3-10 4-82 3-1 3 73 4 19 3 9 4-12 3 3 3 4 4-13 3-5 3 7 4-91 3-8 4 10 3 101 3 4 4-104 2 9-3 16-3-2-4-39-3 0-4 14-3 39-3-34-4 19-3 23-4-24-3-7-3 7-4 5-3 15-3-34-4 1-3 70-4-27-3-14-3 15-4-30-3-9-4 11-3 10-3-19-4-17-3 7-3-13-4-12-3 18-4 54-3-11-3 0-4-37-3 2-4 10-3-9-3 2-4-46-3-2-4 1-3 1-3 18-4-13-3-20-3 14-4-6-3 12-4-2-3 0-3 7-4-12-3 1-4 10-3 3-3-13-4-22-3 16-3 11-4-6-3 99-4 6-3-4Z"/><path class="gc0" d="M14 36l3-2M18 44l2-26M58 44l3-18"/><path class="gc1" d="M8 51l2-12M11 42l3 3M21 41l3-1M25 43l2 10M28 23l2 27M31 34l3 6M35 40l2-1M38 41l3 10M41 42l3 2M45 62l2-18M48 55l3-9M52 38l2-4M55 47l3-7M62 48l2-2M69 47l2-6M72 44l2-4M75 34l3 5M79 41l2 0"/><path class="gc2" d="M65 45l3 14M113 60l2-2M116 130l3-60M197 67l3-5M201 77l2-15"/><path class="gc3" d="M82 177l3-90M85 174l3-89M92 161l3-77M96 153l2-71M109 77l3-1M119 153l3-70M123 166l2-90M136 128l3-37M157 82l2 4M160 81l3 4M187 159l3-78M194 75l2 1M211 78l2 9"/><path class="gc4" d="M89 177l2-83M126 190l3-97M133 163l2-61M140 156l2-56M167 173l2-69M170 182l3-83M174 170l2-78M177 173l2-74M184 164l2-64M204 178l3-77M207 182l3-79"/><path class="gc5" d="M99 163l3-44M102 145l3-26M106 155l2-25M129 194l3-82M143 178l3-48M146 172l3-57M150 174l2-45M163 154l3-35M180 177l3-54M190 166l3-51"/><path class="gc6" d="M-3 156l3-16M1 154l2-10M4 154l3-16"/><path class="gc7" d="M153 164l3-8"/></g>
<g transform="matrix(0.3524 -0.0980 0 -0.2744 115.40 306.05)"><path d="M-3 143l4 4 3-6 4-100 3 6 3-11 4-15 3 22 4 13 3-3 3-10 4-2 3 12 3-6 4-1 3 3 4-12 3 5 3-14 4 20 3 13 4-18 3-1 3-1 4 3 3 45 3-1 4 9 3-11 4-1 3 36 3 0 4 11 3-54 4-17 3 11 3 14 4-8 3 17 3 19 4-9 3-12 4 10 3 29 3-15 4 15 3 27 4-71 3 0 3 33 4-14 3-6 4-6 3 6 3 24 4-23 3-19 3 34 4-38 3-14 4 0 3 39 3 1 4-15 2 56-3 17-3-6-4-7-3 7-4 4-3 5-3 2-4-42-3-8-4-14-3-16-3-2-4 36-3 1-3-38-4 11-3 35-4-25-3 1-3 28-4-21-3 2-4-15-3 3-3-8-4 12-3 12-3-25-4-23-3 3-4 45-3-5-3 13-4-24-3-10-4 7-3 8-3-1-4-61-3 4-4 9-3-8-3 3-4-6-3-20-3 16-4-3-3 2-4-14-3 3-3 11-4-24-3-4-4 19-3 3-3-8-4-7-3 19-3-8-4 1-3 99-4 27-3 4Z"/><path class="gc0" d="M11 47l3-13M18 21l2 2M21 43l3-13M31 43l3-27M35 41l2-21M41 47l3-14M45 46l2-16M58 28l3 1"/><path class="gc1" d="M8 41l2-6M14 36l3 6M25 56l2-18M28 53l2-18M38 53l3-9M48 49l3-5M52 37l2 5M55 42l3 3M62 48l2 1M69 43l2 9M75 41l3 10M79 44l2 3"/><path class="gc2" d="M65 61l3-6M72 42l2 18M113 61l2 11"/><path class="gc3" d="M109 78l3-3M160 88l3-3M170 101l3-15M174 95l2-7"/><path class="gc4" d="M82 89l3 19M85 88l3 21M89 97l2 4M92 86l3 8M96 85l2 19M116 72l3 23M123 78l2 30M126 95l3 1M129 114l3-10M133 105l2-4M146 117l3-10M150 132l2-26M157 88l2 8M177 101l2 3"/><path class="gc5" d="M99 121l3 7M102 121l3-6M106 132l2-12M119 86l3 34M136 93l3 23M140 103l2 11M163 121l3 2M167 107l2 15M180 125l3-7M184 102l2 24"/><path class="gc6" d="M4 141l3-7M143 132l3 3M153 159l3-28M211 90l2 56"/><path class="gc7" d="M-3 143l3 22M1 147l2 14M187 83l3 85M190 117l3 49M194 79l2 82M197 65l3 92M201 65l2 85M204 104l3 53M207 105l3 58"/></g>
<g transform="matrix(0.3524 -0.0980 0 -0.2744 116.31 306.47)"><path d="M-3 168l4-5 3-26 4-99 3-2 3 9 4-20 3 8 4 7 3-2 3-20 4 4 3 24 3-10 4-4 3 14 4-1 3 3 3-17 4 21 3 5 4-3 3 9 3-10 4-4 3 61 3 2 4-9 3-7 4 11 3 23 3-12 4 5 3-45 4-4 3 23 3 26 4-13 3-11 3 8 4-3 3 14 4-1 3 20 3-27 4-2 3 26 4-36 3-10 3 37 4 0 3-37 4 3 3 16 3 13 4 8 3 42 3-1 4-6 3-3 4-7 3 6 3 7 4-17 2 26-3-10-3-1-4 0-3-2-4 0-3 9-3 4-4-29-3-12-4-31-3-7-3 18-4 5-3-28-3 4-4 0-3-2-4-5-3 11-3 17-4-24-3 11-4-12-3 39-3-11-4 1-3-6-3-23-4-25-3 5-4 43-3 25-3-24-4-26-3 4-4-11-3 37-3 4-4-72-3-6-4-7-3 6-3 3-4-12-3-6-3 14-4-1-3-7-4-12-3 8-3 16-4-16-3-14-4 24-3-24-3-2-4 0-3 26-3-12-4 7-3 114-4 19-3-6Z"/><path class="gc0" d="M11 36l3-7M18 25l2-10M21 33l3-18M25 40l2-23M31 18l3-1M35 22l2 9M41 36l3-5M45 32l2-9M58 31l3-2"/><path class="gc1" d="M8 38l2-2M14 45l3-4M28 38l2 3M38 46l3 1M48 46l3-11M52 45l2-3M55 48l3-5M62 52l2-17M65 57l3-10M69 54l2-10M72 63l2-25M75 53l3-8M79 49l2 2"/><path class="gc2" d="M109 78l3-7M113 74l2-8"/><path class="gc3" d="M89 103l2-21M96 107l2-18M116 97l3-6M133 104l2-13M150 108l2-20M163 125l3-34"/><path class="gc4" d="M92 96l3-3M136 118l3-15M140 117l2-25M146 110l3-11M153 134l3-41M157 98l2-3M160 88l3 7M174 91l2 5M177 107l2-4"/><path class="gc5" d="M82 110l3 13M85 112l3 7M99 130l3-15M106 123l2-9M119 123l3-9M123 110l2 10M126 99l3 20M129 107l3 23M143 137l3-21M167 125l2-6M170 88l3 26"/><path class="gc6" d="M102 118l3 21M180 120l3 14M184 128l2 18"/><path class="gc7" d="M-3 168l3-5M4 137l3 13M194 163l2-1M197 160l3 2M201 153l2 11M204 159l3 5M207 166l3-1"/><path class="gc8" d="M1 163l2 6M187 170l3 5M190 169l3 2M211 149l2 26"/></g>
<g transform="matrix(0.3524 -0.0980 0 -0.2744 117.22 306.90)"><path d="M-3 165l4 6 3-19 4-113 3-7 3 11 4-26 3 0 4 3 3 23 3-24 4 14 3 17 3-16 4-9 3 13 4 7 3 1 3-15 4 7 3 11 4-3 3-6 3 8 4 6 3 71 3-4 4-37 3 12 4-5 3 27 3 23 4-25 3-43 4-4 3 24 3 23 4 7 3-2 3 11 4-39 3 12 4-10 3 24 3-17 4-12 3 5 4 3 3 0 3-4 4 28 3-6 4-17 3 6 3 31 4 13 3 29 3-5 4-9 3 0 4 3 3-1 3 2 4 9 2-12-3 2-3-4-4 3-3-5-4 5-3 6-3 0-4-27-3-11-4-42-3 10-3 24-4-1-3-18-3-27-4 8-3-3-4 22-3-12-3 9-4 10-3-13-4 5-3 11-3-2-4-7-3-13-3 0-4-22-3-8-4 25-3 8-3 14-4 2-3-6-4-26-3 10-3 1-4-56-3 4-4-9-3 15-3-10-4-7-3 3-3 12-4 5-3-7-4 11-3-19-3 4-4 3-3-9-4 12-3-16-3 5-4-2-3 0-3-5-4 10-3 108-4 3-3-11Z"/><path class="gc0" d="M11 32l3-5M14 43l3-11M18 17l2 15M21 17l3 17M25 20l2 9M31 19l3 14M58 31l3 2M62 38l2-8M72 40l2-8"/><path class="gc1" d="M8 39l2-2M28 43l2 2M35 33l2 9M38 50l3-11M41 34l3 1M48 38l3 5M52 45l2 5M55 46l3-1M65 49l3-12M69 46l2 1M75 48l3-7M79 54l2-17"/><path class="gc2" d="M45 25l2 29M109 73l3-8"/><path class="gc3" d="M89 84l2-2M106 116l2-26M113 69l2 4M153 95l3-10M157 98l2-10M160 98l3-18"/><path class="gc4" d="M82 125l3-32M85 121l3-29M92 96l3 12M102 141l3-43M116 93l3 2M119 116l3-21M123 123l2-15M133 93l2 13M136 105l3-4M143 119l3-15M146 102l3-7M150 90l2 17M163 94l3 13M174 99l2 3M177 105l2-13"/><path class="gc5" d="M96 91l2 23M99 118l3-6M126 121l3-6M129 132l3-15M140 95l2 19M167 122l2 3M170 116l3 10"/><path class="gc6" d="M-3 165l3-28M1 171l2-23M4 152l3-7M180 136l3-2M184 149l2-4"/><path class="gc7" d="M194 164l2 2M197 164l3-3M201 167l2-1M204 166l3-3M207 168l3-1M211 177l2-12"/><path class="gc8" d="M187 178l3-6M190 173l3-1"/></g>
<g transform="matrix(0.3524 -0.0980 0 -0.2744 118.13 307.32)"><path d="M-3 140l4 11 3-3 4-109 3-9 3 5 4 0 3 2 4-6 3 17 3-13 4 9 3-2 3-5 4 19 3-11 4 8 3-6 3-12 4-2 3 7 4 9 3-15 3 9 4-3 3 56 3-2 4-10 3 26 4 7 3-3 3-14 4-7 3-25 4 7 3 22 3 1 4 12 3 8 3 2 4-12 3-4 4 12 3-9 3-9 4 12 3-22 4 3 3-9 3 28 4 18 3 0 4-24 3-9 3 42 4 10 3 28 3 0 4-7 3-5 4 6 3-3 3 3 4-1 2-18-3 15-3 0-4 8-3-9-4 4-3 2-3-2-4-43-3-25-4 11-3 0-3-3-4 14-3-37-3-20-4 33-3-7-4 21-3 8-3 6-4-10-3 7-4-5-3 1-3-3-4-11-3-6-3 15-4-40-3-6-4 34-3-14-3 11-4 3-3 0-4 3-3-11-3-11-4-57-3 5-4-4-3 22-3-9-4-7-3-5-3 2-4 9-3 8-4 12-3-3-3 2-4-12-3-20-4 14-3 3-3 9-4-7-3-9-3 8-4 12-3 96-4-15-3-4Z"/><path class="gc0" d="M31 35l3-9M55 47l3-17M58 35l3-7M62 33l2 0M72 34l2-7M75 43l3-12M79 40l2-14"/><path class="gc1" d="M11 30l3 14M14 35l3 1M18 35l2 10M21 37l3 15M25 31l2 12M28 48l2-8M35 44l2 2M48 45l3 2M52 53l2-14M65 40l3 0M69 49l2 0"/><path class="gc2" d="M8 39l2 17M38 42l3 16M41 37l3 19M45 56l2 3M109 68l3 0M160 82l3-17"/><path class="gc3" d="M82 96l3-13M102 100l3-12M113 75l2-1M153 88l3 3M163 110l3-25"/><path class="gc4" d="M85 94l3 0M89 84l2 21M92 110l3-8M96 117l2-15M99 114l3-15M106 93l2 9M119 98l3 1M123 110l2-5M157 91l2 7M170 128l3-20M180 137l3-37"/><path class="gc5" d="M116 97l3 17M126 118l3-2M129 120l3-1M133 108l2 10M136 104l3 19M140 116l2 0M143 107l3 19M146 98l3 22M150 110l2 2M167 128l2-6M174 104l2 7M177 95l2 16M184 147l2-22"/><path class="gc6" d="M-3 140l3-7M1 151l2-14"/><path class="gc7" d="M4 148l3 4M187 175l3-7M194 168l2 0M197 163l3 1M204 166l3-1M207 169l3-4M211 168l2-18"/><path class="gc8" d="M190 175l3-5M201 169l2 4"/></g>
<g transform="matrix(0.3524 -0.0980 0 -0.2744 119.04 307.75)"><path d="M-3 135l4 5 3 14 4-95 3-13 3-8 4 10 3 7 4-10 3-2 3-15 4 20 3 12 3-2 4 4 3-13 4-7 3-10 3-2 4 6 3 7 4 9 3-23 3 4 4-5 3 58 3 11 4 11 3-3 4-1 3-3 3-10 4 14 3-34 4 5 3 41 3-15 4 6 3 11 3 3 4-1 3 5 4-8 3 11 3-6 4-9 3-20 4 7 3-34 3 21 4 36 3-14 4 4 3 0 3-11 4 24 3 43 3 3 4-2 3-5 4 9 3-8 3 0 4-15 2-14-3 30-3 3-4 9-3-6-4-5-3 0-3 3-4-55-3-63-4 33-3-7-3-1-4 20-3-13-3-22-4 0-3-16-4 40-3-2-3 11-4 4-3-7-4 23-3-19-3-26-4 11-3-28-3 25-4-12-3-5-4-7-3-5-3 4-4 15-3 12-4 20-3-8-3-14-4-49-3-16-4 14-3 29-3-7-4-14-3-7-3 6-4 9-3-7-4 7-3-1-3 3-4 1-3-24-4 10-3 9-3-8-4-13-3 3-3 10-4 9-3 97-4 3-3-3Z"/><path class="gc0" d="M14 38l3-13M18 48l2-26M28 43l2-9M31 28l3-4M58 30l3 0M72 29l2 0M75 33l3-18M79 28l2 3"/><path class="gc1" d="M8 59l2-15M11 46l3-11M21 55l3-20M25 45l2-2M35 48l2 0M38 60l3-13M41 58l3-14M45 62l2-17M48 49l3-11M52 42l2 3M55 32l3 4M62 36l2 1M65 43l3 8M102 91l3-40M153 94l3-46"/><path class="gc2" d="M69 52l2 6M96 104l2-34M99 101l3-46M106 105l2-49M109 71l3-8M113 76l2-8M119 102l3-47M126 119l3-47M157 101l2-37M160 67l3-3M180 103l3-49"/><path class="gc3" d="M82 86l3-6M92 105l3-23M116 117l3-37M123 108l2-25M146 123l3-37M150 114l2-26M163 88l3-2M170 110l3-31M174 114l2-34M177 114l2-27"/><path class="gc4" d="M85 97l3-3M89 108l2-6M129 122l3-24M136 126l3-32M140 118l2-17M143 129l3-32M167 124l2-25"/><path class="gc5" d="M133 121l2-4M184 127l2-10"/><path class="gc6" d="M-3 135l3 6M1 140l2 4M4 154l3-13M211 152l2-14"/><path class="gc7" d="M207 167l3 1"/><path class="gc8" d="M187 170l3 2M190 173l3-4M194 171l2-2M197 166l3 8M201 175l2 5M204 167l3 4"/></g>
<g transform="matrix(0.3524 -0.0980 0 -0.2744 119.95 308.17)"><path d="M-3 144l4 2 3-3 4-96 3-10 3-10 4-2 3 13 4 8 3-10 3-10 4 24 3-1 3-3 4 1 3-6 4 6 3-8 3-6 4 6 3 15 4 6 3-29 3-14 4 17 3 48 3 15 4 7 3-19 4-12 3-16 3-4 4 5 3 7 4 5 3 13 3-26 4 29 3-11 3 25 4 19 3-22 4 6 3-4 3-11 4 2 3-40 4 17 3 0 3 22 4 13 3-20 4 1 3 6 3-33 4 64 3 54 3-3 4 1 3 4 4 6 3-8 3-3 4-30 2-3-3 31-3-3-4 13-3-5-4-12-3 4-3 1-4-32-3-89-4 17-3 1-3-16-4 24-3 10-3-7-4-44-3 14-4 28-3 17-3 4-4-10-3-26-4 3-3 36-3-7-4-12-3-15-3-6-4 9-3 32-4-23-3-12-3 15-4-3-3 16-4 26-3-14-3-2-4-57-3-10-4 4-3 0-3 4-4-4-3-6-3-3-4 11-3-4-4-8-3-5-3 9-4 25-3-10-4-14-3 5-3-9-4-7-3-7-3 19-4 7-3 104-4-12-3 9Z"/><path class="gc0" d="M11 37l3-3M14 27l3-12M18 25l2-3M21 38l3-9M28 36l2-3M38 49l3-17M41 46l3-23M45 47l2-19M55 39l3-10M58 33l3-1M75 17l3 17M157 67l2-36"/><path class="gc1" d="M8 47l2-6M25 46l2-8M31 26l3 21M48 41l3-5M52 47l2-7M62 39l2-1M65 54l3-12M69 60l2-22M72 31l2 7M79 34l2 10M153 50l3-5M170 82l3-34M180 56l3-10"/><path class="gc2" d="M35 50l2 7M102 53l3 10M113 70l2-4M116 83l3-26M119 57l3 6M133 119l2-58M136 97l3-39M167 102l2-30M174 83l2-19M177 89l2-26"/><path class="gc3" d="M92 85l3 6M96 73l2 2M99 57l3 21M106 58l2 17M123 86l2-8M126 75l3 15M140 103l2-19M146 88l3 2M150 90l2-17M160 67l3 8M163 89l3-7"/><path class="gc4" d="M82 82l3 19M85 97l3 6M109 65l3 33M129 100l3-3M143 99l3-5"/><path class="gc5" d="M89 104l2 13"/><path class="gc6" d="M-3 144l3-2M1 146l2-13M4 143l3 2M184 120l2 15M211 141l2-3"/><path class="gc7" d="M187 174l3-7M190 171l3-5M194 172l2-10M204 174l3-8"/><path class="gc8" d="M197 176l3-2M201 182l2-3M207 171l3-2"/></g>
<g transform="matrix(0.3524 -0.0980 0 -0.2744 120.86 308.60)"><path d="M-3 144l4-9 3 13 4-104 3-8 3-19 4 8 3 7 4 9 3-6 3 15 4 9 3-25 3-9 4 5 3 8 4 5 3-12 3 4 4 6 3 4 4-5 3 0 3-4 4 10 3 58 3 1 4 15 3-27 4-16 3 3 3-15 4 13 3 23 4-32 3-9 3 6 4 14 3 12 3 7 4-36 3-3 4 27 3 10 3-4 4-18 3-28 4-14 3 44 3 7 4-10 3-23 4 16 3-2 3-16 4 88 3 32 3-1 4-3 3 11 4 5 3-12 3 2 4-30 2 9-3 16-3-2-4 9-3 5-4-3-3 1-3-1-4-44-3-78-4 10-3 8-3-15-4 13-3-12-3 11-4-28-3 26-4 15-3-16-3 6-4 8-3-57-4 20-3 46-3-21-4-11-3 7-3-22-4 25-3 62-4-27-3-28-3 19-4-24-3 18-4 30-3-10-3-3-4-66-3-7-4 13-3-6-3 0-4 6-3 1-3-11-4 3-3 0-4-10-3-1-3 19-4 16-3-17-4-15-3-8-3 12-4-14-3 4-3 12-4 14-3 87-4-4-3 6Z"/><path class="gc0" d="M11 36l3-2M14 17l3 5M18 25l2-7M21 32l3 0M25 41l2-21M28 35l2-7M41 25l3 0M45 30l2-4M55 31l3 2M75 36l3-6M136 60l3-38"/><path class="gc1" d="M8 44l2 4M31 50l3-7M38 34l3 10M48 38l3-2M52 43l2-7M58 35l3 9M62 41l2 2M65 45l3-8M69 40l2-3M72 40l2 3M79 46l2-9M116 60l3-19M133 63l2-21M157 33l2 7M180 49l3 4"/><path class="gc2" d="M35 59l2 1M96 77l2-9M113 69l2-3M119 66l3-3M123 80l2-24M126 92l3-25M143 97l3-26M146 93l3-28M153 47l3 19M160 77l3-9M163 84l3-27M167 74l2-5M170 51l3 5M174 67l2 4M177 65l2-2"/><path class="gc3" d="M92 93l3-7M102 65l3 8M129 99l3-11M140 87l2-8M150 75l2 6"/><path class="gc4" d="M82 104l3-1M85 105l3 1M99 80l3 12M106 78l2 23"/><path class="gc5" d="M89 120l2-4M109 101l3 27"/><path class="gc6" d="M-3 144l3-7M1 135l2-4M4 148l3-13M184 137l2-6"/><path class="gc7" d="M204 169l3-5M207 171l3-5M211 141l2 9"/><path class="gc8" d="M187 169l3 6M190 168l3 8M194 165l2 10M197 176l3 2M201 181l2-8"/></g>
<g transform="matrix(0.3524 -0.0980 0 -0.2744 121.77 309.02)"><path d="M-3 140l4-7 3 4 4-87 3-14 3-11 4-5 3 14 4-11 3 7 3 15 4 18 3-16 3-20 4 1 3 11 4 0 3-4 3 12 4-1 3-7 4 0 3 6 3-13 4 7 3 66 3 3 4 10 3-29 4-19 3 25 3-19 4 28 3 27 4-63 3-25 3 23 4-8 3 12 3 20 4-46 3-19 4 56 3-8 3-6 4 16 3-15 4-26 3 28 3-10 4 11 3-13 4 15 3-8 3-9 4 78 3 43 3 2 4-1 3 3 4-5 3-9 3 2 4-17 2-3-3 13-3 1-4 2-3 10-4-1-3-3-3-5-4-43-3-38-4-44-3 7-3 2-4 28-3-13-3-24-4-6-3 40-4 35-3-27-3-13-4-4-3-36-4 0-3 37-3-2-4-12-3-20-3 35-4 8-3 6-4-4-3-29-3 35-4-30-3 14-4 43-3-7-3-4-4-44-3-10-4 3-3-15-3 12-4-2-3 2-3-15-4-9-3 8-4-2-3 6-3 16-4-11-3-6-4 14-3 11-3 4-4-12-3-12-3 14-4 14-3 70-4 8-3-5Z"/><path class="gc0" d="M31 45l3-12M45 28l2 0M48 39l3-9M52 39l2-17M55 35l3-4M69 39l2-5M119 66l3-33M133 44l2-14M136 25l3 5"/><path class="gc1" d="M11 36l3 16M14 25l3 13M18 20l2 30M28 30l2 17M35 63l2-24M38 47l3 3M41 27l3 7M58 47l3-1M62 46l2-2M65 39l3 7M72 45l2 4M75 32l3 14M102 76l3-27M123 58l2-5M157 42l2-7M160 70l3-29M170 58l3-8M174 73l2-25M177 65l2-24"/><path class="gc2" d="M8 50l2 16M21 34l3 28M25 23l2 35M79 39l2 17M92 89l3-21M96 70l2-16M116 43l3 25M126 70l3-5M129 90l3-23M140 81l2-15M143 73l3-3M163 60l3 5"/><path class="gc3" d="M99 95l3-11M106 104l2-26M109 131l3-49M113 68l2 8M146 67l3 16M153 68l3 7M167 71l2 7M180 56l3 29"/><path class="gc4" d="M82 105l3-5M85 108l3-4M150 83l2 27"/><path class="gc5" d="M89 118l2-7M184 134l2-11"/><path class="gc6" d="M-3 140l3-1M1 133l2 11M4 137l3-1M211 152l2-3"/><path class="gc7" d="M187 177l3-11M201 176l2-11M204 167l3-4M207 169l3-7"/><path class="gc8" d="M190 179l3-8M194 178l2-4M197 181l3-6"/></g>
<g transform="matrix(0.3524 -0.0980 0 -0.2744 122.68 309.45)"><path d="M-3 141l4 5 3-7 4-70 3-14 3-14 4 11 3 12 4-4 3-10 3-14 4 6 3 11 3-16 4-6 3 2 4-8 3 9 3 14 4-2 3 2 4-12 3 16 3-4 4 10 3 44 3 4 4 8 3-44 4-14 3 31 3-36 4 29 3 5 4-6 3-9 3-35 4 21 3 12 3 1 4-37 3 1 4 35 3 4 3 14 4 27 3-36 4-40 3 6 3 25 4 12 3-28 4-2 3-7 3 44 4 38 3 43 3 5 4 4 3 1 4-11 3-1 3-2 4-13 2-22-3-71-3-12-4-1-3 31-4-2-3-25-3 5-4 14-3 23-4-4-3-18-3-26-4-2-3-12-3 13-4 10-3 4-4 41-3-15-3 19-4-20-3-45-4 7-3 17-3-12-4 34-3-35-3 17-4-3-3-7-4-5-3 12-3 16-4-28-3 12-4-17-3-3-3 10-4 0-3-3-4 6-3-21-3 9-4 116-3-14-3-38-4-24-3 1-4 17-3 20-3 11-4 4-3 10-4 23-3 19-3-3-4-21-3-17-3-8-4-6-3 18-4 4-3 1Z"/><path class="gc0" d="M69 36l2-3M163 68l3-39"/><path class="gc1" d="M65 48l3-6M75 48l3 0M79 58l2-7M82 102l3-51M85 106l3-65M89 114l2-70M96 56l2-7M106 80l2-31M119 35l3 12M126 68l3-20M133 32l2 11M136 33l3 3M157 37l2 15M160 43l3-1M167 80l2-39M170 52l3-9M190 173l3-124M201 167l2-122M204 166l3-120"/><path class="gc2" d="M72 52l2 2M92 70l3-9M102 51l3 10M109 85l3-31M113 79l2-18M116 70l3-6M129 69l3-9M153 77l3-21M174 50l2 19M184 125l2-57M187 168l3-114M207 164l3-106"/><path class="gc3" d="M48 33l3 50M52 25l2 57M99 87l3-10M123 56l2 26M140 68l2 13M146 86l3-4M177 43l2 44M180 87l3 4M194 177l2-103M197 178l3-102"/><path class="gc4" d="M45 31l2 69M55 34l3 72M143 72l3 29M150 113l2-16"/><path class="gc5" d="M41 37l3 83M211 151l2-22"/><path class="gc6" d="M8 69l2 63M11 55l3 83M14 41l3 105M31 36l3 109M35 42l2 93M38 53l3 78M58 48l3 96"/><path class="gc7" d="M-3 141l3 14M1 146l2 8M4 139l3 11M18 52l2 111M28 50l2 118M62 46l2 112"/><path class="gc8" d="M21 64l3 120M25 60l2 127"/></g>
<g transform="matrix(0.3524 -0.0980 0 -0.2744 123.59 309.87)"><path d="M-3 157l4-1 3-4 4-18 3 7 3 7 4 18 3 20 4 3 3-19 3-23 4-9 3-4 3-12 4-19 3-17 4-2 3 24 3 39 4 14 3-117 4-8 3 20 3-5 4 3 3 0 3-10 4 2 3 18 4-12 3 28 3-17 4-12 3 5 4 8 3 2 3-17 4 36 3-35 3 13 4-17 3-7 4 44 3 20 3-18 4 14 3-41 4-3 3-11 3-12 4 12 3 2 4 25 3 18 3 5 4-23 3-15 3-4 4 25 3 1 4-30 3 1 3 11 4 71 2-14-3-71-3 1-4 9-3 10-4-6-3-12-3 14-4-12-3-17-4 6-3 7-3-8-4 1-3-13-3 29-4-5-3 6-4 5-3-5-3 15-4-2-3-29-4 8-3 0-3-19-4 8-3-14-3 15-4-2-3-21-4 7-3 37-3-6-4-14-3-11-4 7-3-6-3 8-4-4-3 16-4 8-3-11-3 0-4 114-3-3-3-25-4-27-3-18-4 8-3 27-3 20-4 5-3 1-4 11-3 16-3-2-4-23-3-24-3-11-4-3-3 49-4-3-3 3Z"/><path class="gc0" d="M79 54l2-21M85 44l3-15M92 64l3-36M106 51l2-29M109 56l3-41M119 49l3-26M126 50l3-21M163 32l3-6M180 94l3-61"/><path class="gc1" d="M65 44l3 2M69 36l2 10M75 51l3-2M82 54l3-17M89 46l2-11M96 52l2-13M113 64l2-28M116 66l3-28M123 85l2-48M129 63l3-15M133 46l2 2M136 39l3 1M157 55l2-5M167 44l2-5M170 46l3-8M174 71l2-25M177 89l2-50M184 71l2-21M190 52l3-4M204 49l3-2M207 60l3-14"/><path class="gc2" d="M72 56l2 1M99 80l3-27M102 63l3-4M140 83l2-14M143 103l3-32M146 85l3-29M150 99l2-38M153 58l3-2M160 44l3 11M187 56l3 6M194 77l2-17M197 78l3-12M201 48l2 8"/><path class="gc3" d="M48 86l3 1"/><path class="gc4" d="M45 103l2-8M52 84l2 21"/><path class="gc5" d="M8 134l2-22M11 141l3-26M14 148l3-22M41 122l3 0M211 131l2-14"/><path class="gc6" d="M31 147l3 1M35 138l2 9M38 134l3 8M55 108l3 24"/><path class="gc7" d="M-3 157l3 4M1 156l2 2M4 152l3 9M18 166l2-16M28 170l2-11M58 147l3 10M62 161l2-1"/><path class="gc8" d="M21 186l3-13M25 189l2-14"/></g>
<g transform="matrix(0.3524 -0.0980 0 -0.2744 124.50 310.30)"><path d="M-3 164l4-3 3 2 4-48 3 2 3 12 4 23 3 23 4 3 3-16 3-12 4-1 3-4 3-20 4-27 3-9 4 18 3 28 3 25 4 3 3-114 4-1 3 11 3-8 4-15 3 4 3-8 4 5 3-7 4 12 3 14 3 6 4-38 3-6 4 21 3 2 3-16 4 14 3-7 3 18 4 0 3-8 4 30 3 1 3-14 4 5 3-6 4-5 3 4 3-28 4 12 3-1 4 9 3-7 3-6 4 16 3 13 3-14 4 11 3 6 4-10 3-8 3-1 4 71 2-6-3-89-3 48-4 12-3-15-4-16-3 4-3 1-4-3-3 4-4-18-3-2-3-6-4 32-3-36-3 8-4-4-3 25-4 8-3-31-3 8-4 7-3-29-4 27-3-6-3-17-4 48-3-19-3-2-4-11-3-27-4 13-3 26-3-22-4-14-3 7-4 3-3-11-3 17-4 13-3-8-4 16-3-23-3 2-4 124-3 8-3-10-4-30-3-35-4 0-3 32-3 24-4-2-3-10-4 5-3 16-3 1-4-20-3-25-3-19-4-6-3 67-4-4-3 1Z"/><path class="gc0" d="M65 49l3-15M69 48l2-16M82 40l3-6M85 32l3-15M89 37l2-9M92 30l3-5M96 42l2-24M99 56l3-24M106 24l2 4M109 18l3-3M126 32l3-6M136 42l3-20M157 53l2-19M163 29l3 1M207 49l3-24"/><path class="gc1" d="M75 51l3-12M79 36l2 11M113 39l2 3M116 41l3 12M129 50l3-7M133 50l2-1M140 72l2-21M143 73l3-29M146 59l3-23M160 57l3-19M170 40l3-6M174 49l2-9M177 42l2 0"/><path class="gc2" d="M72 59l2-4M102 62l3-8M119 25l3 30M150 64l2 3M153 58l3 1M167 41l2 25M180 36l3 24M184 52l2 4M187 65l3-6M190 51l3 7M194 62l2-8M197 68l3 2"/><path class="gc3" d="M8 115l2-28M45 98l2-7M48 89l3 2M123 39l2 35M201 58l2 27M204 50l3 23"/><path class="gc4" d="M11 117l3-24"/><path class="gc5" d="M14 129l3-17M41 125l3-2M52 107l2 19M211 120l2-6"/><path class="gc6" d="M18 152l2-15M28 162l2-22M31 150l3-15M35 149l2-4M38 145l3 2"/><path class="gc7" d="M-3 164l3-13M1 161l2-11M4 163l3-9M21 175l3-18M25 178l2-22M55 135l3 21M58 160l3 6M62 163l2-5"/></g>
</g>
<path d="M57.3 278.9L57.3 210.3M57.3 278.9L124.5 310.3L212.6 285.8M57.3 278.9h-1.2M57.3 265.2h-1.2M57.3 251.5h-1.2M57.3 237.7h-1.2M57.3 224h-1.2M57.3 210.3h-1.2M124.5 310.3l-1.1 -0.5M153.9 302.1l-1.1 -0.5M183.2 294l-1.1 -0.5M212.6 285.8l-1.1 -0.5M124.5 310.3l1.2 -0.3M102.1 299.8l1.2 -0.3M79.7 289.4l1.2 -0.3M57.3 278.9l1.2 -0.3" stroke="#4d4d4d" stroke-width="0.6" fill="none"/>
<g font-family="Liberation Sans, Arial, sans-serif" font-size="5.2" fill="#333333"><text x="53.3" y="280.2" text-anchor="end">0</text><text x="53.3" y="266.5" text-anchor="end">50</text><text x="53.3" y="252.8" text-anchor="end">100</text><text x="53.3" y="239" text-anchor="end">150</text><text x="53.3" y="225.3" text-anchor="end">200</text><text x="53.3" y="211.6" text-anchor="end">250</text><text x="127.5" y="317.5">0</text><text x="156.9" y="309.3">50</text><text x="186.2" y="301.2">100</text><text x="215.6" y="293">150</text><text x="120.2" y="317.5" text-anchor="end">0</text><text x="97.8" y="307" text-anchor="end">50</text><text x="75.4" y="296.6" text-anchor="end">100</text><text x="53" y="286.1" text-anchor="end">150</text></g>
<path d="M325.1 109.7L325.1 35.8M345.7 104.7L345.7 30.8M366.3 99.7L366.3 25.8M386.8 94.8L386.8 20.9M407.4 89.8L407.4 15.9M428 84.8L428 10.9M325.1 109.7L428 84.8M506.4 118.2L428 84.8M325.1 97.4L428 72.5M506.4 105.9L428 72.5M325.1 85.1L428 60.2M506.4 93.6L428 60.2M325.1 72.8L428 47.9M506.4 81.2L428 47.9M325.1 60.4L428 35.5M506.4 68.9L428 35.5M325.1 48.1L428 23.2M506.4 56.6L428 23.2M325.1 35.8L428 10.9M506.4 44.3L428 10.9M506.4 118.2L506.4 44.3M486.8 109.9L486.8 36M467.2 101.5L467.2 27.6M447.6 93.2L447.6 19.2M428 84.8L428 10.9M403.5 143.1L325.1 109.7M424.1 138.1L345.7 104.7M444.7 133.1L366.3 99.7M465.2 128.2L386.8 94.8M485.8 123.2L407.4 89.8M506.4 118.2L428 84.8M403.5 143.1L506.4 118.2M383.9 134.8L486.8 109.9M364.3 126.4L467.2 101.5M344.7 118L447.6 93.2M325.1 109.7L428 84.8M428 84.8L428 10.9M325.1 35.8L428 10.9M506.4 44.3L428 10.9M506.4 118.2L506.4 44.3" stroke="#e6e6e6" stroke-width="0.6" fill="none"/>
<path d="M325.1 47.6L409.4 27.2L487.8 60.6L403.5 81Z" fill="#f4ef14"/>
<path d="M325.1 109.7L403.5 143.1L403.5 81L325.1 47.6ZM403.5 143.1L487.8 122.7L487.8 60.6L403.5 81Z" fill="#5f98c8"/>
<g filter="url(#sblur)" stroke-width="0.87" fill="none">
<path d="M325.4 47.8V69.9M326.1 68.3V78.8M328.2 55.3V65.2M331 75.4V94M332.4 70.9V91.3M334.5 51.6V56.4M334.5 56.4V61.3M336.5 59.4V85.8M337.2 52.9V57.1M337.9 53.6V59.4M340 59.2V79.3M340.7 85.4V105.5M341.4 86V92.3M344.9 56.1V68M344.9 71.9V77.1M344.9 77.1V103.9M346.3 61.5V80.3M347.6 62.4V69M351.1 93.6V113.4M351.8 84.6V93.7M352.5 78.3V84.6M353.2 87V103.9M353.9 101.8V106M355.3 61.2V81.2M356 68V78.9M356 78.9V88.6M356.7 79.9V94M357.4 104.8V123.4M359.4 109.1V113M360.8 64.6V69.7M360.8 98.3V116M361.5 64.1V83.4M362.2 63.5V68.1M362.2 68.1V76.7M362.2 76.7V83M362.9 63.9V67.5M364.3 90.5V94.1M365.7 64.9V68.7M368.5 104.4V108.5M369.9 83.5V101.4M370.5 92.9V96.5M371.9 95.5V120.1M372.6 71.9V89.4M375.4 75.5V96M376.1 82.3V105.5M376.8 69.8V77.1M378.9 119.1V130M381 114.1V132.2M385.8 80.4V87.4M386.5 76.7V92.5M388.6 82.6V89M389.3 92.4V100.8M389.3 100.8V116.5M392.1 81.5V87.4M393.4 82.2V93.1M394.1 78.2V81.8M394.1 132.4V139.1M394.8 111.8V116.7M395.5 91.3V118.5M396.9 88.7V97.8M396.9 97.8V102.9M397.6 79.6V91.3M399 119.8V123.3M402.5 90V95.6M402.5 104.2V117.8M405.2 85.4V91.4M405.2 99.7V103.7M405.2 109.4V116.6M406.6 90.6V108.2M408 93.7V97.9M408 113.1V118.9M409.4 87.4V98.2M410.1 80.2V107.2M410.8 122.9V137.1M411.4 102.9V130.2M412.1 119.6V135.1M412.8 122.4V134.5M413.5 84.3V99.7M414.2 102.7V114M414.2 121.4V140.5M421.8 80.4V94.7M427.3 75.4V91M428 108.6V119.1M428.7 75V100.6M430.1 74.6V78.5M431.5 110.2V134.6M439.8 73.6V87.3M439.8 87.3V111.7M440.5 86.4V104.6M443.2 79.3V95.4M444.6 80.2V85.4M444.6 85.4V98.7M444.6 102.6V108.6M446 72.9V78.9M448.8 99.1V108.8M450.1 73.7V82.8M451.5 88.4V96.4M452.9 78V81.4M452.9 81.4V85M452.9 85V90.4M452.9 90.4V111.4M454.3 95.9V116.9M455 90.9V115M460.5 67.5V89.3M460.5 106.4V129.3M466 67.4V71.6M466 71.6V95.4M466.7 87.1V90.6M468.8 69.9V74.1M468.8 74.1V79M469.5 68.9V79.7M469.5 79.7V86.7M469.5 99.8V104.4M471.6 111V126.6M472.9 79.9V85.7M472.9 109V121.2M474.3 71.5V75M475 111.9V123.2M477.1 66.6V80.9M478.5 67V70.7M478.5 94.1V114.7M479.2 67.2V80.8M481.2 96.5V111.8M481.9 93.8V113.2M483.3 70.3V85.9M483.3 85.9V96.6M484.7 61.9V83.9M486.8 61V71.1" stroke="#b8bc5c"/>
<path d="M325.4 69.9V76.4M326.8 73.7V79.6M327.5 97.6V110.7M328.2 96V111M328.9 54.8V75.2M328.9 106.8V111.3M329.6 95.7V100.8M329.6 100.8V111.6M330.3 86.1V100M330.3 100V106.8M331 94V106.3M331.7 69.4V81.4M331.7 89.9V102.7M332.4 112.4V112.8M333.1 86.1V91.1M333.8 63V72.1M333.8 77.5V101.3M333.8 101.3V107M334.5 84V104.4M334.5 104.4V110.3M335.9 58.6V77.3M337.2 101.6V114.9M337.9 89.3V106.4M338.6 84.9V104.1M340.7 105.5V108.9M341.4 54.8V81.7M342.8 104.6V111.2M344.2 103.9V107.8M346.3 80.3V85.5M347 58.5V80.7M347.6 69V78.4M347.6 93.3V96.7M347.6 108.6V118.9M348.3 103.9V110.8M349 107V119.9M349.7 82.5V108.4M350.4 61.3V79.2M351.1 113.4V120.8M352.5 59.3V73.9M352.5 98.4V113.7M353.2 59.9V72.9M354.6 90.3V102.2M354.6 102.2V109.8M354.6 109.8V118.3M356 115.4V120.5M356.7 61.1V70.3M356.7 117.7V123.1M358.7 81.8V100.6M358.7 109V112.5M358.7 112.5V124M360.8 69.7V92.4M361.5 104.2V122.5M363.6 64.8V76.5M363.6 81.6V102.8M365 113.5V118.3M365.7 68.7V72.3M365.7 121V127M366.4 105.8V120.5M367.1 75.8V99M367.1 115.3V127.6M367.8 106.7V127.6M368.5 78.8V83.3M368.5 100.9V104.4M369.2 91.3V98.7M369.2 98.7V105.1M369.9 101.4V118.9M370.5 67.3V72.2M370.5 119.8V127.7M371.2 67.3V91.7M371.2 99.6V126.1M372.6 98V113.8M374.7 93.4V117M375.4 123.5V131.1M376.1 70.8V82.3M376.8 106.7V119.7M377.5 109.8V121.8M378.2 104.4V113.1M378.9 130V132.6M379.6 80.1V84.5M379.6 99.4V121.8M380.3 74.6V91.8M380.3 91.8V111.6M380.3 111.6V129.4M380.3 129.4V133.2M381 88.5V114.1M382.3 74.8V79.2M383.7 96.8V104M383.7 104V127.6M383.7 127.6V133.4M384.4 131.2V135M385.1 78V84.1M385.1 84.1V101.7M385.1 106.2V119.7M385.1 119.7V135.3M385.8 75.6V80.4M385.8 94.1V102.8M385.8 116.2V133.4M387.2 110.1V115.7M387.9 74.4V77.9M389.3 131.2V137M390 90.1V102.9M390.7 98.8V111.4M390.7 120.9V129.8M392.1 87.4V109.4M392.7 112.5V137M393.4 93.1V107.5M394.1 89.5V101.5M394.8 98.3V111.8M395.5 118.5V122.2M396.2 123.7V139.5M396.2 139.5V140M397.6 109.4V119.8M399 107V119.8M400.4 119.1V136.2M401.1 97.5V113.2M401.8 80.7V87.6M401.8 119.6V132.4M402.5 80.7V90M402.5 117.8V137.7M403.2 80.9V87.4M403.2 105.6V126.2M404.5 110.8V117M405.2 103.7V109.4M405.2 116.6V130.9M405.9 80.4V101.9M405.9 138.1V142.5M407.3 81.3V96.2M407.3 111.8V136.4M408 83.8V93.7M408.7 82.6V86.2M408.7 111V123.2M409.4 127.4V131.1M411.4 83.2V102.9M412.1 84.2V92.3M412.1 105.5V119.6M413.5 106.4V119.6M414.9 137.7V140.3M415.6 119.1V123.6M417.7 77.9V89.6M419 95.5V107.4M419 107.4V124.2M419.7 112.3V133M421.1 79.1V88.2M421.1 88.2V103.9M421.8 77V80.4M421.8 121.5V138.7M422.5 134.3V138.5M423.2 77.6V91.4M423.2 91.4V98.6M423.2 98.6V111.2M423.9 93.2V99.5M424.6 103.2V112M424.6 112V135M425.3 99.3V111M426 129.5V133.3M426.6 75.4V88.3M426.6 116.9V123.1M428 135.4V137.2M428.7 106.5V112.9M428.7 134.1V137M429.4 77V99.6M430.8 75.5V83.9M430.8 130.9V136.5M431.5 89.5V97M432.2 125.7V136.2M432.9 76.2V92.6M434.2 105.2V129.1M434.9 86.6V95.1M435.6 114.5V122.8M435.6 122.8V135.3M436.3 80.3V83.7M436.3 95.1V98.8M436.3 116.1V134.7M438.4 111.3V120.7M439.8 111.7V125.2M439.8 128.7V134.3M440.5 131.2V134.2M441.2 112.7V117.8M441.8 128.1V133.8M442.5 72V85.2M442.5 101.2V126.9M443.2 74.9V79.3M443.2 95.4V110.4M443.9 74.5V78.7M443.9 103.3V129.8M445.3 84.1V97M446 78.9V84.7M446 128V132.8M446.7 71V85M446.7 104V115.6M446.7 115.6V126.4M447.4 116.1V123.9M448.8 76.5V84.7M449.4 98.7V124.6M450.1 82.8V90.1M450.1 120.5V131.8M450.8 95.8V106.1M453.6 87.9V96.7M453.6 96.7V115.7M453.6 115.7V124.4M455 129.1V130.6M455.7 69.9V84M455.7 105.8V121.5M456.4 93.3V103.5M456.4 118.1V130.3M457 100V112.4M457.7 99.5V103.5M458.4 69.6V83M459.1 92.5V110.1M459.1 124.2V129.6M459.8 71.1V87.6M461.2 99.3V125.8M461.2 125.8V129.1M461.9 106V120.7M463.3 111.2V115.8M464 66.4V81.2M464 81.2V92.4M464.6 68.6V89.9M464.6 120.5V128.3M465.3 66.2V91.5M466.7 70V87.1M467.4 107.9V118.1M467.4 118.1V127.6M469.5 104.4V127.1M470.2 75.8V96.4M470.9 68.6V76.1M470.9 111.1V116.2M472.2 116.5V121.5M473.6 91.4V102.2M473.6 107.7V113.5M474.3 101.5V105.4M475.7 107.7V114.2M476.4 71.9V83.2M478.5 114.7V118.3M479.8 63.7V75.9M479.8 96.9V119M480.5 69.7V83.3M480.5 98.4V115.4M481.9 117.8V124.1M482.6 65.3V76.9M482.6 109.9V113.9M483.3 65.2V70.3M483.3 107.7V123.8M484 91.7V99.3M484.7 83.9V87.4M484.7 96.7V102.8M484.7 107.9V120.8M485.4 86.5V112.8M486.1 74V80.8M487.5 86.7V93.7" stroke="#5cb8a0"/>
<path d="M325.4 76.4V87M328.9 75.2V80.4M328.9 80.4V97.9M329.6 51V60.3M333.1 73.6V77.9M334.5 61.3V78.1M337.2 57.1V64.4M340 79.3V87.5M342.1 85.8V93.1M342.8 55.2V61M342.8 61V87.6M342.8 87.6V104.6M343.5 62.4V73M344.2 56.1V64.2M344.2 64.2V78.1M344.2 107.8V115M346.3 85.5V90.4M347.6 96.7V108.6M348.3 70.1V79.9M349 77.3V84.9M350.4 109.8V120.5M353.9 73.2V92.7M353.9 106V110.4M355.3 81.2V92.9M356.7 94V117.7M357.4 63.8V79.7M357.4 79.7V89.3M358.1 65.5V86.5M358.7 66.7V78.2M358.7 78.2V81.8M358.7 100.6V109M359.4 63V80.1M360.1 82.5V98.5M361.5 83.4V88.7M365.7 76.7V80.2M365.7 80.2V99M365.7 99V121M367.1 99V115.3M368.5 66.1V78.8M368.5 112.5V121.6M369.9 68.6V72.9M370.5 84.6V92.9M373.3 68.2V85.3M373.3 109.3V119M374 68.5V75.1M377.5 92.7V102.3M378.2 85.9V104.4M379.6 72V80.1M381 82V88.5M381.6 79.1V92.2M382.3 79.2V86.1M382.3 106.4V126.5M384.4 72.9V99.8M385.8 102.8V111M387.2 75.7V93.2M387.9 92.8V98.8M388.6 105.9V109.8M389.3 77.8V84.6M390 77.5V90.1M390 102.9V126.6M390.7 82.1V92.4M391.4 80.7V98.8M392.7 77.4V81.8M392.7 81.8V88.5M392.7 88.5V109M394.1 108.3V132.4M395.5 83V91.3M396.2 81V96.5M396.2 96.5V100.2M396.9 107.1V133.4M398.3 87.6V107.1M399 79.1V88.5M400.4 100.9V119.1M401.1 84V88.4M401.1 88.4V97.5M403.2 87.4V94.4M404.5 117V124.1M405.2 91.4V99.7M406.6 80.5V86.2M406.6 117.3V121.9M407.3 96.2V111.8M408 97.9V102.4M410.1 107.2V129.1M410.8 81V105.1M410.8 105.1V115.2M412.1 92.3V105.5M415.6 83.6V87.2M417.7 89.6V98.8M418.4 82.1V86.3M418.4 102.7V112.9M418.4 121.1V131M419 82V95.5M419.7 78.2V99.8M419.7 99.8V112.3M420.4 79V82.7M420.4 106.2V116.7M420.4 116.7V139M421.1 123.9V138.8M422.5 108.3V134.3M423.9 78.2V93.2M423.9 105.3V132.2M424.6 79V86.5M425.3 77.7V84.9M425.3 111V133.8M426 84.7V88.9M426.6 97.5V104.7M428 100.4V108.6M430.1 78.5V101.8M431.5 74.3V78.3M431.5 78.3V84.4M433.6 83.1V108.3M434.2 73.8V81.3M434.2 81.3V105.2M434.9 75.3V86.6M437 78.5V92.3M437 102.1V105.9M437.7 73V80.5M438.4 75.2V88.7M438.4 88.7V103.5M440.5 104.6V114.9M441.2 72.5V77.4M442.5 85.2V96.1M442.5 96.1V101.2M444.6 75V80.2M445.3 97V120.4M447.4 75V100.6M447.4 100.6V116.1M448.8 84.7V99.1M450.1 69.9V73.7M450.8 106.1V121.7M451.5 79.4V83.8M452.2 75.3V79.4M452.9 115.6V119.9M454.3 71.5V82.3M455 73.7V90.9M457 74.5V90.3M457.7 95.2V99.5M458.4 83V86.6M458.4 86.6V93.5M459.1 74.5V85.8M459.8 87.6V104.5M459.8 104.5V115.8M461.9 84.5V101.7M461.9 101.7V106M462.6 67.7V82.6M462.6 82.6V96.8M463.3 89.3V97.7M466 98.8V118.6M467.4 85V93.5M468.1 97.6V112.6M469.5 96.3V99.8M470.2 96.4V100.4M470.9 76.1V88.9M471.6 66.7V93.6M472.9 103.1V109M473.6 64.1V70.1M473.6 70.1V88M475 63.8V87.9M475 87.9V104.9M478.5 63V67M479.8 75.9V96.9M481.9 63.4V86.9M481.9 86.9V93.8M483.3 96.6V107.7M484 99.3V114.3M485.4 61.4V86.5M486.1 64.3V74M486.1 105.5V123.1M486.8 71.1V83.2M486.8 95.2V122.2M487.5 63.8V86.7" stroke="#8cc080"/>
<path d="M325.4 87V107.1M326.1 49V68.3M326.1 84.9V108.7M326.8 63.8V73.7M326.8 91.4V97.5M329.6 60.3V63.8M330.3 106.8V111.9M331 106.3V112.2M333.1 51V54.5M333.1 77.9V86.1M333.8 51.8V63M333.8 72.1V77.5M333.8 107V113.4M335.2 52.3V67.7M335.9 77.3V83.8M335.9 83.8V106.9M336.5 97.9V106.2M336.5 106.2V114.6M337.2 72.3V96.1M337.9 106.4V115.2M338.6 104.1V115.5M339.3 76V99.4M339.3 99.4V112.6M339.3 112.6V115.8M340 107.4V116.1M340.7 108.9V113M340.7 113V116.4M341.4 105.4V116.6M342.1 66.4V82.4M342.8 111.2V117.2M344.2 78.1V84.4M344.2 84.4V90.7M344.2 90.7V103.9M344.9 103.9V111.6M345.6 80.3V104.5M347 90.1V96.6M347 112.5V119M347.6 118.9V119.3M348.3 110.8V114.5M349.7 108.4V113.6M349.7 119.4V120.2M350.4 91.4V109.8M351.8 93.7V103.9M351.8 103.9V111.8M352.5 88.1V98.4M352.5 113.7V121.4M354.6 118.3V121.7M354.6 121.7V122.3M356 120.5V122.9M358.1 112.5V123.7M359.4 113V124.3M360.1 119.5V124.6M360.8 119.5V124.9M362.2 105.2V116.8M362.2 116.8V122.2M362.9 103.3V125.1M362.9 125.1V125.8M363.6 102.8V116.7M363.6 116.7V126.1M364.3 125.6V126.4M365 89.2V113.5M365 118.3V122M365.7 72.3V76.7M366.4 120.5V127.3M367.8 103V106.7M368.5 108.5V112.5M368.5 121.6V128.2M370.5 72.2V84.6M371.2 91.7V99.6M372.6 124.8V129.9M373.3 119V122.7M373.3 122.7V130.2M374 75.1V87.6M374 107.3V129.8M375.4 116.9V123.5M376.1 105.5V119.6M379.6 84.5V94.3M381 76V82M381.6 100.5V126.8M381.6 126.8V133.8M382.3 126.5V130.5M382.3 130.5V134.1M383 97.7V119.9M385.8 133.4V135.6M386.5 127.8V132.3M386.5 132.3V135.9M387.9 77.9V92.8M388.6 89V105.9M388.6 114V120.8M388.6 120.8V124.3M388.6 133.8V136.7M390 126.6V137.3M390.7 111.4V120.9M391.4 102.4V119.3M391.4 119.3V137.9M392.1 109.4V132.9M392.1 132.9V138.2M393.4 132.5V138.8M394.1 81.8V85.2M395.5 131.1V139.7M396.2 100.2V123.7M397.6 133.6V140.6M398.3 79.5V83.7M399.7 110V135.9M400.4 136.2V141.8M401.8 132.4V142.4M402.5 137.7V142.7M403.8 91.9V107.1M403.8 107.1V127.2M404.5 97.9V110.8M405.2 130.9V142.7M405.9 122.8V138.1M406.6 121.9V128.4M406.6 128.4V132.8M406.6 132.8V142.3M408 102.4V113.1M408 131.8V142M410.8 115.2V122.9M411.4 130.2V141.2M412.8 94.4V118.1M413.5 80.8V84.3M413.5 119.6V134.6M413.5 139.7V140.7M414.9 118.8V137.7M415.6 113.6V119.1M415.6 128.1V133.6M415.6 133.6V140.2M416.3 102.8V127.8M416.3 127.8V140M417 78V91.2M417 91.2V110.6M417 110.6V131.7M417 131.7V139.8M418.4 78.6V82.1M418.4 112.9V121.1M419.7 133V139.2M421.1 103.9V123.9M421.8 117.5V121.5M423.2 111.2V133.9M423.9 132.2V138.2M424.6 86.5V103.2M425.3 84.9V91.8M425.3 91.8V99.3M426 125.7V129.5M426 133.3V137.7M426.6 88.3V91.7M426.6 133.8V137.5M427.3 96.9V120.9M428 119.1V135.4M428.7 112.9V119.3M428.7 119.3V125.7M430.1 126.4V136.7M430.8 83.9V95M430.8 113.1V130.9M431.5 134.6V136.3M432.9 121.2V136M433.6 74.5V83.1M433.6 108.3V111.8M433.6 116.4V135.8M434.9 98.9V118.3M434.9 118.3V124M434.9 124V132.6M435.6 76.1V98.8M436.3 83.7V95.1M436.3 98.8V112.2M437 92.3V102.1M437 105.9V128.3M437 128.3V133.6M437.7 106V121.5M437.7 131.7V134.8M438.4 134.3V134.7M439.1 121.7V134.5M440.5 72.2V86.4M441.2 117.8V121.2M441.2 121.2V134M441.8 86.4V113.5M441.8 120.1V128.1M442.5 126.9V133.7M443.2 131.4V133.5M444.6 119V123.2M445.3 120.4V131.7M446 84.7V107.7M446 107.7V111.9M446.7 126.4V132.7M448.1 124.3V132.3M448.8 131.1V132.1M450.1 90.1V110.8M450.1 110.8V120.5M451.5 118.5V123.6M452.2 92.9V101.5M453.6 124.4V130.1M453.6 130.1V131M454.3 82.3V95.9M454.3 120.3V130.8M455 115V129.1M455.7 121.5V126.3M455.7 126.3V130.5M456.4 69.4V72.9M456.4 103.5V118.1M457.7 82.2V91M457.7 103.5V127.8M459.1 110.1V124.2M459.8 115.8V123.3M461.2 86.4V99.3M461.9 66.9V77.8M462.6 96.8V102.1M462.6 102.1V106.5M462.6 119.8V128.8M463.3 66.6V89.3M464 92.4V113.3M464 113.3V128.5M466.7 121.8V127.8M468.1 118.1V127.5M468.8 98.9V122.8M470.2 69.7V75.8M470.2 100.4V124.3M470.2 124.3V127M470.9 64.7V68.6M470.9 116.2V126.8M472.2 64.8V72.2M472.2 83.6V103.6M472.2 103.6V109.9M472.2 109.9V116.5M472.9 74.2V79.9M472.9 121.2V126.3M473.6 113.5V126.1M474.3 64.4V71.5M474.3 75V101.5M474.3 112.8V126M475 108.4V111.9M475 123.2V125.8M475.7 67.1V91.4M476.4 107.1V110.6M476.4 110.6V118.3M477.1 80.9V104M477.1 104V121.1M477.1 121.1V125.3M477.8 84.6V108.7M477.8 108.7V122.4M478.5 70.7V94.1M478.5 118.3V125M479.2 122.2V124.8M479.8 119V124.6M480.5 83.3V98.4M480.5 115.4V124.5M481.2 63.1V77.2M481.9 113.2V117.8M482.6 102.8V109.9M482.6 113.9V124M484 63.3V88.3M484 88.3V91.7M484.7 102.8V107.9M486.1 80.8V105.5M486.8 122.2V123M487.5 106.8V122.8" stroke="#4a78e0"/>
<path d="M325.4 107.1V109.8M326.8 108.3V110.4M327.5 66.1V93.1M328.2 81.8V96M331 54.2V75.4M332.4 56.8V70.9M335.9 106.9V114.3M336.5 54.3V59.4M337.2 64.4V72.3M337.9 81.1V89.3M339.3 54.2V61.4M341.4 92.3V96.5M342.1 103.7V107.5M342.1 107.5V116.9M343.5 105.9V117.5M344.2 115V117.8M344.9 111.6V118.1M345.6 104.5V112.1M345.6 112.1V118.4M348.3 79.9V103.9M348.3 114.5V119.6M351.8 111.8V121.1M353.9 61.5V73.2M353.9 110.4V122M355.3 105.3V119.7M356.7 70.3V79.9M358.1 94.9V112.5M360.8 116V119.5M361.5 93.8V104.2M362.2 122.2V125.5M365 126.5V126.7M367.8 80.7V103M367.8 127.6V127.9M368.5 83.3V100.9M369.2 70.6V91.3M369.9 118.9V128.8M371.2 126.1V129.4M374 87.6V91.5M374 129.8V130.5M374.7 79V93.4M376.8 80.5V87.9M377.5 121.8V132M378.2 113.1V132.3M382.3 86.1V106.4M383 119.9V129.1M385.8 111V116.2M388.6 124.3V133.8M389.3 116.5V131.2M397.6 119.8V133.6M398.3 132.4V140.9M399 123.3V141.2M401.1 139.8V142.1M407.3 136.4V142.2M408 118.9V131.8M408.7 128.7V141.8M409.4 131.1V141.7M410.1 129.1V138.5M410.1 138.5V141.5M410.8 137.1V141.3M412.8 134.5V140.8M413.5 134.6V139.7M414.2 114V121.4M415.6 87.2V103.6M418.4 131V139.5M423.2 133.9V138.3M425.3 133.8V137.8M426.6 111.2V116.9M427.3 120.9V137.3M429.4 109.7V131.1M430.8 99.5V113.1M431.5 84.4V89.5M431.5 97V110.2M432.2 113.6V125.7M434.2 129.1V135.7M437 133.6V135M437.7 121.5V131.7M438.4 120.7V134.3M443.9 89.2V99.8M443.9 129.8V133.3M444.6 108.6V119M444.6 123.2V133.2M445.3 131.7V133M448.1 104.4V124.3M449.4 89.5V98.7M449.4 124.6V132M450.8 121.7V131.6M452.2 128.9V131.3M457.7 67.9V82.2M459.8 123.3V128.1M459.8 128.1V129.5M461.9 120.7V129M463.3 115.8V122.2M463.3 122.2V128.6M464.6 112V120.5M465.3 120.1V128.1M466 118.6V128M466.7 90.6V101.4M466.7 101.4V106M466.7 106V121.8M467.4 93.5V107.9M468.8 122.8V127.3M470.9 88.9V111.1M472.2 72.2V83.6M472.2 121.5V126.5M476.4 118.3V125.5M479.2 105.9V122.2M481.2 77.2V96.5M484 114.3V117.8M484 117.8V123.6M484.7 120.8V123.5M487.5 93.7V106.8" stroke="#6a6ad8"/>
<path d="M326.1 48.1V49M326.8 48.4V54.7M327.5 48.7V50.4M328.2 49V55.3M328.9 49.2V51.2M329.6 49.5V51M330.3 49.8V51.4M331 50.1V54.2M331.7 50.4V55.7M333.8 51.3V51.8M335.2 51.9V52.3M335.9 52.2V58.6M336.5 52.5V54.3M337.9 53.1V53.6M338.6 53.4V56.7M339.3 53.7V54.2M340 54V59.2M344.2 55.8V56.1M345.6 56.3V56.7M346.3 56.6V61.5M347 56.9V58.5M347.6 57.2V57.8M348.3 57.5V58.8M349.7 58.1V60.1M350.4 58.4V61.3M351.1 58.7V61M351.8 59V60M353.2 59.6V59.9M353.9 59.9V61.5M354.6 60.2V64M355.3 60.5V61.2M356 60.8V68M357.4 61.4V63.8M358.1 61.7V65.5M358.7 62V66.7M359.4 62.3V63M360.1 62.6V63.9M360.8 62.8V64.6M361.5 63.1V64.1M363.6 64V64.8M364.3 64.3V66.3M365 64.6V70M366.4 65.2V72.1M367.1 65.5V66.1M367.8 65.8V69.5M369.2 66.4V70.6M369.9 66.7V68.6M370.5 67V67.3M371.9 67.6V74.5M372.6 67.9V71.9M374.7 68.8V71.9M375.4 69.1V75.5M376.1 69.3V70.8M377.5 69.9V71.6M378.9 70.5V73.3M379.6 70.8V72M380.3 71.1V74.6M381.6 71.7V79.1M382.3 72V74.8M383 72.3V73.7M383.7 72.6V73.4M385.1 73.2V78M385.8 73.5V75.6M386.5 73.8V76.7M387.2 74.1V75.7M389.3 75V77.8M390 75.3V77.5M390.7 75.6V76.9M391.4 75.9V80.7M392.1 76.1V81.5M392.7 76.4V77.4M393.4 76.7V82.2M394.1 77V78.2M395.5 77.6V83M396.2 77.9V81M396.9 78.2V85.2M397.6 78.5V79.6M398.3 78.8V79.5M399.7 79.4V82.1M400.4 79.7V80.6M401.1 80V84M401.8 80.3V80.7M403.8 80.9V82.6M404.5 80.8V83.6M405.2 80.6V85.4M407.3 80.1V81.3M408 79.9V83.8M408.7 79.8V82.6M409.4 79.6V83.6M410.1 79.4V80.2M410.8 79.3V81M411.4 79.1V83.2M412.1 78.9V80.8M412.8 78.8V83.2M413.5 78.6V80.8M414.2 78.4V78.7M415.6 78.1V83.6M416.3 77.9V84.7M417.7 77.6V77.9M418.4 77.4V78.6M419 77.3V82M419.7 77.1V78.2M420.4 76.9V79M421.1 76.8V79.1M421.8 76.6V77M423.2 76.3V77.6M423.9 76.1V78.2M424.6 75.9V79M425.3 75.8V77.7M429.4 74.8V77M430.8 74.4V75.5M432.9 73.9V76.2M433.6 73.8V74.5M434.9 73.4V75.3M435.6 73.2V76.1M436.3 73.1V80.3M437 72.9V78.5M438.4 72.6V75.2M439.1 72.4V77.1M439.8 72.2V73.6M441.2 71.9V72.5M441.8 71.7V74.3M442.5 71.6V72M443.9 71.2V74.5M444.6 71.1V75M445.3 70.9V72M446 70.7V72.9M446.7 70.6V71M447.4 70.4V75M448.1 70.2V71M448.8 70.1V76.5M449.4 69.9V72.9M450.8 69.6V76.8M452.2 69.2V75.3M452.9 69.1V72.3M453.6 68.9V71.5M454.3 68.7V71.5M455 68.6V73.7M455.7 68.4V69.9M456.4 68.2V69.4M457 68.1V74.5M458.4 67.7V69.6M459.1 67.6V74.5M459.8 67.4V71.1M461.2 67.1V68.1M462.6 66.7V67.7M464.6 66.2V68.6M466 65.9V67.4M466.7 65.7V70M467.4 65.6V67M468.1 65.4V67.7M468.8 65.2V69.9M469.5 65.1V68.9M470.2 64.9V69.7M471.6 64.6V66.7M472.2 64.4V64.8M472.9 64.2V66.5M474.3 63.9V64.4M476.4 63.4V64.9M477.1 63.2V66.6M479.2 62.7V67.2M479.8 62.5V63.7M480.5 62.4V69.7M481.2 62.2V63.1M481.9 62V63.4M482.6 61.9V65.3M483.3 61.7V65.2M484 61.5V63.3M484.7 61.4V61.9M486.1 61V64.3M487.5 60.7V63.8" stroke="#ece41e"/>
<path d="M326.1 78.8V84.9M330.3 73.9V86.1M337.9 59.4V81.1M340.7 54.3V61M340.7 61V74.5M341.4 96.5V105.4M343.5 73V88.8M344.9 68V71.9M346.3 106.9V110.7M349 57.9V77.3M349.7 60.1V82.5M351.1 61V67.8M353.2 103.9V121.7M357.4 89.3V104.8M366.4 87.8V91.6M367.8 75.9V80.7M369.2 113V128.5M371.9 74.5V95.5M371.9 124.7V129.7M372.6 89.4V98M374.7 71.9V79M378.9 73.3V97M381.6 92.2V100.5M389.3 84.6V92.4M392.7 109V112.5M396.9 85.2V88.7M398.3 127.5V132.4M399 88.5V107M399.7 90.3V110M400.4 80.6V100.9M405.9 101.9V122.8M406.6 86.2V90.6M406.6 108.2V117.3M409.4 83.6V87.4M412.1 80.8V84.2M414.9 78.3V85.9M430.1 101.8V126.4M432.2 105.2V113.6M432.9 92.6V97M444.6 98.7V102.6M452.9 72.3V78M457 90.3V100M457.7 91V95.2M461.2 68.1V86.4M468.8 79V98.9M472.9 66.5V74.2M473.6 88V91.4" stroke="#d8c848"/>
<path d="M326.1 108.7V110.1M326.8 54.7V63.8M327.5 50.4V66.1M327.5 93.1V97.6M328.2 65.2V81.8M328.9 51.2V54.8M328.9 97.9V106.8M329.6 81.4V95.7M330.3 51.4V73.9M331.7 55.7V69.4M331.7 81.4V89.9M332.4 50.7V56.8M333.1 54.5V73.6M333.1 96.1V113.1M334.5 110.3V113.7M335.2 75.1V98M336.5 85.8V97.9M337.2 96.1V101.6M338.6 56.7V60.7M338.6 60.7V84.9M340 87.5V107.4M340.7 74.5V85.4M342.1 93.1V103.7M343.5 88.8V98M343.5 98V105.9M346.3 110.7V118.7M347 80.7V90.1M347 96.6V112.5M347.6 78.4V93.3M348.3 58.8V70.1M349 84.9V107M349.7 113.6V119.4M352.5 73.9V78.3M353.2 72.9V87M353.9 92.7V101.8M356 88.6V115.4M358.1 86.5V94.9M359.4 80.1V85.8M359.4 85.8V109.1M360.1 63.9V82.5M361.5 122.5V125.2M362.2 83V100.9M362.2 100.9V105.2M362.9 88.5V103.3M363.6 76.5V81.6M364.3 94.1V116.5M364.3 116.5V125.6M366.4 72.1V87.8M366.4 91.6V105.8M367.1 66.1V75.8M369.2 105.1V113M370.5 96.5V112.5M370.5 112.5V119.8M370.5 127.7V129.1M371.9 120.1V124.7M374.7 117V130.8M376.8 119.7V131.7M377.5 102.3V109.8M378.9 97V119.1M379.6 94.3V99.4M379.6 128.9V132.9M381 132.2V133.5M383 129.1V134.4M384.4 124.5V131.2M385.8 87.4V94.1M386.5 92.5V116.1M386.5 116.1V127.8M387.2 93.2V110.1M387.2 115.7V136.2M387.9 98.8V125.5M387.9 125.5V136.4M388.6 109.8V114M390.7 76.9V82.1M390.7 92.4V98.8M390.7 129.8V137.6M391.4 98.8V102.4M392.7 137V138.5M393.4 107.5V132.5M394.8 77.6V98.3M396.9 102.9V107.1M398.3 83.7V87.6M398.3 107.1V127.5M399.7 82.1V90.3M399.7 135.9V141.5M401.8 102V119.6M403.2 126.2V131.7M403.2 131.7V143M403.8 82.6V91.9M403.8 127.2V143M404.5 124.1V142.8M408.7 123.2V128.7M409.4 103.4V127.4M412.8 83.2V86.6M412.8 86.6V94.4M412.8 118.1V122.4M414.2 78.7V97M414.2 97V102.7M414.9 108.4V118.8M416.3 84.7V102.8M417.7 104.3V121.3M417.7 121.3V139.7M419 124.2V139.3M420.4 82.7V106.2M422.5 93.6V108.3M424.6 135V138M426 75.9V84.7M426.6 91.7V97.5M428 96.7V100.4M428.7 100.6V106.5M429.4 99.6V109.7M429.4 131.1V136.8M432.9 97V100.6M433.6 111.8V116.4M434.9 132.6V135.5M436.3 112.2V116.1M436.3 134.7V135.2M437.7 80.5V106M438.4 103.5V111.3M439.1 77.1V103.4M439.8 125.2V128.7M443.2 110.4V131.4M443.9 78.7V89.2M445.3 72V84.1M446 111.9V116.8M448.1 71V83.8M448.1 83.8V90M448.1 90V104.4M449.4 72.9V89.5M451.5 96.4V113.9M451.5 113.9V118.5M452.2 101.5V125.1M452.9 111.4V115.6M452.9 119.9V131.1M454.3 116.9V120.3M455.7 84V105.8M457 112.4V130.1M457.7 127.8V130M458.4 93.5V103.9M458.4 103.9V129.8M460.5 89.3V102.2M464.6 89.9V112M465.3 91.5V114.3M466 95.4V98.8M467.4 67V71.1M467.4 71.1V85M468.1 93.1V97.6M471.6 93.6V111M472.9 85.7V103.1M475.7 63.6V67.1M475.7 114.2V125.6M476.4 64.9V71.9M477.8 63.3V67M477.8 122.4V125.1M482.6 76.9V102.8M485.4 112.8V123.3" stroke="#40b0d0"/>
<path d="M326.8 79.6V91.4M326.8 97.5V108.3M331.7 102.7V112.5M332.4 91.3V112.4M333.1 91.1V96.1M335.2 98V114M341.4 81.7V86M342.1 55.1V66.4M345.6 56.7V80.3M346.3 90.4V106.9M347.6 57.8V62.4M350.4 79.2V91.4M351.1 67.8V93.6M352.5 84.6V88.1M354.6 64V90.3M355.3 92.9V101.8M355.3 101.8V105.3M355.3 119.7V122.6M360.1 98.5V119.5M365 70V89.2M365 122V126.5M373.3 85.3V109.3M374 91.5V107.3M376.1 119.6V131.4M376.8 77.1V80.5M383 73.7V97.7M383.7 133.4V134.7M385.1 101.7V106.2M388.6 74.7V82.6M394.1 85.2V89.5M394.8 116.7V139.4M395.5 122.2V131.1M396.9 133.4V140.3M397.6 91.3V109.4M401.1 113.2V139.8M402.5 95.6V104.2M403.2 94.4V99.2M403.2 99.2V105.6M404.5 83.6V97.9M408.7 96.6V111M409.4 98.2V103.4M412.1 135.1V141M414.9 85.9V108.4M415.6 123.6V128.1M417.7 98.8V104.3M421.8 94.7V117.5M423.9 99.5V105.3M426 88.9V101.1M426.6 104.7V111.2M426.6 123.1V133.8M427.3 91V96.9M428 75.1V96.7M428.7 125.7V134.1M430.8 95V99.5M432.2 87V105.2M432.9 115.5V121.2M434.9 95.1V98.9M435.6 98.8V114.5M439.1 103.4V121.7M440.5 114.9V131.2M443.9 99.8V103.3M446 116.8V124.5M446 124.5V128M446.7 85V104M447.4 123.9V132.5M448.8 108.8V131.1M450.8 76.8V95.8M451.5 83.8V88.4M451.5 123.6V131.5M452.2 79.4V92.9M452.2 125.1V128.9M453.6 71.5V87.9M459.1 85.8V92.5M462.6 106.5V119.8M463.3 97.7V111.2M465.3 114.3V120.1M468.1 67.7V93.1M468.1 112.6V118.1M473.6 102.2V107.7M474.3 105.4V112.8M475.7 91.4V104.2M475.7 104.2V107.7M476.4 83.2V107.1M481.2 111.8V124.3M486.8 83.2V95.2" stroke="#50a0e0"/>
<path d="M329.6 63.8V81.4M334.5 78.1V84M335.2 67.7V75.1M339.3 61.4V76M342.1 82.4V85.8M343.5 55.5V62.4M351.8 60V84.6M360.8 92.4V98.3M361.5 88.7V93.8M362.9 67.5V88.5M364.3 66.3V90.5M367.8 69.5V75.9M369.9 72.9V83.5M372.6 113.8V124.8M375.4 96V116.9M376.8 87.9V106.7M377.5 71.6V92.7M378.2 70.3V85.9M379.6 121.8V128.9M381 71.4V76M383.7 73.4V96.8M384.4 99.8V124.5M394.1 101.5V108.3M401.8 87.6V102M408.7 86.2V96.6M413.5 99.7V106.4M415.6 103.6V113.6M418.4 86.3V102.7M422.5 76.5V93.6M426 101.1V125.7M432.2 74.2V87M432.9 100.6V115.5M441.2 77.4V99M441.2 99V112.7M441.8 74.3V86.4M441.8 113.5V120.1M443.2 71.5V74.9M451.5 69.6V74.5M451.5 74.5V79.4M456.4 72.9V93.3M460.5 102.2V106.4M461.9 77.8V84.5M469.5 86.7V96.3M475 104.9V108.4M477.8 67V84.6M479.2 80.8V105.9M484.7 87.4V96.7" stroke="#c8a070"/>
</g>
<path d="M325.1 109.7L403.5 143.1L403.5 141.6L325.1 108.2ZM403.5 143.1L487.8 122.7L487.8 121.2L403.5 141.6Z" fill="#3a38c4" opacity="0.75"/>
<path d="M325.1 109.7L403.5 143.1L403.5 142.5L325.1 109.1ZM403.5 143.1L487.8 122.7L487.8 122.1L403.5 142.5Z" fill="#3030b8"/>
<path d="M325.1 109.7L325.1 35.8M325.1 109.7L403.5 143.1L506.4 118.2M325.1 109.7h-1.2M325.1 97.4h-1.2M325.1 85.1h-1.2M325.1 72.8h-1.2M325.1 60.4h-1.2M325.1 48.1h-1.2M325.1 35.8h-1.2M403.5 143.1l-1.1 -0.5M424.1 138.1l-1.1 -0.5M444.7 133.1l-1.1 -0.5M465.2 128.2l-1.1 -0.5M485.8 123.2l-1.1 -0.5M506.4 118.2l-1.1 -0.5M403.5 143.1l1.2 -0.3M383.9 134.8l1.2 -0.3M364.3 126.4l1.2 -0.3M344.7 118l1.2 -0.3M325.1 109.7l1.2 -0.3" stroke="#4d4d4d" stroke-width="0.6" fill="none"/>
<g font-family="Liberation Sans, Arial, sans-serif" font-size="5.2" fill="#333333"><text x="321.1" y="111" text-anchor="end">0</text><text x="321.1" y="98.7" text-anchor="end">50</text><text x="321.1" y="86.4" text-anchor="end">100</text><text x="321.1" y="74" text-anchor="end">150</text><text x="321.1" y="61.7" text-anchor="end">200</text><text x="321.1" y="49.4" text-anchor="end">250</text><text x="321.1" y="37.1" text-anchor="end">300</text><text x="406.5" y="150.3">0</text><text x="427.1" y="145.3">1000</text><text x="447.7" y="140.3">2000</text><text x="468.2" y="135.4">3000</text><text x="488.8" y="130.4">4000</text><text x="509.4" y="125.4">5000</text><text x="399.2" y="150.3" text-anchor="end">0</text><text x="379.6" y="142" text-anchor="end">1000</text><text x="360" y="133.6" text-anchor="end">2000</text><text x="340.4" y="125.2" text-anchor="end">3000</text><text x="320.8" y="116.9" text-anchor="end">4000</text></g>
<path d="M339.7 278.3L339.7 209.8M357.6 273.4L357.6 204.9M375.4 268.5L375.4 200M393.3 263.5L393.3 195M411.1 258.6L411.1 190.1M429 253.7L429 185.2M339.7 278.3L429 253.7M497.9 286.1L429 253.7M339.7 266.9L429 242.3M497.9 274.7L429 242.3M339.7 255.5L429 230.9M497.9 263.3L429 230.9M339.7 244.1L429 219.5M497.9 251.9L429 219.5M339.7 232.6L429 208M497.9 240.4L429 208M339.7 221.2L429 196.6M497.9 229L429 196.6M339.7 209.8L429 185.2M497.9 217.6L429 185.2M497.9 286.1L497.9 217.6M480.7 278L480.7 209.5M463.4 269.9L463.4 201.4M446.2 261.8L446.2 193.3M429 253.7L429 185.2M408.6 310.7L339.7 278.3M426.5 305.8L357.6 273.4M444.3 300.9L375.4 268.5M462.2 295.9L393.3 263.5M480 291L411.1 258.6M497.9 286.1L429 253.7M408.6 310.7L497.9 286.1M391.4 302.6L480.7 278M374.1 294.5L463.4 269.9M356.9 286.4L446.2 261.8M339.7 278.3L429 253.7M429 253.7L429 185.2M339.7 209.8L429 185.2M497.9 217.6L429 185.2M497.9 286.1L497.9 217.6" stroke="#e6e6e6" stroke-width="0.6" fill="none"/>
<path d="M339.7 220.8L412.9 200.6L481.8 233L408.6 253.2Z" fill="#f4ef14"/>
<path d="M339.7 278.3L408.6 310.7L408.6 253.2L339.7 220.8ZM408.6 310.7L481.8 290.5L481.8 233L408.6 253.2Z" fill="#5f98c8"/>
<g filter="url(#sblur)" stroke-width="0.87" fill="none">
<path d="M340 220.9V237M340.7 221.3V223.9M341.4 221.6V226.3M342.1 221.9V222.6M342.8 222.2V233.4M343.5 222.6V232.7M344.2 222.9V229.9M344.9 223.2V225.9M345.6 223.5V229.5M346.3 223.9V226M347.7 224.5V235.2M348.4 224.9V238.5M349.1 225.2V226M349.8 225.5V241M350.5 225.8V237.9M351.2 226.2V226.6M351.9 226.5V236.9M352.6 226.8V232.9M353.3 227.1V229.7M354 227.5V231.3M355.4 228.1V234.3M356.1 228.5V230.4M356.8 228.8V229.6M357.4 229.1V235.2M358.1 229.4V239.3M358.8 229.8V235.6M359.5 230.1V240.9M360.2 230.4V239.4M361.6 231.1V243.5M362.3 231.4V238.3M363 231.7V242.7M363.7 232.1V241.3M364.4 232.4V235.8M365.1 232.7V245.4M365.8 233V246.4M366.5 233.4V237M367.2 233.7V236.6M367.9 234V238M368.6 234.3V245.3M369.3 234.7V238.6M370.7 235.3V248.2M371.4 235.7V238.8M372.1 236V242.1M372.8 236.3V244.3M373.5 236.6V241.5M374.1 237V251.9M374.8 237.3V253.8M375.5 237.6V238.3M376.2 237.9V238.4M376.9 238.3V239.2M377.6 238.6V243.8M378.3 238.9V245.6M379 239.3V251.9M379.7 239.6V254.1M380.4 239.9V244.1M381.1 240.2V241.6M381.8 240.6V241.8M382.5 240.9V250.2M383.2 241.2V245.9M383.9 241.5V247.2M384.6 241.9V255.8M385.3 242.2V250.3M386 242.5V242.9M386.7 242.9V253.4M387.4 243.2V243.5M388.1 243.5V246.6M388.8 243.8V260.2M390.2 244.5V253.7M390.9 244.8V248.9M391.5 245.1V261.7M392.2 245.5V254.1M392.9 245.8V250.5M394.3 246.5V251.5M395 246.8V261.3M395.7 247.1V252M396.4 247.4V250.6M397.1 247.8V251.8M397.8 248.1V248.6M398.5 248.4V263.5M399.2 248.7V257.2M399.9 249.1V254.8M400.6 249.4V251M401.3 249.7V251M402.7 250.4V262.6M403.4 250.7V251.5M404.1 251V251.7M404.8 251.4V264.7M405.5 251.7V259.6M406.2 252V263M406.9 252.3V264.9M407.6 252.7V266.7M408.3 253V256M408.9 253.1V261.9M409.6 252.9V265.8M410.3 252.7V255.4M411 252.5V253.2M411.7 252.3V261.8M412.4 252.1V256.4M413.8 251.7V252.6M415.2 251.4V258.2M415.8 251.2V258.3M416.5 251V262.6M417.2 250.8V264.9M417.9 250.6V267M418.6 250.4V265.2M419.3 250.2V264.5M420 250V259M421.4 249.6V250.3M422.1 249.5V260.9M422.7 249.3V252.5M423.4 249.1V255.4M424.1 248.9V257.6M424.8 248.7V250.1M425.5 248.5V249.5M426.2 248.3V254.7M426.9 248.1V256.7M427.6 247.9V259M428.3 247.7V255.8M429 247.6V253M429.6 247.4V261.3M430.3 247.2V247.7M431 247V256.5M431.7 246.8V247.5M432.4 246.6V252.3M433.1 246.4V247.9M433.8 246.2V258.8M434.5 246V254.2M435.2 245.8V258.1M435.9 245.7V248.5M437.2 245.3V247.5M437.9 245.1V260.7M438.6 244.9V251.8M439.3 244.7V245.2M440.7 244.3V253.1M441.4 244.1V246.2M442.1 243.9V258.2M442.8 243.7V248.1M443.5 243.6V248M444.1 243.4V245.4M444.8 243.2V244.4M445.5 243V245.5M446.2 242.8V250.4M446.9 242.6V252M447.6 242.4V253.9M448.3 242.2V248.9M449 242V251.5M449.7 241.8V243M450.4 241.7V243.2M451 241.5V248M451.7 241.3V257.4M452.4 241.1V244.9M453.1 240.9V253.8M453.8 240.7V251.4M454.5 240.5V251.9M455.2 240.3V243.3M455.9 240.1V249.9M456.6 239.9V240.5M457.3 239.8V244.4M458.6 239.4V247.6M459.3 239.2V253.4M460 239V254.2M460.7 238.8V244.8M461.4 238.6V254.7M462.1 238.4V247.3M462.8 238.2V246.4M463.5 238V248.9M464.2 237.9V252.2M464.8 237.7V243.4M465.5 237.5V242.3M466.2 237.3V240.1M466.9 237.1V239.7M467.6 236.9V246.6M468.3 236.7V244.4M469 236.5V237.9M469.7 236.3V241.1M470.4 236.1V237M471.1 236V239.7M471.7 235.8V249.9M472.4 235.6V244.1M473.1 235.4V239.9M473.8 235.2V239.3M474.5 235V245.4M475.2 234.8V243.2M475.9 234.6V250.7M476.6 234.4V243.7M477.3 234.2V250.1M478 234.1V244.4M478.6 233.9V236.8M479.3 233.7V235.1M480 233.5V245.9M480.7 233.3V240.1M481.4 233.1V234.3" stroke="#ece41e"/>
<path d="M340 237V260.6M340.7 237.5V250.5M341.4 226.3V232.5M341.4 264.8V277.2M341.4 277.2V279.1M343.5 272.4V280.1M344.2 252.6V263.3M344.9 275.7V280.8M347 224.2V241.2M347 247.2V251.8M347 271V275.5M348.4 260.3V267.4M348.4 281.4V282.4M349.1 266.8V271.1M349.1 271.1V274.4M349.8 266.1V275.9M350.5 263.6V266.8M350.5 266.8V275.7M350.5 275.7V283.4M351.9 246.4V259.4M351.9 268.5V273.4M351.9 273.4V284M352.6 262.2V270.4M352.6 270.4V284.4M354 241.5V250.1M354 250.1V254.2M354.7 267.6V285.3M355.4 284V285.7M356.1 262.5V282M356.8 229.6V238.7M356.8 277.2V286.3M357.4 266.7V283.3M357.4 283.3V286.6M358.1 274.3V287M358.8 278.9V287.3M359.5 255.9V276.5M359.5 276.5V287.6M360.9 267.9V288.3M361.6 288.3V288.6M362.3 248.6V272.8M363 260.8V271.9M363 280.3V289.3M363.7 259.9V264.2M363.7 272.5V279.3M364.4 275V289.9M365.8 265.3V272.3M365.8 272.3V282.3M368.6 290.7V291.9M369.3 251.2V273.1M369.3 273.1V292.2M370 283.3V292.5M370.7 256.8V271.2M370.7 278.3V282.2M370.7 282.2V287.4M370.7 287.4V292.9M371.4 266.6V270.1M371.4 290.6V293.2M372.1 289.2V293.5M373.5 250.5V253.9M373.5 253.9V279.1M374.1 255.6V274.5M374.1 278.5V283.2M374.1 283.2V294.5M374.8 253.8V268.5M374.8 268.5V290.6M375.5 238.3V249.4M375.5 289.8V294.2M375.5 294.2V295.2M376.2 238.4V243.8M377.6 291.4V296.1M379 272V275.3M379 279.3V291.3M381.1 288.3V297.8M381.8 262.5V269.5M382.5 285.6V292.8M382.5 292.8V298.4M383.2 258.3V262.5M384.6 280.6V285.9M384.6 285.9V299.4M385.3 293.6V299M386.7 253.4V258.9M386.7 258.9V269.4M388.1 295.7V301M388.8 263.5V283.6M389.5 265.9V284.7M390.2 295.2V298.7M390.2 298.7V302M390.9 259.9V274.7M390.9 294.9V299.1M390.9 299.1V302.4M392.2 290.7V303M394.3 302.2V304M395 278.8V302.7M397.1 303.7V305.3M397.8 290.5V297.8M397.8 297.8V305.6M398.5 263.5V273.2M398.5 273.2V276.5M399.2 270V283.8M399.2 303.3V306.3M399.9 288V292.9M400.6 285V296.3M400.6 296.3V305.1M400.6 305.1V306.9M401.3 287.5V306.3M402 277.6V288M402 288V307.6M402.7 284V307.9M403.4 251.5V262.1M403.4 303.6V308.2M404.1 264.8V269.9M404.8 269.2V272.5M405.5 284.4V296.7M406.2 306V309.6M406.9 286.9V307.3M407.6 266.7V278.6M407.6 301.6V310.2M408.9 297.8V310.6M410.3 306.6V310.2M411 277.2V297.2M411 297.2V301.6M411 301.6V308.5M411 308.5V310M411.7 293.4V297.9M411.7 297.9V304.1M411.7 309.8V309.8M412.4 308.1V309.7M413.1 274.9V285M413.8 306.4V309.3M414.5 282.6V298.2M414.5 298.2V309.1M415.8 284V290.2M415.8 304.1V308.7M416.5 289.1V294M417.9 267V279.9M418.6 279V282.9M419.3 264.5V267.7M419.3 267.7V273.8M419.3 286.9V307.8M420.7 304.8V307.4M421.4 277.9V284.4M421.4 303.9V307.2M422.7 301.9V306.8M423.4 270.1V284.2M423.4 294.3V304.8M423.4 304.8V306.6M424.1 292.4V295.7M424.8 250.1V270.3M424.8 270.3V274.3M425.5 272V291.8M426.2 290.7V294M426.2 297.9V305.9M426.9 294.1V301.5M426.9 301.5V305.7M427.6 259V280M427.6 305.4V305.5M428.3 277.1V290.2M429.6 298.7V304.9M430.3 293.6V304.7M431.7 247.5V262M431.7 289.8V304.3M432.4 252.3V260M432.4 269.5V290M432.4 290V296.6M432.4 296.6V301.9M433.1 269.3V292.9M433.8 262.6V282.6M433.8 291.7V295.9M434.5 292.9V303.6M435.2 263.4V268.5M435.2 300.3V303.4M435.9 289.5V303.2M437.2 265.3V271.3M437.2 293V300.5M437.2 300.5V302.8M437.9 291.2V302.6M439.3 253.8V269.5M439.3 278.5V298.9M440 278.1V284.2M440.7 277.4V296.7M440.7 296.7V301.9M441.4 246.2V267.2M442.1 258.2V271.3M442.8 248.1V257.1M442.8 257.1V267M444.1 256.8V271.1M444.1 271.1V274.9M444.1 299.2V300.9M444.8 244.4V267.9M444.8 286.4V300.7M445.5 278V288M446.2 280.6V296.3M447.6 297.4V300M449 264.5V283.8M449 283.8V299.6M449.7 258.3V265.9M450.4 284.8V299.2M451.7 264.8V268.7M451.7 280.5V293.8M451.7 293.8V298.8M452.4 297.6V298.6M453.1 297.3V298.4M453.8 278.3V283.7M453.8 295.9V298.2M454.5 259.6V266.3M454.5 270.3V286.6M454.5 286.6V289.9M455.2 293.2V297.9M455.9 249.9V261.4M456.6 292.8V297.3M456.6 297.3V297.5M457.3 290.8V297.3M457.9 259V263.1M457.9 263.1V281.6M458.6 259.6V263.7M458.6 279.4V286M458.6 289.3V293M458.6 293V296.9M459.3 293.1V296.7M460 261.1V266.3M460.7 283.9V296.3M461.4 286V296.2M462.8 246.4V263.7M462.8 263.7V268M463.5 292.6V295.6M464.2 262.8V267.3M464.2 295.1V295.4M466.2 283.7V290.3M466.9 277.2V287.5M468.3 285V294.3M469 265.6V274.5M469.7 264.8V281.6M471.1 239.7V254M471.1 275.3V278.5M471.7 267.6V285.5M472.4 280.4V292.3M473.1 264V278.9M473.8 291.5V292.7M474.5 267.5V290.2M474.5 290.2V292.5M475.9 285.2V292.2M476.6 279.8V290.5M476.6 290.5V292M477.3 250.1V273.2M478 269.9V291.6M479.3 262.1V272.2M479.3 280.5V291.2M480 245.9V252.5M480 266.6V280.2M480 283.4V291M481.4 268.9V277.4M481.4 277.4V290.6" stroke="#3c64e0"/>
<path d="M340 260.6V264.3M342.1 271.2V279.4M343.5 253.5V264.5M343.5 264.5V272.4M344.2 270.5V275.2M344.2 275.2V280.4M345.6 252.6V256.2M346.3 256.2V261.5M346.3 278.8V281.4M347 241.2V247.2M348.4 267.4V277.2M349.1 278.2V282.7M360.2 267.2V283.7M363.7 279.3V289.6M365.1 271.2V279.8M365.8 282.3V288.7M366.5 282.8V290.9M372.8 276.8V293.8M375.5 274.2V289.8M376.2 285.4V295.5M379 291.3V296.8M379.7 264.3V269.6M380.4 290.9V297.4M381.8 269.5V283.1M381.8 288.6V298.1M382.5 277.3V280.5M388.8 299V301.4M390.9 286.1V294.9M393.6 296V303.7M397.1 251.8V266.5M397.8 285.6V290.5M398.5 290.7V301.2M398.5 301.2V306M399.2 283.8V290.6M402 250.1V253.8M403.4 300.4V303.6M405.5 299.9V309.2M408.3 269.3V284.3M408.3 306.6V310.5M415.2 304V308.9M417.2 301.6V308.3M417.9 302.9V308.1M420 283.3V305M426.9 269.8V294.1M427.6 285.1V305.4M429.6 280.6V295.2M430.3 275.9V293.6M431.7 262V267.3M432.4 301.9V304.1M435.9 260.2V266.3M436.6 292.1V303M440 269.7V274.9M440 274.9V278.1M442.8 267V278.8M442.8 287.6V301.3M443.5 264.7V280.4M445.5 297.3V300.5M447.6 286.7V297.4M457.3 268V290.8M458.6 276.2V279.4M459.3 288.2V293.1M460.7 270.9V279.7M461.4 271.2V286M462.8 277.9V281.1M467.6 272.1V283.9M467.6 283.9V294.4M469 292V294.1M472.4 275.3V280.4M472.4 292.3V293.1M478.6 289.8V291.4M479.3 254V262.1" stroke="#5a5ad0"/>
<path d="M340 264.3V278.5M341.4 235.8V243M341.4 243V264.8M342.8 233.4V252.1M342.8 276.8V279.8M344.9 249.8V260.9M344.9 260.9V275.7M345.6 273.1V278.1M346.3 274V278.8M347.7 235.2V239.3M347.7 239.3V242.5M348.4 238.5V254.8M349.1 249.9V263.6M349.1 263.6V266.8M350.5 254.3V263.6M351.9 259.4V268.5M353.3 250V253.2M353.3 253.2V262.2M353.3 262.2V267.4M353.3 279.3V282.9M354 274.8V285M354.7 242.9V259.7M354.7 259.7V267.6M356.8 271.6V277.2M357.4 262.9V266.7M358.1 271V274.3M358.8 235.6V246.2M358.8 262.7V278.9M360.2 264V267.2M361.6 261.6V279M362.3 272.8V276M363.7 264.2V272.5M364.4 235.8V247.7M364.4 264.4V275M365.1 279.8V283.6M366.5 237V245.1M366.5 245.1V248.7M366.5 248.7V253.4M367.2 245.4V253.6M367.2 272.5V291.2M367.9 238V257.7M367.9 279.1V290.2M367.9 290.2V291.6M370 235.1V242.8M371.4 244.6V258.4M372.1 242.1V262.5M373.5 279.1V294.2M375.5 254.5V274.2M376.2 243.8V249.1M376.9 265.6V275M378.3 294V296.5M381.1 259.8V278.4M381.8 283.1V288.6M383.2 276.1V279.7M383.2 279.7V298.8M383.9 294.8V299.1M385.3 250.3V258.8M386 269.9V278.7M386 278.7V282.5M386 294V300.1M387.4 263.2V278.2M388.8 260.2V263.5M389.5 256.4V265.9M389.5 284.7V288.1M390.2 291.2V295.2M390.9 274.7V286.1M391.5 261.7V274.4M391.5 274.4V284.1M392.2 258.7V262.9M392.9 250.5V260.7M392.9 284.5V303.3M394.3 266.6V278.4M395.7 302.7V304.6M396.4 255V269.8M397.8 248.6V272.1M399.9 292.9V306.6M401.3 306.3V307.3M402.7 262.6V284M405.5 296.7V299.9M407.6 278.6V301.6M408.3 259.8V269.3M408.9 265.2V273.5M408.9 291.6V297.8M410.3 266.4V276.4M412.4 289.8V296.5M412.4 296.5V308.1M413.1 285V305.1M413.8 284.7V306.4M416.5 262.6V267.7M416.5 274.4V289.1M416.5 302.1V308.5M420.7 298.4V304.8M421.4 269V272.9M421.4 284.4V303.9M422.1 288.3V292.1M422.1 292.1V307M423.4 284.2V294.3M424.1 302.4V306.4M424.8 301V306.2M426.2 294V297.9M428.3 255.8V277.1M429 253V267.9M429 267.9V287.3M429 296.7V305.1M429.6 261.3V280.6M429.6 295.2V298.7M431 292.6V304.5M433.8 258.8V262.6M433.8 282.6V287.3M433.8 287.3V291.7M433.8 295.9V303.3M435.2 268.5V286.7M435.9 273.9V289.5M437.9 280.4V291.2M438.6 263.3V275.6M438.6 284.1V302.4M439.3 269.5V278.5M440.7 253.1V271.5M441.4 270.5V289M441.4 289V301.7M442.1 271.3V275.2M442.1 285.6V301.5M444.1 245.4V251.4M444.8 267.9V278.9M445.5 288V297.3M446.2 296.3V300.3M446.9 287.6V297M446.9 297V300.1M447.6 266.6V269.8M448.3 248.9V256.5M449 251.5V264.5M450.4 273.7V284.8M452.4 262.7V266.5M454.5 251.9V255.1M454.5 289.9V293.3M455.9 288.8V297.7M456.6 278.1V292.8M457.3 244.4V254.2M457.9 239.6V259M460 266.3V277.6M460 277.6V293.1M460 293.1V296.5M460.7 267.7V270.9M460.7 279.7V283.9M461.4 254.7V260.7M462.1 270.5V276.6M462.8 268V277.9M462.8 293.2V295.8M464.2 273.3V295.1M464.8 292.4V295.2M465.5 291.6V295M466.2 274.5V283.7M466.2 290.3V294.8M469 274.5V286.2M469 286.2V292M471.1 285.8V293.5M472.4 244.1V255M473.8 279.4V291.5M474.5 245.4V267.5M475.2 256.4V265.4M475.2 274.5V285.8M475.2 290V292.4M475.9 250.7V264.1M478.6 236.8V245M478.6 269.8V289.8M479.3 249.3V254M479.3 272.2V280.5M480.7 269.1V275.5M480.7 284.7V290.8M481.4 234.3V253.2" stroke="#5cbc98"/>
<path d="M340.7 223.9V237.5M341.4 232.5V235.8M343.5 232.7V242.8M344.2 263.3V270.5M345.6 229.5V252.6M346.3 231.6V235.5M346.3 261.5V270.7M347.7 260.6V282.1M348.4 254.8V260.3M351.2 231.5V236.9M351.9 236.9V246.4M352.6 232.9V255.6M354 254.2V274.8M356.1 239.8V262.5M356.8 242.4V267.4M357.4 235.2V239.2M358.1 248.1V266.6M360.2 239.4V264M360.2 283.7V288M363 275.6V280.3M364.4 257.4V264.4M365.1 252.3V271.2M365.8 246.4V265.3M365.8 288.7V290.6M369.3 243.4V251.2M372.1 262.5V280.6M372.8 251.4V264.8M373.5 241.5V250.5M377.6 275.2V291.4M378.3 250.8V263.7M379 251.9V272M379 275.3V279.3M381.8 252.2V262.5M383.2 255V258.3M385.3 299V299.7M386.7 273.7V285.6M387.4 243.5V258.8M388.1 246.6V269.4M389.5 244.4V256.4M392.2 254.1V258.7M392.2 266.1V290.7M393.6 253V277.4M393.6 277.4V290.1M393.6 290.1V296M394.3 251.5V266.6M395 261.3V278.8M395.7 276.1V284.7M395.7 284.7V302.7M397.1 266.5V288.5M399.2 290.6V303.3M400.6 264.1V285M401.3 267.2V287.5M402 270.7V277.6M403.4 262.1V281.4M404.1 251.7V264.8M404.1 281.9V295.9M406.2 267.3V292M409.6 282.5V297.6M415.2 258.2V280.2M415.8 258.3V278M417.2 277.4V285.8M417.2 285.8V290.1M417.2 290.1V296.8M418.6 265.2V279M420.7 285.3V298.4M422.7 252.5V276.7M424.1 274.6V278.9M424.8 274.3V286.8M426.2 287V290.7M429 287.3V296.7M431 277.6V284M432.4 260V269.5M433.1 247.9V258.5M434.5 262.9V276.3M435.2 258.1V263.4M435.2 286.7V300.3M437.2 271.3V275.9M438.6 251.8V263.3M439.3 298.9V302.2M440 244.5V255.5M440.7 271.5V277.4M442.8 278.8V287.6M445.5 245.5V256.2M446.2 266.1V280.6M446.9 263.5V287.6M447.6 253.9V260.9M447.6 260.9V266.6M449.7 243V258.3M449.7 278.4V287.6M450.4 243.2V247.5M451.7 268.7V280.5M453.1 253.8V267.6M453.8 251.4V273.9M455.2 246.6V252.5M460.7 244.8V249.2M460.7 249.2V257M460.7 261.5V267.7M462.1 247.3V270.5M462.8 281.1V293.2M463.5 248.9V263.3M464.2 267.3V273.3M464.8 259.9V267.6M465.5 242.3V258.2M465.5 281.9V291.6M466.2 240.1V244.6M466.9 239.7V248.6M466.9 248.6V252.1M466.9 252.1V277.2M468.3 244.4V261.2M469 237.9V243.1M469.7 241.1V264.8M471.1 254V258M473.1 249.3V254.4M473.1 254.4V264M473.8 239.3V244.2M477.3 273.2V291.8M478 244.4V250.4M480 252.5V266.6M480 280.2V283.4M480.7 240.1V243.8M480.7 275.5V279" stroke="#98c468"/>
<path d="M340.7 250.5V259.9M345.6 278.1V281.1M346.3 235.5V256.2M347 251.8V267.7M347 275.5V281.7M348.4 277.2V281.4M349.1 226V249.9M349.1 274.4V278.2M349.8 275.9V283M350.5 237.9V254.3M351.2 226.6V231.5M351.2 236.9V247.1M358.1 266.6V271M361.6 284V288.3M362.3 238.3V248.6M362.3 276V288.9M363 253.4V260.8M366.5 260V282.8M367.2 236.6V240.4M368.6 284V290.7M370 265.5V283.3M370.7 248.2V256.8M371.4 238.8V244.6M371.4 270.1V290.6M374.1 251.9V255.6M374.1 274.5V278.5M376.9 243.1V257.3M376.9 257.3V265.6M378.3 245.6V250.8M378.3 277.8V294M379.7 254.1V264.3M379.7 285.8V297.1M380.4 273.6V278.9M380.4 278.9V290.9M381.8 241.8V252.2M382.5 250.2V257.2M382.5 257.2V277.3M383.2 262.5V276.1M383.9 266.2V270.7M385.3 258.8V283.2M385.3 283.2V293.6M386.7 269.4V273.7M387.4 258.8V263.2M390.2 260.4V263.7M390.9 248.9V259.9M395 302.7V304.3M396.4 280.8V300M397.1 288.5V303.7M399.2 257.2V270M399.9 254.8V267.6M400.6 251V264.1M402 253.8V258.9M404.1 295.9V308.6M406.2 302.5V306M406.9 264.9V286.9M408.3 256V259.8M410.3 255.4V266.4M410.3 280.4V288M413.1 305.1V309.5M415.8 290.2V304.1M417.2 264.9V268.3M420.7 249.9V256.3M420.7 256.3V262.1M421.4 250.3V269M422.7 276.7V301.9M423.4 255.4V270.1M424.1 267.1V274.6M424.1 278.9V289.2M425.5 291.8V306M427.6 280V285.1M428.3 290.2V305.3M431 284V292.6M433.8 303.3V303.8M435.9 248.5V260.2M436.6 283.2V292.1M438.6 275.6V284.1M442.1 275.2V279.3M443.5 253.7V264.7M446.2 250.4V261.8M446.2 261.8V266.1M448.3 290.9V299.8M449.7 265.9V269.4M449.7 273.2V278.4M449.7 287.6V299.4M450.4 260.9V268.8M451 248V255.3M451 275.2V284.2M451 288.5V291.7M453.1 280.9V297.3M453.8 283.7V287.1M455.2 277.4V293.2M455.9 281V288.8M456.6 248.9V259.3M457.3 254.2V268M458.6 255.3V259.6M460.7 257V261.5M461.4 260.7V267.6M464.8 275.3V278.7M464.8 278.7V292.4M465.5 258.2V281.9M466.2 244.6V257.1M466.9 287.5V294.6M467.6 246.6V268.1M471.1 258V275.3M471.7 285.5V293.3M473.1 239.9V249.3M473.1 278.9V292.9M473.8 259.8V279.4M475.2 251.2V256.4M476.6 243.7V248.2M480.7 279V284.7M481.4 253.2V264.1" stroke="#40b0c8"/>
<path d="M340.7 259.9V276.7M342.1 222.6V233.9M347 267.7V271M352.6 255.6V262.2M355.4 234.3V244.8M356.1 282V286M358.1 239.3V248.1M368.6 266.4V284M369.3 238.6V243.4M372.1 280.6V289.2M372.8 264.8V276.8M388.8 283.6V299M395.7 252V276.1M396.4 269.8V280.8M399.9 267.6V288M405.5 259.6V267.4M412.4 267V285M413.8 258.1V275.2M413.8 275.2V284.7M415.2 280.2V287.1M416.5 267.7V274.4M417.9 279.9V288M422.1 260.9V285M430.3 254.3V275.9M433.1 258.5V269.3M434.5 254.2V262.9M437.2 247.5V265.3M442.1 279.3V285.6M451 291.7V299M451.7 257.4V264.8M456.6 259.3V278.1M458.6 263.7V276.2M466.2 257.1V263.4M467.6 268.1V272.1M469 255.4V265.6M475.9 264.1V285.2M478.6 245V269.8M479.3 235.1V249.3M481.4 264.1V268.9" stroke="#d0a860"/>
<path d="M340.7 276.7V278.8M342.1 233.9V249.3M346.3 270.7V274M349.8 241V266.1M351.2 247.1V261.6M353.3 267.4V271.1M353.3 282.9V284.7M355.4 263.9V284M356.8 267.4V271.6M361.6 243.5V261.6M365.1 283.6V290.2M367.2 253.6V272.5M374.8 290.6V294.8M376.9 283.8V295.8M377.6 250.3V275.2M379.7 269.6V285.8M381.1 278.4V288.3M382.5 280.5V285.6M384.6 269V280.6M386.7 300.3V300.4M387.4 278.2V300.7M392.9 260.7V266.9M396.4 300V305M398.5 287.3V290.7M403.4 281.4V300.4M404.1 277.4V281.9M405.5 267.4V284.4M406.2 292V302.5M406.9 307.3V309.9M408.3 291.7V306.6M408.9 273.5V291.6M409.6 265.8V282.5M409.6 297.6V310.4M410.3 276.4V280.4M410.3 300.5V306.6M411.7 261.8V281.9M411.7 285V293.4M411.7 304.1V309.8M414.5 251.8V271.2M415.8 278V284M417.2 268.3V277.4M420 274.3V283.3M420 305V307.6M421.4 272.9V277.9M422.1 285V288.3M424.1 257.6V267.1M431.7 267.3V289.8M433.1 292.9V301.9M433.1 301.9V304M434.5 276.3V279.8M437.9 260.7V280.4M441.4 267.2V270.5M443.5 280.4V301.1M444.1 274.9V299.2M448.3 270V290.9M451 255.3V275.2M451 284.2V288.5M454.5 266.3V270.3M454.5 293.3V298.1M455.2 252.5V277.4M455.9 261.4V281M457.9 281.6V297.1M458.6 286V289.3M463.5 288.2V292.6M464.8 267.6V275.3M470.4 237V249.9M471.1 278.5V285.8M475.2 285.8V290M476.6 266.6V279.8M480.7 243.8V260.2" stroke="#4a98e0"/>
<path d="M342.1 249.3V271.2M344.2 229.9V252.6M344.9 225.9V249.8M347.7 242.5V260.6M353.3 229.7V250M354 231.3V241.5M354.7 227.8V242.9M356.1 230.4V239.8M357.4 239.2V262.9M359.5 240.9V255.9M360.9 230.8V254.2M361.6 279V284M363 242.7V253.4M363 271.9V275.6M365.1 245.4V252.3M367.2 240.4V245.4M371.4 258.4V266.6M376.2 263.2V285.4M376.9 275V283.8M377.6 243.8V250.3M378.3 263.7V277.8M380.4 244.1V253.2M380.4 253.2V263.2M380.4 263.2V267.3M381.1 241.6V259.8M384.6 255.8V269M386 242.9V266.4M386 266.4V269.9M386 282.5V294M388.1 269.4V273.3M388.1 281.3V295.7M389.5 288.1V301.7M391.5 284.1V302.7M392.2 262.9V266.1M394.3 278.4V302.2M396.4 250.6V255M397.8 272.1V285.6M398.5 276.5V287.3M404.1 269.9V277.4M404.8 272.5V276.4M406.2 263V267.3M408.9 261.9V265.2M410.3 288V300.5M411.7 281.9V285M412.4 285V289.8M414.5 271.2V282.6M415.2 287.1V304M417.2 296.8V301.6M417.9 288V302.9M418.6 282.9V288.1M418.6 288.1V307.9M420 259V274.3M420.7 262.1V277.4M424.1 295.7V302.4M426.2 254.7V260.9M426.2 260.9V280.1M426.2 280.1V287M430.3 247.7V254.3M431 256.5V277.6M435.9 266.3V273.9M436.6 245.5V265.9M439.3 245.2V253.8M444.8 278.9V286.4M445.5 256.2V270.5M448.3 256.5V270M449.7 269.4V273.2M450.4 247.5V255.5M450.4 255.5V260.9M450.4 268.8V273.7M452.4 244.9V262.7M452.4 266.5V282.5M453.1 267.6V280.9M453.8 287.1V295.9M454.5 255.1V259.6M455.2 243.3V246.6M456.6 240.5V248.9M458.6 247.6V255.3M459.3 253.4V266.4M459.3 266.4V272.2M459.3 272.2V288.2M461.4 267.6V271.2M462.1 276.6V296M463.5 263.3V281.4M463.5 281.4V288.2M464.2 252.2V262.8M466.2 263.4V274.5M468.3 261.2V285M469 243.1V255.4M470.4 271.4V293.7M471.7 249.9V267.6M472.4 255V275.3M473.8 244.2V259.8M475.2 243.2V251.2M478 250.4V269.9M480.7 260.2V269.1" stroke="#c0c050"/>
<path d="M342.8 252.1V276.8M343.5 242.8V253.5M345.6 256.2V273.1M346.3 226V231.6M351.2 261.6V283.7M353.3 271.1V279.3M355.4 244.8V263.9M356.8 238.7V242.4M358.8 246.2V262.7M360.9 254.2V267.9M363.7 241.3V259.9M364.4 247.7V257.4M366.5 253.4V260M367.9 257.7V279.1M368.6 245.3V266.4M370 242.8V265.5M370.7 271.2V278.3M372.8 244.3V251.4M375.5 249.4V254.5M376.2 249.1V263.2M376.9 239.2V243.1M380.4 267.3V273.6M383.2 245.9V255M383.9 247.2V266.2M383.9 270.7V294.8M386.7 285.6V300.3M388.1 273.3V281.3M390.2 253.7V260.4M390.2 263.7V282.4M390.2 282.4V291.2M392.9 266.9V284.5M393.6 246.2V253M401.3 251V267.2M402 258.9V267.5M402 267.5V270.7M404.8 264.7V269.2M404.8 276.4V287.5M404.8 287.5V308.9M408.3 284.3V291.7M411 253.2V277.2M412.4 256.4V267M413.1 251.9V274.9M413.8 252.6V258.1M416.5 294V302.1M419.3 273.8V286.9M420.7 277.4V282.2M420.7 282.2V285.3M424.1 289.2V292.4M424.8 286.8V301M425.5 249.5V272M426.9 256.7V269.8M434.5 279.8V292.9M436.6 265.9V283.2M437.2 275.9V281.3M437.2 281.3V285.1M437.2 285.1V293M440 255.5V269.7M440 284.2V302M443.5 248V253.7M444.1 251.4V256.8M445.5 270.5V278M446.9 252V263.5M447.6 269.8V286.7M452.4 282.5V297.6M453.8 273.9V278.3M460 254.2V261.1M464.8 243.4V259.9M469.7 281.6V293.9M470.4 249.9V271.4M475.2 265.4V274.5M476.6 248.2V266.6" stroke="#e0d040"/>
</g>
<path d="M339.7 278.3L408.6 310.7L408.6 309.3L339.7 276.9ZM408.6 310.7L481.8 290.5L481.8 289.2L408.6 309.3Z" fill="#3a38c4" opacity="0.75"/>
<path d="M339.7 278.3L408.6 310.7L408.6 310.1L339.7 277.7ZM408.6 310.7L481.8 290.5L481.8 290L408.6 310.1Z" fill="#3030b8"/>
<path d="M339.7 278.3L339.7 209.8M339.7 278.3L408.6 310.7L497.9 286.1M339.7 278.3h-1.2M339.7 266.9h-1.2M339.7 255.5h-1.2M339.7 244.1h-1.2M339.7 232.6h-1.2M339.7 221.2h-1.2M339.7 209.8h-1.2M408.6 310.7l-1.1 -0.5M426.5 305.8l-1.1 -0.5M444.3 300.9l-1.1 -0.5M462.2 295.9l-1.1 -0.5M480 291l-1.1 -0.5M497.9 286.1l-1.1 -0.5M408.6 310.7l1.2 -0.3M391.4 302.6l1.2 -0.3M374.1 294.5l1.2 -0.3M356.9 286.4l1.2 -0.3M339.7 278.3l1.2 -0.3" stroke="#4d4d4d" stroke-width="0.6" fill="none"/>
<g font-family="Liberation Sans, Arial, sans-serif" font-size="5.2" fill="#333333"><text x="335.7" y="279.6" text-anchor="end">0</text><text x="335.7" y="268.2" text-anchor="end">50</text><text x="335.7" y="256.8" text-anchor="end">100</text><text x="335.7" y="245.4" text-anchor="end">150</text><text x="335.7" y="233.9" text-anchor="end">200</text><text x="335.7" y="222.5" text-anchor="end">250</text><text x="335.7" y="211.1" text-anchor="end">300</text><text x="411.6" y="317.9">0</text><text x="429.5" y="313">1000</text><text x="447.3" y="308.1">2000</text><text x="465.2" y="303.1">3000</text><text x="483" y="298.2">4000</text><text x="500.9" y="293.3">5000</text><text x="404.3" y="317.9" text-anchor="end">0</text><text x="387.1" y="309.8" text-anchor="end">1000</text><text x="369.8" y="301.7" text-anchor="end">2000</text><text x="352.6" y="293.6" text-anchor="end">3000</text><text x="335.4" y="285.5" text-anchor="end">4000</text></g>
<path d="M340 448.3L340 379.8M357.9 443.4L357.9 374.9M375.8 438.5L375.8 370M393.6 433.5L393.6 365M411.5 428.6L411.5 360.1M429.4 423.7L429.4 355.2M340 448.3L429.4 423.7M498 456.1L429.4 423.7M340 436.9L429.4 412.3M498 444.7L429.4 412.3M340 425.5L429.4 400.9M498 433.3L429.4 400.9M340 414.1L429.4 389.5M498 421.9L429.4 389.5M340 402.6L429.4 378M498 410.4L429.4 378M340 391.2L429.4 366.6M498 399L429.4 366.6M340 379.8L429.4 355.2M498 387.6L429.4 355.2M498 456.1L498 387.6M480.9 448L480.9 379.5M463.7 439.9L463.7 371.4M446.5 431.8L446.5 363.3M429.4 423.7L429.4 355.2M408.6 480.7L340 448.3M426.5 475.8L357.9 443.4M444.4 470.9L375.8 438.5M462.2 465.9L393.6 433.5M480.1 461L411.5 428.6M498 456.1L429.4 423.7M408.6 480.7L498 456.1M391.5 472.6L480.9 448M374.3 464.5L463.7 439.9M357.1 456.4L446.5 431.8M340 448.3L429.4 423.7M429.4 423.7L429.4 355.2M340 379.8L429.4 355.2M498 387.6L429.4 355.2M498 456.1L498 387.6" stroke="#e6e6e6" stroke-width="0.6" fill="none"/>
<path d="M340 390.8L413.2 370.6L481.8 403L408.6 423.2Z" fill="#f4ef14"/>
<path d="M340 448.3L408.6 480.7L408.6 423.2L340 390.8ZM408.6 480.7L481.8 460.5L481.8 403L408.6 423.2Z" fill="#5f98c8"/>
<g filter="url(#sblur)" stroke-width="0.87" fill="none">
<path d="M340.3 390.9V392.7M341 391.3V396.5M341.7 391.6V402.7M342.4 391.9V407M343.1 392.2V408.6M343.8 392.6V407.9M344.5 392.9V407.6M345.2 393.2V405.3M345.9 393.5V403.7M347.3 394.2V399.2M348 394.5V397.1M348.7 394.9V403M349.4 395.2V400.1M350 395.5V402.5M350.7 395.8V396.8M351.4 396.2V397.3M352.1 396.5V397.4M352.8 396.8V407.6M354.9 397.8V400.9M355.6 398.1V410.8M357 398.8V400M357.7 399.1V402.7M358.4 399.4V415M359.1 399.8V414M359.7 400.1V400.5M360.4 400.4V407.6M361.1 400.7V411.6M361.8 401.1V402.2M362.5 401.4V412.2M363.2 401.7V402.5M363.9 402.1V404.5M364.6 402.4V413.8M365.3 402.7V416.2M366 403V419.2M366.7 403.4V405.3M367.4 403.7V412.9M368.1 404V406.2M368.8 404.3V413.6M369.4 404.7V410.3M370.1 405V405.6M370.8 405.3V408M371.5 405.7V408.9M372.2 406V410.2M372.9 406.3V408.2M373.6 406.6V413.3M374.3 407V417.3M375 407.3V414.2M375.7 407.6V423M376.4 407.9V423.2M377.1 408.3V412.9M377.8 408.6V411.2M378.5 408.9V410.5M379.2 409.3V414M379.8 409.6V412.7M380.5 409.9V411.8M381.2 410.2V419M381.9 410.6V426.2M382.6 410.9V420.2M383.3 411.2V426.4M384 411.5V415.3M384.7 411.9V420.4M385.4 412.2V416.2M386.1 412.5V414.2M386.8 412.9V414M387.5 413.2V416.3M388.2 413.5V420.2M388.9 413.8V418.3M389.5 414.2V418.4M390.2 414.5V431.7M390.9 414.8V415.2M391.6 415.1V415.6M392.3 415.5V416.4M393 415.8V428M394.4 416.5V418.3M395.1 416.8V421.9M395.8 417.1V423.7M396.5 417.4V432.8M397.2 417.8V418.2M397.9 418.1V430.9M399.2 418.7V420.8M399.9 419.1V430.2M400.6 419.4V420.1M401.3 419.7V423M402 420.1V427.1M402.7 420.4V433.6M403.4 420.7V434.5M404.1 421V427.5M404.8 421.4V436.9M405.5 421.7V424.8M406.2 422V428.2M406.9 422.3V428.9M407.6 422.7V426.2M408.3 423V429.4M408.9 423.1V427.7M409.6 422.9V435.5M410.3 422.7V423.1M411 422.5V436.9M411.7 422.3V426.2M412.4 422.1V428.3M413.1 421.9V432.5M413.8 421.7V436.7M415.2 421.4V430.5M416.5 421V424.1M417.2 420.8V426.1M417.9 420.6V423.1M418.6 420.4V429.7M419.3 420.2V423M420 420V420.5M420.7 419.8V435.7M421.4 419.6V434.3M422.1 419.5V421.6M422.8 419.3V426.6M423.5 419.1V425.8M424.1 418.9V419.7M424.8 418.7V423.6M425.5 418.5V421.4M426.2 418.3V427.4M426.9 418.1V420.5M427.6 417.9V424M428.3 417.7V418.4M429.7 417.4V422.6M430.4 417.2V425.4M431.1 417V422.1M431.7 416.8V418.1M432.4 416.6V427.1M433.1 416.4V416.9M433.8 416.2V417.5M434.5 416V423.5M435.2 415.8V417.3M435.9 415.7V432.3M436.6 415.5V416.9M437.3 415.3V417.2M438.7 414.9V416.8M439.3 414.7V426M440 414.5V421M440.7 414.3V428M441.4 414.1V417.8M442.1 413.9V428.3M443.5 413.6V415.1M444.2 413.4V415.6M444.9 413.2V424.7M445.6 413V414.5M446.3 412.8V418.4M446.9 412.6V418M447.6 412.4V419.4M448.3 412.2V414.7M449.7 411.8V429M450.4 411.7V426.8M451.1 411.5V414.1M451.8 411.3V420.7M452.5 411.1V426.4M453.2 410.9V414.2M453.9 410.7V415.9M454.5 410.5V423.3M455.2 410.3V417.4M455.9 410.1V418.7M456.6 409.9V411.2M457.3 409.8V414.5M458 409.6V423M458.7 409.4V420.4M459.4 409.2V413.5M460.1 409V410.9M460.8 408.8V416M461.5 408.6V420.5M462.1 408.4V423M462.8 408.2V418.1M463.5 408V413.7M464.2 407.9V420.5M464.9 407.7V414.4M465.6 407.5V421.9M466.3 407.3V411.4M467 407.1V423.5M467.7 406.9V407.4M468.4 406.7V420.1M469.1 406.5V413.1M469.7 406.3V422.1M470.4 406.1V421M471.1 406V415.8M471.8 405.8V417.6M472.5 405.6V407.6M473.2 405.4V416M473.9 405.2V411.3M474.6 405V405.5M475.3 404.8V413M476 404.6V406.5M476.7 404.4V419M477.3 404.2V417.9M478 404.1V407.6M478.7 403.9V409.6M479.4 403.7V404.7M480.1 403.5V415.4M480.8 403.3V408.2M481.5 403.1V413" stroke="#ece41e"/>
<path d="M340.3 392.7V404.7M343.1 418.1V424.9M343.1 433.4V446.5M343.1 446.5V449.8M345.9 411.1V435.8M346.6 407.6V412.7M348 433.8V442.9M348 442.9V446.1M349.4 400.1V413.4M350.7 404.3V425.9M354.2 421.7V433.3M354.2 433.3V455M355.6 452.8V455.7M356.3 430.5V434.2M356.3 441.3V449.1M357 446.4V454.8M359.1 432.8V449.9M360.4 426.6V444.7M361.1 434.8V442M361.8 408.1V425.8M361.8 425.8V433.9M361.8 441.6V445.3M362.5 434.6V446M363.2 443.6V448.7M363.9 404.5V420.8M364.6 439V458.7M364.6 458.7V459.9M365.3 425V449M365.3 454.6V460.2M366.7 405.3V426.3M367.4 412.9V416.1M367.4 416.1V425.6M370.1 436.1V449.5M370.8 461.1V462.9M371.5 408.9V416.3M372.2 449.5V454.6M374.3 420.5V435.6M374.3 435.6V447.1M374.3 447.1V452.2M375.7 446.2V465.2M377.1 438.2V442.8M377.1 442.8V458.9M379.2 423V426.4M379.8 433.8V452.4M380.5 418V432.2M380.5 436V460.3M383.3 426.4V434.4M383.3 455.3V468.8M386.1 438.4V450.9M386.1 450.9V469.4M386.8 447V450.7M386.8 456.2V470.1M387.5 447.2V452.4M388.2 420.2V437.3M388.9 443.6V468.4M389.5 442.1V465.7M390.9 415.2V432M390.9 446.8V453.2M391.6 415.6V422.4M392.3 443V449.5M393.7 421.1V430.6M393.7 456.2V470.4M394.4 441.3V461.2M395.1 456.5V465.6M395.8 423.7V432.6M396.5 446.6V459.4M397.2 418.2V433.5M399.2 458.4V473.9M401.3 466.2V477.3M403.4 453.4V469.1M404.8 470.6V478.9M405.5 439.4V463.6M405.5 463.6V474.1M406.2 437.9V441.5M406.9 428.9V450.5M409.6 460.3V468.9M410.3 447.7V451.4M411 456.7V465.9M412.4 428.3V433.5M412.4 455.6V467.3M414.5 421.7V430.5M414.5 449.1V454.5M415.2 461.8V473.7M417.2 438V447.8M418.6 429.7V446.8M418.6 446.8V457.3M419.3 448.5V457.4M420 432.4V453.5M420.7 435.7V446.1M420.7 452.3V457.2M420.7 474V477.4M422.1 421.6V432.8M423.5 473.1V476.6M426.2 461.3V468.4M426.9 461.9V475.7M427.6 424V433.4M427.6 447.9V470.8M428.3 451.7V455.9M429.7 422.6V429.4M429.7 445.8V463.2M431.1 442.5V448.5M431.7 450V454.9M432.4 427.1V444.7M432.4 472.1V474.1M433.1 434.9V443.2M435.2 417.3V437.2M435.2 437.2V444.3M437.3 446.6V469.2M438.7 439.1V446.2M438.7 455.1V461.8M440 431.6V441.4M442.1 467.1V471.5M443.5 428.2V448.6M444.2 421.3V443.4M444.2 443.4V451.9M444.2 468V470.9M445.6 414.5V418.4M445.6 418.4V431.8M445.6 455.4V465.4M447.6 445.4V448.5M448.3 451.1V454.7M448.3 454.7V462.7M449.7 439.3V458.9M450.4 447V463.1M451.8 456.7V468.8M454.5 466.4V468.1M455.2 417.4V437.2M456.6 443.1V459.8M458 447.3V451.5M458.7 455.1V458.3M460.8 416V430.2M464.9 435.7V448.1M464.9 461.4V465.2M465.6 455.5V465M466.3 424.9V430.6M468.4 448.3V452.8M469.7 449.4V460.8M471.1 415.8V429.1M471.1 438.7V463.5M472.5 444.4V452.8M473.9 411.3V425M474.6 410.3V415.1M474.6 415.1V430.6M474.6 445.5V462.5M476 431.4V450.9M476 450.9V454.5M476.7 419V423.2M476.7 441.5V451.2M478 415V436.3M478 449.4V453.6M480.1 453.7V456.9M480.8 408.2V430.3M481.5 418.1V431" stroke="#5cbc98"/>
<path d="M340.3 404.7V418.3M341.7 429.5V449.1M343.1 408.6V418.1M347.3 410.7V424M348 397.1V421.6M348.7 438.3V441.8M349.4 421.4V429.5M350 430.9V440.4M352.8 450.3V454.4M354.9 441.7V455.3M355.6 410.8V414M357.7 432.9V444.7M359.1 414V432.8M359.7 429.4V449.8M363.2 406.4V429M363.9 420.8V441.4M364.6 418.2V428.7M366 444.8V449.8M367.4 425.6V430.9M368.8 434.6V458.7M369.4 418V433.6M369.4 433.6V438.5M371.5 444V462.4M372.2 427.6V445.1M373.6 413.3V426.3M373.6 426.3V450.9M377.1 412.9V430.6M382.6 443.2V460.4M383.3 450.6V455.3M385.4 452.7V456.4M387.5 416.3V429.9M387.5 452.4V462.6M388.2 437.3V452.1M390.9 432V443.4M392.3 416.4V423.4M392.3 423.4V435M393 431.2V443M393.7 430.6V434M393.7 470.4V473.7M394.4 422.6V441.3M395.1 437.1V456.5M397.2 444.8V468.8M398.6 424.3V428M401.3 423V446.7M402 427.1V437.2M402 437.2V446.9M406.2 428.2V437.9M406.9 450.5V471.6M408.3 429.4V452.2M411.7 433.2V444.7M412.4 467.3V475.2M415.9 440V450.7M416.5 424.1V449.3M417.9 457V477.1M418.6 457.3V463.2M421.4 465.7V473M422.1 453.9V465M422.8 435.1V439.8M422.8 456.3V476.7M424.1 445.3V449.6M424.8 423.6V448.7M424.8 448.7V454.9M426.9 444V461.9M429.7 429.4V433.6M430.4 459.1V468.3M431.1 454.6V469.4M431.7 425.6V431.4M433.1 416.9V434.9M433.1 452.7V461.4M436.6 416.9V429M436.6 429V437.7M438 449.2V456.2M438.7 416.8V420.9M440 421V431.6M442.8 430.5V447.8M442.8 447.8V465.9M443.5 448.6V460.1M443.5 460.1V464.4M445.6 431.8V455.4M446.3 418.4V430M446.9 432.9V437.1M448.3 414.7V428.8M449 416.7V437.3M451.1 454.5V469M451.8 447.3V456.7M458 426.2V440.3M458 440.3V447.3M458.7 420.4V428.8M459.4 413.5V435.2M464.2 428.3V433.1M467 448.8V459.1M467.7 407.4V429M467.7 445.7V452.1M468.4 452.8V458M469.1 433.3V438.7M470.4 439.8V444.2M471.1 429.1V438.7M475.3 419.9V434.7M475.3 445.5V450.7" stroke="#98c468"/>
<path d="M340.3 418.3V421.8M340.3 421.8V442M341 436.9V448.8M342.4 425.4V446.9M342.4 446.9V449.4M343.8 428.6V444M344.5 441.9V450.4M345.2 421V442.2M345.2 442.2V450.8M345.9 435.8V451.1M346.6 394.2V407.6M346.6 412.7V426.4M347.3 449.2V451.7M348 421.6V433.8M348 446.1V452.1M348.7 421.1V438.3M348.7 441.8V452.4M349.4 436.3V452.7M350 425.1V430.9M350.7 425.9V431.5M350.7 431.5V443.2M351.4 418.3V425.9M352.1 431.5V454M352.8 439.2V446.7M355.6 414V434.9M356.3 401.9V406M356.3 449.1V456M357 419.7V428M357 454.8V456.3M358.4 442V452.1M359.1 453.8V457M359.1 457V457.3M359.7 404.3V409.2M359.7 409.2V429.4M360.4 407.6V426.6M360.4 444.7V458M361.1 411.6V434.8M361.1 442V458.3M361.8 445.3V458.6M363.2 448.7V455.8M363.9 441.4V447.7M363.9 450.9V459.3M363.9 459.3V459.6M365.3 449V454.6M366.7 435.6V439.3M366.7 439.3V459.3M367.4 454.8V461.2M368.1 406.2V421.4M368.1 455.1V461.6M368.8 458.7V461.9M369.4 438.5V452.7M370.1 449.5V462.5M370.8 408V412.8M370.8 457.8V461.1M371.5 440.1V444M371.5 462.4V463.2M372.2 454.6V463.5M372.9 408.2V426.7M374.3 455.5V464.5M375 442.5V456.5M375 456.5V464.5M375.7 430.2V446.2M377.1 430.6V434.6M378.5 432.2V442.3M378.5 442.3V447.5M378.5 447.5V456.4M378.5 456.4V459.7M378.5 459.7V464.4M378.5 464.4V466.5M379.2 426.4V435.1M379.2 435.1V459.3M379.2 459.3V463.1M379.8 412.7V416.9M379.8 452.4V467.1M380.5 460.3V463.5M380.5 463.5V467.2M380.5 467.2V467.4M381.9 446.9V467.4M381.9 467.4V468.1M384 426V442.5M384 452.7V468.2M384.7 468.7V469.4M385.4 416.2V440M385.4 440V452.7M385.4 456.4V462.2M385.4 466.6V469.7M386.8 414V418.9M386.8 418.9V438.6M387.5 462.6V466.2M387.5 466.2V470.7M388.2 457.4V471M389.5 465.7V471.7M390.2 454.4V472M390.9 460.8V472.4M391.6 468.5V472.7M392.3 471.2V473M393 428V431.2M393 443V447.6M393.7 416.2V421.1M394.4 461.2V467.7M395.1 465.6V470.3M396.5 432.8V446.6M396.5 459.4V470.1M397.2 473.9V475.3M397.9 468.8V475.2M398.6 462.8V476M399.2 431.4V443.5M399.2 473.9V476.3M399.9 469.9V473.9M399.9 473.9V476.6M400.6 459.2V476.9M402 446.9V466.9M402.7 438.5V458.7M402.7 458.7V464.9M402.7 477.3V477.9M403.4 469.1V478.2M404.8 464.4V470.6M406.2 473.8V479.6M406.9 471.6V479.6M406.9 479.6V479.9M407.6 441V454.1M407.6 459.6V473.4M407.6 473.4V477.1M407.6 477.1V480.2M408.9 427.7V443.4M408.9 475.3V480.6M409.6 435.5V449M409.6 478.3V480.4M410.3 469.1V472.6M410.3 472.6V480.2M411 465.9V480M412.4 433.5V455.6M413.1 432.5V437.7M413.1 457.7V479.5M413.8 445.4V450.3M414.5 441.5V449.1M414.5 454.5V467.1M414.5 467.1V479.1M415.2 473.7V478.9M415.9 457V472.7M416.5 461.7V474.7M417.2 460.8V466M417.9 477.1V478.1M419.3 457.4V461.4M419.3 461.4V472M419.3 472V477.8M420 453.5V462.2M420 468.5V477.6M420.7 457.2V468.5M422.8 426.6V435.1M422.8 476.7V476.8M423.5 443.3V448.4M424.1 449.6V471.2M424.1 471.2V474.4M424.1 474.4V476.4M424.8 458V474.1M425.5 421.4V445.8M425.5 464.8V476M426.2 452.2V461.3M426.9 420.5V423.8M427.6 436.9V447.9M427.6 470.8V475.5M428.3 455.9V466.4M428.3 466.4V475.3M429 417.6V427.9M429 444.3V466.6M429 466.6V475.1M429.7 440.7V445.8M430.4 440.4V443.6M430.4 468.3V474.7M431.1 422.1V435.6M431.1 469.4V474.5M431.7 418.1V425.6M431.7 445.1V450M431.7 473.4V474.3M432.4 461.5V467M433.1 443.2V452.7M433.8 460.1V473.8M434.5 467.8V473.6M435.2 444.3V467.3M435.2 470.5V473.4M435.9 432.3V438.7M435.9 471.5V473.2M436.6 467.6V473M437.3 469.2V472.8M438.7 431.8V439.1M438.7 461.8V472.4M439.3 426V436.6M439.3 463.2V471.5M439.3 471.5V472.2M440 441.4V458M440 458V472M440.7 432.8V438.9M440.7 471.3V471.9M441.4 466V471.7M442.1 428.3V432.1M442.1 452V467.1M442.8 465.9V469.1M444.9 424.7V431.4M444.9 467.7V470.7M446.3 430V449.9M446.3 468.5V470.3M446.9 437.1V450M446.9 450V454.8M447.6 448.5V459.3M447.6 459.3V470M448.3 462.7V469.8M449 443V457.4M449 457.4V469.6M449.7 463.3V469.4M450.4 463.1V469.2M451.1 418.2V437.2M451.8 420.7V441.1M453.2 428V449.6M453.9 453.1V468.2M455.2 459.2V467.9M455.9 454.7V467.7M457.3 429.3V454M458 457.5V467.1M458.7 458.3V466.9M459.4 450.1V458.9M459.4 458.9V466.7M460.1 410.9V429.1M460.8 439.1V463.5M460.8 463.5V466.3M461.5 425.7V443.7M462.1 461.2V466M462.8 430.5V450.5M462.8 450.5V460.3M463.5 432.9V454.5M464.2 420.5V428.3M464.2 433.1V436.3M464.9 448.1V451.3M466.3 411.4V424.9M466.3 430.6V448M466.3 448V464.8M467.7 432.5V439.6M467.7 439.6V445.7M469.7 433.7V449.4M470.4 458.4V461.5M470.4 461.5V463.7M471.8 438.1V459.5M472.5 407.6V417.7M472.5 439.8V444.4M472.5 452.8V463.1M473.2 429V447.7M473.2 447.7V461M473.2 461V462.9M473.9 448.1V452.6M473.9 452.6V462.7M475.3 450.7V462.4M476 406.5V431.4M476.7 427.7V431.5M476.7 460.3V462M478 407.6V415M478 436.3V443.9M478.7 438V450.5M478.7 450.5V461.4M479.4 418.8V431.6M479.4 431.6V456.2M480.1 415.4V433.1M480.1 456.9V461M481.5 448.7V456.8M481.5 456.8V460.6" stroke="#3c64e0"/>
<path d="M340.3 442V447.6M341 411V425.4M341.7 415.9V419.2M342.4 415.7V425.4M345.9 403.7V411.1M346.6 429.8V436.9M347.3 424V438M351.4 397.3V403.7M352.1 397.4V400.5M352.1 422V431.5M353.5 419.5V442.3M354.9 400.9V406.9M356.3 406V430.5M358.4 415V423.2M359.7 400.5V404.3M368.1 421.4V443.1M368.1 443.1V446.9M372.9 426.7V445.8M375 414.2V438.2M375.7 423V430.2M380.5 411.8V418M381.9 429.5V443.1M384.7 420.4V441.8M384.7 441.8V451.6M386.8 441.9V447M388.9 422V426.7M388.9 426.7V443.6M389.5 418.4V442.1M395.1 421.9V437.1M395.1 470.3V474.3M395.8 442.6V452.5M397.2 433.5V444.8M397.9 438V461.6M399.2 443.5V449.2M399.2 449.2V453.6M399.9 435V454.7M399.9 454.7V458.1M400.6 424.5V432.3M407.6 426.2V441M411.7 429.9V433.2M413.1 447.2V452.3M415.9 421.3V440M415.9 450.7V457M417.2 426.1V438M417.9 423.1V445M420 420.5V432.4M420.7 468.5V474M422.8 445.2V456.3M423.5 425.8V443.3M429 427.9V444.3M430.4 443.6V459.1M434.5 447.1V467.8M435.9 460.4V465.9M437.3 422.4V446.6M438 437.5V444.1M438 444.1V449.2M438.7 420.9V424.2M442.8 413.8V425.1M448.3 428.8V439.7M449.7 433.4V439.3M450.4 426.8V447M453.9 415.9V440M455.2 437.2V444.1M455.9 430V454.7M456.6 411.2V428.2M458 451.5V457.5M458.7 428.8V433.4M459.4 442.3V450.1M465.6 421.9V427.4M467 429.2V448.8M467.7 429V432.5M470.4 444.2V458.4M472.5 417.7V423.4M472.5 423.4V439.8M474.6 430.6V445.5M478.7 418.3V438M479.4 404.7V418.8M481.5 443.6V448.7" stroke="#e0d040"/>
<path d="M340.3 447.6V448.5M342.4 407V415.7M343.8 444V450.1M344.5 420.3V425.6M344.5 438.4V441.9M346.6 426.4V429.8M350 419.6V425.1M350 444.3V451.7M350 451.7V453M350.7 443.2V453.4M351.4 403.7V418.3M351.4 448V453.7M354.9 425.1V436.9M357.7 448.3V456.6M359.7 449.8V457.6M362.5 446V458.9M363.2 455.8V459.3M364.6 428.7V439M366 449.8V460.6M368.8 413.6V428.4M370.8 449.4V457.8M371.5 428.3V436.1M372.2 410.2V427.6M373.6 450.9V457.7M376.4 447.4V465.5M381.2 465.5V467.8M384 468.2V469.1M386.8 450.7V456.2M386.8 470.1V470.4M387.5 429.9V433.9M387.5 433.9V447.2M392.3 435V443M393 463V473.3M393.7 437.8V443.7M394.4 470.9V474M395.8 432.6V442.6M396.5 470.1V475M397.2 468.8V473.9M397.9 475.2V475.6M398.6 428V445.3M398.6 445.3V459.6M402 466.9V477.6M402.7 468.4V477.3M404.1 468.9V478.6M404.8 436.9V457.8M405.5 474.1V479.2M406.2 461.9V465.4M408.3 452.2V469.4M408.3 469.4V480.5M408.9 464.8V475.3M409.6 452.2V455.4M411.7 448.4V458.7M412.4 475.2V479.7M413.1 452.3V457.7M413.8 461.3V479.3M415.9 472.7V478.7M416.5 474.7V478.5M417.2 447.8V460.8M426.2 434.7V444.6M427.6 433.4V436.9M431.7 454.9V460.9M433.1 461.4V474M433.8 417.5V439.3M435.2 467.3V470.5M435.9 465.9V471.5M436.6 437.7V444.5M438 456.2V460.2M439.3 436.6V441.3M439.3 451.8V463.2M440.7 428V432.8M440.7 438.9V450.9M440.7 450.9V471.3M441.4 450.5V466M442.8 469.1V471.3M443.5 464.4V471.1M453.9 440V453.1M457.3 454V466.8M458 423V426.2M459.4 435.2V442.3M460.1 429.1V441.1M462.8 460.3V465.8M464.2 436.3V454.8M464.2 454.8V465.4M464.9 457.3V461.4M467 423.5V429.2M467 459.1V464.6M470.4 421V439.8M476 454.5V457.7M476 457.7V462.2M476.7 431.5V435.6M476.7 451.2V460.3M478 443.9V449.4M479.4 456.2V461.2M480.8 446.8V460.8" stroke="#5a5ad0"/>
<path d="M341 396.5V411M344.5 425.6V438.4M345.2 405.3V414.3M346.6 436.9V451.4M350 440.4V444.3M352.8 427.7V439.2M354.2 397.5V414.9M354.9 417.3V425.1M355.6 434.9V441.2M356.3 398.5V401.9M356.3 434.2V441.3M357 400V407.3M357.7 422.8V432.9M358.4 423.2V442M363.2 438.7V443.6M366 419.2V439.8M366 439.8V444.8M370.1 405.6V428.7M370.8 441.4V449.4M371.5 436.1V440.1M372.9 445.8V463.8M375 464.5V464.8M377.1 434.6V438.2M377.8 421.3V430.1M377.8 452.2V460.3M378.5 413.7V432.2M381.2 419V441.1M381.9 443.1V446.9M382.6 420.2V443.2M382.6 460.4V468.4M383.3 440V450.6M384 415.3V426M384.7 451.6V468.7M386.1 469.4V470.1M388.9 468.4V471.4M391.6 422.4V426M393.7 443.7V452.9M395.8 452.5V457M398.6 459.6V462.8M399.9 430.2V435M400.6 420.1V424.5M400.6 432.3V435.9M401.3 462.9V466.2M404.1 427.5V437.1M404.1 461.8V468.9M409.6 455.4V460.3M411.7 444.7V448.4M411.7 458.7V470.7M413.8 436.7V445.4M415.2 430.5V444.2M417.2 466V478.3M418.6 463.2V475.8M418.6 475.8V477.9M419.3 423V439.8M419.3 439.8V448.5M420 462.2V468.5M421.4 438.2V455.7M422.1 474.4V477M424.1 431.8V445.3M424.8 454.9V458M424.8 474.1V476.2M426.2 444.6V452.2M428.3 418.4V443.7M429.7 463.2V474.9M431.7 460.9V473.4M432.4 444.7V461.5M435.9 438.7V460.4M437.3 417.2V422.4M438 460.2V468.9M438.7 424.2V431.8M443.5 415.1V428.2M444.2 451.9V468M446.3 449.9V468.5M449 412.1V416.7M452.5 453.6V468.6M453.2 464.3V468.4M456.6 428.2V443.1M457.3 466.8V467.3M461.5 420.5V425.7M462.1 423V442.6M465.6 427.4V451.4M468.4 439.8V448.3M469.1 413.1V427.3M477.3 417.9V423.7M478 453.6V461.6" stroke="#4a98e0"/>
<path d="M341 425.4V436.9M341.7 419.2V429.5M344.5 407.6V420.3M345.2 414.3V421M347.3 399.2V410.7M348.7 403V413.3M348.7 413.3V421.1M350.7 396.8V404.3M351.4 425.9V432.6M352.8 407.6V427.7M353.5 397.3V419.5M354.2 414.9V421.7M354.9 406.9V417.3M354.9 436.9V441.7M357 407.3V419.7M357 432.9V446.4M357.7 402.7V413.6M357.7 413.6V422.8M361.8 402.2V408.1M362.5 412.2V416.8M362.5 416.8V434.6M363.2 402.5V406.4M363.2 429V438.7M365.3 416.2V425M366.7 426.3V435.6M368.1 446.9V455.1M368.8 428.4V434.6M369.4 410.3V418M370.1 428.7V436.1M370.8 412.8V429.4M370.8 429.4V441.4M371.5 416.3V428.3M374.3 417.3V420.5M375 438.2V442.5M376.4 423.2V439.8M376.4 439.8V447.4M377.8 411.2V421.3M377.8 430.1V452.2M379.2 414V423M380.5 432.2V436M383.3 434.4V440M384 442.5V452.7M390.9 443.4V446.8M390.9 453.2V460.8M391.6 426V444M392.3 449.5V471.2M393 447.6V452.8M394.4 418.3V422.6M395.8 468.5V474.6M406.2 441.5V461.9M410.3 423.1V447.7M411.7 426.2V429.9M414.5 435.3V441.5M416.5 449.3V454.1M416.5 454.1V461.7M421.4 434.3V438.2M422.1 432.8V453.9M422.1 465V474.4M422.8 439.8V445.2M423.5 448.4V473.1M424.1 419.7V431.8M430.4 425.4V429.1M431.1 435.6V442.5M433.8 455.8V460.1M436.6 444.5V467.6M441.4 417.8V421.7M441.4 421.7V431.6M442.8 425.1V430.5M444.9 431.4V454.4M446.9 418V427.7M447.6 419.4V426M447.6 426V445.4M449 437.3V443M452.5 442.4V453.6M457.3 414.5V429.3M458.7 433.4V451.4M458.7 451.4V455.1M460.1 454.3V466.5M464.9 414.4V435.7M465.6 451.4V455.5M468.4 420.1V439.8M469.1 427.3V433.3M469.7 422.1V433.7M471.8 417.6V424.5M471.8 424.5V438.1M473.9 425V448.1M474.6 405.5V410.3M475.3 413V419.9M475.3 434.7V445.5M476.7 423.2V427.7M477.3 443.8V461.8M480.8 430.3V437.2M481.5 413V418.1" stroke="#c0c050"/>
<path d="M341.7 402.7V415.9M343.1 424.9V433.4M347.3 438V449.2M349.4 413.4V421.4M349.4 429.5V436.3M350 402.5V419.6M351.4 432.6V438.9M351.4 438.9V448M352.8 446.7V450.3M353.5 442.3V454.7M355.6 441.2V452.8M357 428V432.9M357.7 444.7V448.3M358.4 452.1V457M359.1 449.9V453.8M361.8 433.9V441.6M363.9 447.7V450.9M366.7 459.3V460.9M367.4 430.9V454.8M369.4 452.7V462.2M372.2 445.1V449.5M373.6 457.7V464.2M374.3 452.2V455.5M377.1 458.9V465.8M377.8 460.3V466.1M378.5 410.5V413.7M379.2 463.1V466.8M379.8 416.9V433.8M381.2 441.1V465.5M381.9 426.2V429.5M385.4 462.2V466.6M386.1 414.2V438.4M388.2 452.1V457.4M388.9 418.3V422M390.2 431.7V454.4M393.7 434V437.8M393.7 452.9V456.2M394.4 467.7V470.9M395.8 457V468.5M397.9 430.9V438M397.9 461.6V468.8M398.6 418.7V424.3M399.2 420.8V431.4M399.9 458.1V469.9M401.3 446.7V462.9M404.1 437.1V450.6M404.1 450.6V461.8M405.5 424.8V439.4M407.6 454.1V459.6M408.9 443.4V464.8M409.6 449V452.2M409.6 468.9V478.3M411 436.9V456.7M411.7 470.7V479.8M413.1 437.7V447.2M413.8 450.3V461.3M414.5 430.5V435.3M415.2 444.2V461.8M421.4 473V477.2M425.5 445.8V464.8M426.2 427.4V434.7M426.2 468.4V475.9M426.9 423.8V431.3M426.9 431.3V444M431.1 448.5V454.6M431.7 431.4V445.1M432.4 467V472.1M434.5 423.5V447.1M438 415.3V437.5M438 468.9V472.6M438.7 446.2V455.1M439.3 441.3V451.8M442.1 432.1V452M444.2 415.6V421.3M444.9 454.4V467.7M445.6 465.4V470.5M446.9 427.7V432.9M446.9 454.8V470.1M448.3 439.7V451.1M449.7 429V433.4M449.7 458.9V463.3M451.1 414.1V418.2M451.1 437.2V454.5M451.8 441.1V447.3M452.5 426.4V442.4M453.2 414.2V428M453.2 449.6V464.3M454.5 443.3V461.1M454.5 461.1V466.4M455.2 444.1V459.2M455.9 418.7V430M456.6 459.8V467.5M460.1 441.1V454.3M461.5 443.7V466.2M462.1 442.6V461.2M462.8 418.1V430.5M463.5 413.7V418.2M463.5 418.2V432.9M463.5 454.5V465.6M464.9 451.3V457.3M467.7 452.1V464.4M468.4 458V464.3M469.1 438.7V462.8M469.1 462.8V464.1M469.7 460.8V463.9M471.8 459.5V463.3M473.2 416V429M476.7 435.6V441.5M477.3 423.7V443.8M478.7 409.6V418.3M480.1 433.1V453.7M481.5 431V443.6" stroke="#40b0c8"/>
<path d="M343.8 407.9V428.6M352.1 400.5V422M364.6 413.8V418.2M386.8 438.6V441.9M391.6 444V468.5M393 452.8V463M399.2 453.6V458.4M400.6 435.9V459.2M402.7 433.6V438.5M402.7 464.9V468.4M403.4 434.5V453.4M404.8 457.8V464.4M406.2 465.4V473.8M410.3 451.4V469.1M417.9 445V457M420.7 446.1V452.3M421.4 455.7V465.7M428.3 443.7V451.7M429.7 433.6V437.4M429.7 437.4V440.7M430.4 429.1V440.4M433.8 439.3V455.8M441.4 431.6V450.5M454.5 423.3V443.3M460.8 430.2V439.1M480.8 437.2V446.8" stroke="#d0a860"/>
</g>
<path d="M340 448.3L408.6 480.7L408.6 479.3L340 446.9ZM408.6 480.7L481.8 460.5L481.8 459.2L408.6 479.3Z" fill="#3a38c4" opacity="0.75"/>
<path d="M340 448.3L408.6 480.7L408.6 480.1L340 447.7ZM408.6 480.7L481.8 460.5L481.8 460L408.6 480.1Z" fill="#3030b8"/>
<path d="M340 448.3L340 379.8M340 448.3L408.6 480.7L498 456.1M340 448.3h-1.2M340 436.9h-1.2M340 425.5h-1.2M340 414.1h-1.2M340 402.6h-1.2M340 391.2h-1.2M340 379.8h-1.2M408.6 480.7l-1.1 -0.5M426.5 475.8l-1.1 -0.5M444.4 470.9l-1.1 -0.5M462.2 465.9l-1.1 -0.5M480.1 461l-1.1 -0.5M498 456.1l-1.1 -0.5M408.6 480.7l1.2 -0.3M391.5 472.6l1.2 -0.3M374.3 464.5l1.2 -0.3M357.1 456.4l1.2 -0.3M340 448.3l1.2 -0.3" stroke="#4d4d4d" stroke-width="0.6" fill="none"/>
<g font-family="Liberation Sans, Arial, sans-serif" font-size="5.2" fill="#333333"><text x="336" y="449.6" text-anchor="end">0</text><text x="336" y="438.2" text-anchor="end">50</text><text x="336" y="426.8" text-anchor="end">100</text><text x="336" y="415.4" text-anchor="end">150</text><text x="336" y="403.9" text-anchor="end">200</text><text x="336" y="392.5" text-anchor="end">250</text><text x="336" y="381.1" text-anchor="end">300</text><text x="411.6" y="487.9">0</text><text x="429.5" y="483">1000</text><text x="447.4" y="478.1">2000</text><text x="465.2" y="473.1">3000</text><text x="483.1" y="468.2">4000</text><text x="501" y="463.3">5000</text><text x="404.3" y="487.9" text-anchor="end">0</text><text x="387.2" y="479.8" text-anchor="end">1000</text><text x="370" y="471.7" text-anchor="end">2000</text><text x="352.8" y="463.6" text-anchor="end">3000</text><text x="335.7" y="455.5" text-anchor="end">4000</text></g>
<g font-family="Liberation Serif, Times New Roman, serif" font-size="9.7" fill="#000"><text x="12.0" y="169.0" textLength="189.0" lengthAdjust="spacing">(a)Spatial distribution of pixels in plaintext Lena</text><text x="202.3" y="169.0" textLength="47.7" lengthAdjust="spacing"><tspan font-size="10.8">(</tspan><tspan font-size="10">256</tspan> <tspan font-size="7.5">×</tspan> <tspan font-size="10">256</tspan><tspan font-size="10.8">)</tspan></text><text x="293.3" y="169.0" textLength="194.3" lengthAdjust="spacing">(b)Spatial distribution of pixels in ciphertext Lena</text><text x="488.9" y="169.0" textLength="47.6" lengthAdjust="spacing"><tspan font-size="10.8">(</tspan><tspan font-size="10">256</tspan> <tspan font-size="7.5">×</tspan> <tspan font-size="10">256</tspan><tspan font-size="10.8">)</tspan></text><text x="8.9" y="337.9" textLength="196.7" lengthAdjust="spacing">(c)Spatial distribution of pixels in plaintext pepper</text><text x="206.3" y="337.9" textLength="47.6" lengthAdjust="spacing"><tspan font-size="10.8">(</tspan><tspan font-size="10">128</tspan> <tspan font-size="7.5">×</tspan> <tspan font-size="10">128</tspan><tspan font-size="10.8">)</tspan></text><text x="290.3" y="338.6" textLength="201.6" lengthAdjust="spacing">(d)Spatial distribution of pixels in ciphertext pepper</text><text x="492.2" y="338.6" textLength="47.1" lengthAdjust="spacing"><tspan font-size="10.8">(</tspan><tspan font-size="10">128</tspan> <tspan font-size="7.5">×</tspan> <tspan font-size="10">128</tspan><tspan font-size="10.8">)</tspan></text><text x="5.1" y="508.3" textLength="213.9" lengthAdjust="spacing">(e)Spatial distribution of pixels in plaintext cameraman</text><text x="222.1" y="508.3" textLength="34.4" lengthAdjust="spacing">(64 × 64)</text><text x="284.7" y="508.5" textLength="216.4" lengthAdjust="spacing">(f)Spatial distribution of pixels in ciphertext cameraman</text><text x="502.9" y="508.5" textLength="41.5" lengthAdjust="spacing"><tspan font-size="10.8">(</tspan><tspan font-size="10">64</tspan> <tspan font-size="7.5">×</tspan> <tspan font-size="10">64</tspan><tspan font-size="10.8">)</tspan></text></g>
</svg></body></html>
